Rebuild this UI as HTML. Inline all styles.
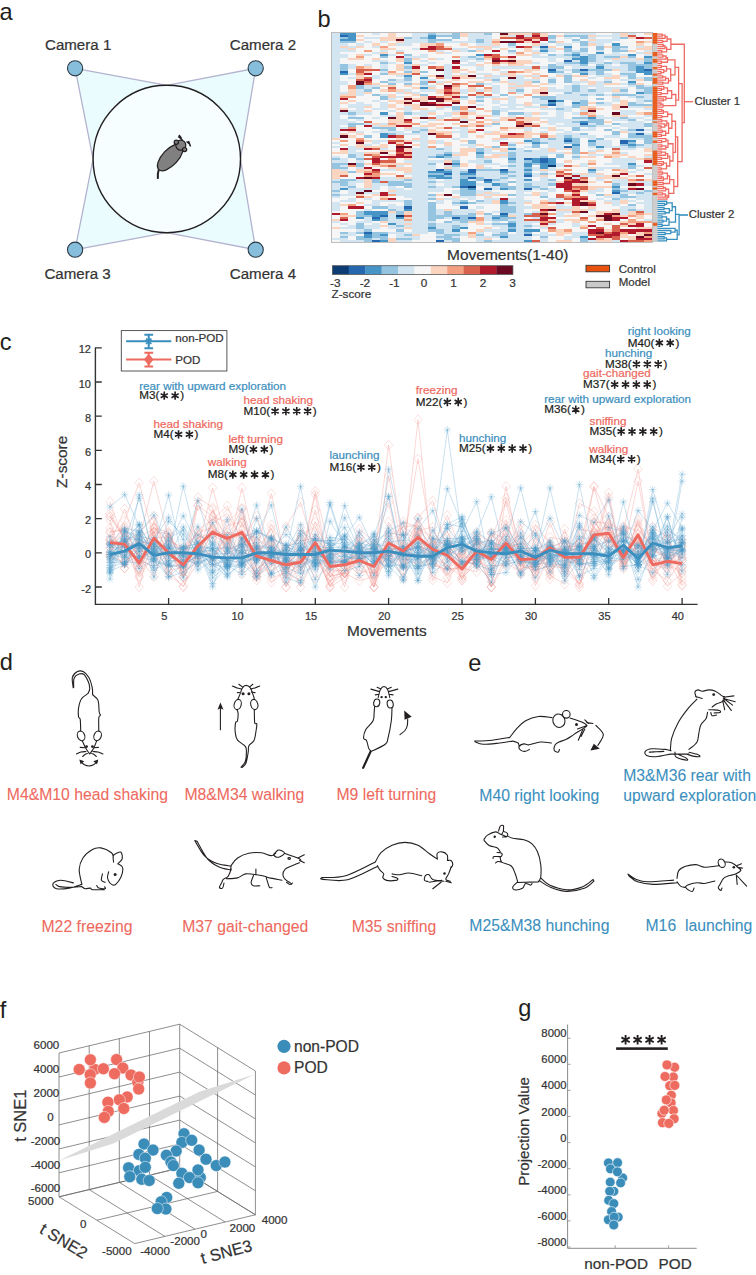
<!DOCTYPE html><html><head><meta charset="utf-8"><style>html,body{margin:0;padding:0;background:#fff;overflow:hidden;width:756px;height:1275px;}svg{display:block;}text{font-family:"Liberation Sans",sans-serif;}</style></head><body>
<svg width="756" height="1275" viewBox="0 0 756 1275">
<rect width="756" height="1275" fill="#fff"/>
<text x="-0.6" y="20.3" font-size="23.6" fill="#231f20" text-anchor="start" >a</text>
<text x="45.0" y="49.8" font-size="15.1" fill="#333" stroke="#333" stroke-width="0.22" text-anchor="start" >Camera 1</text>
<text x="229.8" y="49.8" font-size="15.1" fill="#333" stroke="#333" stroke-width="0.22" text-anchor="start" >Camera 2</text>
<text x="44.4" y="279.4" font-size="15.1" fill="#333" stroke="#333" stroke-width="0.22" text-anchor="start" >Camera 3</text>
<text x="229.8" y="279.4" font-size="15.1" fill="#333" stroke="#333" stroke-width="0.22" text-anchor="start" >Camera 4</text>
<polygon points="75.1,68.3 166.8,85.3 255.7,68.3 240.5,159.0 255.7,249.7 166.8,232.7 75.1,249.7 93.1,159.0" fill="#eafcfd" stroke="#b3b3cf" stroke-width="1.3"/>
<circle cx="166.8" cy="159.0" r="73.7" fill="#f7feff" stroke="#231f20" stroke-width="1.4"/>
<circle cx="75.1" cy="68.3" r="7.6" fill="#87bedc" stroke="#2b3a44" stroke-width="1.1"/>
<circle cx="255.7" cy="68.3" r="7.6" fill="#87bedc" stroke="#2b3a44" stroke-width="1.1"/>
<circle cx="75.1" cy="249.7" r="7.6" fill="#87bedc" stroke="#2b3a44" stroke-width="1.1"/>
<circle cx="255.7" cy="249.7" r="7.6" fill="#87bedc" stroke="#2b3a44" stroke-width="1.1"/>
<g stroke="#231f20" stroke-width="1.25" fill="#808080">
<path d="M158.8,169.5 Q157.3,174 157.9,178.8" fill="none" stroke-width="2"/>
<ellipse cx="170.3" cy="157.3" rx="16.8" ry="7.9" transform="rotate(-47 170.3 157.3)"/>
<circle cx="180.8" cy="145.2" r="5.0"/>
<circle cx="176.3" cy="142.3" r="2.1"/><circle cx="184.6" cy="149.6" r="2.1"/>
<path d="M178.2,136.5 L182.5,140 M179,135 L181.5,138.5 M186.5,141.5 L190,144.5 M188.5,141 L190.5,146.5" fill="none" stroke-width="1.5"/>
</g>
<text x="317.6" y="26.6" font-size="23.6" fill="#231f20" text-anchor="start" >b</text>
<g transform="translate(332.0,33.0) scale(8.0000,2.0900)" shape-rendering="crispEdges">
<path fill="#0d3b73" d="M27,32h1v1h-1zM27,63h1v1h-1zM17,73h1v1h-1zM8,87h1v1h-1z"/>
<path fill="#2668b0" d="M1,1h1v1h-1zM26,6h1v1h-1zM29,13h1v1h-1zM27,17h1v1h-1zM31,17h1v1h-1zM39,17h1v1h-1zM1,18h1v1h-1zM27,34h1v1h-1zM31,43h1v1h-1zM38,46h1v1h-1zM38,48h1v1h-1zM29,51h1v1h-1zM36,51h1v1h-1zM36,52h1v1h-1zM29,54h1v1h-1zM24,60h1v1h-1zM26,60h1v1h-1zM26,61h1v1h-1zM13,65h1v1h-1zM17,65h1v1h-1zM21,65h1v1h-1zM17,66h1v1h-1zM14,67h1v1h-1zM24,68h1v1h-1zM17,69h1v1h-1zM19,70h1v1h-1zM16,73h1v1h-1zM19,74h1v1h-1zM24,74h1v1h-1zM35,76h1v1h-1zM9,83h1v1h-1zM16,83h1v1h-1zM21,86h1v1h-1zM6,87h1v1h-1zM5,88h1v1h-1zM15,88h1v1h-1zM17,88h1v1h-1zM4,95h1v1h-1zM24,96h1v1h-1zM5,99h1v1h-1zM13,99h1v1h-1z"/>
<path fill="#4794c7" d="M1,0h2v1h-2zM2,1h1v1h-1zM12,1h1v1h-1zM2,2h1v1h-1zM12,2h1v1h-1zM1,3h2v1h-2zM35,5h1v1h-1zM29,6h1v1h-1zM26,8h1v1h-1zM33,9h1v1h-1zM6,10h1v1h-1zM18,10h1v1h-1zM30,10h1v1h-1zM37,10h1v1h-1zM31,11h1v1h-1zM39,11h1v1h-1zM30,12h2v1h-2zM31,13h1v1h-1zM9,14h1v1h-1zM31,14h1v1h-1zM39,14h1v1h-1zM33,16h1v1h-1zM38,16h1v1h-1zM38,17h1v1h-1zM27,18h1v1h-1zM38,18h2v1h-2zM1,19h1v1h-1zM31,19h1v1h-1zM39,19h1v1h-1zM9,20h1v1h-1zM11,21h1v1h-1zM37,23h1v1h-1zM11,26h1v1h-1zM38,28h1v1h-1zM28,32h1v1h-1zM27,33h1v1h-1zM30,33h1v1h-1zM6,38h1v1h-1zM32,40h1v1h-1zM31,42h1v1h-1zM6,48h1v1h-1zM6,49h1v1h-1zM29,50h1v1h-1zM24,51h1v1h-1zM32,51h1v1h-1zM37,51h1v1h-1zM25,52h1v1h-1zM30,53h1v1h-1zM37,53h1v1h-1zM33,54h1v1h-1zM22,55h1v1h-1zM18,57h1v1h-1zM14,58h1v1h-1zM13,59h1v1h-1zM22,60h1v1h-1zM25,60h1v1h-1zM27,60h1v1h-1zM25,61h1v1h-1zM27,61h1v1h-1zM15,62h1v1h-1zM24,62h1v1h-1zM26,62h2v1h-2zM37,62h1v1h-1zM24,63h1v1h-1zM26,63h1v1h-1zM26,64h1v1h-1zM24,65h1v1h-1zM32,65h1v1h-1zM12,66h3v1h-3zM21,66h1v1h-1zM16,67h2v1h-2zM24,67h1v1h-1zM12,68h2v1h-2zM13,69h2v1h-2zM16,70h1v1h-1zM24,70h1v1h-1zM16,71h2v1h-2zM19,71h1v1h-1zM16,72h2v1h-2zM20,72h1v1h-1zM35,73h1v1h-1zM1,74h1v1h-1zM17,74h1v1h-1zM21,74h1v1h-1zM35,75h1v1h-1zM21,80h1v1h-1zM16,81h1v1h-1zM21,81h1v1h-1zM9,84h1v1h-1zM4,85h3v1h-3zM4,86h3v1h-3zM5,87h1v1h-1zM21,87h1v1h-1zM3,88h1v1h-1zM8,88h1v1h-1zM20,88h1v1h-1zM5,89h1v1h-1zM7,91h1v1h-1zM22,91h1v1h-1zM22,92h1v1h-1zM12,93h1v1h-1zM16,93h1v1h-1zM15,94h1v1h-1zM22,94h1v1h-1zM24,94h2v1h-2zM4,96h1v1h-1zM6,96h1v1h-1zM4,97h1v1h-1zM21,97h1v1h-1zM31,97h1v1h-1zM6,99h1v1h-1zM24,99h1v1h-1z"/>
<path fill="#94c4df" d="M12,0h1v1h-1zM15,0h1v1h-1zM19,0h1v1h-1zM13,1h3v1h-3zM27,1h1v1h-1zM29,1h3v1h-3zM1,2h1v1h-1zM9,2h1v1h-1zM11,2h1v1h-1zM15,2h1v1h-1zM27,2h1v1h-1zM31,2h1v1h-1zM36,2h1v1h-1zM12,3h3v1h-3zM18,3h1v1h-1zM30,3h1v1h-1zM1,4h2v1h-2zM12,4h1v1h-1zM18,4h1v1h-1zM27,4h1v1h-1zM31,4h1v1h-1zM22,5h1v1h-1zM31,5h1v1h-1zM33,6h1v1h-1zM35,6h2v1h-2zM26,7h1v1h-1zM29,7h1v1h-1zM31,7h1v1h-1zM33,7h1v1h-1zM35,7h1v1h-1zM17,8h1v1h-1zM22,8h1v1h-1zM29,8h1v1h-1zM31,8h1v1h-1zM35,8h2v1h-2zM30,9h1v1h-1zM9,10h1v1h-1zM27,10h1v1h-1zM29,10h1v1h-1zM32,10h1v1h-1zM6,11h1v1h-1zM17,11h1v1h-1zM30,11h1v1h-1zM32,11h1v1h-1zM34,11h2v1h-2zM37,11h1v1h-1zM9,12h1v1h-1zM18,12h1v1h-1zM32,12h1v1h-1zM39,12h1v1h-1zM9,13h1v1h-1zM32,13h1v1h-1zM39,13h1v1h-1zM6,14h1v1h-1zM29,14h2v1h-2zM34,14h1v1h-1zM36,14h2v1h-2zM1,15h1v1h-1zM27,15h1v1h-1zM31,15h1v1h-1zM33,15h1v1h-1zM37,15h3v1h-3zM1,16h1v1h-1zM9,16h1v1h-1zM27,16h2v1h-2zM37,16h1v1h-1zM39,16h1v1h-1zM1,17h1v1h-1zM6,17h1v1h-1zM30,17h1v1h-1zM32,17h3v1h-3zM37,17h1v1h-1zM9,18h1v1h-1zM11,18h1v1h-1zM28,18h1v1h-1zM30,18h2v1h-2zM33,18h1v1h-1zM6,19h1v1h-1zM33,19h1v1h-1zM36,19h2v1h-2zM29,20h1v1h-1zM37,20h1v1h-1zM9,21h1v1h-1zM29,21h1v1h-1zM37,21h1v1h-1zM39,21h1v1h-1zM7,22h1v1h-1zM9,22h1v1h-1zM20,22h1v1h-1zM27,22h1v1h-1zM29,22h1v1h-1zM39,22h1v1h-1zM6,23h1v1h-1zM11,23h1v1h-1zM25,23h1v1h-1zM27,23h1v1h-1zM29,23h1v1h-1zM34,23h1v1h-1zM7,24h1v1h-1zM9,24h1v1h-1zM11,24h1v1h-1zM18,24h1v1h-1zM37,24h1v1h-1zM3,25h1v1h-1zM30,25h1v1h-1zM38,25h1v1h-1zM3,26h1v1h-1zM5,26h1v1h-1zM30,26h1v1h-1zM38,26h2v1h-2zM4,27h1v1h-1zM23,27h1v1h-1zM30,27h1v1h-1zM32,27h1v1h-1zM36,27h1v1h-1zM39,27h1v1h-1zM29,28h1v1h-1zM39,28h1v1h-1zM5,29h1v1h-1zM11,29h1v1h-1zM21,29h1v1h-1zM31,29h1v1h-1zM33,29h1v1h-1zM35,29h3v1h-3zM6,30h1v1h-1zM16,30h1v1h-1zM18,30h1v1h-1zM25,30h3v1h-3zM38,30h1v1h-1zM6,31h1v1h-1zM26,31h2v1h-2zM33,31h1v1h-1zM18,32h1v1h-1zM31,32h1v1h-1zM39,32h1v1h-1zM31,33h1v1h-1zM33,33h1v1h-1zM37,33h1v1h-1zM26,34h1v1h-1zM30,34h2v1h-2zM37,34h3v1h-3zM15,35h1v1h-1zM30,35h1v1h-1zM15,36h1v1h-1zM28,36h1v1h-1zM20,37h1v1h-1zM2,38h1v1h-1zM9,38h1v1h-1zM20,38h1v1h-1zM22,38h2v1h-2zM2,40h2v1h-2zM30,40h2v1h-2zM36,40h1v1h-1zM32,41h2v1h-2zM37,41h1v1h-1zM30,42h1v1h-1zM32,42h2v1h-2zM2,43h2v1h-2zM20,43h1v1h-1zM33,43h1v1h-1zM35,43h1v1h-1zM39,43h1v1h-1zM2,44h1v1h-1zM31,44h2v1h-2zM39,44h1v1h-1zM5,45h3v1h-3zM30,45h1v1h-1zM7,46h1v1h-1zM11,46h1v1h-1zM30,46h1v1h-1zM34,46h1v1h-1zM37,46h1v1h-1zM10,47h1v1h-1zM35,47h1v1h-1zM7,48h1v1h-1zM31,48h1v1h-1zM35,48h1v1h-1zM37,48h1v1h-1zM4,49h1v1h-1zM29,49h1v1h-1zM37,49h3v1h-3zM25,50h1v1h-1zM27,50h1v1h-1zM30,50h1v1h-1zM33,50h1v1h-1zM39,50h1v1h-1zM17,51h1v1h-1zM25,51h1v1h-1zM30,51h1v1h-1zM39,51h1v1h-1zM17,52h1v1h-1zM26,52h1v1h-1zM29,52h2v1h-2zM32,52h1v1h-1zM37,52h1v1h-1zM39,52h1v1h-1zM22,53h1v1h-1zM25,53h1v1h-1zM32,53h1v1h-1zM36,53h1v1h-1zM38,53h1v1h-1zM20,54h1v1h-1zM25,54h1v1h-1zM30,54h1v1h-1zM37,54h1v1h-1zM13,55h1v1h-1zM18,55h1v1h-1zM30,55h1v1h-1zM18,56h1v1h-1zM24,56h1v1h-1zM30,56h1v1h-1zM14,57h1v1h-1zM22,57h1v1h-1zM30,57h1v1h-1zM2,58h1v1h-1zM13,58h1v1h-1zM18,58h1v1h-1zM22,58h1v1h-1zM28,58h1v1h-1zM2,59h1v1h-1zM12,59h1v1h-1zM14,59h1v1h-1zM18,59h1v1h-1zM22,59h1v1h-1zM26,59h1v1h-1zM28,59h1v1h-1zM30,59h1v1h-1zM0,60h1v1h-1zM3,60h1v1h-1zM15,61h1v1h-1zM19,61h1v1h-1zM22,61h1v1h-1zM24,61h1v1h-1zM0,62h2v1h-2zM3,62h1v1h-1zM12,62h1v1h-1zM25,62h1v1h-1zM0,63h1v1h-1zM3,63h1v1h-1zM15,63h1v1h-1zM22,63h1v1h-1zM37,63h1v1h-1zM0,64h2v1h-2zM24,64h1v1h-1zM37,64h1v1h-1zM14,65h1v1h-1zM18,65h3v1h-3zM2,66h1v1h-1zM16,66h1v1h-1zM22,66h1v1h-1zM24,66h1v1h-1zM32,66h1v1h-1zM12,67h2v1h-2zM21,67h1v1h-1zM26,67h1v1h-1zM14,68h1v1h-1zM16,68h2v1h-2zM22,68h1v1h-1zM12,69h1v1h-1zM16,69h1v1h-1zM18,69h1v1h-1zM21,69h1v1h-1zM1,70h2v1h-2zM5,70h1v1h-1zM9,70h1v1h-1zM18,70h1v1h-1zM20,70h1v1h-1zM27,70h1v1h-1zM0,71h2v1h-2zM5,71h1v1h-1zM7,71h2v1h-2zM12,71h1v1h-1zM22,71h1v1h-1zM1,72h1v1h-1zM7,72h3v1h-3zM21,72h1v1h-1zM24,72h1v1h-1zM27,72h1v1h-1zM35,72h1v1h-1zM2,73h1v1h-1zM9,73h1v1h-1zM12,73h1v1h-1zM15,73h1v1h-1zM21,73h2v1h-2zM24,73h2v1h-2zM16,74h1v1h-1zM22,74h1v1h-1zM26,74h1v1h-1zM35,74h1v1h-1zM0,75h1v1h-1zM16,75h2v1h-2zM36,75h1v1h-1zM39,75h1v1h-1zM16,76h2v1h-2zM38,76h1v1h-1zM0,77h1v1h-1zM12,77h1v1h-1zM16,77h2v1h-2zM22,77h1v1h-1zM33,77h1v1h-1zM36,77h1v1h-1zM26,78h1v1h-1zM36,78h2v1h-2zM12,79h1v1h-1zM35,79h1v1h-1zM9,80h1v1h-1zM16,80h1v1h-1zM18,80h1v1h-1zM9,81h1v1h-1zM12,81h1v1h-1zM15,81h1v1h-1zM17,81h1v1h-1zM22,81h1v1h-1zM9,82h1v1h-1zM12,82h1v1h-1zM21,82h1v1h-1zM37,82h1v1h-1zM5,83h2v1h-2zM12,83h1v1h-1zM21,83h2v1h-2zM7,84h1v1h-1zM12,84h1v1h-1zM21,84h2v1h-2zM37,84h1v1h-1zM3,85h1v1h-1zM8,85h1v1h-1zM12,85h1v1h-1zM14,85h1v1h-1zM21,85h2v1h-2zM3,86h1v1h-1zM8,86h1v1h-1zM12,86h1v1h-1zM14,86h1v1h-1zM17,86h1v1h-1zM19,86h1v1h-1zM24,86h1v1h-1zM3,87h2v1h-2zM12,87h6v1h-6zM20,87h1v1h-1zM6,88h1v1h-1zM12,88h2v1h-2zM16,88h1v1h-1zM21,88h2v1h-2zM6,89h1v1h-1zM12,89h1v1h-1zM15,89h3v1h-3zM20,89h2v1h-2zM14,90h1v1h-1zM16,90h1v1h-1zM22,90h1v1h-1zM3,91h1v1h-1zM12,91h1v1h-1zM20,91h2v1h-2zM3,92h1v1h-1zM8,92h1v1h-1zM12,92h1v1h-1zM15,92h1v1h-1zM24,92h1v1h-1zM3,93h1v1h-1zM15,93h1v1h-1zM22,93h1v1h-1zM4,94h1v1h-1zM8,94h1v1h-1zM12,94h2v1h-2zM1,95h1v1h-1zM3,95h1v1h-1zM5,95h2v1h-2zM13,95h1v1h-1zM21,95h1v1h-1zM24,95h1v1h-1zM5,96h1v1h-1zM9,96h1v1h-1zM14,96h2v1h-2zM18,96h1v1h-1zM20,96h2v1h-2zM1,97h1v1h-1zM3,97h1v1h-1zM5,97h2v1h-2zM13,97h2v1h-2zM26,97h1v1h-1zM3,98h2v1h-2zM6,98h1v1h-1zM8,98h2v1h-2zM14,98h2v1h-2zM31,98h1v1h-1zM4,99h1v1h-1zM15,99h1v1h-1zM19,99h1v1h-1zM31,99h1v1h-1z"/>
<path fill="#d2e5f1" d="M0,0h1v1h-1zM5,0h1v1h-1zM10,0h2v1h-2zM13,0h2v1h-2zM17,0h2v1h-2zM29,0h4v1h-4zM35,0h1v1h-1zM37,0h1v1h-1zM0,1h1v1h-1zM10,1h2v1h-2zM17,1h3v1h-3zM22,1h1v1h-1zM24,1h1v1h-1zM33,1h3v1h-3zM0,2h1v1h-1zM4,2h2v1h-2zM10,2h1v1h-1zM17,2h3v1h-3zM29,2h1v1h-1zM32,2h1v1h-1zM35,2h1v1h-1zM0,3h1v1h-1zM9,3h3v1h-3zM17,3h1v1h-1zM19,3h1v1h-1zM27,3h1v1h-1zM33,3h3v1h-3zM0,4h1v1h-1zM4,4h1v1h-1zM6,4h1v1h-1zM9,4h3v1h-3zM13,4h5v1h-5zM19,4h1v1h-1zM30,4h1v1h-1zM32,4h3v1h-3zM0,5h2v1h-2zM3,5h1v1h-1zM8,5h2v1h-2zM18,5h2v1h-2zM26,5h1v1h-1zM28,5h2v1h-2zM33,5h1v1h-1zM0,6h1v1h-1zM2,6h1v1h-1zM5,6h1v1h-1zM20,6h1v1h-1zM22,6h1v1h-1zM25,6h1v1h-1zM31,6h1v1h-1zM38,6h1v1h-1zM0,7h2v1h-2zM10,7h1v1h-1zM15,7h2v1h-2zM18,7h1v1h-1zM27,7h1v1h-1zM36,7h1v1h-1zM0,8h3v1h-3zM6,8h1v1h-1zM8,8h1v1h-1zM13,8h1v1h-1zM16,8h1v1h-1zM25,8h1v1h-1zM27,8h1v1h-1zM30,8h1v1h-1zM33,8h1v1h-1zM39,8h1v1h-1zM0,9h1v1h-1zM5,9h1v1h-1zM14,9h1v1h-1zM22,9h1v1h-1zM26,9h1v1h-1zM29,9h1v1h-1zM31,9h1v1h-1zM35,9h1v1h-1zM38,9h1v1h-1zM0,10h2v1h-2zM4,10h1v1h-1zM7,10h1v1h-1zM11,10h1v1h-1zM25,10h1v1h-1zM28,10h1v1h-1zM31,10h1v1h-1zM33,10h4v1h-4zM39,10h1v1h-1zM0,11h2v1h-2zM9,11h3v1h-3zM16,11h1v1h-1zM18,11h1v1h-1zM25,11h5v1h-5zM33,11h1v1h-1zM0,12h1v1h-1zM13,12h1v1h-1zM16,12h2v1h-2zM27,12h1v1h-1zM29,12h1v1h-1zM33,12h2v1h-2zM36,12h2v1h-2zM0,13h1v1h-1zM5,13h2v1h-2zM11,13h1v1h-1zM16,13h1v1h-1zM18,13h1v1h-1zM27,13h1v1h-1zM30,13h1v1h-1zM33,13h1v1h-1zM35,13h4v1h-4zM0,14h1v1h-1zM7,14h1v1h-1zM12,14h1v1h-1zM17,14h1v1h-1zM25,14h1v1h-1zM28,14h1v1h-1zM32,14h2v1h-2zM35,14h1v1h-1zM38,14h1v1h-1zM0,15h1v1h-1zM2,15h1v1h-1zM4,15h1v1h-1zM6,15h1v1h-1zM9,15h1v1h-1zM11,15h1v1h-1zM14,15h1v1h-1zM16,15h2v1h-2zM28,15h3v1h-3zM34,15h1v1h-1zM36,15h1v1h-1zM0,16h1v1h-1zM2,16h1v1h-1zM6,16h1v1h-1zM14,16h1v1h-1zM18,16h1v1h-1zM20,16h5v1h-5zM26,16h1v1h-1zM30,16h3v1h-3zM34,16h3v1h-3zM0,17h1v1h-1zM9,17h1v1h-1zM14,17h1v1h-1zM18,17h1v1h-1zM28,17h2v1h-2zM36,17h1v1h-1zM0,18h1v1h-1zM6,18h1v1h-1zM14,18h1v1h-1zM21,18h1v1h-1zM32,18h1v1h-1zM36,18h2v1h-2zM0,19h1v1h-1zM2,19h1v1h-1zM14,19h1v1h-1zM16,19h1v1h-1zM18,19h2v1h-2zM28,19h2v1h-2zM32,19h1v1h-1zM34,19h1v1h-1zM0,20h1v1h-1zM5,20h1v1h-1zM8,20h1v1h-1zM11,20h1v1h-1zM14,20h1v1h-1zM20,20h2v1h-2zM23,20h1v1h-1zM25,20h1v1h-1zM33,20h2v1h-2zM36,20h1v1h-1zM0,21h1v1h-1zM2,21h1v1h-1zM5,21h1v1h-1zM14,21h1v1h-1zM18,21h3v1h-3zM23,21h1v1h-1zM27,21h1v1h-1zM32,21h1v1h-1zM38,21h1v1h-1zM0,22h1v1h-1zM8,22h1v1h-1zM11,22h2v1h-2zM22,22h4v1h-4zM34,22h1v1h-1zM36,22h2v1h-2zM0,23h2v1h-2zM7,23h3v1h-3zM13,23h1v1h-1zM20,23h1v1h-1zM22,23h2v1h-2zM30,23h2v1h-2zM33,23h1v1h-1zM0,24h2v1h-2zM19,24h1v1h-1zM23,24h1v1h-1zM27,24h1v1h-1zM30,24h1v1h-1zM33,24h1v1h-1zM36,24h1v1h-1zM0,25h1v1h-1zM4,25h2v1h-2zM11,25h2v1h-2zM20,25h1v1h-1zM22,25h1v1h-1zM29,25h1v1h-1zM31,25h3v1h-3zM37,25h1v1h-1zM39,25h1v1h-1zM0,26h1v1h-1zM4,26h1v1h-1zM20,26h1v1h-1zM23,26h1v1h-1zM27,26h1v1h-1zM29,26h1v1h-1zM31,26h1v1h-1zM33,26h4v1h-4zM0,27h1v1h-1zM3,27h1v1h-1zM9,27h1v1h-1zM11,27h2v1h-2zM16,27h1v1h-1zM18,27h1v1h-1zM20,27h1v1h-1zM22,27h1v1h-1zM27,27h3v1h-3zM31,27h1v1h-1zM33,27h2v1h-2zM38,27h1v1h-1zM0,28h2v1h-2zM3,28h1v1h-1zM8,28h1v1h-1zM10,28h1v1h-1zM16,28h1v1h-1zM20,28h1v1h-1zM23,28h1v1h-1zM30,28h4v1h-4zM35,28h2v1h-2zM0,29h1v1h-1zM3,29h1v1h-1zM6,29h1v1h-1zM28,29h3v1h-3zM32,29h1v1h-1zM34,29h1v1h-1zM38,29h2v1h-2zM0,30h1v1h-1zM8,30h1v1h-1zM19,30h2v1h-2zM22,30h1v1h-1zM28,30h4v1h-4zM37,30h1v1h-1zM39,30h1v1h-1zM0,31h1v1h-1zM7,31h1v1h-1zM16,31h1v1h-1zM18,31h1v1h-1zM22,31h1v1h-1zM25,31h1v1h-1zM28,31h4v1h-4zM35,31h1v1h-1zM38,31h2v1h-2zM0,32h1v1h-1zM5,32h1v1h-1zM20,32h1v1h-1zM22,32h1v1h-1zM25,32h2v1h-2zM30,32h1v1h-1zM35,32h1v1h-1zM38,32h1v1h-1zM0,33h1v1h-1zM3,33h1v1h-1zM6,33h1v1h-1zM20,33h1v1h-1zM22,33h1v1h-1zM25,33h2v1h-2zM28,33h1v1h-1zM34,33h1v1h-1zM38,33h1v1h-1zM0,34h1v1h-1zM2,34h3v1h-3zM6,34h1v1h-1zM18,34h1v1h-1zM21,34h3v1h-3zM28,34h1v1h-1zM33,34h2v1h-2zM0,35h1v1h-1zM2,35h2v1h-2zM6,35h1v1h-1zM9,35h1v1h-1zM14,35h1v1h-1zM20,35h1v1h-1zM22,35h1v1h-1zM24,35h2v1h-2zM28,35h2v1h-2zM37,35h2v1h-2zM0,36h1v1h-1zM3,36h1v1h-1zM5,36h2v1h-2zM9,36h1v1h-1zM13,36h1v1h-1zM20,36h4v1h-4zM26,36h2v1h-2zM29,36h1v1h-1zM39,36h1v1h-1zM0,37h1v1h-1zM2,37h2v1h-2zM7,37h1v1h-1zM9,37h1v1h-1zM11,37h2v1h-2zM15,37h1v1h-1zM17,37h1v1h-1zM21,37h1v1h-1zM28,37h2v1h-2zM31,37h1v1h-1zM36,37h2v1h-2zM0,38h2v1h-2zM3,38h2v1h-2zM10,38h2v1h-2zM14,38h1v1h-1zM24,38h1v1h-1zM26,38h1v1h-1zM28,38h1v1h-1zM30,38h1v1h-1zM36,38h2v1h-2zM0,39h1v1h-1zM2,39h1v1h-1zM6,39h2v1h-2zM11,39h1v1h-1zM13,39h2v1h-2zM20,39h1v1h-1zM22,39h1v1h-1zM24,39h1v1h-1zM28,39h1v1h-1zM31,39h1v1h-1zM33,39h1v1h-1zM39,39h1v1h-1zM0,40h1v1h-1zM5,40h1v1h-1zM13,40h1v1h-1zM26,40h3v1h-3zM33,40h3v1h-3zM37,40h2v1h-2zM0,41h2v1h-2zM3,41h1v1h-1zM12,41h1v1h-1zM16,41h1v1h-1zM20,41h1v1h-1zM27,41h5v1h-5zM35,41h2v1h-2zM39,41h1v1h-1zM0,42h3v1h-3zM11,42h1v1h-1zM27,42h3v1h-3zM37,42h2v1h-2zM0,43h2v1h-2zM4,43h1v1h-1zM6,43h1v1h-1zM27,43h1v1h-1zM29,43h2v1h-2zM32,43h1v1h-1zM36,43h3v1h-3zM0,44h1v1h-1zM5,44h1v1h-1zM19,44h1v1h-1zM28,44h3v1h-3zM33,44h2v1h-2zM36,44h3v1h-3zM0,45h2v1h-2zM10,45h2v1h-2zM15,45h2v1h-2zM24,45h1v1h-1zM26,45h1v1h-1zM32,45h1v1h-1zM35,45h1v1h-1zM37,45h2v1h-2zM0,46h1v1h-1zM6,46h1v1h-1zM9,46h2v1h-2zM16,46h1v1h-1zM24,46h1v1h-1zM28,46h1v1h-1zM31,46h2v1h-2zM36,46h1v1h-1zM39,46h1v1h-1zM0,47h1v1h-1zM3,47h1v1h-1zM5,47h4v1h-4zM11,47h1v1h-1zM15,47h2v1h-2zM19,47h1v1h-1zM26,47h1v1h-1zM29,47h1v1h-1zM37,47h2v1h-2zM0,48h1v1h-1zM8,48h4v1h-4zM16,48h1v1h-1zM28,48h3v1h-3zM39,48h1v1h-1zM0,49h1v1h-1zM11,49h1v1h-1zM16,49h1v1h-1zM28,49h1v1h-1zM30,49h3v1h-3zM34,49h2v1h-2zM11,50h1v1h-1zM15,50h1v1h-1zM21,50h1v1h-1zM24,50h1v1h-1zM26,50h1v1h-1zM28,50h1v1h-1zM32,50h1v1h-1zM36,50h3v1h-3zM5,51h2v1h-2zM10,51h2v1h-2zM13,51h1v1h-1zM20,51h1v1h-1zM26,51h3v1h-3zM33,51h2v1h-2zM0,52h1v1h-1zM5,52h1v1h-1zM11,52h1v1h-1zM13,52h1v1h-1zM22,52h1v1h-1zM24,52h1v1h-1zM27,52h2v1h-2zM33,52h2v1h-2zM4,53h1v1h-1zM11,53h1v1h-1zM16,53h2v1h-2zM27,53h2v1h-2zM33,53h2v1h-2zM39,53h1v1h-1zM0,54h1v1h-1zM2,54h1v1h-1zM11,54h1v1h-1zM14,54h1v1h-1zM17,54h1v1h-1zM22,54h1v1h-1zM24,54h1v1h-1zM27,54h2v1h-2zM32,54h1v1h-1zM34,54h3v1h-3zM38,54h2v1h-2zM2,55h2v1h-2zM6,55h1v1h-1zM10,55h3v1h-3zM14,55h1v1h-1zM19,55h1v1h-1zM23,55h1v1h-1zM26,55h1v1h-1zM28,55h1v1h-1zM33,55h1v1h-1zM36,55h2v1h-2zM2,56h1v1h-1zM10,56h5v1h-5zM19,56h1v1h-1zM22,56h2v1h-2zM25,56h2v1h-2zM32,56h1v1h-1zM2,57h2v1h-2zM10,57h4v1h-4zM15,57h1v1h-1zM19,57h3v1h-3zM23,57h6v1h-6zM36,57h1v1h-1zM3,58h1v1h-1zM10,58h3v1h-3zM23,58h4v1h-4zM30,58h1v1h-1zM32,58h2v1h-2zM0,59h1v1h-1zM3,59h1v1h-1zM10,59h2v1h-2zM15,59h1v1h-1zM21,59h1v1h-1zM23,59h3v1h-3zM39,59h1v1h-1zM1,60h1v1h-1zM10,60h2v1h-2zM14,60h2v1h-2zM18,60h2v1h-2zM23,60h1v1h-1zM30,60h1v1h-1zM35,60h3v1h-3zM0,61h2v1h-2zM3,61h1v1h-1zM9,61h5v1h-5zM17,61h2v1h-2zM23,61h1v1h-1zM35,61h3v1h-3zM10,62h2v1h-2zM18,62h3v1h-3zM22,62h2v1h-2zM28,62h1v1h-1zM31,62h1v1h-1zM34,62h3v1h-3zM1,63h1v1h-1zM8,63h1v1h-1zM10,63h3v1h-3zM14,63h1v1h-1zM21,63h1v1h-1zM23,63h1v1h-1zM28,63h1v1h-1zM31,63h1v1h-1zM36,63h1v1h-1zM38,63h1v1h-1zM3,64h1v1h-1zM10,64h3v1h-3zM15,64h1v1h-1zM19,64h1v1h-1zM22,64h2v1h-2zM25,64h1v1h-1zM27,64h1v1h-1zM33,64h4v1h-4zM1,65h1v1h-1zM6,65h2v1h-2zM10,65h3v1h-3zM15,65h2v1h-2zM22,65h2v1h-2zM25,65h1v1h-1zM27,65h1v1h-1zM33,65h1v1h-1zM38,65h1v1h-1zM10,66h2v1h-2zM15,66h1v1h-1zM18,66h3v1h-3zM23,66h1v1h-1zM26,66h1v1h-1zM37,66h1v1h-1zM9,67h3v1h-3zM15,67h1v1h-1zM18,67h3v1h-3zM22,67h2v1h-2zM25,67h1v1h-1zM27,67h1v1h-1zM30,67h1v1h-1zM32,67h1v1h-1zM39,67h1v1h-1zM10,68h2v1h-2zM15,68h1v1h-1zM18,68h4v1h-4zM23,68h1v1h-1zM25,68h1v1h-1zM31,68h3v1h-3zM6,69h2v1h-2zM10,69h2v1h-2zM15,69h1v1h-1zM19,69h2v1h-2zM22,69h3v1h-3zM26,69h1v1h-1zM30,69h1v1h-1zM0,70h1v1h-1zM3,70h1v1h-1zM6,70h3v1h-3zM10,70h3v1h-3zM14,70h2v1h-2zM17,70h1v1h-1zM21,70h1v1h-1zM23,70h1v1h-1zM26,70h1v1h-1zM33,70h1v1h-1zM35,70h2v1h-2zM2,71h2v1h-2zM9,71h3v1h-3zM13,71h3v1h-3zM20,71h2v1h-2zM23,71h5v1h-5zM35,71h2v1h-2zM38,71h2v1h-2zM0,72h1v1h-1zM2,72h1v1h-1zM5,72h2v1h-2zM10,72h3v1h-3zM14,72h2v1h-2zM18,72h2v1h-2zM23,72h1v1h-1zM25,72h2v1h-2zM36,72h1v1h-1zM39,72h1v1h-1zM0,73h2v1h-2zM5,73h1v1h-1zM7,73h1v1h-1zM10,73h2v1h-2zM13,73h2v1h-2zM19,73h2v1h-2zM23,73h1v1h-1zM26,73h1v1h-1zM0,74h1v1h-1zM2,74h4v1h-4zM7,74h2v1h-2zM10,74h4v1h-4zM20,74h1v1h-1zM23,74h1v1h-1zM25,74h1v1h-1zM27,74h1v1h-1zM33,74h1v1h-1zM36,74h1v1h-1zM2,75h2v1h-2zM8,75h6v1h-6zM15,75h1v1h-1zM18,75h2v1h-2zM23,75h2v1h-2zM27,75h1v1h-1zM32,75h2v1h-2zM37,75h2v1h-2zM0,76h1v1h-1zM2,76h1v1h-1zM4,76h2v1h-2zM7,76h5v1h-5zM15,76h1v1h-1zM18,76h1v1h-1zM20,76h1v1h-1zM23,76h1v1h-1zM26,76h1v1h-1zM32,76h1v1h-1zM36,76h2v1h-2zM39,76h1v1h-1zM1,77h2v1h-2zM8,77h4v1h-4zM19,77h1v1h-1zM23,77h2v1h-2zM26,77h1v1h-1zM35,77h1v1h-1zM38,77h2v1h-2zM0,78h1v1h-1zM9,78h4v1h-4zM16,78h2v1h-2zM23,78h1v1h-1zM34,78h2v1h-2zM38,78h2v1h-2zM2,79h1v1h-1zM4,79h1v1h-1zM10,79h2v1h-2zM14,79h2v1h-2zM17,79h1v1h-1zM19,79h2v1h-2zM22,79h2v1h-2zM27,79h2v1h-2zM33,79h1v1h-1zM36,79h1v1h-1zM38,79h2v1h-2zM1,80h2v1h-2zM5,80h4v1h-4zM10,80h2v1h-2zM13,80h1v1h-1zM15,80h1v1h-1zM19,80h1v1h-1zM22,80h3v1h-3zM27,80h1v1h-1zM34,80h2v1h-2zM37,80h1v1h-1zM39,80h1v1h-1zM0,81h1v1h-1zM5,81h1v1h-1zM10,81h2v1h-2zM13,81h1v1h-1zM18,81h2v1h-2zM23,81h1v1h-1zM35,81h1v1h-1zM38,81h2v1h-2zM0,82h1v1h-1zM4,82h2v1h-2zM7,82h1v1h-1zM10,82h2v1h-2zM15,82h2v1h-2zM22,82h2v1h-2zM28,82h1v1h-1zM35,82h1v1h-1zM39,82h1v1h-1zM0,83h1v1h-1zM7,83h2v1h-2zM10,83h2v1h-2zM18,83h1v1h-1zM23,83h2v1h-2zM28,83h2v1h-2zM36,83h2v1h-2zM39,83h1v1h-1zM0,84h1v1h-1zM4,84h1v1h-1zM8,84h1v1h-1zM10,84h2v1h-2zM13,84h1v1h-1zM15,84h3v1h-3zM23,84h1v1h-1zM32,84h1v1h-1zM36,84h1v1h-1zM38,84h2v1h-2zM10,85h2v1h-2zM13,85h1v1h-1zM15,85h3v1h-3zM20,85h1v1h-1zM23,85h1v1h-1zM25,85h1v1h-1zM28,85h2v1h-2zM36,85h1v1h-1zM39,85h1v1h-1zM7,86h1v1h-1zM10,86h2v1h-2zM13,86h1v1h-1zM15,86h2v1h-2zM22,86h2v1h-2zM28,86h1v1h-1zM36,86h1v1h-1zM7,87h1v1h-1zM10,87h2v1h-2zM19,87h1v1h-1zM23,87h1v1h-1zM28,87h1v1h-1zM4,88h1v1h-1zM7,88h1v1h-1zM10,88h2v1h-2zM14,88h1v1h-1zM19,88h1v1h-1zM23,88h1v1h-1zM25,88h1v1h-1zM4,89h1v1h-1zM7,89h2v1h-2zM10,89h2v1h-2zM19,89h1v1h-1zM22,89h2v1h-2zM28,89h1v1h-1zM39,89h1v1h-1zM0,90h1v1h-1zM3,90h2v1h-2zM7,90h6v1h-6zM15,90h1v1h-1zM20,90h1v1h-1zM23,90h3v1h-3zM28,90h1v1h-1zM1,91h1v1h-1zM5,91h1v1h-1zM8,91h1v1h-1zM10,91h2v1h-2zM13,91h4v1h-4zM19,91h1v1h-1zM23,91h2v1h-2zM27,91h1v1h-1zM30,91h1v1h-1zM2,92h1v1h-1zM4,92h2v1h-2zM7,92h1v1h-1zM9,92h3v1h-3zM13,92h2v1h-2zM16,92h1v1h-1zM20,92h2v1h-2zM23,92h1v1h-1zM25,92h1v1h-1zM30,92h1v1h-1zM1,93h2v1h-2zM4,93h2v1h-2zM7,93h2v1h-2zM10,93h2v1h-2zM13,93h2v1h-2zM21,93h1v1h-1zM23,93h2v1h-2zM26,93h1v1h-1zM3,94h1v1h-1zM10,94h2v1h-2zM14,94h1v1h-1zM19,94h3v1h-3zM23,94h1v1h-1zM2,95h1v1h-1zM7,95h5v1h-5zM14,95h3v1h-3zM18,95h1v1h-1zM20,95h1v1h-1zM23,95h1v1h-1zM26,95h1v1h-1zM30,95h2v1h-2zM1,96h2v1h-2zM8,96h1v1h-1zM13,96h1v1h-1zM16,96h1v1h-1zM22,96h2v1h-2zM25,96h3v1h-3zM30,96h2v1h-2zM8,97h3v1h-3zM15,97h1v1h-1zM18,97h3v1h-3zM22,97h3v1h-3zM29,97h2v1h-2zM0,98h2v1h-2zM5,98h1v1h-1zM10,98h1v1h-1zM13,98h1v1h-1zM18,98h1v1h-1zM21,98h4v1h-4zM26,98h1v1h-1zM29,98h1v1h-1zM1,99h3v1h-3zM8,99h2v1h-2zM14,99h1v1h-1zM18,99h1v1h-1zM20,99h4v1h-4zM26,99h1v1h-1zM32,99h1v1h-1zM35,99h1v1h-1z"/>
<path fill="#f6f6f6" d="M3,0h2v1h-2zM6,0h1v1h-1zM8,0h2v1h-2zM20,0h1v1h-1zM27,0h2v1h-2zM33,0h2v1h-2zM38,0h1v1h-1zM4,1h3v1h-3zM8,1h2v1h-2zM20,1h1v1h-1zM38,1h2v1h-2zM3,2h1v1h-1zM13,2h2v1h-2zM16,2h1v1h-1zM20,2h1v1h-1zM28,2h1v1h-1zM30,2h1v1h-1zM33,2h2v1h-2zM4,3h2v1h-2zM15,3h2v1h-2zM21,3h2v1h-2zM28,3h2v1h-2zM31,3h1v1h-1zM36,3h4v1h-4zM3,4h1v1h-1zM5,4h1v1h-1zM7,4h1v1h-1zM26,4h1v1h-1zM29,4h1v1h-1zM35,4h3v1h-3zM2,5h1v1h-1zM4,5h1v1h-1zM6,5h1v1h-1zM10,5h1v1h-1zM14,5h2v1h-2zM17,5h1v1h-1zM21,5h1v1h-1zM23,5h2v1h-2zM27,5h1v1h-1zM30,5h1v1h-1zM34,5h1v1h-1zM36,5h2v1h-2zM39,5h1v1h-1zM4,6h1v1h-1zM7,6h4v1h-4zM15,6h2v1h-2zM21,6h1v1h-1zM28,6h1v1h-1zM30,6h1v1h-1zM32,6h1v1h-1zM37,6h1v1h-1zM3,7h3v1h-3zM8,7h2v1h-2zM17,7h1v1h-1zM20,7h1v1h-1zM22,7h2v1h-2zM25,7h1v1h-1zM30,7h1v1h-1zM32,7h1v1h-1zM34,7h1v1h-1zM37,7h1v1h-1zM3,8h1v1h-1zM5,8h1v1h-1zM7,8h1v1h-1zM9,8h3v1h-3zM14,8h1v1h-1zM19,8h1v1h-1zM21,8h1v1h-1zM23,8h1v1h-1zM28,8h1v1h-1zM32,8h1v1h-1zM34,8h1v1h-1zM38,8h1v1h-1zM1,9h4v1h-4zM7,9h1v1h-1zM9,9h4v1h-4zM15,9h7v1h-7zM24,9h1v1h-1zM27,9h2v1h-2zM32,9h1v1h-1zM34,9h1v1h-1zM36,9h2v1h-2zM2,10h1v1h-1zM5,10h1v1h-1zM8,10h1v1h-1zM10,10h1v1h-1zM12,10h6v1h-6zM21,10h2v1h-2zM26,10h1v1h-1zM38,10h1v1h-1zM2,11h1v1h-1zM4,11h2v1h-2zM7,11h1v1h-1zM12,11h3v1h-3zM23,11h2v1h-2zM38,11h1v1h-1zM1,12h1v1h-1zM4,12h1v1h-1zM6,12h2v1h-2zM11,12h1v1h-1zM14,12h2v1h-2zM21,12h1v1h-1zM23,12h4v1h-4zM28,12h1v1h-1zM1,13h4v1h-4zM7,13h1v1h-1zM10,13h1v1h-1zM12,13h3v1h-3zM17,13h1v1h-1zM19,13h1v1h-1zM25,13h2v1h-2zM28,13h1v1h-1zM34,13h1v1h-1zM1,14h5v1h-5zM8,14h1v1h-1zM10,14h2v1h-2zM13,14h2v1h-2zM16,14h1v1h-1zM18,14h1v1h-1zM26,14h2v1h-2zM3,15h1v1h-1zM5,15h1v1h-1zM7,15h1v1h-1zM12,15h2v1h-2zM15,15h1v1h-1zM19,15h1v1h-1zM21,15h1v1h-1zM24,15h3v1h-3zM32,15h1v1h-1zM35,15h1v1h-1zM5,16h1v1h-1zM7,16h1v1h-1zM11,16h1v1h-1zM16,16h2v1h-2zM19,16h1v1h-1zM29,16h1v1h-1zM2,17h1v1h-1zM7,17h1v1h-1zM11,17h2v1h-2zM17,17h1v1h-1zM19,17h1v1h-1zM21,17h3v1h-3zM26,17h1v1h-1zM2,18h1v1h-1zM5,18h1v1h-1zM8,18h1v1h-1zM12,18h2v1h-2zM16,18h1v1h-1zM18,18h3v1h-3zM25,18h2v1h-2zM29,18h1v1h-1zM34,18h2v1h-2zM5,19h1v1h-1zM11,19h3v1h-3zM15,19h1v1h-1zM17,19h1v1h-1zM20,19h1v1h-1zM23,19h2v1h-2zM26,19h2v1h-2zM30,19h1v1h-1zM35,19h1v1h-1zM38,19h1v1h-1zM1,20h2v1h-2zM4,20h1v1h-1zM6,20h2v1h-2zM10,20h1v1h-1zM18,20h1v1h-1zM27,20h1v1h-1zM32,20h1v1h-1zM38,20h2v1h-2zM1,21h1v1h-1zM6,21h3v1h-3zM10,21h1v1h-1zM12,21h1v1h-1zM21,21h1v1h-1zM24,21h1v1h-1zM26,21h1v1h-1zM28,21h1v1h-1zM30,21h2v1h-2zM33,21h1v1h-1zM36,21h1v1h-1zM1,22h2v1h-2zM5,22h2v1h-2zM10,22h1v1h-1zM13,22h2v1h-2zM16,22h3v1h-3zM21,22h1v1h-1zM26,22h1v1h-1zM28,22h1v1h-1zM30,22h1v1h-1zM32,22h2v1h-2zM35,22h1v1h-1zM2,23h1v1h-1zM5,23h1v1h-1zM10,23h1v1h-1zM15,23h2v1h-2zM19,23h1v1h-1zM26,23h1v1h-1zM28,23h1v1h-1zM35,23h2v1h-2zM38,23h2v1h-2zM2,24h1v1h-1zM6,24h1v1h-1zM8,24h1v1h-1zM12,24h1v1h-1zM14,24h1v1h-1zM17,24h1v1h-1zM20,24h2v1h-2zM25,24h1v1h-1zM28,24h2v1h-2zM31,24h1v1h-1zM39,24h1v1h-1zM1,25h1v1h-1zM8,25h1v1h-1zM10,25h1v1h-1zM13,25h1v1h-1zM16,25h1v1h-1zM19,25h1v1h-1zM21,25h1v1h-1zM26,25h3v1h-3zM34,25h3v1h-3zM1,26h1v1h-1zM6,26h1v1h-1zM8,26h2v1h-2zM13,26h1v1h-1zM16,26h1v1h-1zM18,26h1v1h-1zM21,26h1v1h-1zM24,26h2v1h-2zM28,26h1v1h-1zM32,26h1v1h-1zM37,26h1v1h-1zM1,27h1v1h-1zM5,27h1v1h-1zM10,27h1v1h-1zM21,27h1v1h-1zM24,27h1v1h-1zM37,27h1v1h-1zM5,28h3v1h-3zM11,28h2v1h-2zM17,28h1v1h-1zM19,28h1v1h-1zM21,28h1v1h-1zM24,28h1v1h-1zM27,28h2v1h-2zM34,28h1v1h-1zM37,28h1v1h-1zM4,29h1v1h-1zM8,29h2v1h-2zM12,29h2v1h-2zM16,29h1v1h-1zM20,29h1v1h-1zM22,29h2v1h-2zM25,29h1v1h-1zM27,29h1v1h-1zM3,30h3v1h-3zM10,30h1v1h-1zM17,30h1v1h-1zM21,30h1v1h-1zM24,30h1v1h-1zM32,30h3v1h-3zM36,30h1v1h-1zM2,31h4v1h-4zM8,31h1v1h-1zM17,31h1v1h-1zM19,31h1v1h-1zM23,31h2v1h-2zM32,31h1v1h-1zM34,31h1v1h-1zM36,31h2v1h-2zM1,32h1v1h-1zM3,32h2v1h-2zM6,32h1v1h-1zM12,32h1v1h-1zM16,32h1v1h-1zM19,32h1v1h-1zM21,32h1v1h-1zM23,32h2v1h-2zM29,32h1v1h-1zM32,32h3v1h-3zM37,32h1v1h-1zM2,33h1v1h-1zM4,33h2v1h-2zM7,33h1v1h-1zM10,33h1v1h-1zM14,33h1v1h-1zM16,33h1v1h-1zM18,33h2v1h-2zM21,33h1v1h-1zM23,33h1v1h-1zM29,33h1v1h-1zM35,33h1v1h-1zM39,33h1v1h-1zM1,34h1v1h-1zM5,34h1v1h-1zM8,34h1v1h-1zM15,34h3v1h-3zM19,34h2v1h-2zM25,34h1v1h-1zM29,34h1v1h-1zM32,34h1v1h-1zM1,35h1v1h-1zM5,35h1v1h-1zM8,35h1v1h-1zM11,35h2v1h-2zM18,35h2v1h-2zM21,35h1v1h-1zM23,35h1v1h-1zM27,35h1v1h-1zM33,35h2v1h-2zM2,36h1v1h-1zM4,36h1v1h-1zM7,36h1v1h-1zM12,36h1v1h-1zM14,36h1v1h-1zM17,36h1v1h-1zM19,36h1v1h-1zM24,36h2v1h-2zM30,36h1v1h-1zM34,36h1v1h-1zM36,36h3v1h-3zM5,37h2v1h-2zM8,37h1v1h-1zM10,37h1v1h-1zM13,37h2v1h-2zM18,37h1v1h-1zM22,37h6v1h-6zM30,37h1v1h-1zM33,37h3v1h-3zM38,37h2v1h-2zM5,38h1v1h-1zM7,38h1v1h-1zM13,38h1v1h-1zM18,38h2v1h-2zM21,38h1v1h-1zM27,38h1v1h-1zM29,38h1v1h-1zM33,38h2v1h-2zM1,39h1v1h-1zM3,39h3v1h-3zM9,39h2v1h-2zM12,39h1v1h-1zM15,39h1v1h-1zM17,39h1v1h-1zM21,39h1v1h-1zM23,39h1v1h-1zM25,39h3v1h-3zM29,39h2v1h-2zM34,39h1v1h-1zM37,39h2v1h-2zM1,40h1v1h-1zM4,40h1v1h-1zM6,40h1v1h-1zM9,40h1v1h-1zM14,40h1v1h-1zM17,40h1v1h-1zM19,40h2v1h-2zM29,40h1v1h-1zM39,40h1v1h-1zM2,41h1v1h-1zM4,41h3v1h-3zM10,41h2v1h-2zM18,41h1v1h-1zM26,41h1v1h-1zM34,41h1v1h-1zM38,41h1v1h-1zM3,42h1v1h-1zM5,42h2v1h-2zM10,42h1v1h-1zM12,42h4v1h-4zM17,42h1v1h-1zM19,42h1v1h-1zM21,42h2v1h-2zM25,42h1v1h-1zM35,42h2v1h-2zM39,42h1v1h-1zM11,43h1v1h-1zM14,43h1v1h-1zM16,43h1v1h-1zM21,43h2v1h-2zM26,43h1v1h-1zM28,43h1v1h-1zM34,43h1v1h-1zM1,44h1v1h-1zM3,44h1v1h-1zM10,44h1v1h-1zM13,44h3v1h-3zM20,44h3v1h-3zM26,44h2v1h-2zM35,44h1v1h-1zM3,45h2v1h-2zM8,45h1v1h-1zM12,45h1v1h-1zM17,45h4v1h-4zM25,45h1v1h-1zM28,45h2v1h-2zM31,45h1v1h-1zM33,45h2v1h-2zM36,45h1v1h-1zM39,45h1v1h-1zM3,46h3v1h-3zM8,46h1v1h-1zM13,46h3v1h-3zM19,46h2v1h-2zM22,46h2v1h-2zM25,46h2v1h-2zM29,46h1v1h-1zM33,46h1v1h-1zM35,46h1v1h-1zM1,47h1v1h-1zM4,47h1v1h-1zM9,47h1v1h-1zM18,47h1v1h-1zM21,47h3v1h-3zM25,47h1v1h-1zM27,47h2v1h-2zM30,47h5v1h-5zM39,47h1v1h-1zM2,48h1v1h-1zM4,48h2v1h-2zM15,48h1v1h-1zM17,48h2v1h-2zM27,48h1v1h-1zM32,48h3v1h-3zM36,48h1v1h-1zM3,49h1v1h-1zM5,49h1v1h-1zM9,49h2v1h-2zM12,49h1v1h-1zM15,49h1v1h-1zM17,49h1v1h-1zM19,49h2v1h-2zM25,49h1v1h-1zM33,49h1v1h-1zM36,49h1v1h-1zM1,50h2v1h-2zM4,50h4v1h-4zM9,50h1v1h-1zM12,50h3v1h-3zM16,50h4v1h-4zM22,50h2v1h-2zM31,50h1v1h-1zM34,50h2v1h-2zM0,51h1v1h-1zM2,51h1v1h-1zM14,51h2v1h-2zM18,51h2v1h-2zM21,51h3v1h-3zM31,51h1v1h-1zM35,51h1v1h-1zM38,51h1v1h-1zM1,52h2v1h-2zM4,52h1v1h-1zM6,52h1v1h-1zM10,52h1v1h-1zM15,52h2v1h-2zM18,52h3v1h-3zM31,52h1v1h-1zM35,52h1v1h-1zM38,52h1v1h-1zM0,53h1v1h-1zM2,53h1v1h-1zM5,53h1v1h-1zM7,53h1v1h-1zM9,53h1v1h-1zM12,53h2v1h-2zM15,53h1v1h-1zM19,53h2v1h-2zM23,53h2v1h-2zM26,53h1v1h-1zM29,53h1v1h-1zM31,53h1v1h-1zM35,53h1v1h-1zM1,54h1v1h-1zM7,54h1v1h-1zM10,54h1v1h-1zM13,54h1v1h-1zM15,54h2v1h-2zM18,54h1v1h-1zM21,54h1v1h-1zM23,54h1v1h-1zM26,54h1v1h-1zM31,54h1v1h-1zM0,55h1v1h-1zM7,55h1v1h-1zM15,55h1v1h-1zM24,55h2v1h-2zM31,55h2v1h-2zM34,55h1v1h-1zM38,55h1v1h-1zM0,56h1v1h-1zM3,56h3v1h-3zM15,56h1v1h-1zM20,56h1v1h-1zM28,56h2v1h-2zM31,56h1v1h-1zM34,56h1v1h-1zM36,56h3v1h-3zM7,57h1v1h-1zM17,57h1v1h-1zM33,57h2v1h-2zM37,57h3v1h-3zM0,58h2v1h-2zM6,58h1v1h-1zM17,58h1v1h-1zM19,58h1v1h-1zM27,58h1v1h-1zM29,58h1v1h-1zM31,58h1v1h-1zM37,58h2v1h-2zM1,59h1v1h-1zM4,59h1v1h-1zM16,59h2v1h-2zM27,59h1v1h-1zM29,59h1v1h-1zM33,59h1v1h-1zM36,59h1v1h-1zM38,59h1v1h-1zM2,60h1v1h-1zM6,60h1v1h-1zM8,60h1v1h-1zM12,60h2v1h-2zM16,60h2v1h-2zM20,60h2v1h-2zM28,60h2v1h-2zM31,60h4v1h-4zM2,61h1v1h-1zM4,61h1v1h-1zM8,61h1v1h-1zM16,61h1v1h-1zM20,61h2v1h-2zM28,61h1v1h-1zM30,61h2v1h-2zM33,61h2v1h-2zM38,61h1v1h-1zM13,62h1v1h-1zM17,62h1v1h-1zM21,62h1v1h-1zM29,62h2v1h-2zM33,62h1v1h-1zM38,62h2v1h-2zM4,63h1v1h-1zM9,63h1v1h-1zM13,63h1v1h-1zM17,63h1v1h-1zM19,63h2v1h-2zM25,63h1v1h-1zM32,63h4v1h-4zM39,63h1v1h-1zM2,64h1v1h-1zM5,64h2v1h-2zM13,64h1v1h-1zM16,64h2v1h-2zM20,64h2v1h-2zM28,64h4v1h-4zM38,64h1v1h-1zM2,65h1v1h-1zM30,65h2v1h-2zM34,65h1v1h-1zM37,65h1v1h-1zM39,65h1v1h-1zM6,66h3v1h-3zM25,66h1v1h-1zM27,66h1v1h-1zM29,66h3v1h-3zM33,66h3v1h-3zM38,66h2v1h-2zM2,67h2v1h-2zM8,67h1v1h-1zM34,67h1v1h-1zM37,67h2v1h-2zM2,68h2v1h-2zM6,68h2v1h-2zM9,68h1v1h-1zM27,68h1v1h-1zM36,68h1v1h-1zM39,68h1v1h-1zM1,69h2v1h-2zM25,69h1v1h-1zM27,69h2v1h-2zM32,69h1v1h-1zM37,69h3v1h-3zM13,70h1v1h-1zM22,70h1v1h-1zM25,70h1v1h-1zM28,70h1v1h-1zM32,70h1v1h-1zM34,70h1v1h-1zM18,71h1v1h-1zM33,71h1v1h-1zM3,72h1v1h-1zM13,72h1v1h-1zM22,72h1v1h-1zM32,72h3v1h-3zM3,73h1v1h-1zM6,73h1v1h-1zM8,73h1v1h-1zM18,73h1v1h-1zM27,73h1v1h-1zM36,73h1v1h-1zM38,73h2v1h-2zM6,74h1v1h-1zM9,74h1v1h-1zM14,74h2v1h-2zM18,74h1v1h-1zM28,74h1v1h-1zM34,74h1v1h-1zM39,74h1v1h-1zM1,75h1v1h-1zM5,75h2v1h-2zM14,75h1v1h-1zM20,75h3v1h-3zM25,75h2v1h-2zM28,75h1v1h-1zM34,75h1v1h-1zM1,76h1v1h-1zM12,76h3v1h-3zM21,76h2v1h-2zM24,76h1v1h-1zM27,76h3v1h-3zM31,76h1v1h-1zM33,76h2v1h-2zM4,77h1v1h-1zM15,77h1v1h-1zM27,77h1v1h-1zM31,77h2v1h-2zM37,77h1v1h-1zM1,78h2v1h-2zM5,78h1v1h-1zM7,78h2v1h-2zM13,78h2v1h-2zM18,78h1v1h-1zM20,78h3v1h-3zM24,78h2v1h-2zM27,78h1v1h-1zM32,78h2v1h-2zM0,79h2v1h-2zM3,79h1v1h-1zM5,79h1v1h-1zM8,79h2v1h-2zM16,79h1v1h-1zM18,79h1v1h-1zM24,79h3v1h-3zM32,79h1v1h-1zM34,79h1v1h-1zM37,79h1v1h-1zM0,80h1v1h-1zM3,80h2v1h-2zM12,80h1v1h-1zM14,80h1v1h-1zM17,80h1v1h-1zM25,80h1v1h-1zM28,80h2v1h-2zM33,80h1v1h-1zM38,80h1v1h-1zM1,81h2v1h-2zM4,81h1v1h-1zM6,81h3v1h-3zM14,81h1v1h-1zM25,81h1v1h-1zM33,81h1v1h-1zM37,81h1v1h-1zM3,82h1v1h-1zM6,82h1v1h-1zM8,82h1v1h-1zM13,82h2v1h-2zM17,82h4v1h-4zM24,82h1v1h-1zM27,82h1v1h-1zM29,82h1v1h-1zM33,82h2v1h-2zM36,82h1v1h-1zM38,82h1v1h-1zM1,83h1v1h-1zM4,83h1v1h-1zM13,83h3v1h-3zM17,83h1v1h-1zM19,83h2v1h-2zM31,83h1v1h-1zM33,83h3v1h-3zM38,83h1v1h-1zM1,84h3v1h-3zM5,84h2v1h-2zM18,84h3v1h-3zM24,84h2v1h-2zM33,84h2v1h-2zM0,85h3v1h-3zM19,85h1v1h-1zM24,85h1v1h-1zM27,85h1v1h-1zM32,85h1v1h-1zM2,86h1v1h-1zM20,86h1v1h-1zM29,86h1v1h-1zM31,86h2v1h-2zM0,87h1v1h-1zM18,87h1v1h-1zM27,87h1v1h-1zM31,87h1v1h-1zM39,87h1v1h-1zM0,88h1v1h-1zM2,88h1v1h-1zM24,88h1v1h-1zM28,88h3v1h-3zM32,88h1v1h-1zM37,88h1v1h-1zM39,88h1v1h-1zM2,89h2v1h-2zM13,89h2v1h-2zM32,89h1v1h-1zM36,89h1v1h-1zM38,89h1v1h-1zM1,90h2v1h-2zM5,90h1v1h-1zM13,90h1v1h-1zM19,90h1v1h-1zM21,90h1v1h-1zM29,90h1v1h-1zM31,90h1v1h-1zM33,90h3v1h-3zM0,91h1v1h-1zM2,91h1v1h-1zM4,91h1v1h-1zM6,91h1v1h-1zM17,91h1v1h-1zM25,91h1v1h-1zM28,91h2v1h-2zM31,91h3v1h-3zM35,91h1v1h-1zM39,91h1v1h-1zM0,92h2v1h-2zM17,92h3v1h-3zM27,92h3v1h-3zM33,92h2v1h-2zM39,92h1v1h-1zM6,93h1v1h-1zM17,93h2v1h-2zM20,93h1v1h-1zM25,93h1v1h-1zM28,93h3v1h-3zM32,93h1v1h-1zM34,93h1v1h-1zM36,93h2v1h-2zM0,94h3v1h-3zM5,94h3v1h-3zM9,94h1v1h-1zM16,94h2v1h-2zM26,94h1v1h-1zM30,94h2v1h-2zM0,95h1v1h-1zM12,95h1v1h-1zM19,95h1v1h-1zM22,95h1v1h-1zM25,95h1v1h-1zM27,95h1v1h-1zM0,96h1v1h-1zM3,96h1v1h-1zM7,96h1v1h-1zM11,96h2v1h-2zM19,96h1v1h-1zM29,96h1v1h-1zM37,96h1v1h-1zM0,97h1v1h-1zM2,97h1v1h-1zM7,97h1v1h-1zM11,97h2v1h-2zM16,97h1v1h-1zM25,97h1v1h-1zM27,97h2v1h-2zM32,97h1v1h-1zM2,98h1v1h-1zM11,98h2v1h-2zM16,98h2v1h-2zM20,98h1v1h-1zM25,98h1v1h-1zM27,98h2v1h-2zM30,98h1v1h-1zM36,98h1v1h-1zM0,99h1v1h-1zM10,99h3v1h-3zM16,99h2v1h-2zM27,99h1v1h-1zM30,99h1v1h-1z"/>
<path fill="#fbd4c0" d="M7,0h1v1h-1zM16,0h1v1h-1zM22,0h3v1h-3zM26,0h1v1h-1zM36,0h1v1h-1zM39,0h1v1h-1zM3,1h1v1h-1zM7,1h1v1h-1zM16,1h1v1h-1zM21,1h1v1h-1zM26,1h1v1h-1zM28,1h1v1h-1zM32,1h1v1h-1zM36,1h1v1h-1zM6,2h3v1h-3zM37,2h1v1h-1zM3,3h1v1h-1zM6,3h2v1h-2zM20,3h1v1h-1zM25,3h1v1h-1zM32,3h1v1h-1zM8,4h1v1h-1zM24,4h1v1h-1zM28,4h1v1h-1zM39,4h1v1h-1zM5,5h1v1h-1zM7,5h1v1h-1zM11,5h2v1h-2zM16,5h1v1h-1zM20,5h1v1h-1zM25,5h1v1h-1zM32,5h1v1h-1zM38,5h1v1h-1zM1,6h1v1h-1zM3,6h1v1h-1zM11,6h1v1h-1zM14,6h1v1h-1zM17,6h3v1h-3zM27,6h1v1h-1zM34,6h1v1h-1zM39,6h1v1h-1zM2,7h1v1h-1zM6,7h2v1h-2zM19,7h1v1h-1zM21,7h1v1h-1zM24,7h1v1h-1zM28,7h1v1h-1zM38,7h2v1h-2zM15,8h1v1h-1zM18,8h1v1h-1zM24,8h1v1h-1zM37,8h1v1h-1zM6,9h1v1h-1zM13,9h1v1h-1zM25,9h1v1h-1zM39,9h1v1h-1zM3,10h1v1h-1zM23,10h2v1h-2zM36,11h1v1h-1zM2,12h2v1h-2zM5,12h1v1h-1zM8,12h1v1h-1zM10,12h1v1h-1zM12,12h1v1h-1zM19,12h1v1h-1zM22,12h1v1h-1zM35,12h1v1h-1zM38,12h1v1h-1zM8,13h1v1h-1zM23,13h2v1h-2zM19,14h1v1h-1zM21,14h1v1h-1zM23,14h2v1h-2zM8,15h1v1h-1zM10,15h1v1h-1zM18,15h1v1h-1zM20,15h1v1h-1zM22,15h2v1h-2zM4,16h1v1h-1zM8,16h1v1h-1zM8,17h1v1h-1zM10,17h1v1h-1zM15,17h2v1h-2zM20,17h1v1h-1zM24,17h2v1h-2zM35,17h1v1h-1zM4,18h1v1h-1zM10,18h1v1h-1zM15,18h1v1h-1zM17,18h1v1h-1zM24,18h1v1h-1zM7,19h3v1h-3zM21,19h2v1h-2zM25,19h1v1h-1zM3,20h1v1h-1zM12,20h1v1h-1zM15,20h2v1h-2zM19,20h1v1h-1zM22,20h1v1h-1zM24,20h1v1h-1zM28,20h1v1h-1zM30,20h2v1h-2zM35,20h1v1h-1zM3,21h1v1h-1zM16,21h2v1h-2zM25,21h1v1h-1zM34,21h2v1h-2zM15,22h1v1h-1zM19,22h1v1h-1zM31,22h1v1h-1zM38,22h1v1h-1zM14,23h1v1h-1zM17,23h2v1h-2zM21,23h1v1h-1zM24,23h1v1h-1zM32,23h1v1h-1zM5,24h1v1h-1zM10,24h1v1h-1zM13,24h1v1h-1zM22,24h1v1h-1zM24,24h1v1h-1zM26,24h1v1h-1zM32,24h1v1h-1zM34,24h2v1h-2zM38,24h1v1h-1zM6,25h2v1h-2zM9,25h1v1h-1zM23,25h3v1h-3zM10,26h1v1h-1zM12,26h1v1h-1zM15,26h1v1h-1zM17,26h1v1h-1zM22,26h1v1h-1zM26,26h1v1h-1zM2,27h1v1h-1zM6,27h1v1h-1zM8,27h1v1h-1zM13,27h1v1h-1zM15,27h1v1h-1zM17,27h1v1h-1zM19,27h1v1h-1zM25,27h2v1h-2zM35,27h1v1h-1zM2,28h1v1h-1zM4,28h1v1h-1zM9,28h1v1h-1zM13,28h1v1h-1zM25,28h1v1h-1zM1,29h2v1h-2zM7,29h1v1h-1zM10,29h1v1h-1zM15,29h1v1h-1zM18,29h1v1h-1zM26,29h1v1h-1zM7,30h1v1h-1zM9,30h1v1h-1zM11,30h1v1h-1zM14,30h1v1h-1zM23,30h1v1h-1zM35,30h1v1h-1zM10,31h2v1h-2zM15,31h1v1h-1zM20,31h2v1h-2zM2,32h1v1h-1zM7,32h3v1h-3zM11,32h1v1h-1zM14,32h1v1h-1zM17,32h1v1h-1zM36,32h1v1h-1zM1,33h1v1h-1zM8,33h1v1h-1zM13,33h1v1h-1zM17,33h1v1h-1zM24,33h1v1h-1zM32,33h1v1h-1zM36,33h1v1h-1zM7,34h1v1h-1zM9,34h2v1h-2zM24,34h1v1h-1zM35,34h2v1h-2zM4,35h1v1h-1zM7,35h1v1h-1zM10,35h1v1h-1zM13,35h1v1h-1zM26,35h1v1h-1zM31,35h2v1h-2zM35,35h1v1h-1zM39,35h1v1h-1zM1,36h1v1h-1zM8,36h1v1h-1zM10,36h2v1h-2zM31,36h1v1h-1zM33,36h1v1h-1zM35,36h1v1h-1zM4,37h1v1h-1zM16,37h1v1h-1zM19,37h1v1h-1zM8,38h1v1h-1zM12,38h1v1h-1zM15,38h1v1h-1zM17,38h1v1h-1zM25,38h1v1h-1zM32,38h1v1h-1zM38,38h1v1h-1zM8,39h1v1h-1zM16,39h1v1h-1zM18,39h2v1h-2zM35,39h2v1h-2zM8,40h1v1h-1zM10,40h1v1h-1zM15,40h2v1h-2zM21,40h2v1h-2zM24,40h2v1h-2zM7,41h2v1h-2zM13,41h1v1h-1zM17,41h1v1h-1zM19,41h1v1h-1zM21,41h1v1h-1zM23,41h3v1h-3zM7,42h2v1h-2zM20,42h1v1h-1zM24,42h1v1h-1zM26,42h1v1h-1zM34,42h1v1h-1zM5,43h1v1h-1zM8,43h2v1h-2zM12,43h2v1h-2zM15,43h1v1h-1zM17,43h3v1h-3zM25,43h1v1h-1zM6,44h2v1h-2zM11,44h2v1h-2zM17,44h1v1h-1zM9,45h1v1h-1zM13,45h1v1h-1zM22,45h2v1h-2zM27,45h1v1h-1zM12,46h1v1h-1zM17,46h1v1h-1zM21,46h1v1h-1zM27,46h1v1h-1zM2,47h1v1h-1zM12,47h3v1h-3zM20,47h1v1h-1zM24,47h1v1h-1zM36,47h1v1h-1zM1,48h1v1h-1zM3,48h1v1h-1zM14,48h1v1h-1zM19,48h3v1h-3zM24,48h2v1h-2zM2,49h1v1h-1zM18,49h1v1h-1zM24,49h1v1h-1zM27,49h1v1h-1zM0,50h1v1h-1zM8,50h1v1h-1zM10,50h1v1h-1zM20,50h1v1h-1zM4,51h1v1h-1zM9,51h1v1h-1zM12,51h1v1h-1zM16,51h1v1h-1zM8,52h1v1h-1zM12,52h1v1h-1zM14,52h1v1h-1zM23,52h1v1h-1zM1,53h1v1h-1zM3,53h1v1h-1zM6,53h1v1h-1zM10,53h1v1h-1zM14,53h1v1h-1zM18,53h1v1h-1zM3,54h4v1h-4zM19,54h1v1h-1zM9,55h1v1h-1zM16,55h2v1h-2zM20,55h2v1h-2zM27,55h1v1h-1zM29,55h1v1h-1zM39,55h1v1h-1zM1,56h1v1h-1zM6,56h2v1h-2zM9,56h1v1h-1zM16,56h2v1h-2zM21,56h1v1h-1zM27,56h1v1h-1zM33,56h1v1h-1zM35,56h1v1h-1zM39,56h1v1h-1zM0,57h2v1h-2zM4,57h2v1h-2zM16,57h1v1h-1zM29,57h1v1h-1zM32,57h1v1h-1zM7,58h1v1h-1zM15,58h2v1h-2zM20,58h2v1h-2zM34,58h3v1h-3zM39,58h1v1h-1zM19,59h2v1h-2zM31,59h2v1h-2zM35,59h1v1h-1zM37,59h1v1h-1zM9,60h1v1h-1zM38,60h1v1h-1zM14,61h1v1h-1zM29,61h1v1h-1zM32,61h1v1h-1zM4,62h1v1h-1zM6,62h4v1h-4zM16,62h1v1h-1zM5,63h1v1h-1zM16,63h1v1h-1zM18,63h1v1h-1zM30,63h1v1h-1zM7,64h3v1h-3zM14,64h1v1h-1zM18,64h1v1h-1zM32,64h1v1h-1zM0,65h1v1h-1zM3,65h2v1h-2zM8,65h2v1h-2zM26,65h1v1h-1zM28,65h1v1h-1zM36,65h1v1h-1zM0,66h2v1h-2zM3,66h1v1h-1zM9,66h1v1h-1zM36,66h1v1h-1zM0,67h2v1h-2zM6,67h2v1h-2zM31,67h1v1h-1zM33,67h1v1h-1zM35,67h1v1h-1zM0,68h1v1h-1zM26,68h1v1h-1zM29,68h1v1h-1zM34,68h1v1h-1zM37,68h1v1h-1zM0,69h1v1h-1zM8,69h2v1h-2zM33,69h4v1h-4zM4,70h1v1h-1zM39,70h1v1h-1zM4,71h1v1h-1zM28,71h1v1h-1zM32,71h1v1h-1zM37,71h1v1h-1zM4,72h1v1h-1zM30,72h2v1h-2zM4,73h1v1h-1zM32,73h3v1h-3zM37,73h1v1h-1zM32,74h1v1h-1zM7,75h1v1h-1zM31,75h1v1h-1zM19,76h1v1h-1zM25,76h1v1h-1zM3,77h1v1h-1zM5,77h1v1h-1zM13,77h1v1h-1zM18,77h1v1h-1zM20,77h2v1h-2zM25,77h1v1h-1zM29,77h1v1h-1zM34,77h1v1h-1zM4,78h1v1h-1zM6,78h1v1h-1zM15,78h1v1h-1zM19,78h1v1h-1zM13,79h1v1h-1zM20,80h1v1h-1zM26,80h1v1h-1zM31,80h2v1h-2zM36,80h1v1h-1zM3,81h1v1h-1zM20,81h1v1h-1zM24,81h1v1h-1zM29,81h1v1h-1zM34,81h1v1h-1zM36,81h1v1h-1zM1,82h1v1h-1zM25,82h2v1h-2zM25,83h3v1h-3zM30,83h1v1h-1zM32,83h1v1h-1zM14,84h1v1h-1zM28,84h4v1h-4zM35,84h1v1h-1zM7,85h1v1h-1zM9,85h1v1h-1zM18,85h1v1h-1zM33,85h3v1h-3zM37,85h1v1h-1zM9,86h1v1h-1zM18,86h1v1h-1zM30,86h1v1h-1zM33,86h1v1h-1zM37,86h1v1h-1zM39,86h1v1h-1zM1,87h2v1h-2zM22,87h1v1h-1zM29,87h2v1h-2zM32,87h1v1h-1zM36,87h1v1h-1zM38,87h1v1h-1zM9,88h1v1h-1zM33,88h1v1h-1zM38,88h1v1h-1zM0,89h1v1h-1zM27,89h1v1h-1zM29,89h2v1h-2zM6,90h1v1h-1zM17,90h2v1h-2zM30,90h1v1h-1zM36,90h1v1h-1zM9,91h1v1h-1zM18,91h1v1h-1zM34,91h1v1h-1zM37,91h1v1h-1zM6,92h1v1h-1zM26,92h1v1h-1zM31,92h1v1h-1zM36,92h1v1h-1zM0,93h1v1h-1zM9,93h1v1h-1zM19,93h1v1h-1zM38,93h2v1h-2zM18,94h1v1h-1zM28,94h1v1h-1zM34,94h1v1h-1zM28,95h2v1h-2zM38,95h1v1h-1zM10,96h1v1h-1zM17,96h1v1h-1zM28,96h1v1h-1zM36,96h1v1h-1zM38,96h1v1h-1zM17,97h1v1h-1zM36,97h2v1h-2zM7,98h1v1h-1zM19,98h1v1h-1zM34,98h1v1h-1zM37,98h1v1h-1zM7,99h1v1h-1zM28,99h2v1h-2zM33,99h2v1h-2z"/>
<path fill="#f2a080" d="M23,3h1v1h-1zM20,4h1v1h-1zM38,4h1v1h-1zM13,5h1v1h-1zM6,6h1v1h-1zM4,8h1v1h-1zM12,8h1v1h-1zM8,9h1v1h-1zM23,9h1v1h-1zM3,11h1v1h-1zM15,11h1v1h-1zM19,11h1v1h-1zM21,11h1v1h-1zM22,14h1v1h-1zM3,16h1v1h-1zM13,16h1v1h-1zM7,18h1v1h-1zM23,18h1v1h-1zM3,19h1v1h-1zM26,20h1v1h-1zM13,21h1v1h-1zM4,24h1v1h-1zM16,24h1v1h-1zM2,25h1v1h-1zM15,25h1v1h-1zM2,26h1v1h-1zM19,26h1v1h-1zM7,27h1v1h-1zM22,28h1v1h-1zM14,29h1v1h-1zM24,29h1v1h-1zM1,30h2v1h-2zM13,30h1v1h-1zM15,32h1v1h-1zM16,35h1v1h-1zM16,36h1v1h-1zM18,36h1v1h-1zM32,36h1v1h-1zM31,38h1v1h-1zM39,38h1v1h-1zM32,39h1v1h-1zM18,42h1v1h-1zM7,43h1v1h-1zM10,43h1v1h-1zM16,44h1v1h-1zM24,44h1v1h-1zM2,45h1v1h-1zM21,45h1v1h-1zM17,47h1v1h-1zM13,48h1v1h-1zM26,48h1v1h-1zM21,49h3v1h-3zM3,50h1v1h-1zM1,51h1v1h-1zM12,54h1v1h-1zM31,57h1v1h-1zM35,57h1v1h-1zM5,58h1v1h-1zM9,58h1v1h-1zM34,59h1v1h-1zM7,60h1v1h-1zM39,60h1v1h-1zM32,62h1v1h-1zM2,63h1v1h-1zM6,63h1v1h-1zM29,65h1v1h-1zM35,65h1v1h-1zM4,66h1v1h-1zM5,67h1v1h-1zM28,67h1v1h-1zM4,68h2v1h-2zM31,70h1v1h-1zM37,70h1v1h-1zM34,71h1v1h-1zM30,74h1v1h-1zM30,76h1v1h-1zM7,77h1v1h-1zM29,78h2v1h-2zM6,79h1v1h-1zM26,81h1v1h-1zM2,82h1v1h-1zM26,85h1v1h-1zM1,86h1v1h-1zM27,86h1v1h-1zM38,86h1v1h-1zM35,87h1v1h-1zM37,87h1v1h-1zM18,88h1v1h-1zM9,89h1v1h-1zM18,89h1v1h-1zM31,89h1v1h-1zM33,89h1v1h-1zM37,89h1v1h-1zM26,90h1v1h-1zM32,90h1v1h-1zM37,90h3v1h-3zM31,93h1v1h-1zM27,94h1v1h-1zM29,94h1v1h-1zM17,95h1v1h-1zM36,95h1v1h-1zM39,95h1v1h-1zM39,97h1v1h-1zM33,98h1v1h-1zM39,99h1v1h-1z"/>
<path fill="#d8614e" d="M25,0h1v1h-1zM37,1h1v1h-1zM21,2h2v1h-2zM24,2h2v1h-2zM39,2h1v1h-1zM13,6h1v1h-1zM24,6h1v1h-1zM13,7h2v1h-2zM20,10h1v1h-1zM20,11h1v1h-1zM20,14h1v1h-1zM12,16h1v1h-1zM25,16h1v1h-1zM3,17h3v1h-3zM3,18h1v1h-1zM22,18h1v1h-1zM10,19h1v1h-1zM4,21h1v1h-1zM3,22h1v1h-1zM4,23h1v1h-1zM12,23h1v1h-1zM15,24h1v1h-1zM17,25h2v1h-2zM7,26h1v1h-1zM14,27h1v1h-1zM15,28h1v1h-1zM18,28h1v1h-1zM17,29h1v1h-1zM19,29h1v1h-1zM14,31h1v1h-1zM16,38h1v1h-1zM12,40h1v1h-1zM23,40h1v1h-1zM14,41h2v1h-2zM22,41h1v1h-1zM4,42h1v1h-1zM9,42h1v1h-1zM23,42h1v1h-1zM23,43h1v1h-1zM18,44h1v1h-1zM25,44h1v1h-1zM14,45h1v1h-1zM23,48h1v1h-1zM8,49h1v1h-1zM13,49h2v1h-2zM26,49h1v1h-1zM3,51h1v1h-1zM7,51h2v1h-2zM8,53h1v1h-1zM21,53h1v1h-1zM5,55h1v1h-1zM35,55h1v1h-1zM8,57h1v1h-1zM4,58h1v1h-1zM5,59h1v1h-1zM4,60h1v1h-1zM6,61h2v1h-2zM5,62h1v1h-1zM7,63h1v1h-1zM29,63h1v1h-1zM39,64h1v1h-1zM5,66h1v1h-1zM28,66h1v1h-1zM29,67h1v1h-1zM1,68h1v1h-1zM8,68h1v1h-1zM38,68h1v1h-1zM31,69h1v1h-1zM29,70h1v1h-1zM38,70h1v1h-1zM6,71h1v1h-1zM30,73h2v1h-2zM31,74h1v1h-1zM29,75h1v1h-1zM28,77h1v1h-1zM3,78h1v1h-1zM28,78h1v1h-1zM31,78h1v1h-1zM29,79h1v1h-1zM27,81h1v1h-1zM32,81h1v1h-1zM30,85h1v1h-1zM38,85h1v1h-1zM25,86h1v1h-1zM9,87h1v1h-1zM24,87h3v1h-3zM1,88h1v1h-1zM31,88h1v1h-1zM24,89h2v1h-2zM27,90h1v1h-1zM36,91h1v1h-1zM35,92h1v1h-1zM27,93h1v1h-1zM33,93h1v1h-1zM35,93h1v1h-1zM35,94h1v1h-1zM34,95h1v1h-1zM32,96h2v1h-2zM35,97h1v1h-1zM35,98h1v1h-1zM25,99h1v1h-1zM37,99h2v1h-2z"/>
<path fill="#b11a2c" d="M23,1h1v1h-1zM25,1h1v1h-1zM23,2h1v1h-1zM26,2h1v1h-1zM38,2h1v1h-1zM24,3h1v1h-1zM26,3h1v1h-1zM23,4h1v1h-1zM25,4h1v1h-1zM12,6h1v1h-1zM23,6h1v1h-1zM11,7h2v1h-2zM20,8h1v1h-1zM19,10h1v1h-1zM8,11h1v1h-1zM22,11h1v1h-1zM20,12h1v1h-1zM21,13h1v1h-1zM15,14h1v1h-1zM10,16h1v1h-1zM15,16h1v1h-1zM4,19h1v1h-1zM15,21h1v1h-1zM4,22h1v1h-1zM14,26h1v1h-1zM14,28h1v1h-1zM12,30h1v1h-1zM15,30h1v1h-1zM1,31h1v1h-1zM10,32h1v1h-1zM12,33h1v1h-1zM13,34h2v1h-2zM18,40h1v1h-1zM9,41h1v1h-1zM4,44h1v1h-1zM8,44h2v1h-2zM1,46h2v1h-2zM18,46h1v1h-1zM22,48h1v1h-1zM7,49h1v1h-1zM7,52h1v1h-1zM9,52h1v1h-1zM21,52h1v1h-1zM1,55h1v1h-1zM4,55h1v1h-1zM8,55h1v1h-1zM8,56h1v1h-1zM9,57h1v1h-1zM8,58h1v1h-1zM6,59h4v1h-4zM5,60h1v1h-1zM5,61h1v1h-1zM39,61h1v1h-1zM4,64h1v1h-1zM5,65h1v1h-1zM4,67h1v1h-1zM36,67h1v1h-1zM28,68h1v1h-1zM30,68h1v1h-1zM3,69h1v1h-1zM5,69h1v1h-1zM30,70h1v1h-1zM29,71h2v1h-2zM28,72h2v1h-2zM38,72h1v1h-1zM28,73h2v1h-2zM29,74h1v1h-1zM37,74h1v1h-1zM30,75h1v1h-1zM6,76h1v1h-1zM6,77h1v1h-1zM30,77h1v1h-1zM7,79h1v1h-1zM21,79h1v1h-1zM30,79h2v1h-2zM30,80h1v1h-1zM28,81h1v1h-1zM30,81h1v1h-1zM30,82h1v1h-1zM32,82h1v1h-1zM2,83h2v1h-2zM26,84h1v1h-1zM0,86h1v1h-1zM34,86h1v1h-1zM26,88h2v1h-2zM35,88h2v1h-2zM1,89h1v1h-1zM26,89h1v1h-1zM35,89h1v1h-1zM26,91h1v1h-1zM38,91h1v1h-1zM32,92h1v1h-1zM37,92h2v1h-2zM32,94h2v1h-2zM36,94h4v1h-4zM32,95h1v1h-1zM35,95h1v1h-1zM37,95h1v1h-1zM34,96h2v1h-2zM33,97h2v1h-2zM32,98h1v1h-1zM38,98h2v1h-2zM36,99h1v1h-1z"/>
<path fill="#6a0a22" d="M21,0h1v1h-1zM8,3h1v1h-1zM21,4h2v1h-2zM15,13h1v1h-1zM20,13h1v1h-1zM22,13h1v1h-1zM13,17h1v1h-1zM13,20h1v1h-1zM17,20h1v1h-1zM22,21h1v1h-1zM3,23h1v1h-1zM3,24h1v1h-1zM14,25h1v1h-1zM26,28h1v1h-1zM9,31h1v1h-1zM12,31h2v1h-2zM13,32h1v1h-1zM9,33h1v1h-1zM11,33h1v1h-1zM15,33h1v1h-1zM11,34h2v1h-2zM17,35h1v1h-1zM36,35h1v1h-1zM1,37h1v1h-1zM32,37h1v1h-1zM35,38h1v1h-1zM7,40h1v1h-1zM11,40h1v1h-1zM16,42h1v1h-1zM24,43h1v1h-1zM23,44h1v1h-1zM12,48h1v1h-1zM1,49h1v1h-1zM3,52h1v1h-1zM8,54h2v1h-2zM6,57h1v1h-1zM2,62h1v1h-1zM14,62h1v1h-1zM35,68h1v1h-1zM4,69h1v1h-1zM29,69h1v1h-1zM31,71h1v1h-1zM37,72h1v1h-1zM38,74h1v1h-1zM4,75h1v1h-1zM3,76h1v1h-1zM14,77h1v1h-1zM31,81h1v1h-1zM31,82h1v1h-1zM27,84h1v1h-1zM31,85h1v1h-1zM26,86h1v1h-1zM35,86h1v1h-1zM33,87h2v1h-2zM34,88h1v1h-1zM34,89h1v1h-1zM33,95h1v1h-1zM39,96h1v1h-1zM38,97h1v1h-1z"/>
</g>
<rect x="331.5" y="32.5" width="321.0" height="210.0" fill="none" stroke="#bdbdbd" stroke-width="1"/>
<rect x="652.8" y="33.0" width="4.6" height="209.0" fill="#c9c9c9"/>
<rect x="652.8" y="33.0" width="4.6" height="10.8" fill="#e8520e"/>
<rect x="652.8" y="52.0" width="4.6" height="4.3" fill="#e8520e"/>
<rect x="652.8" y="58.9" width="4.6" height="3.9" fill="#e8520e"/>
<rect x="652.8" y="67.1" width="4.6" height="2.2" fill="#e8520e"/>
<rect x="652.8" y="73.6" width="4.6" height="2.1" fill="#e8520e"/>
<rect x="652.8" y="77.9" width="4.6" height="6.0" fill="#e8520e"/>
<rect x="652.8" y="86.5" width="4.6" height="33.2" fill="#e8520e"/>
<rect x="652.8" y="121.5" width="4.6" height="1.3" fill="#e8520e"/>
<rect x="652.8" y="131.4" width="4.6" height="6.1" fill="#e8520e"/>
<rect x="652.8" y="140.6" width="4.6" height="2.3" fill="#e8520e"/>
<rect x="652.8" y="150.6" width="4.6" height="14.6" fill="#e8520e"/>
<rect x="652.8" y="180.5" width="4.6" height="5.4" fill="#e8520e"/>
<rect x="652.8" y="187.4" width="4.6" height="2.3" fill="#e8520e"/>
<rect x="652.8" y="192.8" width="4.6" height="2.3" fill="#e8520e"/>
<rect x="652.8" y="222.7" width="4.6" height="3.1" fill="#e8520e"/>
<g stroke="#ffffff" stroke-opacity="0.35" stroke-width="0.5"><line x1="652.8" x2="657.4" y1="35.09" y2="35.09"/><line x1="652.8" x2="657.4" y1="37.18" y2="37.18"/><line x1="652.8" x2="657.4" y1="39.27" y2="39.27"/><line x1="652.8" x2="657.4" y1="41.36" y2="41.36"/><line x1="652.8" x2="657.4" y1="43.45" y2="43.45"/><line x1="652.8" x2="657.4" y1="45.54" y2="45.54"/><line x1="652.8" x2="657.4" y1="47.63" y2="47.63"/><line x1="652.8" x2="657.4" y1="49.72" y2="49.72"/><line x1="652.8" x2="657.4" y1="51.81" y2="51.81"/><line x1="652.8" x2="657.4" y1="53.90" y2="53.90"/><line x1="652.8" x2="657.4" y1="55.99" y2="55.99"/><line x1="652.8" x2="657.4" y1="58.08" y2="58.08"/><line x1="652.8" x2="657.4" y1="60.17" y2="60.17"/><line x1="652.8" x2="657.4" y1="62.26" y2="62.26"/><line x1="652.8" x2="657.4" y1="64.35" y2="64.35"/><line x1="652.8" x2="657.4" y1="66.44" y2="66.44"/><line x1="652.8" x2="657.4" y1="68.53" y2="68.53"/><line x1="652.8" x2="657.4" y1="70.62" y2="70.62"/><line x1="652.8" x2="657.4" y1="72.71" y2="72.71"/><line x1="652.8" x2="657.4" y1="74.80" y2="74.80"/><line x1="652.8" x2="657.4" y1="76.89" y2="76.89"/><line x1="652.8" x2="657.4" y1="78.98" y2="78.98"/><line x1="652.8" x2="657.4" y1="81.07" y2="81.07"/><line x1="652.8" x2="657.4" y1="83.16" y2="83.16"/><line x1="652.8" x2="657.4" y1="85.25" y2="85.25"/><line x1="652.8" x2="657.4" y1="87.34" y2="87.34"/><line x1="652.8" x2="657.4" y1="89.43" y2="89.43"/><line x1="652.8" x2="657.4" y1="91.52" y2="91.52"/><line x1="652.8" x2="657.4" y1="93.61" y2="93.61"/><line x1="652.8" x2="657.4" y1="95.70" y2="95.70"/><line x1="652.8" x2="657.4" y1="97.79" y2="97.79"/><line x1="652.8" x2="657.4" y1="99.88" y2="99.88"/><line x1="652.8" x2="657.4" y1="101.97" y2="101.97"/><line x1="652.8" x2="657.4" y1="104.06" y2="104.06"/><line x1="652.8" x2="657.4" y1="106.15" y2="106.15"/><line x1="652.8" x2="657.4" y1="108.24" y2="108.24"/><line x1="652.8" x2="657.4" y1="110.33" y2="110.33"/><line x1="652.8" x2="657.4" y1="112.42" y2="112.42"/><line x1="652.8" x2="657.4" y1="114.51" y2="114.51"/><line x1="652.8" x2="657.4" y1="116.60" y2="116.60"/><line x1="652.8" x2="657.4" y1="118.69" y2="118.69"/><line x1="652.8" x2="657.4" y1="120.78" y2="120.78"/><line x1="652.8" x2="657.4" y1="122.87" y2="122.87"/><line x1="652.8" x2="657.4" y1="124.96" y2="124.96"/><line x1="652.8" x2="657.4" y1="127.05" y2="127.05"/><line x1="652.8" x2="657.4" y1="129.14" y2="129.14"/><line x1="652.8" x2="657.4" y1="131.23" y2="131.23"/><line x1="652.8" x2="657.4" y1="133.32" y2="133.32"/><line x1="652.8" x2="657.4" y1="135.41" y2="135.41"/><line x1="652.8" x2="657.4" y1="137.50" y2="137.50"/><line x1="652.8" x2="657.4" y1="139.59" y2="139.59"/><line x1="652.8" x2="657.4" y1="141.68" y2="141.68"/><line x1="652.8" x2="657.4" y1="143.77" y2="143.77"/><line x1="652.8" x2="657.4" y1="145.86" y2="145.86"/><line x1="652.8" x2="657.4" y1="147.95" y2="147.95"/><line x1="652.8" x2="657.4" y1="150.04" y2="150.04"/><line x1="652.8" x2="657.4" y1="152.13" y2="152.13"/><line x1="652.8" x2="657.4" y1="154.22" y2="154.22"/><line x1="652.8" x2="657.4" y1="156.31" y2="156.31"/><line x1="652.8" x2="657.4" y1="158.40" y2="158.40"/><line x1="652.8" x2="657.4" y1="160.49" y2="160.49"/><line x1="652.8" x2="657.4" y1="162.58" y2="162.58"/><line x1="652.8" x2="657.4" y1="164.67" y2="164.67"/><line x1="652.8" x2="657.4" y1="166.76" y2="166.76"/><line x1="652.8" x2="657.4" y1="168.85" y2="168.85"/><line x1="652.8" x2="657.4" y1="170.94" y2="170.94"/><line x1="652.8" x2="657.4" y1="173.03" y2="173.03"/><line x1="652.8" x2="657.4" y1="175.12" y2="175.12"/><line x1="652.8" x2="657.4" y1="177.21" y2="177.21"/><line x1="652.8" x2="657.4" y1="179.30" y2="179.30"/><line x1="652.8" x2="657.4" y1="181.39" y2="181.39"/><line x1="652.8" x2="657.4" y1="183.48" y2="183.48"/><line x1="652.8" x2="657.4" y1="185.57" y2="185.57"/><line x1="652.8" x2="657.4" y1="187.66" y2="187.66"/><line x1="652.8" x2="657.4" y1="189.75" y2="189.75"/><line x1="652.8" x2="657.4" y1="191.84" y2="191.84"/><line x1="652.8" x2="657.4" y1="193.93" y2="193.93"/><line x1="652.8" x2="657.4" y1="196.02" y2="196.02"/><line x1="652.8" x2="657.4" y1="198.11" y2="198.11"/><line x1="652.8" x2="657.4" y1="200.20" y2="200.20"/><line x1="652.8" x2="657.4" y1="202.29" y2="202.29"/><line x1="652.8" x2="657.4" y1="204.38" y2="204.38"/><line x1="652.8" x2="657.4" y1="206.47" y2="206.47"/><line x1="652.8" x2="657.4" y1="208.56" y2="208.56"/><line x1="652.8" x2="657.4" y1="210.65" y2="210.65"/><line x1="652.8" x2="657.4" y1="212.74" y2="212.74"/><line x1="652.8" x2="657.4" y1="214.83" y2="214.83"/><line x1="652.8" x2="657.4" y1="216.92" y2="216.92"/><line x1="652.8" x2="657.4" y1="219.01" y2="219.01"/><line x1="652.8" x2="657.4" y1="221.10" y2="221.10"/><line x1="652.8" x2="657.4" y1="223.19" y2="223.19"/><line x1="652.8" x2="657.4" y1="225.28" y2="225.28"/><line x1="652.8" x2="657.4" y1="227.37" y2="227.37"/><line x1="652.8" x2="657.4" y1="229.46" y2="229.46"/><line x1="652.8" x2="657.4" y1="231.55" y2="231.55"/><line x1="652.8" x2="657.4" y1="233.64" y2="233.64"/><line x1="652.8" x2="657.4" y1="235.73" y2="235.73"/><line x1="652.8" x2="657.4" y1="237.82" y2="237.82"/><line x1="652.8" x2="657.4" y1="239.91" y2="239.91"/></g>
<path fill="none" stroke="#ee6a62" stroke-width="1.3" d="M657.4,34.05H662.2V36.13H657.4M662.2,35.09H665.1V38.23H657.4M657.4,40.31H662.6V42.41H657.4M665.1,36.66H667.1V41.36H662.6M657.4,44.49H663.2V46.59H657.4M663.2,45.54H664.9V48.67H657.4M657.4,50.77H661.8V52.85H657.4M664.9,47.11H666.6V51.81H661.8M667.1,39.01H670.9V49.46H666.6M657.4,54.95H662.8V57.03H657.4M662.8,55.99H666.0V59.12H657.4M657.4,61.21H661.3V63.30H657.4M666.0,57.56H667.5V62.26H661.3M657.4,65.39H661.4V67.48H657.4M657.4,71.66H661.0V73.75H657.4M657.4,69.57H663.8V72.71H661.0M661.4,66.44H666.5V71.14H663.8M657.4,75.84H662.7V77.94H657.4M662.7,76.89H665.6V80.03H657.4M657.4,82.11H662.8V84.20H657.4M665.6,78.46H668.4V83.16H662.8M666.5,68.79H670.7V80.81H668.4M667.5,59.91H675.0V74.80H670.7M657.4,88.38H661.5V90.47H657.4M657.4,86.29H663.8V89.43H661.5M657.4,92.56H661.1V94.66H657.4M663.8,87.86H667.5V93.61H661.1M657.4,98.83H663.3V100.92H657.4M657.4,96.75H665.9V99.88H663.3M667.5,90.74H671.7V98.31H665.9M657.4,103.02H660.9V105.10H657.4M660.9,104.06H662.9V107.19H657.4M671.7,94.52H675.8V105.63H662.9M675.0,67.35H678.6V100.08H675.8M657.4,109.28H661.7V111.38H657.4M661.7,110.33H663.4V113.46H657.4M657.4,115.55H661.8V117.64H657.4M663.4,111.90H667.6V116.60H661.8M657.4,119.73H661.6V121.82H657.4M657.4,126.00H661.1V128.09H657.4M657.4,123.91H664.8V127.05H661.1M661.6,120.78H666.8V125.48H664.8M657.4,130.19H662.2V132.27H657.4M657.4,134.37H661.4V136.45H657.4M662.2,131.23H665.7V135.41H661.4M666.8,123.13H668.6V133.32H665.7M667.6,114.25H671.9V128.23H668.6M657.4,140.63H661.7V142.72H657.4M657.4,138.54H665.9V141.68H661.7M657.4,144.81H661.8V146.90H657.4M661.8,145.86H665.8V149.00H657.4M665.9,140.11H668.0V147.43H665.8M657.4,151.08H661.2V153.18H657.4M661.2,152.13H665.5V155.26H657.4M657.4,157.35H661.5V159.44H657.4M665.5,153.70H667.7V158.40H661.5M657.4,163.62H661.7V165.72H657.4M657.4,161.53H663.4V164.67H661.7M657.4,167.80H661.1V169.89H657.4M663.4,163.10H666.5V168.85H661.1M667.7,156.05H669.8V165.98H666.5M668.0,143.77H673.0V161.01H669.8M671.9,121.24H675.5V152.39H673.0M657.4,171.98H662.5V174.07H657.4M657.4,176.16H661.4V178.25H657.4M661.4,177.21H663.3V180.34H657.4M662.5,173.03H667.4V178.78H663.3M657.4,182.44H663.2V184.52H657.4M667.4,175.90H669.6V183.48H663.2M657.4,186.61H663.6V188.70H657.4M663.6,187.66H665.6V190.79H657.4M657.4,192.88H662.6V194.97H657.4M662.6,193.93H665.3V197.06H657.4M665.3,195.50H667.0V199.16H657.4M665.6,189.23H668.6V197.33H667.0M669.6,179.69H673.8V193.28H668.6M675.5,136.81H677.7V186.48H673.8M678.6,83.72H682.1V161.65H677.7M670.9,44.23H684.3V122.68H682.1"/>
<path fill="none" stroke="#3890be" stroke-width="1.3" d="M657.4,203.33H664.6V205.42H657.4M657.4,201.24H666.7V204.38H664.6M657.4,207.51H664.0V209.60H657.4M657.4,211.69H665.1V213.78H657.4M664.0,208.56H669.3V212.74H665.1M666.7,202.81H672.2V210.65H669.3M657.4,215.88H662.0V217.96H657.4M657.4,220.05H662.9V222.14H657.4M662.0,216.92H666.5V221.10H662.9M657.4,224.23H662.1V226.32H657.4M666.5,219.01H669.0V225.28H662.1M672.2,206.73H675.5V222.14H669.0M657.4,232.59H665.2V234.68H657.4M657.4,230.50H670.8V233.64H665.2M657.4,228.41H675.1V232.07H670.8M657.4,236.77H664.1V238.86H657.4M664.1,237.82H666.5V240.95H657.4M675.1,230.24H677.2V239.39H666.5M675.5,214.44H679.1V234.82H677.2"/>
<path d="M684.3,101.7H693" stroke="#ee6a62" stroke-width="1.3"/>
<path d="M679.1,215H688" stroke="#3890be" stroke-width="1.6"/>
<text x="694.5" y="105.3" font-size="11.4" fill="#333" stroke="#333" stroke-width="0.22" text-anchor="start" >Cluster 1</text>
<text x="688.8" y="218.1" font-size="11.4" fill="#333" stroke="#333" stroke-width="0.22" text-anchor="start" >Cluster 2</text>
<text x="447.0" y="259.8" font-size="15.5" fill="#333" stroke="#333" stroke-width="0.22" text-anchor="start" >Movements(1-40)</text>
<rect x="332.40" y="265.7" width="16.70" height="8.7" fill="#0d3b73"/>
<rect x="348.80" y="265.7" width="16.70" height="8.7" fill="#2668b0"/>
<rect x="365.20" y="265.7" width="16.70" height="8.7" fill="#4794c7"/>
<rect x="381.60" y="265.7" width="16.70" height="8.7" fill="#94c4df"/>
<rect x="398.00" y="265.7" width="16.70" height="8.7" fill="#d2e5f1"/>
<rect x="414.40" y="265.7" width="16.70" height="8.7" fill="#f6f6f6"/>
<rect x="430.80" y="265.7" width="16.70" height="8.7" fill="#fbd4c0"/>
<rect x="447.20" y="265.7" width="16.70" height="8.7" fill="#f2a080"/>
<rect x="463.60" y="265.7" width="16.70" height="8.7" fill="#d8614e"/>
<rect x="480.00" y="265.7" width="16.70" height="8.7" fill="#b11a2c"/>
<rect x="496.40" y="265.7" width="16.70" height="8.7" fill="#6a0a22"/>
<rect x="332.4" y="265.7" width="180.4" height="8.7" fill="none" stroke="#555" stroke-width="0.8"/>
<text x="335.3" y="287.1" font-size="11.8" fill="#333" stroke="#333" stroke-width="0.22" text-anchor="middle" >-3</text>
<text x="364.9" y="287.1" font-size="11.8" fill="#333" stroke="#333" stroke-width="0.22" text-anchor="middle" >-2</text>
<text x="394.4" y="287.1" font-size="11.8" fill="#333" stroke="#333" stroke-width="0.22" text-anchor="middle" >-1</text>
<text x="424.0" y="287.1" font-size="11.8" fill="#333" stroke="#333" stroke-width="0.22" text-anchor="middle" >0</text>
<text x="453.5" y="287.1" font-size="11.8" fill="#333" stroke="#333" stroke-width="0.22" text-anchor="middle" >1</text>
<text x="483.1" y="287.1" font-size="11.8" fill="#333" stroke="#333" stroke-width="0.22" text-anchor="middle" >2</text>
<text x="512.6" y="287.1" font-size="11.8" fill="#333" stroke="#333" stroke-width="0.22" text-anchor="middle" >3</text>
<text x="331.6" y="298.2" font-size="11.7" fill="#333" stroke="#333" stroke-width="0.22" text-anchor="start" >Z-score</text>
<rect x="586" y="265.3" width="23.6" height="6.5" fill="#e8520e" stroke="#333" stroke-width="0.9"/>
<rect x="586" y="281.3" width="23.6" height="6.5" fill="#c9c9c9" stroke="#333" stroke-width="0.9"/>
<text x="618.7" y="273.3" font-size="11.5" fill="#333" stroke="#333" stroke-width="0.22" text-anchor="start" >Control</text>
<text x="618.7" y="285.6" font-size="11.5" fill="#333" stroke="#333" stroke-width="0.22" text-anchor="start" >Model</text>
<text x="-0.3" y="350.2" font-size="23.6" fill="#231f20" text-anchor="start" >c</text>
<g fill="none" stroke="#f08a82" stroke-width="0.9" stroke-opacity="0.36">
<path d="M109.9,516.6 124.6,537.9 139.2,567.1 153.9,543.4 168.6,553.4 183.3,571.7 197.9,497.4 212.6,507.5 227.3,561.9 241.9,541.6 256.6,553.9 271.3,578.0 286.0,572.5 300.6,581.5 315.3,532.9 330.0,562.3 344.6,561.0 359.3,570.6 374.0,573.4 388.6,563.3 403.3,556.4 418.0,419.6 432.7,563.8 447.3,569.4 462.0,568.0 476.7,571.9 491.3,539.4 506.0,556.5 520.7,573.9 535.4,537.4 550.0,574.1 564.7,546.4 579.4,546.6 594.0,550.1 608.7,497.5 623.4,566.6 638.1,541.2 652.7,570.2 667.4,580.7 682.1,560.3"/>
<path d="M109.9,516.1 124.6,539.0 139.2,555.8 153.9,527.4 168.6,541.2 183.3,547.0 197.9,534.1 212.6,562.4 227.3,525.4 241.9,522.1 256.6,568.9 271.3,559.1 286.0,565.9 300.6,540.7 315.3,538.4 330.0,554.8 344.6,552.5 359.3,541.8 374.0,561.1 388.6,445.2 403.3,550.4 418.0,529.2 432.7,536.7 447.3,571.2 462.0,554.3 476.7,563.8 491.3,552.5 506.0,532.3 520.7,565.7 535.4,570.6 550.0,565.2 564.7,565.3 579.4,584.1 594.0,537.1 608.7,534.4 623.4,559.2 638.1,551.4 652.7,578.6 667.4,539.2 682.1,560.8"/>
<path d="M109.9,553.7 124.6,526.4 139.2,560.6 153.9,566.3 168.6,534.0 183.3,564.6 197.9,556.7 212.6,533.7 227.3,539.7 241.9,574.0 256.6,535.9 271.3,582.3 286.0,571.3 300.6,556.6 315.3,510.2 330.0,566.5 344.6,549.7 359.3,551.3 374.0,573.9 388.6,544.8 403.3,565.9 418.0,533.5 432.7,557.9 447.3,577.8 462.0,562.6 476.7,562.5 491.3,533.8 506.0,550.7 520.7,561.8 535.4,563.5 550.0,522.6 564.7,559.3 579.4,560.9 594.0,486.9 608.7,541.7 623.4,529.7 638.1,469.1 652.7,561.1 667.4,555.6 682.1,567.1"/>
<path d="M109.9,552.0 124.6,520.6 139.2,482.8 153.9,538.0 168.6,536.9 183.3,555.5 197.9,505.1 212.6,528.6 227.3,536.3 241.9,551.0 256.6,559.1 271.3,524.8 286.0,548.7 300.6,534.9 315.3,527.0 330.0,564.0 344.6,573.1 359.3,556.6 374.0,575.7 388.6,552.6 403.3,551.9 418.0,518.3 432.7,544.3 447.3,531.7 462.0,567.3 476.7,539.1 491.3,552.9 506.0,520.4 520.7,562.2 535.4,551.4 550.0,578.7 564.7,536.8 579.4,560.2 594.0,538.4 608.7,533.4 623.4,526.5 638.1,530.7 652.7,546.4 667.4,533.8 682.1,581.1"/>
<path d="M109.9,520.2 124.6,568.1 139.2,539.5 153.9,481.1 168.6,538.3 183.3,576.6 197.9,550.9 212.6,523.1 227.3,513.4 241.9,539.6 256.6,558.5 271.3,534.3 286.0,587.0 300.6,563.3 315.3,494.4 330.0,576.2 344.6,572.5 359.3,537.0 374.0,547.0 388.6,554.3 403.3,578.0 418.0,530.6 432.7,579.9 447.3,550.2 462.0,580.0 476.7,557.6 491.3,571.0 506.0,524.3 520.7,551.6 535.4,572.0 550.0,549.2 564.7,552.4 579.4,587.0 594.0,533.0 608.7,526.9 623.4,568.8 638.1,539.2 652.7,564.2 667.4,568.5 682.1,540.1"/>
<path d="M109.9,539.5 124.6,548.4 139.2,568.8 153.9,521.2 168.6,556.1 183.3,561.2 197.9,547.9 212.6,487.9 227.3,542.9 241.9,518.2 256.6,552.3 271.3,556.5 286.0,549.2 300.6,587.0 315.3,557.0 330.0,585.1 344.6,572.5 359.3,537.9 374.0,587.0 388.6,549.3 403.3,521.4 418.0,527.7 432.7,548.2 447.3,569.4 462.0,550.7 476.7,563.9 491.3,532.6 506.0,539.4 520.7,564.8 535.4,568.2 550.0,537.2 564.7,540.1 579.4,563.0 594.0,534.2 608.7,560.2 623.4,561.1 638.1,546.3 652.7,550.8 667.4,546.8 682.1,546.5"/>
<path d="M109.9,543.2 124.6,509.1 139.2,551.1 153.9,553.7 168.6,550.8 183.3,577.4 197.9,537.5 212.6,537.7 227.3,555.0 241.9,487.9 256.6,549.8 271.3,541.6 286.0,579.6 300.6,527.8 315.3,550.4 330.0,587.0 344.6,577.9 359.3,560.4 374.0,544.4 388.6,502.7 403.3,562.6 418.0,550.4 432.7,545.7 447.3,552.6 462.0,569.4 476.7,540.9 491.3,548.8 506.0,551.1 520.7,533.7 535.4,563.6 550.0,557.3 564.7,573.0 579.4,543.4 594.0,518.3 608.7,549.1 623.4,537.5 638.1,538.3 652.7,580.9 667.4,553.6 682.1,557.5"/>
<path d="M109.9,547.7 124.6,547.7 139.2,541.6 153.9,545.1 168.6,570.6 183.3,567.2 197.9,543.1 212.6,562.3 227.3,532.3 241.9,535.2 256.6,574.0 271.3,560.0 286.0,565.4 300.6,561.8 315.3,491.3 330.0,549.9 344.6,587.0 359.3,529.3 374.0,541.0 388.6,557.2 403.3,531.6 418.0,539.7 432.7,564.3 447.3,570.5 462.0,566.3 476.7,557.2 491.3,573.0 506.0,486.2 520.7,559.5 535.4,563.6 550.0,546.7 564.7,551.7 579.4,539.3 594.0,553.8 608.7,523.4 623.4,531.2 638.1,524.0 652.7,550.1 667.4,555.8 682.1,543.1"/>
<path d="M109.9,539.3 124.6,543.4 139.2,576.1 153.9,528.8 168.6,552.5 183.3,572.0 197.9,560.7 212.6,516.5 227.3,522.3 241.9,508.1 256.6,551.5 271.3,493.6 286.0,563.2 300.6,553.8 315.3,567.4 330.0,560.2 344.6,562.6 359.3,574.3 374.0,566.3 388.6,551.2 403.3,545.5 418.0,458.9 432.7,546.1 447.3,515.5 462.0,553.3 476.7,532.3 491.3,544.4 506.0,550.9 520.7,542.4 535.4,574.1 550.0,545.9 564.7,554.1 579.4,556.5 594.0,533.1 608.7,538.6 623.4,560.0 638.1,521.3 652.7,561.2 667.4,559.9 682.1,546.1"/>
<path d="M109.9,528.0 124.6,560.8 139.2,551.5 153.9,547.8 168.6,544.9 183.3,576.8 197.9,505.7 212.6,516.0 227.3,537.1 241.9,509.0 256.6,569.0 271.3,558.6 286.0,526.6 300.6,502.3 315.3,552.5 330.0,587.0 344.6,561.9 359.3,561.2 374.0,567.4 388.6,475.9 403.3,557.2 418.0,564.7 432.7,558.2 447.3,565.0 462.0,577.6 476.7,563.7 491.3,581.5 506.0,544.6 520.7,546.8 535.4,556.2 550.0,547.2 564.7,542.5 579.4,555.5 594.0,536.0 608.7,526.1 623.4,554.8 638.1,529.4 652.7,545.7 667.4,557.0 682.1,566.6"/>
<path d="M109.9,556.6 124.6,551.7 139.2,577.4 153.9,555.0 168.6,554.4 183.3,556.2 197.9,551.0 212.6,530.3 227.3,535.5 241.9,560.7 256.6,576.1 271.3,566.8 286.0,549.3 300.6,537.8 315.3,555.5 330.0,581.0 344.6,573.4 359.3,548.3 374.0,582.1 388.6,532.1 403.3,569.9 418.0,535.5 432.7,561.3 447.3,546.0 462.0,561.2 476.7,546.4 491.3,557.5 506.0,544.7 520.7,565.5 535.4,525.1 550.0,543.9 564.7,557.6 579.4,561.4 594.0,527.0 608.7,543.3 623.4,552.3 638.1,481.1 652.7,561.2 667.4,566.2 682.1,570.6"/>
<path d="M109.9,556.1 124.6,562.3 139.2,549.1 153.9,532.0 168.6,570.5 183.3,587.0 197.9,553.5 212.6,509.3 227.3,541.7 241.9,534.3 256.6,537.6 271.3,549.4 286.0,559.9 300.6,563.8 315.3,548.0 330.0,551.3 344.6,562.8 359.3,552.5 374.0,570.1 388.6,550.9 403.3,569.3 418.0,517.8 432.7,500.8 447.3,550.3 462.0,564.2 476.7,552.5 491.3,587.0 506.0,562.3 520.7,572.6 535.4,563.4 550.0,551.9 564.7,550.2 579.4,543.7 594.0,543.9 608.7,493.0 623.4,563.8 638.1,519.3 652.7,549.9 667.4,558.6 682.1,585.7"/>
<path d="M109.9,531.4 124.6,530.6 139.2,587.0 153.9,532.2 168.6,533.2 183.3,556.1 197.9,530.7 212.6,519.5 227.3,505.8 241.9,542.9 256.6,576.7 271.3,539.4 286.0,565.0 300.6,550.9 315.3,546.5 330.0,571.6 344.6,559.0 359.3,557.5 374.0,587.0 388.6,536.5 403.3,527.0 418.0,525.1 432.7,550.6 447.3,537.1 462.0,565.7 476.7,550.3 491.3,587.0 506.0,498.1 520.7,545.2 535.4,529.0 550.0,570.8 564.7,529.1 579.4,578.1 594.0,521.9 608.7,523.2 623.4,552.7 638.1,548.0 652.7,550.1 667.4,558.3 682.1,577.0"/>
<path d="M109.9,501.6 124.6,542.8 139.2,533.5 153.9,516.4 168.6,556.8 183.3,550.5 197.9,537.0 212.6,534.4 227.3,545.2 241.9,552.6 256.6,576.9 271.3,560.8 286.0,567.0 300.6,562.6 315.3,553.4 330.0,570.7 344.6,570.5 359.3,560.8 374.0,587.0 388.6,522.0 403.3,547.0 418.0,562.3 432.7,541.6 447.3,544.1 462.0,577.4 476.7,556.7 491.3,559.3 506.0,538.0 520.7,559.1 535.4,542.3 550.0,575.4 564.7,584.1 579.4,529.0 594.0,531.8 608.7,525.3 623.4,563.7 638.1,542.8 652.7,565.8 667.4,564.2 682.1,558.0"/>
<path d="M109.9,532.8 124.6,528.4 139.2,557.6 153.9,576.8 168.6,538.6 183.3,551.0 197.9,531.7 212.6,528.2 227.3,550.2 241.9,543.4 256.6,516.1 271.3,558.6 286.0,587.0 300.6,550.9 315.3,578.5 330.0,565.4 344.6,576.3 359.3,556.9 374.0,574.1 388.6,548.0 403.3,551.7 418.0,545.5 432.7,552.7 447.3,543.9 462.0,580.0 476.7,537.8 491.3,587.0 506.0,556.3 520.7,555.7 535.4,577.8 550.0,548.7 564.7,549.4 579.4,549.3 594.0,486.2 608.7,516.9 623.4,565.4 638.1,549.9 652.7,572.9 667.4,562.7 682.1,550.9"/>
<path d="M109.9,513.5 124.6,538.1 139.2,568.9 153.9,551.3 168.6,575.1 183.3,586.1 197.9,562.0 212.6,530.0 227.3,564.2 241.9,522.9 256.6,547.7 271.3,570.3 286.0,561.1 300.6,573.0 315.3,541.7 330.0,577.1 344.6,563.7 359.3,554.8 374.0,550.6 388.6,552.2 403.3,551.4 418.0,532.2 432.7,556.6 447.3,550.1 462.0,557.7 476.7,556.2 491.3,558.6 506.0,528.0 520.7,568.2 535.4,566.3 550.0,544.5 564.7,563.0 579.4,561.4 594.0,522.5 608.7,538.0 623.4,533.7 638.1,543.9 652.7,564.3 667.4,586.3 682.1,572.9"/>
<path d="M109.9,540.7 124.6,544.3 139.2,546.4 153.9,531.4 168.6,567.0 183.3,564.1 197.9,551.5 212.6,531.5 227.3,540.8 241.9,529.2 256.6,580.2 271.3,543.0 286.0,573.6 300.6,564.7 315.3,556.0 330.0,576.7 344.6,573.0 359.3,580.7 374.0,576.6 388.6,553.9 403.3,555.1 418.0,530.7 432.7,527.0 447.3,561.5 462.0,552.2 476.7,544.9 491.3,538.9 506.0,501.7 520.7,560.8 535.4,556.7 550.0,566.5 564.7,567.8 579.4,503.4 594.0,511.5 608.7,538.8 623.4,557.8 638.1,533.3 652.7,559.6 667.4,573.3 682.1,553.8"/>
<path d="M109.9,544.0 124.6,568.2 139.2,537.3 153.9,528.0 168.6,532.1 183.3,563.3 197.9,555.2 212.6,553.1 227.3,545.0 241.9,515.2 256.6,550.7 271.3,528.4 286.0,565.1 300.6,559.7 315.3,522.1 330.0,557.3 344.6,550.5 359.3,562.2 374.0,551.8 388.6,557.3 403.3,525.6 418.0,538.7 432.7,576.6 447.3,582.9 462.0,551.4 476.7,541.3 491.3,565.7 506.0,565.5 520.7,524.1 535.4,585.7 550.0,555.6 564.7,570.7 579.4,584.4 594.0,554.8 608.7,537.0 623.4,527.6 638.1,541.3 652.7,527.0 667.4,537.6 682.1,584.5"/>
</g>
<g fill="none" stroke="#f08a82" stroke-width="0.85" stroke-opacity="0.3">
<path d="M109.9,511.8l4.2,4.8l-4.2,4.8l-4.2,-4.8zM124.6,533.1l4.2,4.8l-4.2,4.8l-4.2,-4.8zM139.2,562.3l4.2,4.8l-4.2,4.8l-4.2,-4.8zM153.9,538.6l4.2,4.8l-4.2,4.8l-4.2,-4.8zM168.6,548.6l4.2,4.8l-4.2,4.8l-4.2,-4.8zM183.3,566.9l4.2,4.8l-4.2,4.8l-4.2,-4.8zM197.9,492.6l4.2,4.8l-4.2,4.8l-4.2,-4.8zM212.6,502.7l4.2,4.8l-4.2,4.8l-4.2,-4.8zM227.3,557.1l4.2,4.8l-4.2,4.8l-4.2,-4.8zM241.9,536.8l4.2,4.8l-4.2,4.8l-4.2,-4.8zM256.6,549.1l4.2,4.8l-4.2,4.8l-4.2,-4.8zM271.3,573.2l4.2,4.8l-4.2,4.8l-4.2,-4.8zM286.0,567.7l4.2,4.8l-4.2,4.8l-4.2,-4.8zM300.6,576.7l4.2,4.8l-4.2,4.8l-4.2,-4.8zM315.3,528.1l4.2,4.8l-4.2,4.8l-4.2,-4.8zM330.0,557.5l4.2,4.8l-4.2,4.8l-4.2,-4.8zM344.6,556.2l4.2,4.8l-4.2,4.8l-4.2,-4.8zM359.3,565.8l4.2,4.8l-4.2,4.8l-4.2,-4.8zM374.0,568.6l4.2,4.8l-4.2,4.8l-4.2,-4.8zM388.6,558.5l4.2,4.8l-4.2,4.8l-4.2,-4.8zM403.3,551.6l4.2,4.8l-4.2,4.8l-4.2,-4.8zM418.0,414.8l4.2,4.8l-4.2,4.8l-4.2,-4.8zM432.7,559.0l4.2,4.8l-4.2,4.8l-4.2,-4.8zM447.3,564.6l4.2,4.8l-4.2,4.8l-4.2,-4.8zM462.0,563.2l4.2,4.8l-4.2,4.8l-4.2,-4.8zM476.7,567.1l4.2,4.8l-4.2,4.8l-4.2,-4.8zM491.3,534.6l4.2,4.8l-4.2,4.8l-4.2,-4.8zM506.0,551.7l4.2,4.8l-4.2,4.8l-4.2,-4.8zM520.7,569.1l4.2,4.8l-4.2,4.8l-4.2,-4.8zM535.4,532.6l4.2,4.8l-4.2,4.8l-4.2,-4.8zM550.0,569.3l4.2,4.8l-4.2,4.8l-4.2,-4.8zM564.7,541.6l4.2,4.8l-4.2,4.8l-4.2,-4.8zM579.4,541.8l4.2,4.8l-4.2,4.8l-4.2,-4.8zM594.0,545.3l4.2,4.8l-4.2,4.8l-4.2,-4.8zM608.7,492.7l4.2,4.8l-4.2,4.8l-4.2,-4.8zM623.4,561.8l4.2,4.8l-4.2,4.8l-4.2,-4.8zM638.1,536.4l4.2,4.8l-4.2,4.8l-4.2,-4.8zM652.7,565.4l4.2,4.8l-4.2,4.8l-4.2,-4.8zM667.4,575.9l4.2,4.8l-4.2,4.8l-4.2,-4.8zM682.1,555.5l4.2,4.8l-4.2,4.8l-4.2,-4.8z"/>
<path d="M109.9,511.3l4.2,4.8l-4.2,4.8l-4.2,-4.8zM124.6,534.2l4.2,4.8l-4.2,4.8l-4.2,-4.8zM139.2,551.0l4.2,4.8l-4.2,4.8l-4.2,-4.8zM153.9,522.6l4.2,4.8l-4.2,4.8l-4.2,-4.8zM168.6,536.4l4.2,4.8l-4.2,4.8l-4.2,-4.8zM183.3,542.2l4.2,4.8l-4.2,4.8l-4.2,-4.8zM197.9,529.3l4.2,4.8l-4.2,4.8l-4.2,-4.8zM212.6,557.6l4.2,4.8l-4.2,4.8l-4.2,-4.8zM227.3,520.6l4.2,4.8l-4.2,4.8l-4.2,-4.8zM241.9,517.3l4.2,4.8l-4.2,4.8l-4.2,-4.8zM256.6,564.1l4.2,4.8l-4.2,4.8l-4.2,-4.8zM271.3,554.3l4.2,4.8l-4.2,4.8l-4.2,-4.8zM286.0,561.1l4.2,4.8l-4.2,4.8l-4.2,-4.8zM300.6,535.9l4.2,4.8l-4.2,4.8l-4.2,-4.8zM315.3,533.6l4.2,4.8l-4.2,4.8l-4.2,-4.8zM330.0,550.0l4.2,4.8l-4.2,4.8l-4.2,-4.8zM344.6,547.7l4.2,4.8l-4.2,4.8l-4.2,-4.8zM359.3,537.0l4.2,4.8l-4.2,4.8l-4.2,-4.8zM374.0,556.3l4.2,4.8l-4.2,4.8l-4.2,-4.8zM388.6,440.4l4.2,4.8l-4.2,4.8l-4.2,-4.8zM403.3,545.6l4.2,4.8l-4.2,4.8l-4.2,-4.8zM418.0,524.4l4.2,4.8l-4.2,4.8l-4.2,-4.8zM432.7,531.9l4.2,4.8l-4.2,4.8l-4.2,-4.8zM447.3,566.4l4.2,4.8l-4.2,4.8l-4.2,-4.8zM462.0,549.5l4.2,4.8l-4.2,4.8l-4.2,-4.8zM476.7,559.0l4.2,4.8l-4.2,4.8l-4.2,-4.8zM491.3,547.7l4.2,4.8l-4.2,4.8l-4.2,-4.8zM506.0,527.5l4.2,4.8l-4.2,4.8l-4.2,-4.8zM520.7,560.9l4.2,4.8l-4.2,4.8l-4.2,-4.8zM535.4,565.8l4.2,4.8l-4.2,4.8l-4.2,-4.8zM550.0,560.4l4.2,4.8l-4.2,4.8l-4.2,-4.8zM564.7,560.5l4.2,4.8l-4.2,4.8l-4.2,-4.8zM579.4,579.3l4.2,4.8l-4.2,4.8l-4.2,-4.8zM594.0,532.3l4.2,4.8l-4.2,4.8l-4.2,-4.8zM608.7,529.6l4.2,4.8l-4.2,4.8l-4.2,-4.8zM623.4,554.4l4.2,4.8l-4.2,4.8l-4.2,-4.8zM638.1,546.6l4.2,4.8l-4.2,4.8l-4.2,-4.8zM652.7,573.8l4.2,4.8l-4.2,4.8l-4.2,-4.8zM667.4,534.4l4.2,4.8l-4.2,4.8l-4.2,-4.8zM682.1,556.0l4.2,4.8l-4.2,4.8l-4.2,-4.8z"/>
<path d="M109.9,548.9l4.2,4.8l-4.2,4.8l-4.2,-4.8zM124.6,521.6l4.2,4.8l-4.2,4.8l-4.2,-4.8zM139.2,555.8l4.2,4.8l-4.2,4.8l-4.2,-4.8zM153.9,561.5l4.2,4.8l-4.2,4.8l-4.2,-4.8zM168.6,529.2l4.2,4.8l-4.2,4.8l-4.2,-4.8zM183.3,559.8l4.2,4.8l-4.2,4.8l-4.2,-4.8zM197.9,551.9l4.2,4.8l-4.2,4.8l-4.2,-4.8zM212.6,528.9l4.2,4.8l-4.2,4.8l-4.2,-4.8zM227.3,534.9l4.2,4.8l-4.2,4.8l-4.2,-4.8zM241.9,569.2l4.2,4.8l-4.2,4.8l-4.2,-4.8zM256.6,531.1l4.2,4.8l-4.2,4.8l-4.2,-4.8zM271.3,577.5l4.2,4.8l-4.2,4.8l-4.2,-4.8zM286.0,566.5l4.2,4.8l-4.2,4.8l-4.2,-4.8zM300.6,551.8l4.2,4.8l-4.2,4.8l-4.2,-4.8zM315.3,505.4l4.2,4.8l-4.2,4.8l-4.2,-4.8zM330.0,561.7l4.2,4.8l-4.2,4.8l-4.2,-4.8zM344.6,544.9l4.2,4.8l-4.2,4.8l-4.2,-4.8zM359.3,546.5l4.2,4.8l-4.2,4.8l-4.2,-4.8zM374.0,569.1l4.2,4.8l-4.2,4.8l-4.2,-4.8zM388.6,540.0l4.2,4.8l-4.2,4.8l-4.2,-4.8zM403.3,561.1l4.2,4.8l-4.2,4.8l-4.2,-4.8zM418.0,528.7l4.2,4.8l-4.2,4.8l-4.2,-4.8zM432.7,553.1l4.2,4.8l-4.2,4.8l-4.2,-4.8zM447.3,573.0l4.2,4.8l-4.2,4.8l-4.2,-4.8zM462.0,557.8l4.2,4.8l-4.2,4.8l-4.2,-4.8zM476.7,557.7l4.2,4.8l-4.2,4.8l-4.2,-4.8zM491.3,529.0l4.2,4.8l-4.2,4.8l-4.2,-4.8zM506.0,545.9l4.2,4.8l-4.2,4.8l-4.2,-4.8zM520.7,557.0l4.2,4.8l-4.2,4.8l-4.2,-4.8zM535.4,558.7l4.2,4.8l-4.2,4.8l-4.2,-4.8zM550.0,517.8l4.2,4.8l-4.2,4.8l-4.2,-4.8zM564.7,554.5l4.2,4.8l-4.2,4.8l-4.2,-4.8zM579.4,556.1l4.2,4.8l-4.2,4.8l-4.2,-4.8zM594.0,482.1l4.2,4.8l-4.2,4.8l-4.2,-4.8zM608.7,536.9l4.2,4.8l-4.2,4.8l-4.2,-4.8zM623.4,524.9l4.2,4.8l-4.2,4.8l-4.2,-4.8zM638.1,464.3l4.2,4.8l-4.2,4.8l-4.2,-4.8zM652.7,556.3l4.2,4.8l-4.2,4.8l-4.2,-4.8zM667.4,550.8l4.2,4.8l-4.2,4.8l-4.2,-4.8zM682.1,562.3l4.2,4.8l-4.2,4.8l-4.2,-4.8z"/>
<path d="M109.9,547.2l4.2,4.8l-4.2,4.8l-4.2,-4.8zM124.6,515.8l4.2,4.8l-4.2,4.8l-4.2,-4.8zM139.2,478.0l4.2,4.8l-4.2,4.8l-4.2,-4.8zM153.9,533.2l4.2,4.8l-4.2,4.8l-4.2,-4.8zM168.6,532.1l4.2,4.8l-4.2,4.8l-4.2,-4.8zM183.3,550.7l4.2,4.8l-4.2,4.8l-4.2,-4.8zM197.9,500.3l4.2,4.8l-4.2,4.8l-4.2,-4.8zM212.6,523.8l4.2,4.8l-4.2,4.8l-4.2,-4.8zM227.3,531.5l4.2,4.8l-4.2,4.8l-4.2,-4.8zM241.9,546.2l4.2,4.8l-4.2,4.8l-4.2,-4.8zM256.6,554.3l4.2,4.8l-4.2,4.8l-4.2,-4.8zM271.3,520.0l4.2,4.8l-4.2,4.8l-4.2,-4.8zM286.0,543.9l4.2,4.8l-4.2,4.8l-4.2,-4.8zM300.6,530.1l4.2,4.8l-4.2,4.8l-4.2,-4.8zM315.3,522.2l4.2,4.8l-4.2,4.8l-4.2,-4.8zM330.0,559.2l4.2,4.8l-4.2,4.8l-4.2,-4.8zM344.6,568.3l4.2,4.8l-4.2,4.8l-4.2,-4.8zM359.3,551.8l4.2,4.8l-4.2,4.8l-4.2,-4.8zM374.0,570.9l4.2,4.8l-4.2,4.8l-4.2,-4.8zM388.6,547.8l4.2,4.8l-4.2,4.8l-4.2,-4.8zM403.3,547.1l4.2,4.8l-4.2,4.8l-4.2,-4.8zM418.0,513.5l4.2,4.8l-4.2,4.8l-4.2,-4.8zM432.7,539.5l4.2,4.8l-4.2,4.8l-4.2,-4.8zM447.3,526.9l4.2,4.8l-4.2,4.8l-4.2,-4.8zM462.0,562.5l4.2,4.8l-4.2,4.8l-4.2,-4.8zM476.7,534.3l4.2,4.8l-4.2,4.8l-4.2,-4.8zM491.3,548.1l4.2,4.8l-4.2,4.8l-4.2,-4.8zM506.0,515.6l4.2,4.8l-4.2,4.8l-4.2,-4.8zM520.7,557.4l4.2,4.8l-4.2,4.8l-4.2,-4.8zM535.4,546.6l4.2,4.8l-4.2,4.8l-4.2,-4.8zM550.0,573.9l4.2,4.8l-4.2,4.8l-4.2,-4.8zM564.7,532.0l4.2,4.8l-4.2,4.8l-4.2,-4.8zM579.4,555.4l4.2,4.8l-4.2,4.8l-4.2,-4.8zM594.0,533.6l4.2,4.8l-4.2,4.8l-4.2,-4.8zM608.7,528.6l4.2,4.8l-4.2,4.8l-4.2,-4.8zM623.4,521.7l4.2,4.8l-4.2,4.8l-4.2,-4.8zM638.1,525.9l4.2,4.8l-4.2,4.8l-4.2,-4.8zM652.7,541.6l4.2,4.8l-4.2,4.8l-4.2,-4.8zM667.4,529.0l4.2,4.8l-4.2,4.8l-4.2,-4.8zM682.1,576.3l4.2,4.8l-4.2,4.8l-4.2,-4.8z"/>
<path d="M109.9,515.4l4.2,4.8l-4.2,4.8l-4.2,-4.8zM124.6,563.3l4.2,4.8l-4.2,4.8l-4.2,-4.8zM139.2,534.7l4.2,4.8l-4.2,4.8l-4.2,-4.8zM153.9,476.3l4.2,4.8l-4.2,4.8l-4.2,-4.8zM168.6,533.5l4.2,4.8l-4.2,4.8l-4.2,-4.8zM183.3,571.8l4.2,4.8l-4.2,4.8l-4.2,-4.8zM197.9,546.1l4.2,4.8l-4.2,4.8l-4.2,-4.8zM212.6,518.3l4.2,4.8l-4.2,4.8l-4.2,-4.8zM227.3,508.6l4.2,4.8l-4.2,4.8l-4.2,-4.8zM241.9,534.8l4.2,4.8l-4.2,4.8l-4.2,-4.8zM256.6,553.7l4.2,4.8l-4.2,4.8l-4.2,-4.8zM271.3,529.5l4.2,4.8l-4.2,4.8l-4.2,-4.8zM286.0,582.2l4.2,4.8l-4.2,4.8l-4.2,-4.8zM300.6,558.5l4.2,4.8l-4.2,4.8l-4.2,-4.8zM315.3,489.6l4.2,4.8l-4.2,4.8l-4.2,-4.8zM330.0,571.4l4.2,4.8l-4.2,4.8l-4.2,-4.8zM344.6,567.7l4.2,4.8l-4.2,4.8l-4.2,-4.8zM359.3,532.2l4.2,4.8l-4.2,4.8l-4.2,-4.8zM374.0,542.2l4.2,4.8l-4.2,4.8l-4.2,-4.8zM388.6,549.5l4.2,4.8l-4.2,4.8l-4.2,-4.8zM403.3,573.2l4.2,4.8l-4.2,4.8l-4.2,-4.8zM418.0,525.8l4.2,4.8l-4.2,4.8l-4.2,-4.8zM432.7,575.1l4.2,4.8l-4.2,4.8l-4.2,-4.8zM447.3,545.4l4.2,4.8l-4.2,4.8l-4.2,-4.8zM462.0,575.2l4.2,4.8l-4.2,4.8l-4.2,-4.8zM476.7,552.8l4.2,4.8l-4.2,4.8l-4.2,-4.8zM491.3,566.2l4.2,4.8l-4.2,4.8l-4.2,-4.8zM506.0,519.5l4.2,4.8l-4.2,4.8l-4.2,-4.8zM520.7,546.8l4.2,4.8l-4.2,4.8l-4.2,-4.8zM535.4,567.2l4.2,4.8l-4.2,4.8l-4.2,-4.8zM550.0,544.4l4.2,4.8l-4.2,4.8l-4.2,-4.8zM564.7,547.6l4.2,4.8l-4.2,4.8l-4.2,-4.8zM579.4,582.2l4.2,4.8l-4.2,4.8l-4.2,-4.8zM594.0,528.2l4.2,4.8l-4.2,4.8l-4.2,-4.8zM608.7,522.1l4.2,4.8l-4.2,4.8l-4.2,-4.8zM623.4,564.0l4.2,4.8l-4.2,4.8l-4.2,-4.8zM638.1,534.4l4.2,4.8l-4.2,4.8l-4.2,-4.8zM652.7,559.4l4.2,4.8l-4.2,4.8l-4.2,-4.8zM667.4,563.7l4.2,4.8l-4.2,4.8l-4.2,-4.8zM682.1,535.3l4.2,4.8l-4.2,4.8l-4.2,-4.8z"/>
<path d="M109.9,534.7l4.2,4.8l-4.2,4.8l-4.2,-4.8zM124.6,543.6l4.2,4.8l-4.2,4.8l-4.2,-4.8zM139.2,564.0l4.2,4.8l-4.2,4.8l-4.2,-4.8zM153.9,516.4l4.2,4.8l-4.2,4.8l-4.2,-4.8zM168.6,551.3l4.2,4.8l-4.2,4.8l-4.2,-4.8zM183.3,556.4l4.2,4.8l-4.2,4.8l-4.2,-4.8zM197.9,543.1l4.2,4.8l-4.2,4.8l-4.2,-4.8zM212.6,483.1l4.2,4.8l-4.2,4.8l-4.2,-4.8zM227.3,538.1l4.2,4.8l-4.2,4.8l-4.2,-4.8zM241.9,513.4l4.2,4.8l-4.2,4.8l-4.2,-4.8zM256.6,547.5l4.2,4.8l-4.2,4.8l-4.2,-4.8zM271.3,551.7l4.2,4.8l-4.2,4.8l-4.2,-4.8zM286.0,544.4l4.2,4.8l-4.2,4.8l-4.2,-4.8zM300.6,582.2l4.2,4.8l-4.2,4.8l-4.2,-4.8zM315.3,552.2l4.2,4.8l-4.2,4.8l-4.2,-4.8zM330.0,580.3l4.2,4.8l-4.2,4.8l-4.2,-4.8zM344.6,567.7l4.2,4.8l-4.2,4.8l-4.2,-4.8zM359.3,533.1l4.2,4.8l-4.2,4.8l-4.2,-4.8zM374.0,582.2l4.2,4.8l-4.2,4.8l-4.2,-4.8zM388.6,544.5l4.2,4.8l-4.2,4.8l-4.2,-4.8zM403.3,516.6l4.2,4.8l-4.2,4.8l-4.2,-4.8zM418.0,522.9l4.2,4.8l-4.2,4.8l-4.2,-4.8zM432.7,543.4l4.2,4.8l-4.2,4.8l-4.2,-4.8zM447.3,564.6l4.2,4.8l-4.2,4.8l-4.2,-4.8zM462.0,545.9l4.2,4.8l-4.2,4.8l-4.2,-4.8zM476.7,559.1l4.2,4.8l-4.2,4.8l-4.2,-4.8zM491.3,527.8l4.2,4.8l-4.2,4.8l-4.2,-4.8zM506.0,534.6l4.2,4.8l-4.2,4.8l-4.2,-4.8zM520.7,560.0l4.2,4.8l-4.2,4.8l-4.2,-4.8zM535.4,563.4l4.2,4.8l-4.2,4.8l-4.2,-4.8zM550.0,532.4l4.2,4.8l-4.2,4.8l-4.2,-4.8zM564.7,535.3l4.2,4.8l-4.2,4.8l-4.2,-4.8zM579.4,558.2l4.2,4.8l-4.2,4.8l-4.2,-4.8zM594.0,529.4l4.2,4.8l-4.2,4.8l-4.2,-4.8zM608.7,555.4l4.2,4.8l-4.2,4.8l-4.2,-4.8zM623.4,556.3l4.2,4.8l-4.2,4.8l-4.2,-4.8zM638.1,541.5l4.2,4.8l-4.2,4.8l-4.2,-4.8zM652.7,546.0l4.2,4.8l-4.2,4.8l-4.2,-4.8zM667.4,542.0l4.2,4.8l-4.2,4.8l-4.2,-4.8zM682.1,541.7l4.2,4.8l-4.2,4.8l-4.2,-4.8z"/>
<path d="M109.9,538.4l4.2,4.8l-4.2,4.8l-4.2,-4.8zM124.6,504.3l4.2,4.8l-4.2,4.8l-4.2,-4.8zM139.2,546.3l4.2,4.8l-4.2,4.8l-4.2,-4.8zM153.9,548.9l4.2,4.8l-4.2,4.8l-4.2,-4.8zM168.6,546.0l4.2,4.8l-4.2,4.8l-4.2,-4.8zM183.3,572.6l4.2,4.8l-4.2,4.8l-4.2,-4.8zM197.9,532.7l4.2,4.8l-4.2,4.8l-4.2,-4.8zM212.6,532.9l4.2,4.8l-4.2,4.8l-4.2,-4.8zM227.3,550.2l4.2,4.8l-4.2,4.8l-4.2,-4.8zM241.9,483.1l4.2,4.8l-4.2,4.8l-4.2,-4.8zM256.6,545.0l4.2,4.8l-4.2,4.8l-4.2,-4.8zM271.3,536.8l4.2,4.8l-4.2,4.8l-4.2,-4.8zM286.0,574.8l4.2,4.8l-4.2,4.8l-4.2,-4.8zM300.6,523.0l4.2,4.8l-4.2,4.8l-4.2,-4.8zM315.3,545.6l4.2,4.8l-4.2,4.8l-4.2,-4.8zM330.0,582.2l4.2,4.8l-4.2,4.8l-4.2,-4.8zM344.6,573.1l4.2,4.8l-4.2,4.8l-4.2,-4.8zM359.3,555.6l4.2,4.8l-4.2,4.8l-4.2,-4.8zM374.0,539.6l4.2,4.8l-4.2,4.8l-4.2,-4.8zM388.6,497.9l4.2,4.8l-4.2,4.8l-4.2,-4.8zM403.3,557.8l4.2,4.8l-4.2,4.8l-4.2,-4.8zM418.0,545.6l4.2,4.8l-4.2,4.8l-4.2,-4.8zM432.7,540.9l4.2,4.8l-4.2,4.8l-4.2,-4.8zM447.3,547.8l4.2,4.8l-4.2,4.8l-4.2,-4.8zM462.0,564.6l4.2,4.8l-4.2,4.8l-4.2,-4.8zM476.7,536.1l4.2,4.8l-4.2,4.8l-4.2,-4.8zM491.3,544.0l4.2,4.8l-4.2,4.8l-4.2,-4.8zM506.0,546.3l4.2,4.8l-4.2,4.8l-4.2,-4.8zM520.7,528.9l4.2,4.8l-4.2,4.8l-4.2,-4.8zM535.4,558.8l4.2,4.8l-4.2,4.8l-4.2,-4.8zM550.0,552.5l4.2,4.8l-4.2,4.8l-4.2,-4.8zM564.7,568.2l4.2,4.8l-4.2,4.8l-4.2,-4.8zM579.4,538.6l4.2,4.8l-4.2,4.8l-4.2,-4.8zM594.0,513.5l4.2,4.8l-4.2,4.8l-4.2,-4.8zM608.7,544.3l4.2,4.8l-4.2,4.8l-4.2,-4.8zM623.4,532.7l4.2,4.8l-4.2,4.8l-4.2,-4.8zM638.1,533.5l4.2,4.8l-4.2,4.8l-4.2,-4.8zM652.7,576.1l4.2,4.8l-4.2,4.8l-4.2,-4.8zM667.4,548.8l4.2,4.8l-4.2,4.8l-4.2,-4.8zM682.1,552.7l4.2,4.8l-4.2,4.8l-4.2,-4.8z"/>
<path d="M109.9,542.9l4.2,4.8l-4.2,4.8l-4.2,-4.8zM124.6,542.9l4.2,4.8l-4.2,4.8l-4.2,-4.8zM139.2,536.8l4.2,4.8l-4.2,4.8l-4.2,-4.8zM153.9,540.3l4.2,4.8l-4.2,4.8l-4.2,-4.8zM168.6,565.8l4.2,4.8l-4.2,4.8l-4.2,-4.8zM183.3,562.4l4.2,4.8l-4.2,4.8l-4.2,-4.8zM197.9,538.3l4.2,4.8l-4.2,4.8l-4.2,-4.8zM212.6,557.5l4.2,4.8l-4.2,4.8l-4.2,-4.8zM227.3,527.5l4.2,4.8l-4.2,4.8l-4.2,-4.8zM241.9,530.4l4.2,4.8l-4.2,4.8l-4.2,-4.8zM256.6,569.2l4.2,4.8l-4.2,4.8l-4.2,-4.8zM271.3,555.2l4.2,4.8l-4.2,4.8l-4.2,-4.8zM286.0,560.6l4.2,4.8l-4.2,4.8l-4.2,-4.8zM300.6,557.0l4.2,4.8l-4.2,4.8l-4.2,-4.8zM315.3,486.5l4.2,4.8l-4.2,4.8l-4.2,-4.8zM330.0,545.1l4.2,4.8l-4.2,4.8l-4.2,-4.8zM344.6,582.2l4.2,4.8l-4.2,4.8l-4.2,-4.8zM359.3,524.5l4.2,4.8l-4.2,4.8l-4.2,-4.8zM374.0,536.2l4.2,4.8l-4.2,4.8l-4.2,-4.8zM388.6,552.4l4.2,4.8l-4.2,4.8l-4.2,-4.8zM403.3,526.8l4.2,4.8l-4.2,4.8l-4.2,-4.8zM418.0,534.9l4.2,4.8l-4.2,4.8l-4.2,-4.8zM432.7,559.5l4.2,4.8l-4.2,4.8l-4.2,-4.8zM447.3,565.7l4.2,4.8l-4.2,4.8l-4.2,-4.8zM462.0,561.5l4.2,4.8l-4.2,4.8l-4.2,-4.8zM476.7,552.4l4.2,4.8l-4.2,4.8l-4.2,-4.8zM491.3,568.2l4.2,4.8l-4.2,4.8l-4.2,-4.8zM506.0,481.4l4.2,4.8l-4.2,4.8l-4.2,-4.8zM520.7,554.7l4.2,4.8l-4.2,4.8l-4.2,-4.8zM535.4,558.8l4.2,4.8l-4.2,4.8l-4.2,-4.8zM550.0,541.9l4.2,4.8l-4.2,4.8l-4.2,-4.8zM564.7,546.9l4.2,4.8l-4.2,4.8l-4.2,-4.8zM579.4,534.5l4.2,4.8l-4.2,4.8l-4.2,-4.8zM594.0,549.0l4.2,4.8l-4.2,4.8l-4.2,-4.8zM608.7,518.6l4.2,4.8l-4.2,4.8l-4.2,-4.8zM623.4,526.4l4.2,4.8l-4.2,4.8l-4.2,-4.8zM638.1,519.2l4.2,4.8l-4.2,4.8l-4.2,-4.8zM652.7,545.3l4.2,4.8l-4.2,4.8l-4.2,-4.8zM667.4,551.0l4.2,4.8l-4.2,4.8l-4.2,-4.8zM682.1,538.3l4.2,4.8l-4.2,4.8l-4.2,-4.8z"/>
<path d="M109.9,534.5l4.2,4.8l-4.2,4.8l-4.2,-4.8zM124.6,538.6l4.2,4.8l-4.2,4.8l-4.2,-4.8zM139.2,571.3l4.2,4.8l-4.2,4.8l-4.2,-4.8zM153.9,524.0l4.2,4.8l-4.2,4.8l-4.2,-4.8zM168.6,547.7l4.2,4.8l-4.2,4.8l-4.2,-4.8zM183.3,567.2l4.2,4.8l-4.2,4.8l-4.2,-4.8zM197.9,555.9l4.2,4.8l-4.2,4.8l-4.2,-4.8zM212.6,511.7l4.2,4.8l-4.2,4.8l-4.2,-4.8zM227.3,517.5l4.2,4.8l-4.2,4.8l-4.2,-4.8zM241.9,503.3l4.2,4.8l-4.2,4.8l-4.2,-4.8zM256.6,546.7l4.2,4.8l-4.2,4.8l-4.2,-4.8zM271.3,488.8l4.2,4.8l-4.2,4.8l-4.2,-4.8zM286.0,558.4l4.2,4.8l-4.2,4.8l-4.2,-4.8zM300.6,549.0l4.2,4.8l-4.2,4.8l-4.2,-4.8zM315.3,562.6l4.2,4.8l-4.2,4.8l-4.2,-4.8zM330.0,555.4l4.2,4.8l-4.2,4.8l-4.2,-4.8zM344.6,557.8l4.2,4.8l-4.2,4.8l-4.2,-4.8zM359.3,569.5l4.2,4.8l-4.2,4.8l-4.2,-4.8zM374.0,561.5l4.2,4.8l-4.2,4.8l-4.2,-4.8zM388.6,546.4l4.2,4.8l-4.2,4.8l-4.2,-4.8zM403.3,540.7l4.2,4.8l-4.2,4.8l-4.2,-4.8zM418.0,454.1l4.2,4.8l-4.2,4.8l-4.2,-4.8zM432.7,541.3l4.2,4.8l-4.2,4.8l-4.2,-4.8zM447.3,510.7l4.2,4.8l-4.2,4.8l-4.2,-4.8zM462.0,548.5l4.2,4.8l-4.2,4.8l-4.2,-4.8zM476.7,527.5l4.2,4.8l-4.2,4.8l-4.2,-4.8zM491.3,539.6l4.2,4.8l-4.2,4.8l-4.2,-4.8zM506.0,546.1l4.2,4.8l-4.2,4.8l-4.2,-4.8zM520.7,537.6l4.2,4.8l-4.2,4.8l-4.2,-4.8zM535.4,569.3l4.2,4.8l-4.2,4.8l-4.2,-4.8zM550.0,541.1l4.2,4.8l-4.2,4.8l-4.2,-4.8zM564.7,549.3l4.2,4.8l-4.2,4.8l-4.2,-4.8zM579.4,551.7l4.2,4.8l-4.2,4.8l-4.2,-4.8zM594.0,528.3l4.2,4.8l-4.2,4.8l-4.2,-4.8zM608.7,533.8l4.2,4.8l-4.2,4.8l-4.2,-4.8zM623.4,555.2l4.2,4.8l-4.2,4.8l-4.2,-4.8zM638.1,516.5l4.2,4.8l-4.2,4.8l-4.2,-4.8zM652.7,556.4l4.2,4.8l-4.2,4.8l-4.2,-4.8zM667.4,555.1l4.2,4.8l-4.2,4.8l-4.2,-4.8zM682.1,541.3l4.2,4.8l-4.2,4.8l-4.2,-4.8z"/>
<path d="M109.9,523.2l4.2,4.8l-4.2,4.8l-4.2,-4.8zM124.6,556.0l4.2,4.8l-4.2,4.8l-4.2,-4.8zM139.2,546.7l4.2,4.8l-4.2,4.8l-4.2,-4.8zM153.9,543.0l4.2,4.8l-4.2,4.8l-4.2,-4.8zM168.6,540.1l4.2,4.8l-4.2,4.8l-4.2,-4.8zM183.3,572.0l4.2,4.8l-4.2,4.8l-4.2,-4.8zM197.9,500.9l4.2,4.8l-4.2,4.8l-4.2,-4.8zM212.6,511.2l4.2,4.8l-4.2,4.8l-4.2,-4.8zM227.3,532.3l4.2,4.8l-4.2,4.8l-4.2,-4.8zM241.9,504.2l4.2,4.8l-4.2,4.8l-4.2,-4.8zM256.6,564.2l4.2,4.8l-4.2,4.8l-4.2,-4.8zM271.3,553.8l4.2,4.8l-4.2,4.8l-4.2,-4.8zM286.0,521.8l4.2,4.8l-4.2,4.8l-4.2,-4.8zM300.6,497.5l4.2,4.8l-4.2,4.8l-4.2,-4.8zM315.3,547.7l4.2,4.8l-4.2,4.8l-4.2,-4.8zM330.0,582.2l4.2,4.8l-4.2,4.8l-4.2,-4.8zM344.6,557.1l4.2,4.8l-4.2,4.8l-4.2,-4.8zM359.3,556.4l4.2,4.8l-4.2,4.8l-4.2,-4.8zM374.0,562.6l4.2,4.8l-4.2,4.8l-4.2,-4.8zM388.6,471.1l4.2,4.8l-4.2,4.8l-4.2,-4.8zM403.3,552.4l4.2,4.8l-4.2,4.8l-4.2,-4.8zM418.0,559.9l4.2,4.8l-4.2,4.8l-4.2,-4.8zM432.7,553.4l4.2,4.8l-4.2,4.8l-4.2,-4.8zM447.3,560.2l4.2,4.8l-4.2,4.8l-4.2,-4.8zM462.0,572.8l4.2,4.8l-4.2,4.8l-4.2,-4.8zM476.7,558.9l4.2,4.8l-4.2,4.8l-4.2,-4.8zM491.3,576.7l4.2,4.8l-4.2,4.8l-4.2,-4.8zM506.0,539.8l4.2,4.8l-4.2,4.8l-4.2,-4.8zM520.7,542.0l4.2,4.8l-4.2,4.8l-4.2,-4.8zM535.4,551.4l4.2,4.8l-4.2,4.8l-4.2,-4.8zM550.0,542.4l4.2,4.8l-4.2,4.8l-4.2,-4.8zM564.7,537.7l4.2,4.8l-4.2,4.8l-4.2,-4.8zM579.4,550.7l4.2,4.8l-4.2,4.8l-4.2,-4.8zM594.0,531.2l4.2,4.8l-4.2,4.8l-4.2,-4.8zM608.7,521.3l4.2,4.8l-4.2,4.8l-4.2,-4.8zM623.4,550.0l4.2,4.8l-4.2,4.8l-4.2,-4.8zM638.1,524.6l4.2,4.8l-4.2,4.8l-4.2,-4.8zM652.7,540.9l4.2,4.8l-4.2,4.8l-4.2,-4.8zM667.4,552.2l4.2,4.8l-4.2,4.8l-4.2,-4.8zM682.1,561.8l4.2,4.8l-4.2,4.8l-4.2,-4.8z"/>
<path d="M109.9,551.8l4.2,4.8l-4.2,4.8l-4.2,-4.8zM124.6,546.9l4.2,4.8l-4.2,4.8l-4.2,-4.8zM139.2,572.6l4.2,4.8l-4.2,4.8l-4.2,-4.8zM153.9,550.2l4.2,4.8l-4.2,4.8l-4.2,-4.8zM168.6,549.6l4.2,4.8l-4.2,4.8l-4.2,-4.8zM183.3,551.4l4.2,4.8l-4.2,4.8l-4.2,-4.8zM197.9,546.2l4.2,4.8l-4.2,4.8l-4.2,-4.8zM212.6,525.5l4.2,4.8l-4.2,4.8l-4.2,-4.8zM227.3,530.7l4.2,4.8l-4.2,4.8l-4.2,-4.8zM241.9,555.9l4.2,4.8l-4.2,4.8l-4.2,-4.8zM256.6,571.3l4.2,4.8l-4.2,4.8l-4.2,-4.8zM271.3,562.0l4.2,4.8l-4.2,4.8l-4.2,-4.8zM286.0,544.5l4.2,4.8l-4.2,4.8l-4.2,-4.8zM300.6,533.0l4.2,4.8l-4.2,4.8l-4.2,-4.8zM315.3,550.7l4.2,4.8l-4.2,4.8l-4.2,-4.8zM330.0,576.2l4.2,4.8l-4.2,4.8l-4.2,-4.8zM344.6,568.6l4.2,4.8l-4.2,4.8l-4.2,-4.8zM359.3,543.5l4.2,4.8l-4.2,4.8l-4.2,-4.8zM374.0,577.3l4.2,4.8l-4.2,4.8l-4.2,-4.8zM388.6,527.3l4.2,4.8l-4.2,4.8l-4.2,-4.8zM403.3,565.1l4.2,4.8l-4.2,4.8l-4.2,-4.8zM418.0,530.7l4.2,4.8l-4.2,4.8l-4.2,-4.8zM432.7,556.5l4.2,4.8l-4.2,4.8l-4.2,-4.8zM447.3,541.2l4.2,4.8l-4.2,4.8l-4.2,-4.8zM462.0,556.4l4.2,4.8l-4.2,4.8l-4.2,-4.8zM476.7,541.6l4.2,4.8l-4.2,4.8l-4.2,-4.8zM491.3,552.7l4.2,4.8l-4.2,4.8l-4.2,-4.8zM506.0,539.9l4.2,4.8l-4.2,4.8l-4.2,-4.8zM520.7,560.7l4.2,4.8l-4.2,4.8l-4.2,-4.8zM535.4,520.3l4.2,4.8l-4.2,4.8l-4.2,-4.8zM550.0,539.1l4.2,4.8l-4.2,4.8l-4.2,-4.8zM564.7,552.8l4.2,4.8l-4.2,4.8l-4.2,-4.8zM579.4,556.6l4.2,4.8l-4.2,4.8l-4.2,-4.8zM594.0,522.2l4.2,4.8l-4.2,4.8l-4.2,-4.8zM608.7,538.5l4.2,4.8l-4.2,4.8l-4.2,-4.8zM623.4,547.5l4.2,4.8l-4.2,4.8l-4.2,-4.8zM638.1,476.3l4.2,4.8l-4.2,4.8l-4.2,-4.8zM652.7,556.4l4.2,4.8l-4.2,4.8l-4.2,-4.8zM667.4,561.4l4.2,4.8l-4.2,4.8l-4.2,-4.8zM682.1,565.8l4.2,4.8l-4.2,4.8l-4.2,-4.8z"/>
<path d="M109.9,551.3l4.2,4.8l-4.2,4.8l-4.2,-4.8zM124.6,557.5l4.2,4.8l-4.2,4.8l-4.2,-4.8zM139.2,544.3l4.2,4.8l-4.2,4.8l-4.2,-4.8zM153.9,527.2l4.2,4.8l-4.2,4.8l-4.2,-4.8zM168.6,565.7l4.2,4.8l-4.2,4.8l-4.2,-4.8zM183.3,582.2l4.2,4.8l-4.2,4.8l-4.2,-4.8zM197.9,548.7l4.2,4.8l-4.2,4.8l-4.2,-4.8zM212.6,504.5l4.2,4.8l-4.2,4.8l-4.2,-4.8zM227.3,536.9l4.2,4.8l-4.2,4.8l-4.2,-4.8zM241.9,529.5l4.2,4.8l-4.2,4.8l-4.2,-4.8zM256.6,532.8l4.2,4.8l-4.2,4.8l-4.2,-4.8zM271.3,544.6l4.2,4.8l-4.2,4.8l-4.2,-4.8zM286.0,555.1l4.2,4.8l-4.2,4.8l-4.2,-4.8zM300.6,559.0l4.2,4.8l-4.2,4.8l-4.2,-4.8zM315.3,543.2l4.2,4.8l-4.2,4.8l-4.2,-4.8zM330.0,546.5l4.2,4.8l-4.2,4.8l-4.2,-4.8zM344.6,558.0l4.2,4.8l-4.2,4.8l-4.2,-4.8zM359.3,547.7l4.2,4.8l-4.2,4.8l-4.2,-4.8zM374.0,565.3l4.2,4.8l-4.2,4.8l-4.2,-4.8zM388.6,546.1l4.2,4.8l-4.2,4.8l-4.2,-4.8zM403.3,564.5l4.2,4.8l-4.2,4.8l-4.2,-4.8zM418.0,513.0l4.2,4.8l-4.2,4.8l-4.2,-4.8zM432.7,496.0l4.2,4.8l-4.2,4.8l-4.2,-4.8zM447.3,545.5l4.2,4.8l-4.2,4.8l-4.2,-4.8zM462.0,559.4l4.2,4.8l-4.2,4.8l-4.2,-4.8zM476.7,547.7l4.2,4.8l-4.2,4.8l-4.2,-4.8zM491.3,582.2l4.2,4.8l-4.2,4.8l-4.2,-4.8zM506.0,557.5l4.2,4.8l-4.2,4.8l-4.2,-4.8zM520.7,567.8l4.2,4.8l-4.2,4.8l-4.2,-4.8zM535.4,558.6l4.2,4.8l-4.2,4.8l-4.2,-4.8zM550.0,547.1l4.2,4.8l-4.2,4.8l-4.2,-4.8zM564.7,545.4l4.2,4.8l-4.2,4.8l-4.2,-4.8zM579.4,538.9l4.2,4.8l-4.2,4.8l-4.2,-4.8zM594.0,539.1l4.2,4.8l-4.2,4.8l-4.2,-4.8zM608.7,488.2l4.2,4.8l-4.2,4.8l-4.2,-4.8zM623.4,559.0l4.2,4.8l-4.2,4.8l-4.2,-4.8zM638.1,514.5l4.2,4.8l-4.2,4.8l-4.2,-4.8zM652.7,545.1l4.2,4.8l-4.2,4.8l-4.2,-4.8zM667.4,553.8l4.2,4.8l-4.2,4.8l-4.2,-4.8zM682.1,580.9l4.2,4.8l-4.2,4.8l-4.2,-4.8z"/>
<path d="M109.9,526.6l4.2,4.8l-4.2,4.8l-4.2,-4.8zM124.6,525.8l4.2,4.8l-4.2,4.8l-4.2,-4.8zM139.2,582.2l4.2,4.8l-4.2,4.8l-4.2,-4.8zM153.9,527.4l4.2,4.8l-4.2,4.8l-4.2,-4.8zM168.6,528.4l4.2,4.8l-4.2,4.8l-4.2,-4.8zM183.3,551.3l4.2,4.8l-4.2,4.8l-4.2,-4.8zM197.9,525.9l4.2,4.8l-4.2,4.8l-4.2,-4.8zM212.6,514.7l4.2,4.8l-4.2,4.8l-4.2,-4.8zM227.3,501.0l4.2,4.8l-4.2,4.8l-4.2,-4.8zM241.9,538.1l4.2,4.8l-4.2,4.8l-4.2,-4.8zM256.6,571.9l4.2,4.8l-4.2,4.8l-4.2,-4.8zM271.3,534.6l4.2,4.8l-4.2,4.8l-4.2,-4.8zM286.0,560.2l4.2,4.8l-4.2,4.8l-4.2,-4.8zM300.6,546.1l4.2,4.8l-4.2,4.8l-4.2,-4.8zM315.3,541.7l4.2,4.8l-4.2,4.8l-4.2,-4.8zM330.0,566.8l4.2,4.8l-4.2,4.8l-4.2,-4.8zM344.6,554.2l4.2,4.8l-4.2,4.8l-4.2,-4.8zM359.3,552.7l4.2,4.8l-4.2,4.8l-4.2,-4.8zM374.0,582.2l4.2,4.8l-4.2,4.8l-4.2,-4.8zM388.6,531.7l4.2,4.8l-4.2,4.8l-4.2,-4.8zM403.3,522.2l4.2,4.8l-4.2,4.8l-4.2,-4.8zM418.0,520.3l4.2,4.8l-4.2,4.8l-4.2,-4.8zM432.7,545.8l4.2,4.8l-4.2,4.8l-4.2,-4.8zM447.3,532.3l4.2,4.8l-4.2,4.8l-4.2,-4.8zM462.0,560.9l4.2,4.8l-4.2,4.8l-4.2,-4.8zM476.7,545.5l4.2,4.8l-4.2,4.8l-4.2,-4.8zM491.3,582.2l4.2,4.8l-4.2,4.8l-4.2,-4.8zM506.0,493.3l4.2,4.8l-4.2,4.8l-4.2,-4.8zM520.7,540.4l4.2,4.8l-4.2,4.8l-4.2,-4.8zM535.4,524.2l4.2,4.8l-4.2,4.8l-4.2,-4.8zM550.0,566.0l4.2,4.8l-4.2,4.8l-4.2,-4.8zM564.7,524.3l4.2,4.8l-4.2,4.8l-4.2,-4.8zM579.4,573.3l4.2,4.8l-4.2,4.8l-4.2,-4.8zM594.0,517.1l4.2,4.8l-4.2,4.8l-4.2,-4.8zM608.7,518.4l4.2,4.8l-4.2,4.8l-4.2,-4.8zM623.4,547.9l4.2,4.8l-4.2,4.8l-4.2,-4.8zM638.1,543.2l4.2,4.8l-4.2,4.8l-4.2,-4.8zM652.7,545.3l4.2,4.8l-4.2,4.8l-4.2,-4.8zM667.4,553.5l4.2,4.8l-4.2,4.8l-4.2,-4.8zM682.1,572.2l4.2,4.8l-4.2,4.8l-4.2,-4.8z"/>
<path d="M109.9,496.8l4.2,4.8l-4.2,4.8l-4.2,-4.8zM124.6,538.0l4.2,4.8l-4.2,4.8l-4.2,-4.8zM139.2,528.7l4.2,4.8l-4.2,4.8l-4.2,-4.8zM153.9,511.6l4.2,4.8l-4.2,4.8l-4.2,-4.8zM168.6,552.0l4.2,4.8l-4.2,4.8l-4.2,-4.8zM183.3,545.7l4.2,4.8l-4.2,4.8l-4.2,-4.8zM197.9,532.2l4.2,4.8l-4.2,4.8l-4.2,-4.8zM212.6,529.6l4.2,4.8l-4.2,4.8l-4.2,-4.8zM227.3,540.4l4.2,4.8l-4.2,4.8l-4.2,-4.8zM241.9,547.8l4.2,4.8l-4.2,4.8l-4.2,-4.8zM256.6,572.1l4.2,4.8l-4.2,4.8l-4.2,-4.8zM271.3,556.0l4.2,4.8l-4.2,4.8l-4.2,-4.8zM286.0,562.2l4.2,4.8l-4.2,4.8l-4.2,-4.8zM300.6,557.8l4.2,4.8l-4.2,4.8l-4.2,-4.8zM315.3,548.6l4.2,4.8l-4.2,4.8l-4.2,-4.8zM330.0,565.9l4.2,4.8l-4.2,4.8l-4.2,-4.8zM344.6,565.7l4.2,4.8l-4.2,4.8l-4.2,-4.8zM359.3,556.0l4.2,4.8l-4.2,4.8l-4.2,-4.8zM374.0,582.2l4.2,4.8l-4.2,4.8l-4.2,-4.8zM388.6,517.2l4.2,4.8l-4.2,4.8l-4.2,-4.8zM403.3,542.2l4.2,4.8l-4.2,4.8l-4.2,-4.8zM418.0,557.5l4.2,4.8l-4.2,4.8l-4.2,-4.8zM432.7,536.8l4.2,4.8l-4.2,4.8l-4.2,-4.8zM447.3,539.3l4.2,4.8l-4.2,4.8l-4.2,-4.8zM462.0,572.6l4.2,4.8l-4.2,4.8l-4.2,-4.8zM476.7,551.9l4.2,4.8l-4.2,4.8l-4.2,-4.8zM491.3,554.5l4.2,4.8l-4.2,4.8l-4.2,-4.8zM506.0,533.2l4.2,4.8l-4.2,4.8l-4.2,-4.8zM520.7,554.3l4.2,4.8l-4.2,4.8l-4.2,-4.8zM535.4,537.5l4.2,4.8l-4.2,4.8l-4.2,-4.8zM550.0,570.6l4.2,4.8l-4.2,4.8l-4.2,-4.8zM564.7,579.3l4.2,4.8l-4.2,4.8l-4.2,-4.8zM579.4,524.2l4.2,4.8l-4.2,4.8l-4.2,-4.8zM594.0,527.0l4.2,4.8l-4.2,4.8l-4.2,-4.8zM608.7,520.5l4.2,4.8l-4.2,4.8l-4.2,-4.8zM623.4,558.9l4.2,4.8l-4.2,4.8l-4.2,-4.8zM638.1,538.0l4.2,4.8l-4.2,4.8l-4.2,-4.8zM652.7,561.0l4.2,4.8l-4.2,4.8l-4.2,-4.8zM667.4,559.4l4.2,4.8l-4.2,4.8l-4.2,-4.8zM682.1,553.2l4.2,4.8l-4.2,4.8l-4.2,-4.8z"/>
<path d="M109.9,528.0l4.2,4.8l-4.2,4.8l-4.2,-4.8zM124.6,523.6l4.2,4.8l-4.2,4.8l-4.2,-4.8zM139.2,552.8l4.2,4.8l-4.2,4.8l-4.2,-4.8zM153.9,572.0l4.2,4.8l-4.2,4.8l-4.2,-4.8zM168.6,533.8l4.2,4.8l-4.2,4.8l-4.2,-4.8zM183.3,546.2l4.2,4.8l-4.2,4.8l-4.2,-4.8zM197.9,526.9l4.2,4.8l-4.2,4.8l-4.2,-4.8zM212.6,523.4l4.2,4.8l-4.2,4.8l-4.2,-4.8zM227.3,545.4l4.2,4.8l-4.2,4.8l-4.2,-4.8zM241.9,538.6l4.2,4.8l-4.2,4.8l-4.2,-4.8zM256.6,511.3l4.2,4.8l-4.2,4.8l-4.2,-4.8zM271.3,553.8l4.2,4.8l-4.2,4.8l-4.2,-4.8zM286.0,582.2l4.2,4.8l-4.2,4.8l-4.2,-4.8zM300.6,546.1l4.2,4.8l-4.2,4.8l-4.2,-4.8zM315.3,573.7l4.2,4.8l-4.2,4.8l-4.2,-4.8zM330.0,560.6l4.2,4.8l-4.2,4.8l-4.2,-4.8zM344.6,571.5l4.2,4.8l-4.2,4.8l-4.2,-4.8zM359.3,552.1l4.2,4.8l-4.2,4.8l-4.2,-4.8zM374.0,569.3l4.2,4.8l-4.2,4.8l-4.2,-4.8zM388.6,543.2l4.2,4.8l-4.2,4.8l-4.2,-4.8zM403.3,546.9l4.2,4.8l-4.2,4.8l-4.2,-4.8zM418.0,540.7l4.2,4.8l-4.2,4.8l-4.2,-4.8zM432.7,547.9l4.2,4.8l-4.2,4.8l-4.2,-4.8zM447.3,539.1l4.2,4.8l-4.2,4.8l-4.2,-4.8zM462.0,575.2l4.2,4.8l-4.2,4.8l-4.2,-4.8zM476.7,533.0l4.2,4.8l-4.2,4.8l-4.2,-4.8zM491.3,582.2l4.2,4.8l-4.2,4.8l-4.2,-4.8zM506.0,551.5l4.2,4.8l-4.2,4.8l-4.2,-4.8zM520.7,550.9l4.2,4.8l-4.2,4.8l-4.2,-4.8zM535.4,573.0l4.2,4.8l-4.2,4.8l-4.2,-4.8zM550.0,543.9l4.2,4.8l-4.2,4.8l-4.2,-4.8zM564.7,544.6l4.2,4.8l-4.2,4.8l-4.2,-4.8zM579.4,544.5l4.2,4.8l-4.2,4.8l-4.2,-4.8zM594.0,481.4l4.2,4.8l-4.2,4.8l-4.2,-4.8zM608.7,512.1l4.2,4.8l-4.2,4.8l-4.2,-4.8zM623.4,560.6l4.2,4.8l-4.2,4.8l-4.2,-4.8zM638.1,545.1l4.2,4.8l-4.2,4.8l-4.2,-4.8zM652.7,568.1l4.2,4.8l-4.2,4.8l-4.2,-4.8zM667.4,557.9l4.2,4.8l-4.2,4.8l-4.2,-4.8zM682.1,546.1l4.2,4.8l-4.2,4.8l-4.2,-4.8z"/>
<path d="M109.9,508.7l4.2,4.8l-4.2,4.8l-4.2,-4.8zM124.6,533.3l4.2,4.8l-4.2,4.8l-4.2,-4.8zM139.2,564.1l4.2,4.8l-4.2,4.8l-4.2,-4.8zM153.9,546.5l4.2,4.8l-4.2,4.8l-4.2,-4.8zM168.6,570.3l4.2,4.8l-4.2,4.8l-4.2,-4.8zM183.3,581.3l4.2,4.8l-4.2,4.8l-4.2,-4.8zM197.9,557.2l4.2,4.8l-4.2,4.8l-4.2,-4.8zM212.6,525.2l4.2,4.8l-4.2,4.8l-4.2,-4.8zM227.3,559.4l4.2,4.8l-4.2,4.8l-4.2,-4.8zM241.9,518.1l4.2,4.8l-4.2,4.8l-4.2,-4.8zM256.6,542.9l4.2,4.8l-4.2,4.8l-4.2,-4.8zM271.3,565.5l4.2,4.8l-4.2,4.8l-4.2,-4.8zM286.0,556.3l4.2,4.8l-4.2,4.8l-4.2,-4.8zM300.6,568.2l4.2,4.8l-4.2,4.8l-4.2,-4.8zM315.3,536.9l4.2,4.8l-4.2,4.8l-4.2,-4.8zM330.0,572.3l4.2,4.8l-4.2,4.8l-4.2,-4.8zM344.6,558.9l4.2,4.8l-4.2,4.8l-4.2,-4.8zM359.3,550.0l4.2,4.8l-4.2,4.8l-4.2,-4.8zM374.0,545.8l4.2,4.8l-4.2,4.8l-4.2,-4.8zM388.6,547.4l4.2,4.8l-4.2,4.8l-4.2,-4.8zM403.3,546.6l4.2,4.8l-4.2,4.8l-4.2,-4.8zM418.0,527.4l4.2,4.8l-4.2,4.8l-4.2,-4.8zM432.7,551.8l4.2,4.8l-4.2,4.8l-4.2,-4.8zM447.3,545.3l4.2,4.8l-4.2,4.8l-4.2,-4.8zM462.0,552.9l4.2,4.8l-4.2,4.8l-4.2,-4.8zM476.7,551.4l4.2,4.8l-4.2,4.8l-4.2,-4.8zM491.3,553.8l4.2,4.8l-4.2,4.8l-4.2,-4.8zM506.0,523.2l4.2,4.8l-4.2,4.8l-4.2,-4.8zM520.7,563.4l4.2,4.8l-4.2,4.8l-4.2,-4.8zM535.4,561.5l4.2,4.8l-4.2,4.8l-4.2,-4.8zM550.0,539.7l4.2,4.8l-4.2,4.8l-4.2,-4.8zM564.7,558.2l4.2,4.8l-4.2,4.8l-4.2,-4.8zM579.4,556.6l4.2,4.8l-4.2,4.8l-4.2,-4.8zM594.0,517.7l4.2,4.8l-4.2,4.8l-4.2,-4.8zM608.7,533.2l4.2,4.8l-4.2,4.8l-4.2,-4.8zM623.4,528.9l4.2,4.8l-4.2,4.8l-4.2,-4.8zM638.1,539.1l4.2,4.8l-4.2,4.8l-4.2,-4.8zM652.7,559.5l4.2,4.8l-4.2,4.8l-4.2,-4.8zM667.4,581.5l4.2,4.8l-4.2,4.8l-4.2,-4.8zM682.1,568.1l4.2,4.8l-4.2,4.8l-4.2,-4.8z"/>
<path d="M109.9,535.9l4.2,4.8l-4.2,4.8l-4.2,-4.8zM124.6,539.5l4.2,4.8l-4.2,4.8l-4.2,-4.8zM139.2,541.6l4.2,4.8l-4.2,4.8l-4.2,-4.8zM153.9,526.6l4.2,4.8l-4.2,4.8l-4.2,-4.8zM168.6,562.2l4.2,4.8l-4.2,4.8l-4.2,-4.8zM183.3,559.3l4.2,4.8l-4.2,4.8l-4.2,-4.8zM197.9,546.7l4.2,4.8l-4.2,4.8l-4.2,-4.8zM212.6,526.7l4.2,4.8l-4.2,4.8l-4.2,-4.8zM227.3,536.0l4.2,4.8l-4.2,4.8l-4.2,-4.8zM241.9,524.4l4.2,4.8l-4.2,4.8l-4.2,-4.8zM256.6,575.4l4.2,4.8l-4.2,4.8l-4.2,-4.8zM271.3,538.2l4.2,4.8l-4.2,4.8l-4.2,-4.8zM286.0,568.8l4.2,4.8l-4.2,4.8l-4.2,-4.8zM300.6,559.9l4.2,4.8l-4.2,4.8l-4.2,-4.8zM315.3,551.2l4.2,4.8l-4.2,4.8l-4.2,-4.8zM330.0,571.9l4.2,4.8l-4.2,4.8l-4.2,-4.8zM344.6,568.2l4.2,4.8l-4.2,4.8l-4.2,-4.8zM359.3,575.9l4.2,4.8l-4.2,4.8l-4.2,-4.8zM374.0,571.8l4.2,4.8l-4.2,4.8l-4.2,-4.8zM388.6,549.1l4.2,4.8l-4.2,4.8l-4.2,-4.8zM403.3,550.3l4.2,4.8l-4.2,4.8l-4.2,-4.8zM418.0,525.9l4.2,4.8l-4.2,4.8l-4.2,-4.8zM432.7,522.2l4.2,4.8l-4.2,4.8l-4.2,-4.8zM447.3,556.7l4.2,4.8l-4.2,4.8l-4.2,-4.8zM462.0,547.4l4.2,4.8l-4.2,4.8l-4.2,-4.8zM476.7,540.1l4.2,4.8l-4.2,4.8l-4.2,-4.8zM491.3,534.1l4.2,4.8l-4.2,4.8l-4.2,-4.8zM506.0,496.9l4.2,4.8l-4.2,4.8l-4.2,-4.8zM520.7,556.0l4.2,4.8l-4.2,4.8l-4.2,-4.8zM535.4,551.9l4.2,4.8l-4.2,4.8l-4.2,-4.8zM550.0,561.7l4.2,4.8l-4.2,4.8l-4.2,-4.8zM564.7,563.0l4.2,4.8l-4.2,4.8l-4.2,-4.8zM579.4,498.6l4.2,4.8l-4.2,4.8l-4.2,-4.8zM594.0,506.7l4.2,4.8l-4.2,4.8l-4.2,-4.8zM608.7,534.0l4.2,4.8l-4.2,4.8l-4.2,-4.8zM623.4,553.0l4.2,4.8l-4.2,4.8l-4.2,-4.8zM638.1,528.5l4.2,4.8l-4.2,4.8l-4.2,-4.8zM652.7,554.8l4.2,4.8l-4.2,4.8l-4.2,-4.8zM667.4,568.5l4.2,4.8l-4.2,4.8l-4.2,-4.8zM682.1,549.0l4.2,4.8l-4.2,4.8l-4.2,-4.8z"/>
<path d="M109.9,539.2l4.2,4.8l-4.2,4.8l-4.2,-4.8zM124.6,563.4l4.2,4.8l-4.2,4.8l-4.2,-4.8zM139.2,532.5l4.2,4.8l-4.2,4.8l-4.2,-4.8zM153.9,523.2l4.2,4.8l-4.2,4.8l-4.2,-4.8zM168.6,527.3l4.2,4.8l-4.2,4.8l-4.2,-4.8zM183.3,558.5l4.2,4.8l-4.2,4.8l-4.2,-4.8zM197.9,550.4l4.2,4.8l-4.2,4.8l-4.2,-4.8zM212.6,548.3l4.2,4.8l-4.2,4.8l-4.2,-4.8zM227.3,540.2l4.2,4.8l-4.2,4.8l-4.2,-4.8zM241.9,510.4l4.2,4.8l-4.2,4.8l-4.2,-4.8zM256.6,545.9l4.2,4.8l-4.2,4.8l-4.2,-4.8zM271.3,523.6l4.2,4.8l-4.2,4.8l-4.2,-4.8zM286.0,560.3l4.2,4.8l-4.2,4.8l-4.2,-4.8zM300.6,554.9l4.2,4.8l-4.2,4.8l-4.2,-4.8zM315.3,517.3l4.2,4.8l-4.2,4.8l-4.2,-4.8zM330.0,552.5l4.2,4.8l-4.2,4.8l-4.2,-4.8zM344.6,545.7l4.2,4.8l-4.2,4.8l-4.2,-4.8zM359.3,557.4l4.2,4.8l-4.2,4.8l-4.2,-4.8zM374.0,547.0l4.2,4.8l-4.2,4.8l-4.2,-4.8zM388.6,552.5l4.2,4.8l-4.2,4.8l-4.2,-4.8zM403.3,520.8l4.2,4.8l-4.2,4.8l-4.2,-4.8zM418.0,533.9l4.2,4.8l-4.2,4.8l-4.2,-4.8zM432.7,571.8l4.2,4.8l-4.2,4.8l-4.2,-4.8zM447.3,578.1l4.2,4.8l-4.2,4.8l-4.2,-4.8zM462.0,546.6l4.2,4.8l-4.2,4.8l-4.2,-4.8zM476.7,536.5l4.2,4.8l-4.2,4.8l-4.2,-4.8zM491.3,560.9l4.2,4.8l-4.2,4.8l-4.2,-4.8zM506.0,560.7l4.2,4.8l-4.2,4.8l-4.2,-4.8zM520.7,519.3l4.2,4.8l-4.2,4.8l-4.2,-4.8zM535.4,580.9l4.2,4.8l-4.2,4.8l-4.2,-4.8zM550.0,550.8l4.2,4.8l-4.2,4.8l-4.2,-4.8zM564.7,565.9l4.2,4.8l-4.2,4.8l-4.2,-4.8zM579.4,579.6l4.2,4.8l-4.2,4.8l-4.2,-4.8zM594.0,550.0l4.2,4.8l-4.2,4.8l-4.2,-4.8zM608.7,532.2l4.2,4.8l-4.2,4.8l-4.2,-4.8zM623.4,522.8l4.2,4.8l-4.2,4.8l-4.2,-4.8zM638.1,536.5l4.2,4.8l-4.2,4.8l-4.2,-4.8zM652.7,522.2l4.2,4.8l-4.2,4.8l-4.2,-4.8zM667.4,532.8l4.2,4.8l-4.2,4.8l-4.2,-4.8zM682.1,579.7l4.2,4.8l-4.2,4.8l-4.2,-4.8z"/>
</g>
<g fill="none" stroke="#5aa2cc" stroke-width="0.9" stroke-opacity="0.36">
<path d="M109.9,568.3 124.6,531.1 139.2,538.4 153.9,558.6 168.6,548.5 183.3,556.0 197.9,566.2 212.6,553.6 227.3,553.7 241.9,546.4 256.6,542.5 271.3,574.8 286.0,567.9 300.6,555.5 315.3,554.6 330.0,557.3 344.6,561.1 359.3,531.9 374.0,550.2 388.6,553.1 403.3,550.6 418.0,555.3 432.7,544.2 447.3,429.8 462.0,538.4 476.7,531.4 491.3,543.0 506.0,558.2 520.7,536.7 535.4,551.4 550.0,572.0 564.7,556.0 579.4,552.9 594.0,544.8 608.7,568.8 623.4,555.2 638.1,562.1 652.7,526.4 667.4,558.3 682.1,542.4"/>
<path d="M109.9,579.0 124.6,541.6 139.2,547.2 153.9,554.1 168.6,543.5 183.3,515.8 197.9,545.4 212.6,548.8 227.3,562.5 241.9,555.6 256.6,573.2 271.3,553.0 286.0,558.0 300.6,554.1 315.3,587.0 330.0,552.9 344.6,564.2 359.3,545.2 374.0,575.6 388.6,469.1 403.3,534.6 418.0,550.7 432.7,557.9 447.3,524.6 462.0,516.6 476.7,555.5 491.3,544.0 506.0,548.7 520.7,554.6 535.4,559.8 550.0,547.4 564.7,568.0 579.4,527.4 594.0,562.0 608.7,558.0 623.4,559.4 638.1,553.5 652.7,532.9 667.4,541.7 682.1,528.7"/>
<path d="M109.9,558.8 124.6,536.0 139.2,539.4 153.9,546.4 168.6,546.9 183.3,557.0 197.9,551.1 212.6,550.9 227.3,564.3 241.9,544.4 256.6,576.8 271.3,563.7 286.0,560.1 300.6,548.2 315.3,545.8 330.0,556.2 344.6,570.7 359.3,566.6 374.0,544.0 388.6,565.9 403.3,580.7 418.0,543.6 432.7,566.7 447.3,488.7 462.0,524.2 476.7,555.5 491.3,548.9 506.0,550.5 520.7,548.5 535.4,548.2 550.0,562.4 564.7,553.0 579.4,564.6 594.0,535.2 608.7,547.8 623.4,540.3 638.1,587.0 652.7,546.5 667.4,554.8 682.1,474.2"/>
<path d="M109.9,554.6 124.6,564.6 139.2,534.4 153.9,548.7 168.6,547.4 183.3,565.5 197.9,547.8 212.6,577.9 227.3,565.2 241.9,560.0 256.6,559.9 271.3,554.8 286.0,547.7 300.6,550.6 315.3,540.6 330.0,540.6 344.6,539.6 359.3,549.2 374.0,560.8 388.6,566.2 403.3,552.2 418.0,546.9 432.7,557.1 447.3,555.0 462.0,547.6 476.7,534.9 491.3,552.7 506.0,543.7 520.7,556.5 535.4,549.7 550.0,541.2 564.7,571.7 579.4,484.5 594.0,553.1 608.7,569.5 623.4,526.5 638.1,551.5 652.7,537.0 667.4,532.0 682.1,549.8"/>
<path d="M109.9,543.1 124.6,528.1 139.2,531.1 153.9,570.4 168.6,561.1 183.3,547.8 197.9,550.4 212.6,586.9 227.3,547.0 241.9,553.1 256.6,562.9 271.3,547.4 286.0,553.7 300.6,486.3 315.3,566.5 330.0,558.0 344.6,555.9 359.3,560.4 374.0,551.7 388.6,538.8 403.3,556.2 418.0,568.5 432.7,549.3 447.3,568.7 462.0,547.4 476.7,539.8 491.3,557.6 506.0,540.1 520.7,487.9 535.4,548.4 550.0,555.4 564.7,564.3 579.4,545.5 594.0,575.7 608.7,555.4 623.4,541.3 638.1,579.6 652.7,555.0 667.4,517.1 682.1,565.0"/>
<path d="M109.9,552.3 124.6,545.0 139.2,546.9 153.9,543.5 168.6,558.4 183.3,526.9 197.9,549.0 212.6,572.3 227.3,564.9 241.9,563.8 256.6,557.1 271.3,552.6 286.0,567.6 300.6,573.6 315.3,566.1 330.0,553.3 344.6,556.8 359.3,558.4 374.0,550.7 388.6,536.0 403.3,566.0 418.0,565.8 432.7,563.7 447.3,544.6 462.0,541.4 476.7,567.0 491.3,531.9 506.0,548.6 520.7,572.3 535.4,555.7 550.0,487.9 564.7,549.3 579.4,560.3 594.0,578.2 608.7,558.9 623.4,551.0 638.1,571.1 652.7,543.2 667.4,526.0 682.1,543.7"/>
<path d="M109.9,562.7 124.6,545.1 139.2,524.3 153.9,565.6 168.6,560.9 183.3,559.9 197.9,563.6 212.6,556.4 227.3,574.9 241.9,563.9 256.6,555.8 271.3,551.1 286.0,561.4 300.6,530.7 315.3,541.3 330.0,561.3 344.6,505.6 359.3,543.7 374.0,558.6 388.6,496.4 403.3,566.8 418.0,554.6 432.7,558.9 447.3,545.3 462.0,548.8 476.7,538.5 491.3,568.7 506.0,561.5 520.7,558.6 535.4,566.4 550.0,555.8 564.7,552.3 579.4,547.2 594.0,537.6 608.7,553.9 623.4,549.6 638.1,562.2 652.7,539.1 667.4,551.8 682.1,554.4"/>
<path d="M109.9,565.4 124.6,539.6 139.2,524.6 153.9,552.3 168.6,540.4 183.3,564.6 197.9,555.0 212.6,544.3 227.3,558.0 241.9,553.3 256.6,546.0 271.3,547.1 286.0,555.4 300.6,540.5 315.3,562.9 330.0,549.7 344.6,534.9 359.3,550.5 374.0,556.3 388.6,559.1 403.3,577.0 418.0,552.5 432.7,547.1 447.3,559.1 462.0,541.3 476.7,564.9 491.3,570.1 506.0,551.6 520.7,548.2 535.4,548.1 550.0,518.2 564.7,549.3 579.4,559.4 594.0,548.7 608.7,558.6 623.4,533.6 638.1,565.0 652.7,533.7 667.4,564.6 682.1,481.1"/>
<path d="M109.9,554.6 124.6,541.3 139.2,498.2 153.9,558.7 168.6,521.4 183.3,534.6 197.9,552.9 212.6,564.6 227.3,560.4 241.9,562.7 256.6,548.8 271.3,554.5 286.0,550.1 300.6,554.1 315.3,563.8 330.0,558.4 344.6,562.7 359.3,550.3 374.0,564.7 388.6,531.3 403.3,523.0 418.0,562.8 432.7,558.0 447.3,569.0 462.0,518.3 476.7,551.4 491.3,565.6 506.0,546.0 520.7,575.3 535.4,557.5 550.0,559.0 564.7,552.9 579.4,575.7 594.0,568.5 608.7,527.6 623.4,531.4 638.1,564.7 652.7,501.6 667.4,558.1 682.1,548.6"/>
<path d="M109.9,557.4 124.6,564.2 139.2,494.7 153.9,559.6 168.6,565.4 183.3,565.1 197.9,555.9 212.6,543.8 227.3,570.1 241.9,547.5 256.6,554.5 271.3,555.7 286.0,549.5 300.6,555.4 315.3,552.8 330.0,562.3 344.6,536.6 359.3,517.3 374.0,548.3 388.6,528.1 403.3,568.0 418.0,528.6 432.7,510.7 447.3,550.1 462.0,523.1 476.7,559.9 491.3,574.6 506.0,551.5 520.7,558.6 535.4,569.8 550.0,566.0 564.7,546.9 579.4,563.0 594.0,563.7 608.7,560.9 623.4,551.6 638.1,564.8 652.7,549.9 667.4,516.6 682.1,571.0"/>
<path d="M109.9,507.0 124.6,494.7 139.2,525.8 153.9,552.4 168.6,548.2 183.3,554.0 197.9,558.4 212.6,573.1 227.3,551.3 241.9,564.2 256.6,577.1 271.3,557.7 286.0,550.4 300.6,524.8 315.3,554.4 330.0,547.6 344.6,535.9 359.3,550.2 374.0,548.2 388.6,565.7 403.3,564.9 418.0,558.8 432.7,554.4 447.3,524.3 462.0,526.7 476.7,554.5 491.3,554.6 506.0,563.3 520.7,561.7 535.4,562.7 550.0,555.1 564.7,556.3 579.4,526.0 594.0,555.5 608.7,542.0 623.4,541.7 638.1,567.8 652.7,556.3 667.4,529.3 682.1,539.6"/>
<path d="M109.9,572.5 124.6,530.2 139.2,542.2 153.9,554.5 168.6,576.9 183.3,564.1 197.9,526.7 212.6,559.5 227.3,573.8 241.9,538.2 256.6,558.0 271.3,557.7 286.0,527.0 300.6,552.3 315.3,569.6 330.0,505.0 344.6,550.6 359.3,558.9 374.0,554.4 388.6,571.4 403.3,546.4 418.0,567.2 432.7,563.9 447.3,540.7 462.0,538.2 476.7,561.6 491.3,533.8 506.0,527.4 520.7,550.1 535.4,561.2 550.0,546.2 564.7,550.0 579.4,538.7 594.0,549.1 608.7,516.1 623.4,568.6 638.1,545.3 652.7,537.3 667.4,550.1 682.1,544.8"/>
<path d="M109.9,552.1 124.6,530.9 139.2,536.1 153.9,539.6 168.6,563.9 183.3,577.7 197.9,553.5 212.6,563.9 227.3,577.0 241.9,559.5 256.6,554.4 271.3,537.2 286.0,561.3 300.6,533.8 315.3,551.5 330.0,563.6 344.6,561.7 359.3,545.3 374.0,536.3 388.6,566.5 403.3,549.2 418.0,557.1 432.7,552.2 447.3,554.2 462.0,531.5 476.7,501.6 491.3,572.6 506.0,545.7 520.7,544.2 535.4,561.4 550.0,549.3 564.7,557.0 579.4,536.7 594.0,540.3 608.7,552.1 623.4,528.0 638.1,560.7 652.7,545.8 667.4,549.8 682.1,550.9"/>
<path d="M109.9,559.8 124.6,532.1 139.2,551.5 153.9,559.2 168.6,538.3 183.3,530.1 197.9,555.0 212.6,557.5 227.3,565.2 241.9,574.5 256.6,560.8 271.3,549.9 286.0,554.0 300.6,535.7 315.3,562.6 330.0,502.6 344.6,548.0 359.3,535.8 374.0,561.7 388.6,548.0 403.3,550.5 418.0,548.2 432.7,562.5 447.3,544.5 462.0,551.3 476.7,543.2 491.3,540.5 506.0,548.7 520.7,521.7 535.4,533.8 550.0,558.2 564.7,550.8 579.4,515.3 594.0,522.4 608.7,499.9 623.4,566.5 638.1,564.9 652.7,498.2 667.4,562.7 682.1,549.5"/>
<path d="M109.9,551.8 124.6,554.8 139.2,568.6 153.9,560.0 168.6,576.9 183.3,572.3 197.9,561.8 212.6,558.4 227.3,543.0 241.9,552.7 256.6,530.8 271.3,538.0 286.0,545.5 300.6,543.0 315.3,557.8 330.0,537.3 344.6,539.3 359.3,558.9 374.0,555.3 388.6,571.8 403.3,551.8 418.0,547.2 432.7,558.2 447.3,528.2 462.0,546.0 476.7,538.5 491.3,547.0 506.0,552.5 520.7,550.8 535.4,535.6 550.0,561.4 564.7,560.8 579.4,563.6 594.0,565.8 608.7,562.3 623.4,541.0 638.1,547.8 652.7,556.2 667.4,552.8 682.1,542.7"/>
<path d="M109.9,573.5 124.6,541.4 139.2,556.7 153.9,552.5 168.6,565.6 183.3,552.0 197.9,555.0 212.6,548.5 227.3,547.9 241.9,565.3 256.6,547.9 271.3,548.0 286.0,573.7 300.6,545.5 315.3,538.8 330.0,544.8 344.6,542.5 359.3,548.5 374.0,543.9 388.6,564.2 403.3,548.7 418.0,573.7 432.7,553.0 447.3,544.2 462.0,539.5 476.7,536.6 491.3,557.0 506.0,552.2 520.7,557.1 535.4,564.6 550.0,547.7 564.7,576.2 579.4,552.1 594.0,546.8 608.7,540.5 623.4,533.5 638.1,545.5 652.7,547.8 667.4,557.7 682.1,529.9"/>
<path d="M109.9,571.4 124.6,564.5 139.2,548.1 153.9,549.5 168.6,554.1 183.3,546.2 197.9,549.1 212.6,564.8 227.3,567.1 241.9,550.4 256.6,505.1 271.3,555.0 286.0,563.2 300.6,546.6 315.3,579.5 330.0,521.2 344.6,544.7 359.3,575.5 374.0,548.7 388.6,549.6 403.3,579.8 418.0,535.9 432.7,558.7 447.3,542.9 462.0,552.0 476.7,544.5 491.3,574.8 506.0,572.5 520.7,555.0 535.4,577.7 550.0,559.6 564.7,552.0 579.4,549.2 594.0,553.6 608.7,574.8 623.4,534.0 638.1,564.7 652.7,489.5 667.4,539.5 682.1,513.9"/>
<path d="M109.9,554.3 124.6,557.5 139.2,551.1 153.9,544.1 168.6,572.3 183.3,549.9 197.9,500.5 212.6,550.0 227.3,566.5 241.9,565.0 256.6,518.4 271.3,561.6 286.0,553.4 300.6,550.4 315.3,551.9 330.0,562.3 344.6,563.0 359.3,542.9 374.0,547.0 388.6,560.4 403.3,567.6 418.0,568.4 432.7,556.7 447.3,545.4 462.0,561.5 476.7,559.5 491.3,557.2 506.0,553.9 520.7,551.1 535.4,564.7 550.0,553.4 564.7,580.9 579.4,559.7 594.0,550.5 608.7,555.0 623.4,549.6 638.1,555.1 652.7,543.3 667.4,543.2 682.1,536.1"/>
<path d="M109.9,544.1 124.6,547.0 139.2,548.1 153.9,539.9 168.6,564.5 183.3,555.4 197.9,562.5 212.6,536.9 227.3,568.0 241.9,539.9 256.6,559.3 271.3,550.8 286.0,534.5 300.6,547.7 315.3,564.8 330.0,540.8 344.6,552.6 359.3,546.4 374.0,533.3 388.6,562.4 403.3,553.0 418.0,542.1 432.7,547.7 447.3,528.4 462.0,519.5 476.7,552.6 491.3,542.6 506.0,528.2 520.7,559.7 535.4,550.9 550.0,560.6 564.7,541.2 579.4,546.6 594.0,559.5 608.7,554.2 623.4,550.5 638.1,564.3 652.7,572.9 667.4,546.1 682.1,557.8"/>
<path d="M109.9,556.3 124.6,551.1 139.2,558.1 153.9,539.4 168.6,517.3 183.3,539.4 197.9,570.0 212.6,560.7 227.3,519.7 241.9,571.4 256.6,549.4 271.3,573.2 286.0,544.0 300.6,550.1 315.3,538.6 330.0,543.5 344.6,527.7 359.3,553.3 374.0,561.6 388.6,542.1 403.3,540.4 418.0,518.7 432.7,563.4 447.3,549.4 462.0,543.8 476.7,551.6 491.3,543.5 506.0,546.1 520.7,532.8 535.4,560.5 550.0,546.4 564.7,573.8 579.4,547.8 594.0,563.8 608.7,548.7 623.4,553.9 638.1,554.6 652.7,539.0 667.4,542.7 682.1,539.0"/>
<path d="M109.9,562.2 124.6,563.1 139.2,555.7 153.9,561.3 168.6,566.0 183.3,567.2 197.9,553.5 212.6,522.5 227.3,549.9 241.9,543.9 256.6,533.3 271.3,505.0 286.0,565.7 300.6,549.6 315.3,548.1 330.0,551.3 344.6,517.7 359.3,549.8 374.0,565.1 388.6,558.6 403.3,534.4 418.0,566.6 432.7,538.0 447.3,544.8 462.0,561.1 476.7,564.3 491.3,548.3 506.0,549.8 520.7,546.6 535.4,555.5 550.0,557.3 564.7,567.7 579.4,543.2 594.0,555.8 608.7,552.2 623.4,549.8 638.1,561.7 652.7,538.6 667.4,558.4 682.1,535.4"/>
<path d="M109.9,543.2 124.6,551.9 139.2,558.6 153.9,567.8 168.6,553.9 183.3,566.5 197.9,535.0 212.6,542.3 227.3,560.4 241.9,537.9 256.6,531.5 271.3,538.7 286.0,558.6 300.6,570.3 315.3,546.5 330.0,547.9 344.6,546.7 359.3,553.2 374.0,563.4 388.6,552.3 403.3,552.8 418.0,580.8 432.7,538.9 447.3,541.2 462.0,542.6 476.7,558.7 491.3,554.3 506.0,536.7 520.7,563.1 535.4,550.8 550.0,542.5 564.7,565.6 579.4,556.9 594.0,539.1 608.7,549.0 623.4,551.8 638.1,561.0 652.7,549.6 667.4,548.1 682.1,551.7"/>
<path d="M109.9,569.9 124.6,541.0 139.2,532.8 153.9,552.0 168.6,544.5 183.3,549.7 197.9,542.1 212.6,558.1 227.3,559.1 241.9,509.2 256.6,570.4 271.3,550.1 286.0,582.2 300.6,557.0 315.3,563.9 330.0,561.3 344.6,560.5 359.3,554.0 374.0,534.7 388.6,496.2 403.3,559.9 418.0,559.0 432.7,530.3 447.3,551.8 462.0,562.8 476.7,563.7 491.3,582.2 506.0,546.3 520.7,538.1 535.4,564.2 550.0,546.8 564.7,552.1 579.4,546.5 594.0,557.3 608.7,552.3 623.4,538.1 638.1,556.9 652.7,530.3 667.4,503.1 682.1,527.8"/>
<path d="M109.9,544.9 124.6,557.7 139.2,532.5 153.9,515.1 168.6,548.0 183.3,548.3 197.9,547.6 212.6,548.0 227.3,565.2 241.9,550.5 256.6,560.5 271.3,538.9 286.0,545.5 300.6,555.2 315.3,563.1 330.0,554.7 344.6,546.7 359.3,551.1 374.0,539.3 388.6,556.6 403.3,546.1 418.0,553.0 432.7,558.0 447.3,551.3 462.0,564.5 476.7,540.8 491.3,558.7 506.0,566.0 520.7,558.2 535.4,563.6 550.0,563.0 564.7,565.0 579.4,523.3 594.0,546.2 608.7,562.9 623.4,540.4 638.1,545.6 652.7,555.6 667.4,535.4 682.1,549.9"/>
<path d="M109.9,536.9 124.6,561.5 139.2,563.1 153.9,548.1 168.6,495.1 183.3,563.7 197.9,549.1 212.6,556.4 227.3,534.5 241.9,563.3 256.6,555.7 271.3,556.1 286.0,559.8 300.6,567.0 315.3,559.9 330.0,569.1 344.6,554.3 359.3,562.9 374.0,544.4 388.6,546.3 403.3,566.4 418.0,546.7 432.7,568.2 447.3,544.6 462.0,536.4 476.7,549.1 491.3,549.7 506.0,547.8 520.7,573.8 535.4,554.9 550.0,547.3 564.7,554.5 579.4,550.5 594.0,555.0 608.7,563.3 623.4,501.8 638.1,561.0 652.7,532.6 667.4,549.8 682.1,542.6"/>
<path d="M109.9,567.4 124.6,562.4 139.2,543.7 153.9,551.8 168.6,555.0 183.3,546.6 197.9,544.0 212.6,558.2 227.3,559.3 241.9,544.6 256.6,530.8 271.3,539.9 286.0,577.7 300.6,582.9 315.3,556.9 330.0,556.0 344.6,547.3 359.3,546.8 374.0,549.2 388.6,555.9 403.3,555.9 418.0,557.5 432.7,572.6 447.3,562.2 462.0,543.3 476.7,552.1 491.3,548.5 506.0,564.7 520.7,543.7 535.4,511.5 550.0,564.5 564.7,541.1 579.4,564.4 594.0,561.4 608.7,561.3 623.4,532.5 638.1,564.8 652.7,551.3 667.4,574.7 682.1,517.3"/>
<path d="M109.9,544.4 124.6,555.7 139.2,531.7 153.9,577.1 168.6,533.6 183.3,564.9 197.9,542.4 212.6,570.2 227.3,551.0 241.9,558.4 256.6,545.9 271.3,573.5 286.0,557.8 300.6,564.4 315.3,559.6 330.0,561.6 344.6,545.4 359.3,556.8 374.0,541.2 388.6,532.8 403.3,535.5 418.0,580.4 432.7,548.8 447.3,544.4 462.0,542.3 476.7,532.5 491.3,496.8 506.0,557.3 520.7,557.4 535.4,566.5 550.0,547.8 564.7,540.7 579.4,577.1 594.0,548.4 608.7,567.6 623.4,551.5 638.1,510.6 652.7,529.8 667.4,558.3 682.1,550.5"/>
<path d="M109.9,547.6 124.6,538.1 139.2,540.2 153.9,545.0 168.6,554.8 183.3,486.2 197.9,546.4 212.6,583.5 227.3,566.3 241.9,567.1 256.6,537.1 271.3,555.2 286.0,571.6 300.6,580.7 315.3,534.7 330.0,545.5 344.6,561.5 359.3,552.2 374.0,547.7 388.6,575.8 403.3,550.8 418.0,546.5 432.7,551.8 447.3,538.5 462.0,537.9 476.7,557.3 491.3,552.8 506.0,551.6 520.7,550.5 535.4,550.6 550.0,554.1 564.7,556.9 579.4,569.6 594.0,536.3 608.7,568.6 623.4,551.1 638.1,556.1 652.7,533.8 667.4,565.8 682.1,543.4"/>
</g>
<g fill="none" stroke="#4a98c6" stroke-width="0.9" stroke-opacity="0.32">
<path d="M106.1,568.3h7.6M109.9,564.5v7.6M107.2,565.6l5.4,5.4M107.2,571.0l5.4,-5.4M120.8,531.1h7.6M124.6,527.3v7.6M121.9,528.4l5.4,5.4M121.9,533.8l5.4,-5.4M135.4,538.4h7.6M139.2,534.6v7.6M136.5,535.7l5.4,5.4M136.5,541.1l5.4,-5.4M150.1,558.6h7.6M153.9,554.8v7.6M151.2,555.9l5.4,5.4M151.2,561.3l5.4,-5.4M164.8,548.5h7.6M168.6,544.7v7.6M165.9,545.8l5.4,5.4M165.9,551.2l5.4,-5.4M179.5,556.0h7.6M183.3,552.2v7.6M180.6,553.3l5.4,5.4M180.6,558.7l5.4,-5.4M194.1,566.2h7.6M197.9,562.4v7.6M195.2,563.5l5.4,5.4M195.2,568.9l5.4,-5.4M208.8,553.6h7.6M212.6,549.8v7.6M209.9,550.9l5.4,5.4M209.9,556.3l5.4,-5.4M223.5,553.7h7.6M227.3,549.9v7.6M224.6,551.0l5.4,5.4M224.6,556.4l5.4,-5.4M238.1,546.4h7.6M241.9,542.6v7.6M239.2,543.7l5.4,5.4M239.2,549.1l5.4,-5.4M252.8,542.5h7.6M256.6,538.7v7.6M253.9,539.8l5.4,5.4M253.9,545.2l5.4,-5.4M267.5,574.8h7.6M271.3,571.0v7.6M268.6,572.1l5.4,5.4M268.6,577.5l5.4,-5.4M282.2,567.9h7.6M286.0,564.1v7.6M283.3,565.2l5.4,5.4M283.3,570.6l5.4,-5.4M296.8,555.5h7.6M300.6,551.7v7.6M297.9,552.8l5.4,5.4M297.9,558.2l5.4,-5.4M311.5,554.6h7.6M315.3,550.8v7.6M312.6,551.9l5.4,5.4M312.6,557.3l5.4,-5.4M326.2,557.3h7.6M330.0,553.5v7.6M327.3,554.6l5.4,5.4M327.3,560.0l5.4,-5.4M340.8,561.1h7.6M344.6,557.3v7.6M341.9,558.4l5.4,5.4M341.9,563.8l5.4,-5.4M355.5,531.9h7.6M359.3,528.1v7.6M356.6,529.2l5.4,5.4M356.6,534.6l5.4,-5.4M370.2,550.2h7.6M374.0,546.4v7.6M371.3,547.5l5.4,5.4M371.3,552.9l5.4,-5.4M384.8,553.1h7.6M388.6,549.3v7.6M385.9,550.4l5.4,5.4M385.9,555.8l5.4,-5.4M399.5,550.6h7.6M403.3,546.8v7.6M400.6,547.9l5.4,5.4M400.6,553.3l5.4,-5.4M414.2,555.3h7.6M418.0,551.5v7.6M415.3,552.6l5.4,5.4M415.3,558.0l5.4,-5.4M428.9,544.2h7.6M432.7,540.4v7.6M430.0,541.5l5.4,5.4M430.0,546.9l5.4,-5.4M443.5,429.8h7.6M447.3,426.0v7.6M444.6,427.1l5.4,5.4M444.6,432.5l5.4,-5.4M458.2,538.4h7.6M462.0,534.6v7.6M459.3,535.7l5.4,5.4M459.3,541.1l5.4,-5.4M472.9,531.4h7.6M476.7,527.6v7.6M474.0,528.7l5.4,5.4M474.0,534.1l5.4,-5.4M487.5,543.0h7.6M491.3,539.2v7.6M488.6,540.3l5.4,5.4M488.6,545.7l5.4,-5.4M502.2,558.2h7.6M506.0,554.4v7.6M503.3,555.5l5.4,5.4M503.3,560.9l5.4,-5.4M516.9,536.7h7.6M520.7,532.9v7.6M518.0,534.0l5.4,5.4M518.0,539.4l5.4,-5.4M531.6,551.4h7.6M535.4,547.6v7.6M532.7,548.7l5.4,5.4M532.7,554.1l5.4,-5.4M546.2,572.0h7.6M550.0,568.2v7.6M547.3,569.3l5.4,5.4M547.3,574.7l5.4,-5.4M560.9,556.0h7.6M564.7,552.2v7.6M562.0,553.3l5.4,5.4M562.0,558.7l5.4,-5.4M575.6,552.9h7.6M579.4,549.1v7.6M576.7,550.2l5.4,5.4M576.7,555.6l5.4,-5.4M590.2,544.8h7.6M594.0,541.0v7.6M591.3,542.1l5.4,5.4M591.3,547.5l5.4,-5.4M604.9,568.8h7.6M608.7,565.0v7.6M606.0,566.1l5.4,5.4M606.0,571.5l5.4,-5.4M619.6,555.2h7.6M623.4,551.4v7.6M620.7,552.5l5.4,5.4M620.7,557.9l5.4,-5.4M634.3,562.1h7.6M638.1,558.3v7.6M635.4,559.4l5.4,5.4M635.4,564.8l5.4,-5.4M648.9,526.4h7.6M652.7,522.6v7.6M650.0,523.7l5.4,5.4M650.0,529.1l5.4,-5.4M663.6,558.3h7.6M667.4,554.5v7.6M664.7,555.6l5.4,5.4M664.7,561.0l5.4,-5.4M678.3,542.4h7.6M682.1,538.6v7.6M679.4,539.7l5.4,5.4M679.4,545.1l5.4,-5.4"/>
<path d="M106.1,579.0h7.6M109.9,575.2v7.6M107.2,576.3l5.4,5.4M107.2,581.7l5.4,-5.4M120.8,541.6h7.6M124.6,537.8v7.6M121.9,538.9l5.4,5.4M121.9,544.3l5.4,-5.4M135.4,547.2h7.6M139.2,543.4v7.6M136.5,544.5l5.4,5.4M136.5,549.9l5.4,-5.4M150.1,554.1h7.6M153.9,550.3v7.6M151.2,551.4l5.4,5.4M151.2,556.8l5.4,-5.4M164.8,543.5h7.6M168.6,539.7v7.6M165.9,540.8l5.4,5.4M165.9,546.2l5.4,-5.4M179.5,515.8h7.6M183.3,512.0v7.6M180.6,513.1l5.4,5.4M180.6,518.5l5.4,-5.4M194.1,545.4h7.6M197.9,541.6v7.6M195.2,542.7l5.4,5.4M195.2,548.1l5.4,-5.4M208.8,548.8h7.6M212.6,545.0v7.6M209.9,546.1l5.4,5.4M209.9,551.5l5.4,-5.4M223.5,562.5h7.6M227.3,558.7v7.6M224.6,559.8l5.4,5.4M224.6,565.2l5.4,-5.4M238.1,555.6h7.6M241.9,551.8v7.6M239.2,552.9l5.4,5.4M239.2,558.3l5.4,-5.4M252.8,573.2h7.6M256.6,569.4v7.6M253.9,570.5l5.4,5.4M253.9,575.9l5.4,-5.4M267.5,553.0h7.6M271.3,549.2v7.6M268.6,550.3l5.4,5.4M268.6,555.7l5.4,-5.4M282.2,558.0h7.6M286.0,554.2v7.6M283.3,555.3l5.4,5.4M283.3,560.7l5.4,-5.4M296.8,554.1h7.6M300.6,550.3v7.6M297.9,551.4l5.4,5.4M297.9,556.8l5.4,-5.4M311.5,587.0h7.6M315.3,583.2v7.6M312.6,584.3l5.4,5.4M312.6,589.7l5.4,-5.4M326.2,552.9h7.6M330.0,549.1v7.6M327.3,550.2l5.4,5.4M327.3,555.6l5.4,-5.4M340.8,564.2h7.6M344.6,560.4v7.6M341.9,561.5l5.4,5.4M341.9,566.9l5.4,-5.4M355.5,545.2h7.6M359.3,541.4v7.6M356.6,542.5l5.4,5.4M356.6,547.9l5.4,-5.4M370.2,575.6h7.6M374.0,571.8v7.6M371.3,572.9l5.4,5.4M371.3,578.3l5.4,-5.4M384.8,469.1h7.6M388.6,465.3v7.6M385.9,466.4l5.4,5.4M385.9,471.8l5.4,-5.4M399.5,534.6h7.6M403.3,530.8v7.6M400.6,531.9l5.4,5.4M400.6,537.3l5.4,-5.4M414.2,550.7h7.6M418.0,546.9v7.6M415.3,548.0l5.4,5.4M415.3,553.4l5.4,-5.4M428.9,557.9h7.6M432.7,554.1v7.6M430.0,555.2l5.4,5.4M430.0,560.6l5.4,-5.4M443.5,524.6h7.6M447.3,520.8v7.6M444.6,521.9l5.4,5.4M444.6,527.3l5.4,-5.4M458.2,516.6h7.6M462.0,512.8v7.6M459.3,513.9l5.4,5.4M459.3,519.3l5.4,-5.4M472.9,555.5h7.6M476.7,551.7v7.6M474.0,552.8l5.4,5.4M474.0,558.2l5.4,-5.4M487.5,544.0h7.6M491.3,540.2v7.6M488.6,541.3l5.4,5.4M488.6,546.7l5.4,-5.4M502.2,548.7h7.6M506.0,544.9v7.6M503.3,546.0l5.4,5.4M503.3,551.4l5.4,-5.4M516.9,554.6h7.6M520.7,550.8v7.6M518.0,551.9l5.4,5.4M518.0,557.3l5.4,-5.4M531.6,559.8h7.6M535.4,556.0v7.6M532.7,557.1l5.4,5.4M532.7,562.5l5.4,-5.4M546.2,547.4h7.6M550.0,543.6v7.6M547.3,544.7l5.4,5.4M547.3,550.1l5.4,-5.4M560.9,568.0h7.6M564.7,564.2v7.6M562.0,565.3l5.4,5.4M562.0,570.7l5.4,-5.4M575.6,527.4h7.6M579.4,523.6v7.6M576.7,524.7l5.4,5.4M576.7,530.1l5.4,-5.4M590.2,562.0h7.6M594.0,558.2v7.6M591.3,559.3l5.4,5.4M591.3,564.7l5.4,-5.4M604.9,558.0h7.6M608.7,554.2v7.6M606.0,555.3l5.4,5.4M606.0,560.7l5.4,-5.4M619.6,559.4h7.6M623.4,555.6v7.6M620.7,556.7l5.4,5.4M620.7,562.1l5.4,-5.4M634.3,553.5h7.6M638.1,549.7v7.6M635.4,550.8l5.4,5.4M635.4,556.2l5.4,-5.4M648.9,532.9h7.6M652.7,529.1v7.6M650.0,530.2l5.4,5.4M650.0,535.6l5.4,-5.4M663.6,541.7h7.6M667.4,537.9v7.6M664.7,539.0l5.4,5.4M664.7,544.4l5.4,-5.4M678.3,528.7h7.6M682.1,524.9v7.6M679.4,526.0l5.4,5.4M679.4,531.4l5.4,-5.4"/>
<path d="M106.1,558.8h7.6M109.9,555.0v7.6M107.2,556.1l5.4,5.4M107.2,561.5l5.4,-5.4M120.8,536.0h7.6M124.6,532.2v7.6M121.9,533.3l5.4,5.4M121.9,538.7l5.4,-5.4M135.4,539.4h7.6M139.2,535.6v7.6M136.5,536.7l5.4,5.4M136.5,542.1l5.4,-5.4M150.1,546.4h7.6M153.9,542.6v7.6M151.2,543.7l5.4,5.4M151.2,549.1l5.4,-5.4M164.8,546.9h7.6M168.6,543.1v7.6M165.9,544.2l5.4,5.4M165.9,549.6l5.4,-5.4M179.5,557.0h7.6M183.3,553.2v7.6M180.6,554.3l5.4,5.4M180.6,559.7l5.4,-5.4M194.1,551.1h7.6M197.9,547.3v7.6M195.2,548.4l5.4,5.4M195.2,553.8l5.4,-5.4M208.8,550.9h7.6M212.6,547.1v7.6M209.9,548.2l5.4,5.4M209.9,553.6l5.4,-5.4M223.5,564.3h7.6M227.3,560.5v7.6M224.6,561.6l5.4,5.4M224.6,567.0l5.4,-5.4M238.1,544.4h7.6M241.9,540.6v7.6M239.2,541.7l5.4,5.4M239.2,547.1l5.4,-5.4M252.8,576.8h7.6M256.6,573.0v7.6M253.9,574.1l5.4,5.4M253.9,579.5l5.4,-5.4M267.5,563.7h7.6M271.3,559.9v7.6M268.6,561.0l5.4,5.4M268.6,566.4l5.4,-5.4M282.2,560.1h7.6M286.0,556.3v7.6M283.3,557.4l5.4,5.4M283.3,562.8l5.4,-5.4M296.8,548.2h7.6M300.6,544.4v7.6M297.9,545.5l5.4,5.4M297.9,550.9l5.4,-5.4M311.5,545.8h7.6M315.3,542.0v7.6M312.6,543.1l5.4,5.4M312.6,548.5l5.4,-5.4M326.2,556.2h7.6M330.0,552.4v7.6M327.3,553.5l5.4,5.4M327.3,558.9l5.4,-5.4M340.8,570.7h7.6M344.6,566.9v7.6M341.9,568.0l5.4,5.4M341.9,573.4l5.4,-5.4M355.5,566.6h7.6M359.3,562.8v7.6M356.6,563.9l5.4,5.4M356.6,569.3l5.4,-5.4M370.2,544.0h7.6M374.0,540.2v7.6M371.3,541.3l5.4,5.4M371.3,546.7l5.4,-5.4M384.8,565.9h7.6M388.6,562.1v7.6M385.9,563.2l5.4,5.4M385.9,568.6l5.4,-5.4M399.5,580.7h7.6M403.3,576.9v7.6M400.6,578.0l5.4,5.4M400.6,583.4l5.4,-5.4M414.2,543.6h7.6M418.0,539.8v7.6M415.3,540.9l5.4,5.4M415.3,546.3l5.4,-5.4M428.9,566.7h7.6M432.7,562.9v7.6M430.0,564.0l5.4,5.4M430.0,569.4l5.4,-5.4M443.5,488.7h7.6M447.3,484.9v7.6M444.6,486.0l5.4,5.4M444.6,491.4l5.4,-5.4M458.2,524.2h7.6M462.0,520.4v7.6M459.3,521.5l5.4,5.4M459.3,526.9l5.4,-5.4M472.9,555.5h7.6M476.7,551.7v7.6M474.0,552.8l5.4,5.4M474.0,558.2l5.4,-5.4M487.5,548.9h7.6M491.3,545.1v7.6M488.6,546.2l5.4,5.4M488.6,551.6l5.4,-5.4M502.2,550.5h7.6M506.0,546.7v7.6M503.3,547.8l5.4,5.4M503.3,553.2l5.4,-5.4M516.9,548.5h7.6M520.7,544.7v7.6M518.0,545.8l5.4,5.4M518.0,551.2l5.4,-5.4M531.6,548.2h7.6M535.4,544.4v7.6M532.7,545.5l5.4,5.4M532.7,550.9l5.4,-5.4M546.2,562.4h7.6M550.0,558.6v7.6M547.3,559.7l5.4,5.4M547.3,565.1l5.4,-5.4M560.9,553.0h7.6M564.7,549.2v7.6M562.0,550.3l5.4,5.4M562.0,555.7l5.4,-5.4M575.6,564.6h7.6M579.4,560.8v7.6M576.7,561.9l5.4,5.4M576.7,567.3l5.4,-5.4M590.2,535.2h7.6M594.0,531.4v7.6M591.3,532.5l5.4,5.4M591.3,537.9l5.4,-5.4M604.9,547.8h7.6M608.7,544.0v7.6M606.0,545.1l5.4,5.4M606.0,550.5l5.4,-5.4M619.6,540.3h7.6M623.4,536.5v7.6M620.7,537.6l5.4,5.4M620.7,543.0l5.4,-5.4M634.3,587.0h7.6M638.1,583.2v7.6M635.4,584.3l5.4,5.4M635.4,589.7l5.4,-5.4M648.9,546.5h7.6M652.7,542.7v7.6M650.0,543.8l5.4,5.4M650.0,549.2l5.4,-5.4M663.6,554.8h7.6M667.4,551.0v7.6M664.7,552.1l5.4,5.4M664.7,557.5l5.4,-5.4M678.3,474.2h7.6M682.1,470.4v7.6M679.4,471.5l5.4,5.4M679.4,476.9l5.4,-5.4"/>
<path d="M106.1,554.6h7.6M109.9,550.8v7.6M107.2,551.9l5.4,5.4M107.2,557.3l5.4,-5.4M120.8,564.6h7.6M124.6,560.8v7.6M121.9,561.9l5.4,5.4M121.9,567.3l5.4,-5.4M135.4,534.4h7.6M139.2,530.6v7.6M136.5,531.7l5.4,5.4M136.5,537.1l5.4,-5.4M150.1,548.7h7.6M153.9,544.9v7.6M151.2,546.0l5.4,5.4M151.2,551.4l5.4,-5.4M164.8,547.4h7.6M168.6,543.6v7.6M165.9,544.7l5.4,5.4M165.9,550.1l5.4,-5.4M179.5,565.5h7.6M183.3,561.7v7.6M180.6,562.8l5.4,5.4M180.6,568.2l5.4,-5.4M194.1,547.8h7.6M197.9,544.0v7.6M195.2,545.1l5.4,5.4M195.2,550.5l5.4,-5.4M208.8,577.9h7.6M212.6,574.1v7.6M209.9,575.2l5.4,5.4M209.9,580.6l5.4,-5.4M223.5,565.2h7.6M227.3,561.4v7.6M224.6,562.5l5.4,5.4M224.6,567.9l5.4,-5.4M238.1,560.0h7.6M241.9,556.2v7.6M239.2,557.3l5.4,5.4M239.2,562.7l5.4,-5.4M252.8,559.9h7.6M256.6,556.1v7.6M253.9,557.2l5.4,5.4M253.9,562.6l5.4,-5.4M267.5,554.8h7.6M271.3,551.0v7.6M268.6,552.1l5.4,5.4M268.6,557.5l5.4,-5.4M282.2,547.7h7.6M286.0,543.9v7.6M283.3,545.0l5.4,5.4M283.3,550.4l5.4,-5.4M296.8,550.6h7.6M300.6,546.8v7.6M297.9,547.9l5.4,5.4M297.9,553.3l5.4,-5.4M311.5,540.6h7.6M315.3,536.8v7.6M312.6,537.9l5.4,5.4M312.6,543.3l5.4,-5.4M326.2,540.6h7.6M330.0,536.8v7.6M327.3,537.9l5.4,5.4M327.3,543.3l5.4,-5.4M340.8,539.6h7.6M344.6,535.8v7.6M341.9,536.9l5.4,5.4M341.9,542.3l5.4,-5.4M355.5,549.2h7.6M359.3,545.4v7.6M356.6,546.5l5.4,5.4M356.6,551.9l5.4,-5.4M370.2,560.8h7.6M374.0,557.0v7.6M371.3,558.1l5.4,5.4M371.3,563.5l5.4,-5.4M384.8,566.2h7.6M388.6,562.4v7.6M385.9,563.5l5.4,5.4M385.9,568.9l5.4,-5.4M399.5,552.2h7.6M403.3,548.4v7.6M400.6,549.5l5.4,5.4M400.6,554.9l5.4,-5.4M414.2,546.9h7.6M418.0,543.1v7.6M415.3,544.2l5.4,5.4M415.3,549.6l5.4,-5.4M428.9,557.1h7.6M432.7,553.3v7.6M430.0,554.4l5.4,5.4M430.0,559.8l5.4,-5.4M443.5,555.0h7.6M447.3,551.2v7.6M444.6,552.3l5.4,5.4M444.6,557.7l5.4,-5.4M458.2,547.6h7.6M462.0,543.8v7.6M459.3,544.9l5.4,5.4M459.3,550.3l5.4,-5.4M472.9,534.9h7.6M476.7,531.1v7.6M474.0,532.2l5.4,5.4M474.0,537.6l5.4,-5.4M487.5,552.7h7.6M491.3,548.9v7.6M488.6,550.0l5.4,5.4M488.6,555.4l5.4,-5.4M502.2,543.7h7.6M506.0,539.9v7.6M503.3,541.0l5.4,5.4M503.3,546.4l5.4,-5.4M516.9,556.5h7.6M520.7,552.7v7.6M518.0,553.8l5.4,5.4M518.0,559.2l5.4,-5.4M531.6,549.7h7.6M535.4,545.9v7.6M532.7,547.0l5.4,5.4M532.7,552.4l5.4,-5.4M546.2,541.2h7.6M550.0,537.4v7.6M547.3,538.5l5.4,5.4M547.3,543.9l5.4,-5.4M560.9,571.7h7.6M564.7,567.9v7.6M562.0,569.0l5.4,5.4M562.0,574.4l5.4,-5.4M575.6,484.5h7.6M579.4,480.7v7.6M576.7,481.8l5.4,5.4M576.7,487.2l5.4,-5.4M590.2,553.1h7.6M594.0,549.3v7.6M591.3,550.4l5.4,5.4M591.3,555.8l5.4,-5.4M604.9,569.5h7.6M608.7,565.7v7.6M606.0,566.8l5.4,5.4M606.0,572.2l5.4,-5.4M619.6,526.5h7.6M623.4,522.7v7.6M620.7,523.8l5.4,5.4M620.7,529.2l5.4,-5.4M634.3,551.5h7.6M638.1,547.7v7.6M635.4,548.8l5.4,5.4M635.4,554.2l5.4,-5.4M648.9,537.0h7.6M652.7,533.2v7.6M650.0,534.3l5.4,5.4M650.0,539.7l5.4,-5.4M663.6,532.0h7.6M667.4,528.2v7.6M664.7,529.3l5.4,5.4M664.7,534.7l5.4,-5.4M678.3,549.8h7.6M682.1,546.0v7.6M679.4,547.1l5.4,5.4M679.4,552.5l5.4,-5.4"/>
<path d="M106.1,543.1h7.6M109.9,539.3v7.6M107.2,540.4l5.4,5.4M107.2,545.8l5.4,-5.4M120.8,528.1h7.6M124.6,524.3v7.6M121.9,525.4l5.4,5.4M121.9,530.8l5.4,-5.4M135.4,531.1h7.6M139.2,527.3v7.6M136.5,528.4l5.4,5.4M136.5,533.8l5.4,-5.4M150.1,570.4h7.6M153.9,566.6v7.6M151.2,567.7l5.4,5.4M151.2,573.1l5.4,-5.4M164.8,561.1h7.6M168.6,557.3v7.6M165.9,558.4l5.4,5.4M165.9,563.8l5.4,-5.4M179.5,547.8h7.6M183.3,544.0v7.6M180.6,545.1l5.4,5.4M180.6,550.5l5.4,-5.4M194.1,550.4h7.6M197.9,546.6v7.6M195.2,547.7l5.4,5.4M195.2,553.1l5.4,-5.4M208.8,586.9h7.6M212.6,583.1v7.6M209.9,584.2l5.4,5.4M209.9,589.6l5.4,-5.4M223.5,547.0h7.6M227.3,543.2v7.6M224.6,544.3l5.4,5.4M224.6,549.7l5.4,-5.4M238.1,553.1h7.6M241.9,549.3v7.6M239.2,550.4l5.4,5.4M239.2,555.8l5.4,-5.4M252.8,562.9h7.6M256.6,559.1v7.6M253.9,560.2l5.4,5.4M253.9,565.6l5.4,-5.4M267.5,547.4h7.6M271.3,543.6v7.6M268.6,544.7l5.4,5.4M268.6,550.1l5.4,-5.4M282.2,553.7h7.6M286.0,549.9v7.6M283.3,551.0l5.4,5.4M283.3,556.4l5.4,-5.4M296.8,486.3h7.6M300.6,482.5v7.6M297.9,483.6l5.4,5.4M297.9,489.0l5.4,-5.4M311.5,566.5h7.6M315.3,562.7v7.6M312.6,563.8l5.4,5.4M312.6,569.2l5.4,-5.4M326.2,558.0h7.6M330.0,554.2v7.6M327.3,555.3l5.4,5.4M327.3,560.7l5.4,-5.4M340.8,555.9h7.6M344.6,552.1v7.6M341.9,553.2l5.4,5.4M341.9,558.6l5.4,-5.4M355.5,560.4h7.6M359.3,556.6v7.6M356.6,557.7l5.4,5.4M356.6,563.1l5.4,-5.4M370.2,551.7h7.6M374.0,547.9v7.6M371.3,549.0l5.4,5.4M371.3,554.4l5.4,-5.4M384.8,538.8h7.6M388.6,535.0v7.6M385.9,536.1l5.4,5.4M385.9,541.5l5.4,-5.4M399.5,556.2h7.6M403.3,552.4v7.6M400.6,553.5l5.4,5.4M400.6,558.9l5.4,-5.4M414.2,568.5h7.6M418.0,564.7v7.6M415.3,565.8l5.4,5.4M415.3,571.2l5.4,-5.4M428.9,549.3h7.6M432.7,545.5v7.6M430.0,546.6l5.4,5.4M430.0,552.0l5.4,-5.4M443.5,568.7h7.6M447.3,564.9v7.6M444.6,566.0l5.4,5.4M444.6,571.4l5.4,-5.4M458.2,547.4h7.6M462.0,543.6v7.6M459.3,544.7l5.4,5.4M459.3,550.1l5.4,-5.4M472.9,539.8h7.6M476.7,536.0v7.6M474.0,537.1l5.4,5.4M474.0,542.5l5.4,-5.4M487.5,557.6h7.6M491.3,553.8v7.6M488.6,554.9l5.4,5.4M488.6,560.3l5.4,-5.4M502.2,540.1h7.6M506.0,536.3v7.6M503.3,537.4l5.4,5.4M503.3,542.8l5.4,-5.4M516.9,487.9h7.6M520.7,484.1v7.6M518.0,485.2l5.4,5.4M518.0,490.6l5.4,-5.4M531.6,548.4h7.6M535.4,544.6v7.6M532.7,545.7l5.4,5.4M532.7,551.1l5.4,-5.4M546.2,555.4h7.6M550.0,551.6v7.6M547.3,552.7l5.4,5.4M547.3,558.1l5.4,-5.4M560.9,564.3h7.6M564.7,560.5v7.6M562.0,561.6l5.4,5.4M562.0,567.0l5.4,-5.4M575.6,545.5h7.6M579.4,541.7v7.6M576.7,542.8l5.4,5.4M576.7,548.2l5.4,-5.4M590.2,575.7h7.6M594.0,571.9v7.6M591.3,573.0l5.4,5.4M591.3,578.4l5.4,-5.4M604.9,555.4h7.6M608.7,551.6v7.6M606.0,552.7l5.4,5.4M606.0,558.1l5.4,-5.4M619.6,541.3h7.6M623.4,537.5v7.6M620.7,538.6l5.4,5.4M620.7,544.0l5.4,-5.4M634.3,579.6h7.6M638.1,575.8v7.6M635.4,576.9l5.4,5.4M635.4,582.3l5.4,-5.4M648.9,555.0h7.6M652.7,551.2v7.6M650.0,552.3l5.4,5.4M650.0,557.7l5.4,-5.4M663.6,517.1h7.6M667.4,513.3v7.6M664.7,514.4l5.4,5.4M664.7,519.8l5.4,-5.4M678.3,565.0h7.6M682.1,561.2v7.6M679.4,562.3l5.4,5.4M679.4,567.7l5.4,-5.4"/>
<path d="M106.1,552.3h7.6M109.9,548.5v7.6M107.2,549.6l5.4,5.4M107.2,555.0l5.4,-5.4M120.8,545.0h7.6M124.6,541.2v7.6M121.9,542.3l5.4,5.4M121.9,547.7l5.4,-5.4M135.4,546.9h7.6M139.2,543.1v7.6M136.5,544.2l5.4,5.4M136.5,549.6l5.4,-5.4M150.1,543.5h7.6M153.9,539.7v7.6M151.2,540.8l5.4,5.4M151.2,546.2l5.4,-5.4M164.8,558.4h7.6M168.6,554.6v7.6M165.9,555.7l5.4,5.4M165.9,561.1l5.4,-5.4M179.5,526.9h7.6M183.3,523.1v7.6M180.6,524.2l5.4,5.4M180.6,529.6l5.4,-5.4M194.1,549.0h7.6M197.9,545.2v7.6M195.2,546.3l5.4,5.4M195.2,551.7l5.4,-5.4M208.8,572.3h7.6M212.6,568.5v7.6M209.9,569.6l5.4,5.4M209.9,575.0l5.4,-5.4M223.5,564.9h7.6M227.3,561.1v7.6M224.6,562.2l5.4,5.4M224.6,567.6l5.4,-5.4M238.1,563.8h7.6M241.9,560.0v7.6M239.2,561.1l5.4,5.4M239.2,566.5l5.4,-5.4M252.8,557.1h7.6M256.6,553.3v7.6M253.9,554.4l5.4,5.4M253.9,559.8l5.4,-5.4M267.5,552.6h7.6M271.3,548.8v7.6M268.6,549.9l5.4,5.4M268.6,555.3l5.4,-5.4M282.2,567.6h7.6M286.0,563.8v7.6M283.3,564.9l5.4,5.4M283.3,570.3l5.4,-5.4M296.8,573.6h7.6M300.6,569.8v7.6M297.9,570.9l5.4,5.4M297.9,576.3l5.4,-5.4M311.5,566.1h7.6M315.3,562.3v7.6M312.6,563.4l5.4,5.4M312.6,568.8l5.4,-5.4M326.2,553.3h7.6M330.0,549.5v7.6M327.3,550.6l5.4,5.4M327.3,556.0l5.4,-5.4M340.8,556.8h7.6M344.6,553.0v7.6M341.9,554.1l5.4,5.4M341.9,559.5l5.4,-5.4M355.5,558.4h7.6M359.3,554.6v7.6M356.6,555.7l5.4,5.4M356.6,561.1l5.4,-5.4M370.2,550.7h7.6M374.0,546.9v7.6M371.3,548.0l5.4,5.4M371.3,553.4l5.4,-5.4M384.8,536.0h7.6M388.6,532.2v7.6M385.9,533.3l5.4,5.4M385.9,538.7l5.4,-5.4M399.5,566.0h7.6M403.3,562.2v7.6M400.6,563.3l5.4,5.4M400.6,568.7l5.4,-5.4M414.2,565.8h7.6M418.0,562.0v7.6M415.3,563.1l5.4,5.4M415.3,568.5l5.4,-5.4M428.9,563.7h7.6M432.7,559.9v7.6M430.0,561.0l5.4,5.4M430.0,566.4l5.4,-5.4M443.5,544.6h7.6M447.3,540.8v7.6M444.6,541.9l5.4,5.4M444.6,547.3l5.4,-5.4M458.2,541.4h7.6M462.0,537.6v7.6M459.3,538.7l5.4,5.4M459.3,544.1l5.4,-5.4M472.9,567.0h7.6M476.7,563.2v7.6M474.0,564.3l5.4,5.4M474.0,569.7l5.4,-5.4M487.5,531.9h7.6M491.3,528.1v7.6M488.6,529.2l5.4,5.4M488.6,534.6l5.4,-5.4M502.2,548.6h7.6M506.0,544.8v7.6M503.3,545.9l5.4,5.4M503.3,551.3l5.4,-5.4M516.9,572.3h7.6M520.7,568.5v7.6M518.0,569.6l5.4,5.4M518.0,575.0l5.4,-5.4M531.6,555.7h7.6M535.4,551.9v7.6M532.7,553.0l5.4,5.4M532.7,558.4l5.4,-5.4M546.2,487.9h7.6M550.0,484.1v7.6M547.3,485.2l5.4,5.4M547.3,490.6l5.4,-5.4M560.9,549.3h7.6M564.7,545.5v7.6M562.0,546.6l5.4,5.4M562.0,552.0l5.4,-5.4M575.6,560.3h7.6M579.4,556.5v7.6M576.7,557.6l5.4,5.4M576.7,563.0l5.4,-5.4M590.2,578.2h7.6M594.0,574.4v7.6M591.3,575.5l5.4,5.4M591.3,580.9l5.4,-5.4M604.9,558.9h7.6M608.7,555.1v7.6M606.0,556.2l5.4,5.4M606.0,561.6l5.4,-5.4M619.6,551.0h7.6M623.4,547.2v7.6M620.7,548.3l5.4,5.4M620.7,553.7l5.4,-5.4M634.3,571.1h7.6M638.1,567.3v7.6M635.4,568.4l5.4,5.4M635.4,573.8l5.4,-5.4M648.9,543.2h7.6M652.7,539.4v7.6M650.0,540.5l5.4,5.4M650.0,545.9l5.4,-5.4M663.6,526.0h7.6M667.4,522.2v7.6M664.7,523.3l5.4,5.4M664.7,528.7l5.4,-5.4M678.3,543.7h7.6M682.1,539.9v7.6M679.4,541.0l5.4,5.4M679.4,546.4l5.4,-5.4"/>
<path d="M106.1,562.7h7.6M109.9,558.9v7.6M107.2,560.0l5.4,5.4M107.2,565.4l5.4,-5.4M120.8,545.1h7.6M124.6,541.3v7.6M121.9,542.4l5.4,5.4M121.9,547.8l5.4,-5.4M135.4,524.3h7.6M139.2,520.5v7.6M136.5,521.6l5.4,5.4M136.5,527.0l5.4,-5.4M150.1,565.6h7.6M153.9,561.8v7.6M151.2,562.9l5.4,5.4M151.2,568.3l5.4,-5.4M164.8,560.9h7.6M168.6,557.1v7.6M165.9,558.2l5.4,5.4M165.9,563.6l5.4,-5.4M179.5,559.9h7.6M183.3,556.1v7.6M180.6,557.2l5.4,5.4M180.6,562.6l5.4,-5.4M194.1,563.6h7.6M197.9,559.8v7.6M195.2,560.9l5.4,5.4M195.2,566.3l5.4,-5.4M208.8,556.4h7.6M212.6,552.6v7.6M209.9,553.7l5.4,5.4M209.9,559.1l5.4,-5.4M223.5,574.9h7.6M227.3,571.1v7.6M224.6,572.2l5.4,5.4M224.6,577.6l5.4,-5.4M238.1,563.9h7.6M241.9,560.1v7.6M239.2,561.2l5.4,5.4M239.2,566.6l5.4,-5.4M252.8,555.8h7.6M256.6,552.0v7.6M253.9,553.1l5.4,5.4M253.9,558.5l5.4,-5.4M267.5,551.1h7.6M271.3,547.3v7.6M268.6,548.4l5.4,5.4M268.6,553.8l5.4,-5.4M282.2,561.4h7.6M286.0,557.6v7.6M283.3,558.7l5.4,5.4M283.3,564.1l5.4,-5.4M296.8,530.7h7.6M300.6,526.9v7.6M297.9,528.0l5.4,5.4M297.9,533.4l5.4,-5.4M311.5,541.3h7.6M315.3,537.5v7.6M312.6,538.6l5.4,5.4M312.6,544.0l5.4,-5.4M326.2,561.3h7.6M330.0,557.5v7.6M327.3,558.6l5.4,5.4M327.3,564.0l5.4,-5.4M340.8,505.6h7.6M344.6,501.8v7.6M341.9,502.9l5.4,5.4M341.9,508.3l5.4,-5.4M355.5,543.7h7.6M359.3,539.9v7.6M356.6,541.0l5.4,5.4M356.6,546.4l5.4,-5.4M370.2,558.6h7.6M374.0,554.8v7.6M371.3,555.9l5.4,5.4M371.3,561.3l5.4,-5.4M384.8,496.4h7.6M388.6,492.6v7.6M385.9,493.7l5.4,5.4M385.9,499.1l5.4,-5.4M399.5,566.8h7.6M403.3,563.0v7.6M400.6,564.1l5.4,5.4M400.6,569.5l5.4,-5.4M414.2,554.6h7.6M418.0,550.8v7.6M415.3,551.9l5.4,5.4M415.3,557.3l5.4,-5.4M428.9,558.9h7.6M432.7,555.1v7.6M430.0,556.2l5.4,5.4M430.0,561.6l5.4,-5.4M443.5,545.3h7.6M447.3,541.5v7.6M444.6,542.6l5.4,5.4M444.6,548.0l5.4,-5.4M458.2,548.8h7.6M462.0,545.0v7.6M459.3,546.1l5.4,5.4M459.3,551.5l5.4,-5.4M472.9,538.5h7.6M476.7,534.7v7.6M474.0,535.8l5.4,5.4M474.0,541.2l5.4,-5.4M487.5,568.7h7.6M491.3,564.9v7.6M488.6,566.0l5.4,5.4M488.6,571.4l5.4,-5.4M502.2,561.5h7.6M506.0,557.7v7.6M503.3,558.8l5.4,5.4M503.3,564.2l5.4,-5.4M516.9,558.6h7.6M520.7,554.8v7.6M518.0,555.9l5.4,5.4M518.0,561.3l5.4,-5.4M531.6,566.4h7.6M535.4,562.6v7.6M532.7,563.7l5.4,5.4M532.7,569.1l5.4,-5.4M546.2,555.8h7.6M550.0,552.0v7.6M547.3,553.1l5.4,5.4M547.3,558.5l5.4,-5.4M560.9,552.3h7.6M564.7,548.5v7.6M562.0,549.6l5.4,5.4M562.0,555.0l5.4,-5.4M575.6,547.2h7.6M579.4,543.4v7.6M576.7,544.5l5.4,5.4M576.7,549.9l5.4,-5.4M590.2,537.6h7.6M594.0,533.8v7.6M591.3,534.9l5.4,5.4M591.3,540.3l5.4,-5.4M604.9,553.9h7.6M608.7,550.1v7.6M606.0,551.2l5.4,5.4M606.0,556.6l5.4,-5.4M619.6,549.6h7.6M623.4,545.8v7.6M620.7,546.9l5.4,5.4M620.7,552.3l5.4,-5.4M634.3,562.2h7.6M638.1,558.4v7.6M635.4,559.5l5.4,5.4M635.4,564.9l5.4,-5.4M648.9,539.1h7.6M652.7,535.3v7.6M650.0,536.4l5.4,5.4M650.0,541.8l5.4,-5.4M663.6,551.8h7.6M667.4,548.0v7.6M664.7,549.1l5.4,5.4M664.7,554.5l5.4,-5.4M678.3,554.4h7.6M682.1,550.6v7.6M679.4,551.7l5.4,5.4M679.4,557.1l5.4,-5.4"/>
<path d="M106.1,565.4h7.6M109.9,561.6v7.6M107.2,562.7l5.4,5.4M107.2,568.1l5.4,-5.4M120.8,539.6h7.6M124.6,535.8v7.6M121.9,536.9l5.4,5.4M121.9,542.3l5.4,-5.4M135.4,524.6h7.6M139.2,520.8v7.6M136.5,521.9l5.4,5.4M136.5,527.3l5.4,-5.4M150.1,552.3h7.6M153.9,548.5v7.6M151.2,549.6l5.4,5.4M151.2,555.0l5.4,-5.4M164.8,540.4h7.6M168.6,536.6v7.6M165.9,537.7l5.4,5.4M165.9,543.1l5.4,-5.4M179.5,564.6h7.6M183.3,560.8v7.6M180.6,561.9l5.4,5.4M180.6,567.3l5.4,-5.4M194.1,555.0h7.6M197.9,551.2v7.6M195.2,552.3l5.4,5.4M195.2,557.7l5.4,-5.4M208.8,544.3h7.6M212.6,540.5v7.6M209.9,541.6l5.4,5.4M209.9,547.0l5.4,-5.4M223.5,558.0h7.6M227.3,554.2v7.6M224.6,555.3l5.4,5.4M224.6,560.7l5.4,-5.4M238.1,553.3h7.6M241.9,549.5v7.6M239.2,550.6l5.4,5.4M239.2,556.0l5.4,-5.4M252.8,546.0h7.6M256.6,542.2v7.6M253.9,543.3l5.4,5.4M253.9,548.7l5.4,-5.4M267.5,547.1h7.6M271.3,543.3v7.6M268.6,544.4l5.4,5.4M268.6,549.8l5.4,-5.4M282.2,555.4h7.6M286.0,551.6v7.6M283.3,552.7l5.4,5.4M283.3,558.1l5.4,-5.4M296.8,540.5h7.6M300.6,536.7v7.6M297.9,537.8l5.4,5.4M297.9,543.2l5.4,-5.4M311.5,562.9h7.6M315.3,559.1v7.6M312.6,560.2l5.4,5.4M312.6,565.6l5.4,-5.4M326.2,549.7h7.6M330.0,545.9v7.6M327.3,547.0l5.4,5.4M327.3,552.4l5.4,-5.4M340.8,534.9h7.6M344.6,531.1v7.6M341.9,532.2l5.4,5.4M341.9,537.6l5.4,-5.4M355.5,550.5h7.6M359.3,546.7v7.6M356.6,547.8l5.4,5.4M356.6,553.2l5.4,-5.4M370.2,556.3h7.6M374.0,552.5v7.6M371.3,553.6l5.4,5.4M371.3,559.0l5.4,-5.4M384.8,559.1h7.6M388.6,555.3v7.6M385.9,556.4l5.4,5.4M385.9,561.8l5.4,-5.4M399.5,577.0h7.6M403.3,573.2v7.6M400.6,574.3l5.4,5.4M400.6,579.7l5.4,-5.4M414.2,552.5h7.6M418.0,548.7v7.6M415.3,549.8l5.4,5.4M415.3,555.2l5.4,-5.4M428.9,547.1h7.6M432.7,543.3v7.6M430.0,544.4l5.4,5.4M430.0,549.8l5.4,-5.4M443.5,559.1h7.6M447.3,555.3v7.6M444.6,556.4l5.4,5.4M444.6,561.8l5.4,-5.4M458.2,541.3h7.6M462.0,537.5v7.6M459.3,538.6l5.4,5.4M459.3,544.0l5.4,-5.4M472.9,564.9h7.6M476.7,561.1v7.6M474.0,562.2l5.4,5.4M474.0,567.6l5.4,-5.4M487.5,570.1h7.6M491.3,566.3v7.6M488.6,567.4l5.4,5.4M488.6,572.8l5.4,-5.4M502.2,551.6h7.6M506.0,547.8v7.6M503.3,548.9l5.4,5.4M503.3,554.3l5.4,-5.4M516.9,548.2h7.6M520.7,544.4v7.6M518.0,545.5l5.4,5.4M518.0,550.9l5.4,-5.4M531.6,548.1h7.6M535.4,544.3v7.6M532.7,545.4l5.4,5.4M532.7,550.8l5.4,-5.4M546.2,518.2h7.6M550.0,514.4v7.6M547.3,515.5l5.4,5.4M547.3,520.9l5.4,-5.4M560.9,549.3h7.6M564.7,545.5v7.6M562.0,546.6l5.4,5.4M562.0,552.0l5.4,-5.4M575.6,559.4h7.6M579.4,555.6v7.6M576.7,556.7l5.4,5.4M576.7,562.1l5.4,-5.4M590.2,548.7h7.6M594.0,544.9v7.6M591.3,546.0l5.4,5.4M591.3,551.4l5.4,-5.4M604.9,558.6h7.6M608.7,554.8v7.6M606.0,555.9l5.4,5.4M606.0,561.3l5.4,-5.4M619.6,533.6h7.6M623.4,529.8v7.6M620.7,530.9l5.4,5.4M620.7,536.3l5.4,-5.4M634.3,565.0h7.6M638.1,561.2v7.6M635.4,562.3l5.4,5.4M635.4,567.7l5.4,-5.4M648.9,533.7h7.6M652.7,529.9v7.6M650.0,531.0l5.4,5.4M650.0,536.4l5.4,-5.4M663.6,564.6h7.6M667.4,560.8v7.6M664.7,561.9l5.4,5.4M664.7,567.3l5.4,-5.4M678.3,481.1h7.6M682.1,477.3v7.6M679.4,478.4l5.4,5.4M679.4,483.8l5.4,-5.4"/>
<path d="M106.1,554.6h7.6M109.9,550.8v7.6M107.2,551.9l5.4,5.4M107.2,557.3l5.4,-5.4M120.8,541.3h7.6M124.6,537.5v7.6M121.9,538.6l5.4,5.4M121.9,544.0l5.4,-5.4M135.4,498.2h7.6M139.2,494.4v7.6M136.5,495.5l5.4,5.4M136.5,500.9l5.4,-5.4M150.1,558.7h7.6M153.9,554.9v7.6M151.2,556.0l5.4,5.4M151.2,561.4l5.4,-5.4M164.8,521.4h7.6M168.6,517.6v7.6M165.9,518.7l5.4,5.4M165.9,524.1l5.4,-5.4M179.5,534.6h7.6M183.3,530.8v7.6M180.6,531.9l5.4,5.4M180.6,537.3l5.4,-5.4M194.1,552.9h7.6M197.9,549.1v7.6M195.2,550.2l5.4,5.4M195.2,555.6l5.4,-5.4M208.8,564.6h7.6M212.6,560.8v7.6M209.9,561.9l5.4,5.4M209.9,567.3l5.4,-5.4M223.5,560.4h7.6M227.3,556.6v7.6M224.6,557.7l5.4,5.4M224.6,563.1l5.4,-5.4M238.1,562.7h7.6M241.9,558.9v7.6M239.2,560.0l5.4,5.4M239.2,565.4l5.4,-5.4M252.8,548.8h7.6M256.6,545.0v7.6M253.9,546.1l5.4,5.4M253.9,551.5l5.4,-5.4M267.5,554.5h7.6M271.3,550.7v7.6M268.6,551.8l5.4,5.4M268.6,557.2l5.4,-5.4M282.2,550.1h7.6M286.0,546.3v7.6M283.3,547.4l5.4,5.4M283.3,552.8l5.4,-5.4M296.8,554.1h7.6M300.6,550.3v7.6M297.9,551.4l5.4,5.4M297.9,556.8l5.4,-5.4M311.5,563.8h7.6M315.3,560.0v7.6M312.6,561.1l5.4,5.4M312.6,566.5l5.4,-5.4M326.2,558.4h7.6M330.0,554.6v7.6M327.3,555.7l5.4,5.4M327.3,561.1l5.4,-5.4M340.8,562.7h7.6M344.6,558.9v7.6M341.9,560.0l5.4,5.4M341.9,565.4l5.4,-5.4M355.5,550.3h7.6M359.3,546.5v7.6M356.6,547.6l5.4,5.4M356.6,553.0l5.4,-5.4M370.2,564.7h7.6M374.0,560.9v7.6M371.3,562.0l5.4,5.4M371.3,567.4l5.4,-5.4M384.8,531.3h7.6M388.6,527.5v7.6M385.9,528.6l5.4,5.4M385.9,534.0l5.4,-5.4M399.5,523.0h7.6M403.3,519.2v7.6M400.6,520.3l5.4,5.4M400.6,525.7l5.4,-5.4M414.2,562.8h7.6M418.0,559.0v7.6M415.3,560.1l5.4,5.4M415.3,565.5l5.4,-5.4M428.9,558.0h7.6M432.7,554.2v7.6M430.0,555.3l5.4,5.4M430.0,560.7l5.4,-5.4M443.5,569.0h7.6M447.3,565.2v7.6M444.6,566.3l5.4,5.4M444.6,571.7l5.4,-5.4M458.2,518.3h7.6M462.0,514.5v7.6M459.3,515.6l5.4,5.4M459.3,521.0l5.4,-5.4M472.9,551.4h7.6M476.7,547.6v7.6M474.0,548.7l5.4,5.4M474.0,554.1l5.4,-5.4M487.5,565.6h7.6M491.3,561.8v7.6M488.6,562.9l5.4,5.4M488.6,568.3l5.4,-5.4M502.2,546.0h7.6M506.0,542.2v7.6M503.3,543.3l5.4,5.4M503.3,548.7l5.4,-5.4M516.9,575.3h7.6M520.7,571.5v7.6M518.0,572.6l5.4,5.4M518.0,578.0l5.4,-5.4M531.6,557.5h7.6M535.4,553.7v7.6M532.7,554.8l5.4,5.4M532.7,560.2l5.4,-5.4M546.2,559.0h7.6M550.0,555.2v7.6M547.3,556.3l5.4,5.4M547.3,561.7l5.4,-5.4M560.9,552.9h7.6M564.7,549.1v7.6M562.0,550.2l5.4,5.4M562.0,555.6l5.4,-5.4M575.6,575.7h7.6M579.4,571.9v7.6M576.7,573.0l5.4,5.4M576.7,578.4l5.4,-5.4M590.2,568.5h7.6M594.0,564.7v7.6M591.3,565.8l5.4,5.4M591.3,571.2l5.4,-5.4M604.9,527.6h7.6M608.7,523.8v7.6M606.0,524.9l5.4,5.4M606.0,530.3l5.4,-5.4M619.6,531.4h7.6M623.4,527.6v7.6M620.7,528.7l5.4,5.4M620.7,534.1l5.4,-5.4M634.3,564.7h7.6M638.1,560.9v7.6M635.4,562.0l5.4,5.4M635.4,567.4l5.4,-5.4M648.9,501.6h7.6M652.7,497.8v7.6M650.0,498.9l5.4,5.4M650.0,504.3l5.4,-5.4M663.6,558.1h7.6M667.4,554.3v7.6M664.7,555.4l5.4,5.4M664.7,560.8l5.4,-5.4M678.3,548.6h7.6M682.1,544.8v7.6M679.4,545.9l5.4,5.4M679.4,551.3l5.4,-5.4"/>
<path d="M106.1,557.4h7.6M109.9,553.6v7.6M107.2,554.7l5.4,5.4M107.2,560.1l5.4,-5.4M120.8,564.2h7.6M124.6,560.4v7.6M121.9,561.5l5.4,5.4M121.9,566.9l5.4,-5.4M135.4,494.7h7.6M139.2,490.9v7.6M136.5,492.0l5.4,5.4M136.5,497.4l5.4,-5.4M150.1,559.6h7.6M153.9,555.8v7.6M151.2,556.9l5.4,5.4M151.2,562.3l5.4,-5.4M164.8,565.4h7.6M168.6,561.6v7.6M165.9,562.7l5.4,5.4M165.9,568.1l5.4,-5.4M179.5,565.1h7.6M183.3,561.3v7.6M180.6,562.4l5.4,5.4M180.6,567.8l5.4,-5.4M194.1,555.9h7.6M197.9,552.1v7.6M195.2,553.2l5.4,5.4M195.2,558.6l5.4,-5.4M208.8,543.8h7.6M212.6,540.0v7.6M209.9,541.1l5.4,5.4M209.9,546.5l5.4,-5.4M223.5,570.1h7.6M227.3,566.3v7.6M224.6,567.4l5.4,5.4M224.6,572.8l5.4,-5.4M238.1,547.5h7.6M241.9,543.7v7.6M239.2,544.8l5.4,5.4M239.2,550.2l5.4,-5.4M252.8,554.5h7.6M256.6,550.7v7.6M253.9,551.8l5.4,5.4M253.9,557.2l5.4,-5.4M267.5,555.7h7.6M271.3,551.9v7.6M268.6,553.0l5.4,5.4M268.6,558.4l5.4,-5.4M282.2,549.5h7.6M286.0,545.7v7.6M283.3,546.8l5.4,5.4M283.3,552.2l5.4,-5.4M296.8,555.4h7.6M300.6,551.6v7.6M297.9,552.7l5.4,5.4M297.9,558.1l5.4,-5.4M311.5,552.8h7.6M315.3,549.0v7.6M312.6,550.1l5.4,5.4M312.6,555.5l5.4,-5.4M326.2,562.3h7.6M330.0,558.5v7.6M327.3,559.6l5.4,5.4M327.3,565.0l5.4,-5.4M340.8,536.6h7.6M344.6,532.8v7.6M341.9,533.9l5.4,5.4M341.9,539.3l5.4,-5.4M355.5,517.3h7.6M359.3,513.5v7.6M356.6,514.6l5.4,5.4M356.6,520.0l5.4,-5.4M370.2,548.3h7.6M374.0,544.5v7.6M371.3,545.6l5.4,5.4M371.3,551.0l5.4,-5.4M384.8,528.1h7.6M388.6,524.3v7.6M385.9,525.4l5.4,5.4M385.9,530.8l5.4,-5.4M399.5,568.0h7.6M403.3,564.2v7.6M400.6,565.3l5.4,5.4M400.6,570.7l5.4,-5.4M414.2,528.6h7.6M418.0,524.8v7.6M415.3,525.9l5.4,5.4M415.3,531.3l5.4,-5.4M428.9,510.7h7.6M432.7,506.9v7.6M430.0,508.0l5.4,5.4M430.0,513.4l5.4,-5.4M443.5,550.1h7.6M447.3,546.3v7.6M444.6,547.4l5.4,5.4M444.6,552.8l5.4,-5.4M458.2,523.1h7.6M462.0,519.3v7.6M459.3,520.4l5.4,5.4M459.3,525.8l5.4,-5.4M472.9,559.9h7.6M476.7,556.1v7.6M474.0,557.2l5.4,5.4M474.0,562.6l5.4,-5.4M487.5,574.6h7.6M491.3,570.8v7.6M488.6,571.9l5.4,5.4M488.6,577.3l5.4,-5.4M502.2,551.5h7.6M506.0,547.7v7.6M503.3,548.8l5.4,5.4M503.3,554.2l5.4,-5.4M516.9,558.6h7.6M520.7,554.8v7.6M518.0,555.9l5.4,5.4M518.0,561.3l5.4,-5.4M531.6,569.8h7.6M535.4,566.0v7.6M532.7,567.1l5.4,5.4M532.7,572.5l5.4,-5.4M546.2,566.0h7.6M550.0,562.2v7.6M547.3,563.3l5.4,5.4M547.3,568.7l5.4,-5.4M560.9,546.9h7.6M564.7,543.1v7.6M562.0,544.2l5.4,5.4M562.0,549.6l5.4,-5.4M575.6,563.0h7.6M579.4,559.2v7.6M576.7,560.3l5.4,5.4M576.7,565.7l5.4,-5.4M590.2,563.7h7.6M594.0,559.9v7.6M591.3,561.0l5.4,5.4M591.3,566.4l5.4,-5.4M604.9,560.9h7.6M608.7,557.1v7.6M606.0,558.2l5.4,5.4M606.0,563.6l5.4,-5.4M619.6,551.6h7.6M623.4,547.8v7.6M620.7,548.9l5.4,5.4M620.7,554.3l5.4,-5.4M634.3,564.8h7.6M638.1,561.0v7.6M635.4,562.1l5.4,5.4M635.4,567.5l5.4,-5.4M648.9,549.9h7.6M652.7,546.1v7.6M650.0,547.2l5.4,5.4M650.0,552.6l5.4,-5.4M663.6,516.6h7.6M667.4,512.8v7.6M664.7,513.9l5.4,5.4M664.7,519.3l5.4,-5.4M678.3,571.0h7.6M682.1,567.2v7.6M679.4,568.3l5.4,5.4M679.4,573.7l5.4,-5.4"/>
<path d="M106.1,507.0h7.6M109.9,503.2v7.6M107.2,504.3l5.4,5.4M107.2,509.7l5.4,-5.4M120.8,494.7h7.6M124.6,490.9v7.6M121.9,492.0l5.4,5.4M121.9,497.4l5.4,-5.4M135.4,525.8h7.6M139.2,522.0v7.6M136.5,523.1l5.4,5.4M136.5,528.5l5.4,-5.4M150.1,552.4h7.6M153.9,548.6v7.6M151.2,549.7l5.4,5.4M151.2,555.1l5.4,-5.4M164.8,548.2h7.6M168.6,544.4v7.6M165.9,545.5l5.4,5.4M165.9,550.9l5.4,-5.4M179.5,554.0h7.6M183.3,550.2v7.6M180.6,551.3l5.4,5.4M180.6,556.7l5.4,-5.4M194.1,558.4h7.6M197.9,554.6v7.6M195.2,555.7l5.4,5.4M195.2,561.1l5.4,-5.4M208.8,573.1h7.6M212.6,569.3v7.6M209.9,570.4l5.4,5.4M209.9,575.8l5.4,-5.4M223.5,551.3h7.6M227.3,547.5v7.6M224.6,548.6l5.4,5.4M224.6,554.0l5.4,-5.4M238.1,564.2h7.6M241.9,560.4v7.6M239.2,561.5l5.4,5.4M239.2,566.9l5.4,-5.4M252.8,577.1h7.6M256.6,573.3v7.6M253.9,574.4l5.4,5.4M253.9,579.8l5.4,-5.4M267.5,557.7h7.6M271.3,553.9v7.6M268.6,555.0l5.4,5.4M268.6,560.4l5.4,-5.4M282.2,550.4h7.6M286.0,546.6v7.6M283.3,547.7l5.4,5.4M283.3,553.1l5.4,-5.4M296.8,524.8h7.6M300.6,521.0v7.6M297.9,522.1l5.4,5.4M297.9,527.5l5.4,-5.4M311.5,554.4h7.6M315.3,550.6v7.6M312.6,551.7l5.4,5.4M312.6,557.1l5.4,-5.4M326.2,547.6h7.6M330.0,543.8v7.6M327.3,544.9l5.4,5.4M327.3,550.3l5.4,-5.4M340.8,535.9h7.6M344.6,532.1v7.6M341.9,533.2l5.4,5.4M341.9,538.6l5.4,-5.4M355.5,550.2h7.6M359.3,546.4v7.6M356.6,547.5l5.4,5.4M356.6,552.9l5.4,-5.4M370.2,548.2h7.6M374.0,544.4v7.6M371.3,545.5l5.4,5.4M371.3,550.9l5.4,-5.4M384.8,565.7h7.6M388.6,561.9v7.6M385.9,563.0l5.4,5.4M385.9,568.4l5.4,-5.4M399.5,564.9h7.6M403.3,561.1v7.6M400.6,562.2l5.4,5.4M400.6,567.6l5.4,-5.4M414.2,558.8h7.6M418.0,555.0v7.6M415.3,556.1l5.4,5.4M415.3,561.5l5.4,-5.4M428.9,554.4h7.6M432.7,550.6v7.6M430.0,551.7l5.4,5.4M430.0,557.1l5.4,-5.4M443.5,524.3h7.6M447.3,520.5v7.6M444.6,521.6l5.4,5.4M444.6,527.0l5.4,-5.4M458.2,526.7h7.6M462.0,522.9v7.6M459.3,524.0l5.4,5.4M459.3,529.4l5.4,-5.4M472.9,554.5h7.6M476.7,550.7v7.6M474.0,551.8l5.4,5.4M474.0,557.2l5.4,-5.4M487.5,554.6h7.6M491.3,550.8v7.6M488.6,551.9l5.4,5.4M488.6,557.3l5.4,-5.4M502.2,563.3h7.6M506.0,559.5v7.6M503.3,560.6l5.4,5.4M503.3,566.0l5.4,-5.4M516.9,561.7h7.6M520.7,557.9v7.6M518.0,559.0l5.4,5.4M518.0,564.4l5.4,-5.4M531.6,562.7h7.6M535.4,558.9v7.6M532.7,560.0l5.4,5.4M532.7,565.4l5.4,-5.4M546.2,555.1h7.6M550.0,551.3v7.6M547.3,552.4l5.4,5.4M547.3,557.8l5.4,-5.4M560.9,556.3h7.6M564.7,552.5v7.6M562.0,553.6l5.4,5.4M562.0,559.0l5.4,-5.4M575.6,526.0h7.6M579.4,522.2v7.6M576.7,523.3l5.4,5.4M576.7,528.7l5.4,-5.4M590.2,555.5h7.6M594.0,551.7v7.6M591.3,552.8l5.4,5.4M591.3,558.2l5.4,-5.4M604.9,542.0h7.6M608.7,538.2v7.6M606.0,539.3l5.4,5.4M606.0,544.7l5.4,-5.4M619.6,541.7h7.6M623.4,537.9v7.6M620.7,539.0l5.4,5.4M620.7,544.4l5.4,-5.4M634.3,567.8h7.6M638.1,564.0v7.6M635.4,565.1l5.4,5.4M635.4,570.5l5.4,-5.4M648.9,556.3h7.6M652.7,552.5v7.6M650.0,553.6l5.4,5.4M650.0,559.0l5.4,-5.4M663.6,529.3h7.6M667.4,525.5v7.6M664.7,526.6l5.4,5.4M664.7,532.0l5.4,-5.4M678.3,539.6h7.6M682.1,535.8v7.6M679.4,536.9l5.4,5.4M679.4,542.3l5.4,-5.4"/>
<path d="M106.1,572.5h7.6M109.9,568.7v7.6M107.2,569.8l5.4,5.4M107.2,575.2l5.4,-5.4M120.8,530.2h7.6M124.6,526.4v7.6M121.9,527.5l5.4,5.4M121.9,532.9l5.4,-5.4M135.4,542.2h7.6M139.2,538.4v7.6M136.5,539.5l5.4,5.4M136.5,544.9l5.4,-5.4M150.1,554.5h7.6M153.9,550.7v7.6M151.2,551.8l5.4,5.4M151.2,557.2l5.4,-5.4M164.8,576.9h7.6M168.6,573.1v7.6M165.9,574.2l5.4,5.4M165.9,579.6l5.4,-5.4M179.5,564.1h7.6M183.3,560.3v7.6M180.6,561.4l5.4,5.4M180.6,566.8l5.4,-5.4M194.1,526.7h7.6M197.9,522.9v7.6M195.2,524.0l5.4,5.4M195.2,529.4l5.4,-5.4M208.8,559.5h7.6M212.6,555.7v7.6M209.9,556.8l5.4,5.4M209.9,562.2l5.4,-5.4M223.5,573.8h7.6M227.3,570.0v7.6M224.6,571.1l5.4,5.4M224.6,576.5l5.4,-5.4M238.1,538.2h7.6M241.9,534.4v7.6M239.2,535.5l5.4,5.4M239.2,540.9l5.4,-5.4M252.8,558.0h7.6M256.6,554.2v7.6M253.9,555.3l5.4,5.4M253.9,560.7l5.4,-5.4M267.5,557.7h7.6M271.3,553.9v7.6M268.6,555.0l5.4,5.4M268.6,560.4l5.4,-5.4M282.2,527.0h7.6M286.0,523.2v7.6M283.3,524.3l5.4,5.4M283.3,529.7l5.4,-5.4M296.8,552.3h7.6M300.6,548.5v7.6M297.9,549.6l5.4,5.4M297.9,555.0l5.4,-5.4M311.5,569.6h7.6M315.3,565.8v7.6M312.6,566.9l5.4,5.4M312.6,572.3l5.4,-5.4M326.2,505.0h7.6M330.0,501.2v7.6M327.3,502.3l5.4,5.4M327.3,507.7l5.4,-5.4M340.8,550.6h7.6M344.6,546.8v7.6M341.9,547.9l5.4,5.4M341.9,553.3l5.4,-5.4M355.5,558.9h7.6M359.3,555.1v7.6M356.6,556.2l5.4,5.4M356.6,561.6l5.4,-5.4M370.2,554.4h7.6M374.0,550.6v7.6M371.3,551.7l5.4,5.4M371.3,557.1l5.4,-5.4M384.8,571.4h7.6M388.6,567.6v7.6M385.9,568.7l5.4,5.4M385.9,574.1l5.4,-5.4M399.5,546.4h7.6M403.3,542.6v7.6M400.6,543.7l5.4,5.4M400.6,549.1l5.4,-5.4M414.2,567.2h7.6M418.0,563.4v7.6M415.3,564.5l5.4,5.4M415.3,569.9l5.4,-5.4M428.9,563.9h7.6M432.7,560.1v7.6M430.0,561.2l5.4,5.4M430.0,566.6l5.4,-5.4M443.5,540.7h7.6M447.3,536.9v7.6M444.6,538.0l5.4,5.4M444.6,543.4l5.4,-5.4M458.2,538.2h7.6M462.0,534.4v7.6M459.3,535.5l5.4,5.4M459.3,540.9l5.4,-5.4M472.9,561.6h7.6M476.7,557.8v7.6M474.0,558.9l5.4,5.4M474.0,564.3l5.4,-5.4M487.5,533.8h7.6M491.3,530.0v7.6M488.6,531.1l5.4,5.4M488.6,536.5l5.4,-5.4M502.2,527.4h7.6M506.0,523.6v7.6M503.3,524.7l5.4,5.4M503.3,530.1l5.4,-5.4M516.9,550.1h7.6M520.7,546.3v7.6M518.0,547.4l5.4,5.4M518.0,552.8l5.4,-5.4M531.6,561.2h7.6M535.4,557.4v7.6M532.7,558.5l5.4,5.4M532.7,563.9l5.4,-5.4M546.2,546.2h7.6M550.0,542.4v7.6M547.3,543.5l5.4,5.4M547.3,548.9l5.4,-5.4M560.9,550.0h7.6M564.7,546.2v7.6M562.0,547.3l5.4,5.4M562.0,552.7l5.4,-5.4M575.6,538.7h7.6M579.4,534.9v7.6M576.7,536.0l5.4,5.4M576.7,541.4l5.4,-5.4M590.2,549.1h7.6M594.0,545.3v7.6M591.3,546.4l5.4,5.4M591.3,551.8l5.4,-5.4M604.9,516.1h7.6M608.7,512.3v7.6M606.0,513.4l5.4,5.4M606.0,518.8l5.4,-5.4M619.6,568.6h7.6M623.4,564.8v7.6M620.7,565.9l5.4,5.4M620.7,571.3l5.4,-5.4M634.3,545.3h7.6M638.1,541.5v7.6M635.4,542.6l5.4,5.4M635.4,548.0l5.4,-5.4M648.9,537.3h7.6M652.7,533.5v7.6M650.0,534.6l5.4,5.4M650.0,540.0l5.4,-5.4M663.6,550.1h7.6M667.4,546.3v7.6M664.7,547.4l5.4,5.4M664.7,552.8l5.4,-5.4M678.3,544.8h7.6M682.1,541.0v7.6M679.4,542.1l5.4,5.4M679.4,547.5l5.4,-5.4"/>
<path d="M106.1,552.1h7.6M109.9,548.3v7.6M107.2,549.4l5.4,5.4M107.2,554.8l5.4,-5.4M120.8,530.9h7.6M124.6,527.1v7.6M121.9,528.2l5.4,5.4M121.9,533.6l5.4,-5.4M135.4,536.1h7.6M139.2,532.3v7.6M136.5,533.4l5.4,5.4M136.5,538.8l5.4,-5.4M150.1,539.6h7.6M153.9,535.8v7.6M151.2,536.9l5.4,5.4M151.2,542.3l5.4,-5.4M164.8,563.9h7.6M168.6,560.1v7.6M165.9,561.2l5.4,5.4M165.9,566.6l5.4,-5.4M179.5,577.7h7.6M183.3,573.9v7.6M180.6,575.0l5.4,5.4M180.6,580.4l5.4,-5.4M194.1,553.5h7.6M197.9,549.7v7.6M195.2,550.8l5.4,5.4M195.2,556.2l5.4,-5.4M208.8,563.9h7.6M212.6,560.1v7.6M209.9,561.2l5.4,5.4M209.9,566.6l5.4,-5.4M223.5,577.0h7.6M227.3,573.2v7.6M224.6,574.3l5.4,5.4M224.6,579.7l5.4,-5.4M238.1,559.5h7.6M241.9,555.7v7.6M239.2,556.8l5.4,5.4M239.2,562.2l5.4,-5.4M252.8,554.4h7.6M256.6,550.6v7.6M253.9,551.7l5.4,5.4M253.9,557.1l5.4,-5.4M267.5,537.2h7.6M271.3,533.4v7.6M268.6,534.5l5.4,5.4M268.6,539.9l5.4,-5.4M282.2,561.3h7.6M286.0,557.5v7.6M283.3,558.6l5.4,5.4M283.3,564.0l5.4,-5.4M296.8,533.8h7.6M300.6,530.0v7.6M297.9,531.1l5.4,5.4M297.9,536.5l5.4,-5.4M311.5,551.5h7.6M315.3,547.7v7.6M312.6,548.8l5.4,5.4M312.6,554.2l5.4,-5.4M326.2,563.6h7.6M330.0,559.8v7.6M327.3,560.9l5.4,5.4M327.3,566.3l5.4,-5.4M340.8,561.7h7.6M344.6,557.9v7.6M341.9,559.0l5.4,5.4M341.9,564.4l5.4,-5.4M355.5,545.3h7.6M359.3,541.5v7.6M356.6,542.6l5.4,5.4M356.6,548.0l5.4,-5.4M370.2,536.3h7.6M374.0,532.5v7.6M371.3,533.6l5.4,5.4M371.3,539.0l5.4,-5.4M384.8,566.5h7.6M388.6,562.7v7.6M385.9,563.8l5.4,5.4M385.9,569.2l5.4,-5.4M399.5,549.2h7.6M403.3,545.4v7.6M400.6,546.5l5.4,5.4M400.6,551.9l5.4,-5.4M414.2,557.1h7.6M418.0,553.3v7.6M415.3,554.4l5.4,5.4M415.3,559.8l5.4,-5.4M428.9,552.2h7.6M432.7,548.4v7.6M430.0,549.5l5.4,5.4M430.0,554.9l5.4,-5.4M443.5,554.2h7.6M447.3,550.4v7.6M444.6,551.5l5.4,5.4M444.6,556.9l5.4,-5.4M458.2,531.5h7.6M462.0,527.7v7.6M459.3,528.8l5.4,5.4M459.3,534.2l5.4,-5.4M472.9,501.6h7.6M476.7,497.8v7.6M474.0,498.9l5.4,5.4M474.0,504.3l5.4,-5.4M487.5,572.6h7.6M491.3,568.8v7.6M488.6,569.9l5.4,5.4M488.6,575.3l5.4,-5.4M502.2,545.7h7.6M506.0,541.9v7.6M503.3,543.0l5.4,5.4M503.3,548.4l5.4,-5.4M516.9,544.2h7.6M520.7,540.4v7.6M518.0,541.5l5.4,5.4M518.0,546.9l5.4,-5.4M531.6,561.4h7.6M535.4,557.6v7.6M532.7,558.7l5.4,5.4M532.7,564.1l5.4,-5.4M546.2,549.3h7.6M550.0,545.5v7.6M547.3,546.6l5.4,5.4M547.3,552.0l5.4,-5.4M560.9,557.0h7.6M564.7,553.2v7.6M562.0,554.3l5.4,5.4M562.0,559.7l5.4,-5.4M575.6,536.7h7.6M579.4,532.9v7.6M576.7,534.0l5.4,5.4M576.7,539.4l5.4,-5.4M590.2,540.3h7.6M594.0,536.5v7.6M591.3,537.6l5.4,5.4M591.3,543.0l5.4,-5.4M604.9,552.1h7.6M608.7,548.3v7.6M606.0,549.4l5.4,5.4M606.0,554.8l5.4,-5.4M619.6,528.0h7.6M623.4,524.2v7.6M620.7,525.3l5.4,5.4M620.7,530.7l5.4,-5.4M634.3,560.7h7.6M638.1,556.9v7.6M635.4,558.0l5.4,5.4M635.4,563.4l5.4,-5.4M648.9,545.8h7.6M652.7,542.0v7.6M650.0,543.1l5.4,5.4M650.0,548.5l5.4,-5.4M663.6,549.8h7.6M667.4,546.0v7.6M664.7,547.1l5.4,5.4M664.7,552.5l5.4,-5.4M678.3,550.9h7.6M682.1,547.1v7.6M679.4,548.2l5.4,5.4M679.4,553.6l5.4,-5.4"/>
<path d="M106.1,559.8h7.6M109.9,556.0v7.6M107.2,557.1l5.4,5.4M107.2,562.5l5.4,-5.4M120.8,532.1h7.6M124.6,528.3v7.6M121.9,529.4l5.4,5.4M121.9,534.8l5.4,-5.4M135.4,551.5h7.6M139.2,547.7v7.6M136.5,548.8l5.4,5.4M136.5,554.2l5.4,-5.4M150.1,559.2h7.6M153.9,555.4v7.6M151.2,556.5l5.4,5.4M151.2,561.9l5.4,-5.4M164.8,538.3h7.6M168.6,534.5v7.6M165.9,535.6l5.4,5.4M165.9,541.0l5.4,-5.4M179.5,530.1h7.6M183.3,526.3v7.6M180.6,527.4l5.4,5.4M180.6,532.8l5.4,-5.4M194.1,555.0h7.6M197.9,551.2v7.6M195.2,552.3l5.4,5.4M195.2,557.7l5.4,-5.4M208.8,557.5h7.6M212.6,553.7v7.6M209.9,554.8l5.4,5.4M209.9,560.2l5.4,-5.4M223.5,565.2h7.6M227.3,561.4v7.6M224.6,562.5l5.4,5.4M224.6,567.9l5.4,-5.4M238.1,574.5h7.6M241.9,570.7v7.6M239.2,571.8l5.4,5.4M239.2,577.2l5.4,-5.4M252.8,560.8h7.6M256.6,557.0v7.6M253.9,558.1l5.4,5.4M253.9,563.5l5.4,-5.4M267.5,549.9h7.6M271.3,546.1v7.6M268.6,547.2l5.4,5.4M268.6,552.6l5.4,-5.4M282.2,554.0h7.6M286.0,550.2v7.6M283.3,551.3l5.4,5.4M283.3,556.7l5.4,-5.4M296.8,535.7h7.6M300.6,531.9v7.6M297.9,533.0l5.4,5.4M297.9,538.4l5.4,-5.4M311.5,562.6h7.6M315.3,558.8v7.6M312.6,559.9l5.4,5.4M312.6,565.3l5.4,-5.4M326.2,502.6h7.6M330.0,498.8v7.6M327.3,499.9l5.4,5.4M327.3,505.3l5.4,-5.4M340.8,548.0h7.6M344.6,544.2v7.6M341.9,545.3l5.4,5.4M341.9,550.7l5.4,-5.4M355.5,535.8h7.6M359.3,532.0v7.6M356.6,533.1l5.4,5.4M356.6,538.5l5.4,-5.4M370.2,561.7h7.6M374.0,557.9v7.6M371.3,559.0l5.4,5.4M371.3,564.4l5.4,-5.4M384.8,548.0h7.6M388.6,544.2v7.6M385.9,545.3l5.4,5.4M385.9,550.7l5.4,-5.4M399.5,550.5h7.6M403.3,546.7v7.6M400.6,547.8l5.4,5.4M400.6,553.2l5.4,-5.4M414.2,548.2h7.6M418.0,544.4v7.6M415.3,545.5l5.4,5.4M415.3,550.9l5.4,-5.4M428.9,562.5h7.6M432.7,558.7v7.6M430.0,559.8l5.4,5.4M430.0,565.2l5.4,-5.4M443.5,544.5h7.6M447.3,540.7v7.6M444.6,541.8l5.4,5.4M444.6,547.2l5.4,-5.4M458.2,551.3h7.6M462.0,547.5v7.6M459.3,548.6l5.4,5.4M459.3,554.0l5.4,-5.4M472.9,543.2h7.6M476.7,539.4v7.6M474.0,540.5l5.4,5.4M474.0,545.9l5.4,-5.4M487.5,540.5h7.6M491.3,536.7v7.6M488.6,537.8l5.4,5.4M488.6,543.2l5.4,-5.4M502.2,548.7h7.6M506.0,544.9v7.6M503.3,546.0l5.4,5.4M503.3,551.4l5.4,-5.4M516.9,521.7h7.6M520.7,517.9v7.6M518.0,519.0l5.4,5.4M518.0,524.4l5.4,-5.4M531.6,533.8h7.6M535.4,530.0v7.6M532.7,531.1l5.4,5.4M532.7,536.5l5.4,-5.4M546.2,558.2h7.6M550.0,554.4v7.6M547.3,555.5l5.4,5.4M547.3,560.9l5.4,-5.4M560.9,550.8h7.6M564.7,547.0v7.6M562.0,548.1l5.4,5.4M562.0,553.5l5.4,-5.4M575.6,515.3h7.6M579.4,511.5v7.6M576.7,512.6l5.4,5.4M576.7,518.0l5.4,-5.4M590.2,522.4h7.6M594.0,518.6v7.6M591.3,519.7l5.4,5.4M591.3,525.1l5.4,-5.4M604.9,499.9h7.6M608.7,496.1v7.6M606.0,497.2l5.4,5.4M606.0,502.6l5.4,-5.4M619.6,566.5h7.6M623.4,562.7v7.6M620.7,563.8l5.4,5.4M620.7,569.2l5.4,-5.4M634.3,564.9h7.6M638.1,561.1v7.6M635.4,562.2l5.4,5.4M635.4,567.6l5.4,-5.4M648.9,498.2h7.6M652.7,494.4v7.6M650.0,495.5l5.4,5.4M650.0,500.9l5.4,-5.4M663.6,562.7h7.6M667.4,558.9v7.6M664.7,560.0l5.4,5.4M664.7,565.4l5.4,-5.4M678.3,549.5h7.6M682.1,545.7v7.6M679.4,546.8l5.4,5.4M679.4,552.2l5.4,-5.4"/>
<path d="M106.1,551.8h7.6M109.9,548.0v7.6M107.2,549.1l5.4,5.4M107.2,554.5l5.4,-5.4M120.8,554.8h7.6M124.6,551.0v7.6M121.9,552.1l5.4,5.4M121.9,557.5l5.4,-5.4M135.4,568.6h7.6M139.2,564.8v7.6M136.5,565.9l5.4,5.4M136.5,571.3l5.4,-5.4M150.1,560.0h7.6M153.9,556.2v7.6M151.2,557.3l5.4,5.4M151.2,562.7l5.4,-5.4M164.8,576.9h7.6M168.6,573.1v7.6M165.9,574.2l5.4,5.4M165.9,579.6l5.4,-5.4M179.5,572.3h7.6M183.3,568.5v7.6M180.6,569.6l5.4,5.4M180.6,575.0l5.4,-5.4M194.1,561.8h7.6M197.9,558.0v7.6M195.2,559.1l5.4,5.4M195.2,564.5l5.4,-5.4M208.8,558.4h7.6M212.6,554.6v7.6M209.9,555.7l5.4,5.4M209.9,561.1l5.4,-5.4M223.5,543.0h7.6M227.3,539.2v7.6M224.6,540.3l5.4,5.4M224.6,545.7l5.4,-5.4M238.1,552.7h7.6M241.9,548.9v7.6M239.2,550.0l5.4,5.4M239.2,555.4l5.4,-5.4M252.8,530.8h7.6M256.6,527.0v7.6M253.9,528.1l5.4,5.4M253.9,533.5l5.4,-5.4M267.5,538.0h7.6M271.3,534.2v7.6M268.6,535.3l5.4,5.4M268.6,540.7l5.4,-5.4M282.2,545.5h7.6M286.0,541.7v7.6M283.3,542.8l5.4,5.4M283.3,548.2l5.4,-5.4M296.8,543.0h7.6M300.6,539.2v7.6M297.9,540.3l5.4,5.4M297.9,545.7l5.4,-5.4M311.5,557.8h7.6M315.3,554.0v7.6M312.6,555.1l5.4,5.4M312.6,560.5l5.4,-5.4M326.2,537.3h7.6M330.0,533.5v7.6M327.3,534.6l5.4,5.4M327.3,540.0l5.4,-5.4M340.8,539.3h7.6M344.6,535.5v7.6M341.9,536.6l5.4,5.4M341.9,542.0l5.4,-5.4M355.5,558.9h7.6M359.3,555.1v7.6M356.6,556.2l5.4,5.4M356.6,561.6l5.4,-5.4M370.2,555.3h7.6M374.0,551.5v7.6M371.3,552.6l5.4,5.4M371.3,558.0l5.4,-5.4M384.8,571.8h7.6M388.6,568.0v7.6M385.9,569.1l5.4,5.4M385.9,574.5l5.4,-5.4M399.5,551.8h7.6M403.3,548.0v7.6M400.6,549.1l5.4,5.4M400.6,554.5l5.4,-5.4M414.2,547.2h7.6M418.0,543.4v7.6M415.3,544.5l5.4,5.4M415.3,549.9l5.4,-5.4M428.9,558.2h7.6M432.7,554.4v7.6M430.0,555.5l5.4,5.4M430.0,560.9l5.4,-5.4M443.5,528.2h7.6M447.3,524.4v7.6M444.6,525.5l5.4,5.4M444.6,530.9l5.4,-5.4M458.2,546.0h7.6M462.0,542.2v7.6M459.3,543.3l5.4,5.4M459.3,548.7l5.4,-5.4M472.9,538.5h7.6M476.7,534.7v7.6M474.0,535.8l5.4,5.4M474.0,541.2l5.4,-5.4M487.5,547.0h7.6M491.3,543.2v7.6M488.6,544.3l5.4,5.4M488.6,549.7l5.4,-5.4M502.2,552.5h7.6M506.0,548.7v7.6M503.3,549.8l5.4,5.4M503.3,555.2l5.4,-5.4M516.9,550.8h7.6M520.7,547.0v7.6M518.0,548.1l5.4,5.4M518.0,553.5l5.4,-5.4M531.6,535.6h7.6M535.4,531.8v7.6M532.7,532.9l5.4,5.4M532.7,538.3l5.4,-5.4M546.2,561.4h7.6M550.0,557.6v7.6M547.3,558.7l5.4,5.4M547.3,564.1l5.4,-5.4M560.9,560.8h7.6M564.7,557.0v7.6M562.0,558.1l5.4,5.4M562.0,563.5l5.4,-5.4M575.6,563.6h7.6M579.4,559.8v7.6M576.7,560.9l5.4,5.4M576.7,566.3l5.4,-5.4M590.2,565.8h7.6M594.0,562.0v7.6M591.3,563.1l5.4,5.4M591.3,568.5l5.4,-5.4M604.9,562.3h7.6M608.7,558.5v7.6M606.0,559.6l5.4,5.4M606.0,565.0l5.4,-5.4M619.6,541.0h7.6M623.4,537.2v7.6M620.7,538.3l5.4,5.4M620.7,543.7l5.4,-5.4M634.3,547.8h7.6M638.1,544.0v7.6M635.4,545.1l5.4,5.4M635.4,550.5l5.4,-5.4M648.9,556.2h7.6M652.7,552.4v7.6M650.0,553.5l5.4,5.4M650.0,558.9l5.4,-5.4M663.6,552.8h7.6M667.4,549.0v7.6M664.7,550.1l5.4,5.4M664.7,555.5l5.4,-5.4M678.3,542.7h7.6M682.1,538.9v7.6M679.4,540.0l5.4,5.4M679.4,545.4l5.4,-5.4"/>
<path d="M106.1,573.5h7.6M109.9,569.7v7.6M107.2,570.8l5.4,5.4M107.2,576.2l5.4,-5.4M120.8,541.4h7.6M124.6,537.6v7.6M121.9,538.7l5.4,5.4M121.9,544.1l5.4,-5.4M135.4,556.7h7.6M139.2,552.9v7.6M136.5,554.0l5.4,5.4M136.5,559.4l5.4,-5.4M150.1,552.5h7.6M153.9,548.7v7.6M151.2,549.8l5.4,5.4M151.2,555.2l5.4,-5.4M164.8,565.6h7.6M168.6,561.8v7.6M165.9,562.9l5.4,5.4M165.9,568.3l5.4,-5.4M179.5,552.0h7.6M183.3,548.2v7.6M180.6,549.3l5.4,5.4M180.6,554.7l5.4,-5.4M194.1,555.0h7.6M197.9,551.2v7.6M195.2,552.3l5.4,5.4M195.2,557.7l5.4,-5.4M208.8,548.5h7.6M212.6,544.7v7.6M209.9,545.8l5.4,5.4M209.9,551.2l5.4,-5.4M223.5,547.9h7.6M227.3,544.1v7.6M224.6,545.2l5.4,5.4M224.6,550.6l5.4,-5.4M238.1,565.3h7.6M241.9,561.5v7.6M239.2,562.6l5.4,5.4M239.2,568.0l5.4,-5.4M252.8,547.9h7.6M256.6,544.1v7.6M253.9,545.2l5.4,5.4M253.9,550.6l5.4,-5.4M267.5,548.0h7.6M271.3,544.2v7.6M268.6,545.3l5.4,5.4M268.6,550.7l5.4,-5.4M282.2,573.7h7.6M286.0,569.9v7.6M283.3,571.0l5.4,5.4M283.3,576.4l5.4,-5.4M296.8,545.5h7.6M300.6,541.7v7.6M297.9,542.8l5.4,5.4M297.9,548.2l5.4,-5.4M311.5,538.8h7.6M315.3,535.0v7.6M312.6,536.1l5.4,5.4M312.6,541.5l5.4,-5.4M326.2,544.8h7.6M330.0,541.0v7.6M327.3,542.1l5.4,5.4M327.3,547.5l5.4,-5.4M340.8,542.5h7.6M344.6,538.7v7.6M341.9,539.8l5.4,5.4M341.9,545.2l5.4,-5.4M355.5,548.5h7.6M359.3,544.7v7.6M356.6,545.8l5.4,5.4M356.6,551.2l5.4,-5.4M370.2,543.9h7.6M374.0,540.1v7.6M371.3,541.2l5.4,5.4M371.3,546.6l5.4,-5.4M384.8,564.2h7.6M388.6,560.4v7.6M385.9,561.5l5.4,5.4M385.9,566.9l5.4,-5.4M399.5,548.7h7.6M403.3,544.9v7.6M400.6,546.0l5.4,5.4M400.6,551.4l5.4,-5.4M414.2,573.7h7.6M418.0,569.9v7.6M415.3,571.0l5.4,5.4M415.3,576.4l5.4,-5.4M428.9,553.0h7.6M432.7,549.2v7.6M430.0,550.3l5.4,5.4M430.0,555.7l5.4,-5.4M443.5,544.2h7.6M447.3,540.4v7.6M444.6,541.5l5.4,5.4M444.6,546.9l5.4,-5.4M458.2,539.5h7.6M462.0,535.7v7.6M459.3,536.8l5.4,5.4M459.3,542.2l5.4,-5.4M472.9,536.6h7.6M476.7,532.8v7.6M474.0,533.9l5.4,5.4M474.0,539.3l5.4,-5.4M487.5,557.0h7.6M491.3,553.2v7.6M488.6,554.3l5.4,5.4M488.6,559.7l5.4,-5.4M502.2,552.2h7.6M506.0,548.4v7.6M503.3,549.5l5.4,5.4M503.3,554.9l5.4,-5.4M516.9,557.1h7.6M520.7,553.3v7.6M518.0,554.4l5.4,5.4M518.0,559.8l5.4,-5.4M531.6,564.6h7.6M535.4,560.8v7.6M532.7,561.9l5.4,5.4M532.7,567.3l5.4,-5.4M546.2,547.7h7.6M550.0,543.9v7.6M547.3,545.0l5.4,5.4M547.3,550.4l5.4,-5.4M560.9,576.2h7.6M564.7,572.4v7.6M562.0,573.5l5.4,5.4M562.0,578.9l5.4,-5.4M575.6,552.1h7.6M579.4,548.3v7.6M576.7,549.4l5.4,5.4M576.7,554.8l5.4,-5.4M590.2,546.8h7.6M594.0,543.0v7.6M591.3,544.1l5.4,5.4M591.3,549.5l5.4,-5.4M604.9,540.5h7.6M608.7,536.7v7.6M606.0,537.8l5.4,5.4M606.0,543.2l5.4,-5.4M619.6,533.5h7.6M623.4,529.7v7.6M620.7,530.8l5.4,5.4M620.7,536.2l5.4,-5.4M634.3,545.5h7.6M638.1,541.7v7.6M635.4,542.8l5.4,5.4M635.4,548.2l5.4,-5.4M648.9,547.8h7.6M652.7,544.0v7.6M650.0,545.1l5.4,5.4M650.0,550.5l5.4,-5.4M663.6,557.7h7.6M667.4,553.9v7.6M664.7,555.0l5.4,5.4M664.7,560.4l5.4,-5.4M678.3,529.9h7.6M682.1,526.1v7.6M679.4,527.2l5.4,5.4M679.4,532.6l5.4,-5.4"/>
<path d="M106.1,571.4h7.6M109.9,567.6v7.6M107.2,568.7l5.4,5.4M107.2,574.1l5.4,-5.4M120.8,564.5h7.6M124.6,560.7v7.6M121.9,561.8l5.4,5.4M121.9,567.2l5.4,-5.4M135.4,548.1h7.6M139.2,544.3v7.6M136.5,545.4l5.4,5.4M136.5,550.8l5.4,-5.4M150.1,549.5h7.6M153.9,545.7v7.6M151.2,546.8l5.4,5.4M151.2,552.2l5.4,-5.4M164.8,554.1h7.6M168.6,550.3v7.6M165.9,551.4l5.4,5.4M165.9,556.8l5.4,-5.4M179.5,546.2h7.6M183.3,542.4v7.6M180.6,543.5l5.4,5.4M180.6,548.9l5.4,-5.4M194.1,549.1h7.6M197.9,545.3v7.6M195.2,546.4l5.4,5.4M195.2,551.8l5.4,-5.4M208.8,564.8h7.6M212.6,561.0v7.6M209.9,562.1l5.4,5.4M209.9,567.5l5.4,-5.4M223.5,567.1h7.6M227.3,563.3v7.6M224.6,564.4l5.4,5.4M224.6,569.8l5.4,-5.4M238.1,550.4h7.6M241.9,546.6v7.6M239.2,547.7l5.4,5.4M239.2,553.1l5.4,-5.4M252.8,505.1h7.6M256.6,501.3v7.6M253.9,502.4l5.4,5.4M253.9,507.8l5.4,-5.4M267.5,555.0h7.6M271.3,551.2v7.6M268.6,552.3l5.4,5.4M268.6,557.7l5.4,-5.4M282.2,563.2h7.6M286.0,559.4v7.6M283.3,560.5l5.4,5.4M283.3,565.9l5.4,-5.4M296.8,546.6h7.6M300.6,542.8v7.6M297.9,543.9l5.4,5.4M297.9,549.3l5.4,-5.4M311.5,579.5h7.6M315.3,575.7v7.6M312.6,576.8l5.4,5.4M312.6,582.2l5.4,-5.4M326.2,521.2h7.6M330.0,517.4v7.6M327.3,518.5l5.4,5.4M327.3,523.9l5.4,-5.4M340.8,544.7h7.6M344.6,540.9v7.6M341.9,542.0l5.4,5.4M341.9,547.4l5.4,-5.4M355.5,575.5h7.6M359.3,571.7v7.6M356.6,572.8l5.4,5.4M356.6,578.2l5.4,-5.4M370.2,548.7h7.6M374.0,544.9v7.6M371.3,546.0l5.4,5.4M371.3,551.4l5.4,-5.4M384.8,549.6h7.6M388.6,545.8v7.6M385.9,546.9l5.4,5.4M385.9,552.3l5.4,-5.4M399.5,579.8h7.6M403.3,576.0v7.6M400.6,577.1l5.4,5.4M400.6,582.5l5.4,-5.4M414.2,535.9h7.6M418.0,532.1v7.6M415.3,533.2l5.4,5.4M415.3,538.6l5.4,-5.4M428.9,558.7h7.6M432.7,554.9v7.6M430.0,556.0l5.4,5.4M430.0,561.4l5.4,-5.4M443.5,542.9h7.6M447.3,539.1v7.6M444.6,540.2l5.4,5.4M444.6,545.6l5.4,-5.4M458.2,552.0h7.6M462.0,548.2v7.6M459.3,549.3l5.4,5.4M459.3,554.7l5.4,-5.4M472.9,544.5h7.6M476.7,540.7v7.6M474.0,541.8l5.4,5.4M474.0,547.2l5.4,-5.4M487.5,574.8h7.6M491.3,571.0v7.6M488.6,572.1l5.4,5.4M488.6,577.5l5.4,-5.4M502.2,572.5h7.6M506.0,568.7v7.6M503.3,569.8l5.4,5.4M503.3,575.2l5.4,-5.4M516.9,555.0h7.6M520.7,551.2v7.6M518.0,552.3l5.4,5.4M518.0,557.7l5.4,-5.4M531.6,577.7h7.6M535.4,573.9v7.6M532.7,575.0l5.4,5.4M532.7,580.4l5.4,-5.4M546.2,559.6h7.6M550.0,555.8v7.6M547.3,556.9l5.4,5.4M547.3,562.3l5.4,-5.4M560.9,552.0h7.6M564.7,548.2v7.6M562.0,549.3l5.4,5.4M562.0,554.7l5.4,-5.4M575.6,549.2h7.6M579.4,545.4v7.6M576.7,546.5l5.4,5.4M576.7,551.9l5.4,-5.4M590.2,553.6h7.6M594.0,549.8v7.6M591.3,550.9l5.4,5.4M591.3,556.3l5.4,-5.4M604.9,574.8h7.6M608.7,571.0v7.6M606.0,572.1l5.4,5.4M606.0,577.5l5.4,-5.4M619.6,534.0h7.6M623.4,530.2v7.6M620.7,531.3l5.4,5.4M620.7,536.7l5.4,-5.4M634.3,564.7h7.6M638.1,560.9v7.6M635.4,562.0l5.4,5.4M635.4,567.4l5.4,-5.4M648.9,489.5h7.6M652.7,485.7v7.6M650.0,486.8l5.4,5.4M650.0,492.2l5.4,-5.4M663.6,539.5h7.6M667.4,535.7v7.6M664.7,536.8l5.4,5.4M664.7,542.2l5.4,-5.4M678.3,513.9h7.6M682.1,510.1v7.6M679.4,511.2l5.4,5.4M679.4,516.6l5.4,-5.4"/>
<path d="M106.1,554.3h7.6M109.9,550.5v7.6M107.2,551.6l5.4,5.4M107.2,557.0l5.4,-5.4M120.8,557.5h7.6M124.6,553.7v7.6M121.9,554.8l5.4,5.4M121.9,560.2l5.4,-5.4M135.4,551.1h7.6M139.2,547.3v7.6M136.5,548.4l5.4,5.4M136.5,553.8l5.4,-5.4M150.1,544.1h7.6M153.9,540.3v7.6M151.2,541.4l5.4,5.4M151.2,546.8l5.4,-5.4M164.8,572.3h7.6M168.6,568.5v7.6M165.9,569.6l5.4,5.4M165.9,575.0l5.4,-5.4M179.5,549.9h7.6M183.3,546.1v7.6M180.6,547.2l5.4,5.4M180.6,552.6l5.4,-5.4M194.1,500.5h7.6M197.9,496.7v7.6M195.2,497.8l5.4,5.4M195.2,503.2l5.4,-5.4M208.8,550.0h7.6M212.6,546.2v7.6M209.9,547.3l5.4,5.4M209.9,552.7l5.4,-5.4M223.5,566.5h7.6M227.3,562.7v7.6M224.6,563.8l5.4,5.4M224.6,569.2l5.4,-5.4M238.1,565.0h7.6M241.9,561.2v7.6M239.2,562.3l5.4,5.4M239.2,567.7l5.4,-5.4M252.8,518.4h7.6M256.6,514.6v7.6M253.9,515.7l5.4,5.4M253.9,521.1l5.4,-5.4M267.5,561.6h7.6M271.3,557.8v7.6M268.6,558.9l5.4,5.4M268.6,564.3l5.4,-5.4M282.2,553.4h7.6M286.0,549.6v7.6M283.3,550.7l5.4,5.4M283.3,556.1l5.4,-5.4M296.8,550.4h7.6M300.6,546.6v7.6M297.9,547.7l5.4,5.4M297.9,553.1l5.4,-5.4M311.5,551.9h7.6M315.3,548.1v7.6M312.6,549.2l5.4,5.4M312.6,554.6l5.4,-5.4M326.2,562.3h7.6M330.0,558.5v7.6M327.3,559.6l5.4,5.4M327.3,565.0l5.4,-5.4M340.8,563.0h7.6M344.6,559.2v7.6M341.9,560.3l5.4,5.4M341.9,565.7l5.4,-5.4M355.5,542.9h7.6M359.3,539.1v7.6M356.6,540.2l5.4,5.4M356.6,545.6l5.4,-5.4M370.2,547.0h7.6M374.0,543.2v7.6M371.3,544.3l5.4,5.4M371.3,549.7l5.4,-5.4M384.8,560.4h7.6M388.6,556.6v7.6M385.9,557.7l5.4,5.4M385.9,563.1l5.4,-5.4M399.5,567.6h7.6M403.3,563.8v7.6M400.6,564.9l5.4,5.4M400.6,570.3l5.4,-5.4M414.2,568.4h7.6M418.0,564.6v7.6M415.3,565.7l5.4,5.4M415.3,571.1l5.4,-5.4M428.9,556.7h7.6M432.7,552.9v7.6M430.0,554.0l5.4,5.4M430.0,559.4l5.4,-5.4M443.5,545.4h7.6M447.3,541.6v7.6M444.6,542.7l5.4,5.4M444.6,548.1l5.4,-5.4M458.2,561.5h7.6M462.0,557.7v7.6M459.3,558.8l5.4,5.4M459.3,564.2l5.4,-5.4M472.9,559.5h7.6M476.7,555.7v7.6M474.0,556.8l5.4,5.4M474.0,562.2l5.4,-5.4M487.5,557.2h7.6M491.3,553.4v7.6M488.6,554.5l5.4,5.4M488.6,559.9l5.4,-5.4M502.2,553.9h7.6M506.0,550.1v7.6M503.3,551.2l5.4,5.4M503.3,556.6l5.4,-5.4M516.9,551.1h7.6M520.7,547.3v7.6M518.0,548.4l5.4,5.4M518.0,553.8l5.4,-5.4M531.6,564.7h7.6M535.4,560.9v7.6M532.7,562.0l5.4,5.4M532.7,567.4l5.4,-5.4M546.2,553.4h7.6M550.0,549.6v7.6M547.3,550.7l5.4,5.4M547.3,556.1l5.4,-5.4M560.9,580.9h7.6M564.7,577.1v7.6M562.0,578.2l5.4,5.4M562.0,583.6l5.4,-5.4M575.6,559.7h7.6M579.4,555.9v7.6M576.7,557.0l5.4,5.4M576.7,562.4l5.4,-5.4M590.2,550.5h7.6M594.0,546.7v7.6M591.3,547.8l5.4,5.4M591.3,553.2l5.4,-5.4M604.9,555.0h7.6M608.7,551.2v7.6M606.0,552.3l5.4,5.4M606.0,557.7l5.4,-5.4M619.6,549.6h7.6M623.4,545.8v7.6M620.7,546.9l5.4,5.4M620.7,552.3l5.4,-5.4M634.3,555.1h7.6M638.1,551.3v7.6M635.4,552.4l5.4,5.4M635.4,557.8l5.4,-5.4M648.9,543.3h7.6M652.7,539.5v7.6M650.0,540.6l5.4,5.4M650.0,546.0l5.4,-5.4M663.6,543.2h7.6M667.4,539.4v7.6M664.7,540.5l5.4,5.4M664.7,545.9l5.4,-5.4M678.3,536.1h7.6M682.1,532.3v7.6M679.4,533.4l5.4,5.4M679.4,538.8l5.4,-5.4"/>
<path d="M106.1,544.1h7.6M109.9,540.3v7.6M107.2,541.4l5.4,5.4M107.2,546.8l5.4,-5.4M120.8,547.0h7.6M124.6,543.2v7.6M121.9,544.3l5.4,5.4M121.9,549.7l5.4,-5.4M135.4,548.1h7.6M139.2,544.3v7.6M136.5,545.4l5.4,5.4M136.5,550.8l5.4,-5.4M150.1,539.9h7.6M153.9,536.1v7.6M151.2,537.2l5.4,5.4M151.2,542.6l5.4,-5.4M164.8,564.5h7.6M168.6,560.7v7.6M165.9,561.8l5.4,5.4M165.9,567.2l5.4,-5.4M179.5,555.4h7.6M183.3,551.6v7.6M180.6,552.7l5.4,5.4M180.6,558.1l5.4,-5.4M194.1,562.5h7.6M197.9,558.7v7.6M195.2,559.8l5.4,5.4M195.2,565.2l5.4,-5.4M208.8,536.9h7.6M212.6,533.1v7.6M209.9,534.2l5.4,5.4M209.9,539.6l5.4,-5.4M223.5,568.0h7.6M227.3,564.2v7.6M224.6,565.3l5.4,5.4M224.6,570.7l5.4,-5.4M238.1,539.9h7.6M241.9,536.1v7.6M239.2,537.2l5.4,5.4M239.2,542.6l5.4,-5.4M252.8,559.3h7.6M256.6,555.5v7.6M253.9,556.6l5.4,5.4M253.9,562.0l5.4,-5.4M267.5,550.8h7.6M271.3,547.0v7.6M268.6,548.1l5.4,5.4M268.6,553.5l5.4,-5.4M282.2,534.5h7.6M286.0,530.7v7.6M283.3,531.8l5.4,5.4M283.3,537.2l5.4,-5.4M296.8,547.7h7.6M300.6,543.9v7.6M297.9,545.0l5.4,5.4M297.9,550.4l5.4,-5.4M311.5,564.8h7.6M315.3,561.0v7.6M312.6,562.1l5.4,5.4M312.6,567.5l5.4,-5.4M326.2,540.8h7.6M330.0,537.0v7.6M327.3,538.1l5.4,5.4M327.3,543.5l5.4,-5.4M340.8,552.6h7.6M344.6,548.8v7.6M341.9,549.9l5.4,5.4M341.9,555.3l5.4,-5.4M355.5,546.4h7.6M359.3,542.6v7.6M356.6,543.7l5.4,5.4M356.6,549.1l5.4,-5.4M370.2,533.3h7.6M374.0,529.5v7.6M371.3,530.6l5.4,5.4M371.3,536.0l5.4,-5.4M384.8,562.4h7.6M388.6,558.6v7.6M385.9,559.7l5.4,5.4M385.9,565.1l5.4,-5.4M399.5,553.0h7.6M403.3,549.2v7.6M400.6,550.3l5.4,5.4M400.6,555.7l5.4,-5.4M414.2,542.1h7.6M418.0,538.3v7.6M415.3,539.4l5.4,5.4M415.3,544.8l5.4,-5.4M428.9,547.7h7.6M432.7,543.9v7.6M430.0,545.0l5.4,5.4M430.0,550.4l5.4,-5.4M443.5,528.4h7.6M447.3,524.6v7.6M444.6,525.7l5.4,5.4M444.6,531.1l5.4,-5.4M458.2,519.5h7.6M462.0,515.7v7.6M459.3,516.8l5.4,5.4M459.3,522.2l5.4,-5.4M472.9,552.6h7.6M476.7,548.8v7.6M474.0,549.9l5.4,5.4M474.0,555.3l5.4,-5.4M487.5,542.6h7.6M491.3,538.8v7.6M488.6,539.9l5.4,5.4M488.6,545.3l5.4,-5.4M502.2,528.2h7.6M506.0,524.4v7.6M503.3,525.5l5.4,5.4M503.3,530.9l5.4,-5.4M516.9,559.7h7.6M520.7,555.9v7.6M518.0,557.0l5.4,5.4M518.0,562.4l5.4,-5.4M531.6,550.9h7.6M535.4,547.1v7.6M532.7,548.2l5.4,5.4M532.7,553.6l5.4,-5.4M546.2,560.6h7.6M550.0,556.8v7.6M547.3,557.9l5.4,5.4M547.3,563.3l5.4,-5.4M560.9,541.2h7.6M564.7,537.4v7.6M562.0,538.5l5.4,5.4M562.0,543.9l5.4,-5.4M575.6,546.6h7.6M579.4,542.8v7.6M576.7,543.9l5.4,5.4M576.7,549.3l5.4,-5.4M590.2,559.5h7.6M594.0,555.7v7.6M591.3,556.8l5.4,5.4M591.3,562.2l5.4,-5.4M604.9,554.2h7.6M608.7,550.4v7.6M606.0,551.5l5.4,5.4M606.0,556.9l5.4,-5.4M619.6,550.5h7.6M623.4,546.7v7.6M620.7,547.8l5.4,5.4M620.7,553.2l5.4,-5.4M634.3,564.3h7.6M638.1,560.5v7.6M635.4,561.6l5.4,5.4M635.4,567.0l5.4,-5.4M648.9,572.9h7.6M652.7,569.1v7.6M650.0,570.2l5.4,5.4M650.0,575.6l5.4,-5.4M663.6,546.1h7.6M667.4,542.3v7.6M664.7,543.4l5.4,5.4M664.7,548.8l5.4,-5.4M678.3,557.8h7.6M682.1,554.0v7.6M679.4,555.1l5.4,5.4M679.4,560.5l5.4,-5.4"/>
<path d="M106.1,556.3h7.6M109.9,552.5v7.6M107.2,553.6l5.4,5.4M107.2,559.0l5.4,-5.4M120.8,551.1h7.6M124.6,547.3v7.6M121.9,548.4l5.4,5.4M121.9,553.8l5.4,-5.4M135.4,558.1h7.6M139.2,554.3v7.6M136.5,555.4l5.4,5.4M136.5,560.8l5.4,-5.4M150.1,539.4h7.6M153.9,535.6v7.6M151.2,536.7l5.4,5.4M151.2,542.1l5.4,-5.4M164.8,517.3h7.6M168.6,513.5v7.6M165.9,514.6l5.4,5.4M165.9,520.0l5.4,-5.4M179.5,539.4h7.6M183.3,535.6v7.6M180.6,536.7l5.4,5.4M180.6,542.1l5.4,-5.4M194.1,570.0h7.6M197.9,566.2v7.6M195.2,567.3l5.4,5.4M195.2,572.7l5.4,-5.4M208.8,560.7h7.6M212.6,556.9v7.6M209.9,558.0l5.4,5.4M209.9,563.4l5.4,-5.4M223.5,519.7h7.6M227.3,515.9v7.6M224.6,517.0l5.4,5.4M224.6,522.4l5.4,-5.4M238.1,571.4h7.6M241.9,567.6v7.6M239.2,568.7l5.4,5.4M239.2,574.1l5.4,-5.4M252.8,549.4h7.6M256.6,545.6v7.6M253.9,546.7l5.4,5.4M253.9,552.1l5.4,-5.4M267.5,573.2h7.6M271.3,569.4v7.6M268.6,570.5l5.4,5.4M268.6,575.9l5.4,-5.4M282.2,544.0h7.6M286.0,540.2v7.6M283.3,541.3l5.4,5.4M283.3,546.7l5.4,-5.4M296.8,550.1h7.6M300.6,546.3v7.6M297.9,547.4l5.4,5.4M297.9,552.8l5.4,-5.4M311.5,538.6h7.6M315.3,534.8v7.6M312.6,535.9l5.4,5.4M312.6,541.3l5.4,-5.4M326.2,543.5h7.6M330.0,539.7v7.6M327.3,540.8l5.4,5.4M327.3,546.2l5.4,-5.4M340.8,527.7h7.6M344.6,523.9v7.6M341.9,525.0l5.4,5.4M341.9,530.4l5.4,-5.4M355.5,553.3h7.6M359.3,549.5v7.6M356.6,550.6l5.4,5.4M356.6,556.0l5.4,-5.4M370.2,561.6h7.6M374.0,557.8v7.6M371.3,558.9l5.4,5.4M371.3,564.3l5.4,-5.4M384.8,542.1h7.6M388.6,538.3v7.6M385.9,539.4l5.4,5.4M385.9,544.8l5.4,-5.4M399.5,540.4h7.6M403.3,536.6v7.6M400.6,537.7l5.4,5.4M400.6,543.1l5.4,-5.4M414.2,518.7h7.6M418.0,514.9v7.6M415.3,516.0l5.4,5.4M415.3,521.4l5.4,-5.4M428.9,563.4h7.6M432.7,559.6v7.6M430.0,560.7l5.4,5.4M430.0,566.1l5.4,-5.4M443.5,549.4h7.6M447.3,545.6v7.6M444.6,546.7l5.4,5.4M444.6,552.1l5.4,-5.4M458.2,543.8h7.6M462.0,540.0v7.6M459.3,541.1l5.4,5.4M459.3,546.5l5.4,-5.4M472.9,551.6h7.6M476.7,547.8v7.6M474.0,548.9l5.4,5.4M474.0,554.3l5.4,-5.4M487.5,543.5h7.6M491.3,539.7v7.6M488.6,540.8l5.4,5.4M488.6,546.2l5.4,-5.4M502.2,546.1h7.6M506.0,542.3v7.6M503.3,543.4l5.4,5.4M503.3,548.8l5.4,-5.4M516.9,532.8h7.6M520.7,529.0v7.6M518.0,530.1l5.4,5.4M518.0,535.5l5.4,-5.4M531.6,560.5h7.6M535.4,556.7v7.6M532.7,557.8l5.4,5.4M532.7,563.2l5.4,-5.4M546.2,546.4h7.6M550.0,542.6v7.6M547.3,543.7l5.4,5.4M547.3,549.1l5.4,-5.4M560.9,573.8h7.6M564.7,570.0v7.6M562.0,571.1l5.4,5.4M562.0,576.5l5.4,-5.4M575.6,547.8h7.6M579.4,544.0v7.6M576.7,545.1l5.4,5.4M576.7,550.5l5.4,-5.4M590.2,563.8h7.6M594.0,560.0v7.6M591.3,561.1l5.4,5.4M591.3,566.5l5.4,-5.4M604.9,548.7h7.6M608.7,544.9v7.6M606.0,546.0l5.4,5.4M606.0,551.4l5.4,-5.4M619.6,553.9h7.6M623.4,550.1v7.6M620.7,551.2l5.4,5.4M620.7,556.6l5.4,-5.4M634.3,554.6h7.6M638.1,550.8v7.6M635.4,551.9l5.4,5.4M635.4,557.3l5.4,-5.4M648.9,539.0h7.6M652.7,535.2v7.6M650.0,536.3l5.4,5.4M650.0,541.7l5.4,-5.4M663.6,542.7h7.6M667.4,538.9v7.6M664.7,540.0l5.4,5.4M664.7,545.4l5.4,-5.4M678.3,539.0h7.6M682.1,535.2v7.6M679.4,536.3l5.4,5.4M679.4,541.7l5.4,-5.4"/>
<path d="M106.1,562.2h7.6M109.9,558.4v7.6M107.2,559.5l5.4,5.4M107.2,564.9l5.4,-5.4M120.8,563.1h7.6M124.6,559.3v7.6M121.9,560.4l5.4,5.4M121.9,565.8l5.4,-5.4M135.4,555.7h7.6M139.2,551.9v7.6M136.5,553.0l5.4,5.4M136.5,558.4l5.4,-5.4M150.1,561.3h7.6M153.9,557.5v7.6M151.2,558.6l5.4,5.4M151.2,564.0l5.4,-5.4M164.8,566.0h7.6M168.6,562.2v7.6M165.9,563.3l5.4,5.4M165.9,568.7l5.4,-5.4M179.5,567.2h7.6M183.3,563.4v7.6M180.6,564.5l5.4,5.4M180.6,569.9l5.4,-5.4M194.1,553.5h7.6M197.9,549.7v7.6M195.2,550.8l5.4,5.4M195.2,556.2l5.4,-5.4M208.8,522.5h7.6M212.6,518.7v7.6M209.9,519.8l5.4,5.4M209.9,525.2l5.4,-5.4M223.5,549.9h7.6M227.3,546.1v7.6M224.6,547.2l5.4,5.4M224.6,552.6l5.4,-5.4M238.1,543.9h7.6M241.9,540.1v7.6M239.2,541.2l5.4,5.4M239.2,546.6l5.4,-5.4M252.8,533.3h7.6M256.6,529.5v7.6M253.9,530.6l5.4,5.4M253.9,536.0l5.4,-5.4M267.5,505.0h7.6M271.3,501.2v7.6M268.6,502.3l5.4,5.4M268.6,507.7l5.4,-5.4M282.2,565.7h7.6M286.0,561.9v7.6M283.3,563.0l5.4,5.4M283.3,568.4l5.4,-5.4M296.8,549.6h7.6M300.6,545.8v7.6M297.9,546.9l5.4,5.4M297.9,552.3l5.4,-5.4M311.5,548.1h7.6M315.3,544.3v7.6M312.6,545.4l5.4,5.4M312.6,550.8l5.4,-5.4M326.2,551.3h7.6M330.0,547.5v7.6M327.3,548.6l5.4,5.4M327.3,554.0l5.4,-5.4M340.8,517.7h7.6M344.6,513.9v7.6M341.9,515.0l5.4,5.4M341.9,520.4l5.4,-5.4M355.5,549.8h7.6M359.3,546.0v7.6M356.6,547.1l5.4,5.4M356.6,552.5l5.4,-5.4M370.2,565.1h7.6M374.0,561.3v7.6M371.3,562.4l5.4,5.4M371.3,567.8l5.4,-5.4M384.8,558.6h7.6M388.6,554.8v7.6M385.9,555.9l5.4,5.4M385.9,561.3l5.4,-5.4M399.5,534.4h7.6M403.3,530.6v7.6M400.6,531.7l5.4,5.4M400.6,537.1l5.4,-5.4M414.2,566.6h7.6M418.0,562.8v7.6M415.3,563.9l5.4,5.4M415.3,569.3l5.4,-5.4M428.9,538.0h7.6M432.7,534.2v7.6M430.0,535.3l5.4,5.4M430.0,540.7l5.4,-5.4M443.5,544.8h7.6M447.3,541.0v7.6M444.6,542.1l5.4,5.4M444.6,547.5l5.4,-5.4M458.2,561.1h7.6M462.0,557.3v7.6M459.3,558.4l5.4,5.4M459.3,563.8l5.4,-5.4M472.9,564.3h7.6M476.7,560.5v7.6M474.0,561.6l5.4,5.4M474.0,567.0l5.4,-5.4M487.5,548.3h7.6M491.3,544.5v7.6M488.6,545.6l5.4,5.4M488.6,551.0l5.4,-5.4M502.2,549.8h7.6M506.0,546.0v7.6M503.3,547.1l5.4,5.4M503.3,552.5l5.4,-5.4M516.9,546.6h7.6M520.7,542.8v7.6M518.0,543.9l5.4,5.4M518.0,549.3l5.4,-5.4M531.6,555.5h7.6M535.4,551.7v7.6M532.7,552.8l5.4,5.4M532.7,558.2l5.4,-5.4M546.2,557.3h7.6M550.0,553.5v7.6M547.3,554.6l5.4,5.4M547.3,560.0l5.4,-5.4M560.9,567.7h7.6M564.7,563.9v7.6M562.0,565.0l5.4,5.4M562.0,570.4l5.4,-5.4M575.6,543.2h7.6M579.4,539.4v7.6M576.7,540.5l5.4,5.4M576.7,545.9l5.4,-5.4M590.2,555.8h7.6M594.0,552.0v7.6M591.3,553.1l5.4,5.4M591.3,558.5l5.4,-5.4M604.9,552.2h7.6M608.7,548.4v7.6M606.0,549.5l5.4,5.4M606.0,554.9l5.4,-5.4M619.6,549.8h7.6M623.4,546.0v7.6M620.7,547.1l5.4,5.4M620.7,552.5l5.4,-5.4M634.3,561.7h7.6M638.1,557.9v7.6M635.4,559.0l5.4,5.4M635.4,564.4l5.4,-5.4M648.9,538.6h7.6M652.7,534.8v7.6M650.0,535.9l5.4,5.4M650.0,541.3l5.4,-5.4M663.6,558.4h7.6M667.4,554.6v7.6M664.7,555.7l5.4,5.4M664.7,561.1l5.4,-5.4M678.3,535.4h7.6M682.1,531.6v7.6M679.4,532.7l5.4,5.4M679.4,538.1l5.4,-5.4"/>
<path d="M106.1,543.2h7.6M109.9,539.4v7.6M107.2,540.5l5.4,5.4M107.2,545.9l5.4,-5.4M120.8,551.9h7.6M124.6,548.1v7.6M121.9,549.2l5.4,5.4M121.9,554.6l5.4,-5.4M135.4,558.6h7.6M139.2,554.8v7.6M136.5,555.9l5.4,5.4M136.5,561.3l5.4,-5.4M150.1,567.8h7.6M153.9,564.0v7.6M151.2,565.1l5.4,5.4M151.2,570.5l5.4,-5.4M164.8,553.9h7.6M168.6,550.1v7.6M165.9,551.2l5.4,5.4M165.9,556.6l5.4,-5.4M179.5,566.5h7.6M183.3,562.7v7.6M180.6,563.8l5.4,5.4M180.6,569.2l5.4,-5.4M194.1,535.0h7.6M197.9,531.2v7.6M195.2,532.3l5.4,5.4M195.2,537.7l5.4,-5.4M208.8,542.3h7.6M212.6,538.5v7.6M209.9,539.6l5.4,5.4M209.9,545.0l5.4,-5.4M223.5,560.4h7.6M227.3,556.6v7.6M224.6,557.7l5.4,5.4M224.6,563.1l5.4,-5.4M238.1,537.9h7.6M241.9,534.1v7.6M239.2,535.2l5.4,5.4M239.2,540.6l5.4,-5.4M252.8,531.5h7.6M256.6,527.7v7.6M253.9,528.8l5.4,5.4M253.9,534.2l5.4,-5.4M267.5,538.7h7.6M271.3,534.9v7.6M268.6,536.0l5.4,5.4M268.6,541.4l5.4,-5.4M282.2,558.6h7.6M286.0,554.8v7.6M283.3,555.9l5.4,5.4M283.3,561.3l5.4,-5.4M296.8,570.3h7.6M300.6,566.5v7.6M297.9,567.6l5.4,5.4M297.9,573.0l5.4,-5.4M311.5,546.5h7.6M315.3,542.7v7.6M312.6,543.8l5.4,5.4M312.6,549.2l5.4,-5.4M326.2,547.9h7.6M330.0,544.1v7.6M327.3,545.2l5.4,5.4M327.3,550.6l5.4,-5.4M340.8,546.7h7.6M344.6,542.9v7.6M341.9,544.0l5.4,5.4M341.9,549.4l5.4,-5.4M355.5,553.2h7.6M359.3,549.4v7.6M356.6,550.5l5.4,5.4M356.6,555.9l5.4,-5.4M370.2,563.4h7.6M374.0,559.6v7.6M371.3,560.7l5.4,5.4M371.3,566.1l5.4,-5.4M384.8,552.3h7.6M388.6,548.5v7.6M385.9,549.6l5.4,5.4M385.9,555.0l5.4,-5.4M399.5,552.8h7.6M403.3,549.0v7.6M400.6,550.1l5.4,5.4M400.6,555.5l5.4,-5.4M414.2,580.8h7.6M418.0,577.0v7.6M415.3,578.1l5.4,5.4M415.3,583.5l5.4,-5.4M428.9,538.9h7.6M432.7,535.1v7.6M430.0,536.2l5.4,5.4M430.0,541.6l5.4,-5.4M443.5,541.2h7.6M447.3,537.4v7.6M444.6,538.5l5.4,5.4M444.6,543.9l5.4,-5.4M458.2,542.6h7.6M462.0,538.8v7.6M459.3,539.9l5.4,5.4M459.3,545.3l5.4,-5.4M472.9,558.7h7.6M476.7,554.9v7.6M474.0,556.0l5.4,5.4M474.0,561.4l5.4,-5.4M487.5,554.3h7.6M491.3,550.5v7.6M488.6,551.6l5.4,5.4M488.6,557.0l5.4,-5.4M502.2,536.7h7.6M506.0,532.9v7.6M503.3,534.0l5.4,5.4M503.3,539.4l5.4,-5.4M516.9,563.1h7.6M520.7,559.3v7.6M518.0,560.4l5.4,5.4M518.0,565.8l5.4,-5.4M531.6,550.8h7.6M535.4,547.0v7.6M532.7,548.1l5.4,5.4M532.7,553.5l5.4,-5.4M546.2,542.5h7.6M550.0,538.7v7.6M547.3,539.8l5.4,5.4M547.3,545.2l5.4,-5.4M560.9,565.6h7.6M564.7,561.8v7.6M562.0,562.9l5.4,5.4M562.0,568.3l5.4,-5.4M575.6,556.9h7.6M579.4,553.1v7.6M576.7,554.2l5.4,5.4M576.7,559.6l5.4,-5.4M590.2,539.1h7.6M594.0,535.3v7.6M591.3,536.4l5.4,5.4M591.3,541.8l5.4,-5.4M604.9,549.0h7.6M608.7,545.2v7.6M606.0,546.3l5.4,5.4M606.0,551.7l5.4,-5.4M619.6,551.8h7.6M623.4,548.0v7.6M620.7,549.1l5.4,5.4M620.7,554.5l5.4,-5.4M634.3,561.0h7.6M638.1,557.2v7.6M635.4,558.3l5.4,5.4M635.4,563.7l5.4,-5.4M648.9,549.6h7.6M652.7,545.8v7.6M650.0,546.9l5.4,5.4M650.0,552.3l5.4,-5.4M663.6,548.1h7.6M667.4,544.3v7.6M664.7,545.4l5.4,5.4M664.7,550.8l5.4,-5.4M678.3,551.7h7.6M682.1,547.9v7.6M679.4,549.0l5.4,5.4M679.4,554.4l5.4,-5.4"/>
<path d="M106.1,569.9h7.6M109.9,566.1v7.6M107.2,567.2l5.4,5.4M107.2,572.6l5.4,-5.4M120.8,541.0h7.6M124.6,537.2v7.6M121.9,538.3l5.4,5.4M121.9,543.7l5.4,-5.4M135.4,532.8h7.6M139.2,529.0v7.6M136.5,530.1l5.4,5.4M136.5,535.5l5.4,-5.4M150.1,552.0h7.6M153.9,548.2v7.6M151.2,549.3l5.4,5.4M151.2,554.7l5.4,-5.4M164.8,544.5h7.6M168.6,540.7v7.6M165.9,541.8l5.4,5.4M165.9,547.2l5.4,-5.4M179.5,549.7h7.6M183.3,545.9v7.6M180.6,547.0l5.4,5.4M180.6,552.4l5.4,-5.4M194.1,542.1h7.6M197.9,538.3v7.6M195.2,539.4l5.4,5.4M195.2,544.8l5.4,-5.4M208.8,558.1h7.6M212.6,554.3v7.6M209.9,555.4l5.4,5.4M209.9,560.8l5.4,-5.4M223.5,559.1h7.6M227.3,555.3v7.6M224.6,556.4l5.4,5.4M224.6,561.8l5.4,-5.4M238.1,509.2h7.6M241.9,505.4v7.6M239.2,506.5l5.4,5.4M239.2,511.9l5.4,-5.4M252.8,570.4h7.6M256.6,566.6v7.6M253.9,567.7l5.4,5.4M253.9,573.1l5.4,-5.4M267.5,550.1h7.6M271.3,546.3v7.6M268.6,547.4l5.4,5.4M268.6,552.8l5.4,-5.4M282.2,582.2h7.6M286.0,578.4v7.6M283.3,579.5l5.4,5.4M283.3,584.9l5.4,-5.4M296.8,557.0h7.6M300.6,553.2v7.6M297.9,554.3l5.4,5.4M297.9,559.7l5.4,-5.4M311.5,563.9h7.6M315.3,560.1v7.6M312.6,561.2l5.4,5.4M312.6,566.6l5.4,-5.4M326.2,561.3h7.6M330.0,557.5v7.6M327.3,558.6l5.4,5.4M327.3,564.0l5.4,-5.4M340.8,560.5h7.6M344.6,556.7v7.6M341.9,557.8l5.4,5.4M341.9,563.2l5.4,-5.4M355.5,554.0h7.6M359.3,550.2v7.6M356.6,551.3l5.4,5.4M356.6,556.7l5.4,-5.4M370.2,534.7h7.6M374.0,530.9v7.6M371.3,532.0l5.4,5.4M371.3,537.4l5.4,-5.4M384.8,496.2h7.6M388.6,492.4v7.6M385.9,493.5l5.4,5.4M385.9,498.9l5.4,-5.4M399.5,559.9h7.6M403.3,556.1v7.6M400.6,557.2l5.4,5.4M400.6,562.6l5.4,-5.4M414.2,559.0h7.6M418.0,555.2v7.6M415.3,556.3l5.4,5.4M415.3,561.7l5.4,-5.4M428.9,530.3h7.6M432.7,526.5v7.6M430.0,527.6l5.4,5.4M430.0,533.0l5.4,-5.4M443.5,551.8h7.6M447.3,548.0v7.6M444.6,549.1l5.4,5.4M444.6,554.5l5.4,-5.4M458.2,562.8h7.6M462.0,559.0v7.6M459.3,560.1l5.4,5.4M459.3,565.5l5.4,-5.4M472.9,563.7h7.6M476.7,559.9v7.6M474.0,561.0l5.4,5.4M474.0,566.4l5.4,-5.4M487.5,582.2h7.6M491.3,578.4v7.6M488.6,579.5l5.4,5.4M488.6,584.9l5.4,-5.4M502.2,546.3h7.6M506.0,542.5v7.6M503.3,543.6l5.4,5.4M503.3,549.0l5.4,-5.4M516.9,538.1h7.6M520.7,534.3v7.6M518.0,535.4l5.4,5.4M518.0,540.8l5.4,-5.4M531.6,564.2h7.6M535.4,560.4v7.6M532.7,561.5l5.4,5.4M532.7,566.9l5.4,-5.4M546.2,546.8h7.6M550.0,543.0v7.6M547.3,544.1l5.4,5.4M547.3,549.5l5.4,-5.4M560.9,552.1h7.6M564.7,548.3v7.6M562.0,549.4l5.4,5.4M562.0,554.8l5.4,-5.4M575.6,546.5h7.6M579.4,542.7v7.6M576.7,543.8l5.4,5.4M576.7,549.2l5.4,-5.4M590.2,557.3h7.6M594.0,553.5v7.6M591.3,554.6l5.4,5.4M591.3,560.0l5.4,-5.4M604.9,552.3h7.6M608.7,548.5v7.6M606.0,549.6l5.4,5.4M606.0,555.0l5.4,-5.4M619.6,538.1h7.6M623.4,534.3v7.6M620.7,535.4l5.4,5.4M620.7,540.8l5.4,-5.4M634.3,556.9h7.6M638.1,553.1v7.6M635.4,554.2l5.4,5.4M635.4,559.6l5.4,-5.4M648.9,530.3h7.6M652.7,526.5v7.6M650.0,527.6l5.4,5.4M650.0,533.0l5.4,-5.4M663.6,503.1h7.6M667.4,499.3v7.6M664.7,500.4l5.4,5.4M664.7,505.8l5.4,-5.4M678.3,527.8h7.6M682.1,524.0v7.6M679.4,525.1l5.4,5.4M679.4,530.5l5.4,-5.4"/>
<path d="M106.1,544.9h7.6M109.9,541.1v7.6M107.2,542.2l5.4,5.4M107.2,547.6l5.4,-5.4M120.8,557.7h7.6M124.6,553.9v7.6M121.9,555.0l5.4,5.4M121.9,560.4l5.4,-5.4M135.4,532.5h7.6M139.2,528.7v7.6M136.5,529.8l5.4,5.4M136.5,535.2l5.4,-5.4M150.1,515.1h7.6M153.9,511.3v7.6M151.2,512.4l5.4,5.4M151.2,517.8l5.4,-5.4M164.8,548.0h7.6M168.6,544.2v7.6M165.9,545.3l5.4,5.4M165.9,550.7l5.4,-5.4M179.5,548.3h7.6M183.3,544.5v7.6M180.6,545.6l5.4,5.4M180.6,551.0l5.4,-5.4M194.1,547.6h7.6M197.9,543.8v7.6M195.2,544.9l5.4,5.4M195.2,550.3l5.4,-5.4M208.8,548.0h7.6M212.6,544.2v7.6M209.9,545.3l5.4,5.4M209.9,550.7l5.4,-5.4M223.5,565.2h7.6M227.3,561.4v7.6M224.6,562.5l5.4,5.4M224.6,567.9l5.4,-5.4M238.1,550.5h7.6M241.9,546.7v7.6M239.2,547.8l5.4,5.4M239.2,553.2l5.4,-5.4M252.8,560.5h7.6M256.6,556.7v7.6M253.9,557.8l5.4,5.4M253.9,563.2l5.4,-5.4M267.5,538.9h7.6M271.3,535.1v7.6M268.6,536.2l5.4,5.4M268.6,541.6l5.4,-5.4M282.2,545.5h7.6M286.0,541.7v7.6M283.3,542.8l5.4,5.4M283.3,548.2l5.4,-5.4M296.8,555.2h7.6M300.6,551.4v7.6M297.9,552.5l5.4,5.4M297.9,557.9l5.4,-5.4M311.5,563.1h7.6M315.3,559.3v7.6M312.6,560.4l5.4,5.4M312.6,565.8l5.4,-5.4M326.2,554.7h7.6M330.0,550.9v7.6M327.3,552.0l5.4,5.4M327.3,557.4l5.4,-5.4M340.8,546.7h7.6M344.6,542.9v7.6M341.9,544.0l5.4,5.4M341.9,549.4l5.4,-5.4M355.5,551.1h7.6M359.3,547.3v7.6M356.6,548.4l5.4,5.4M356.6,553.8l5.4,-5.4M370.2,539.3h7.6M374.0,535.5v7.6M371.3,536.6l5.4,5.4M371.3,542.0l5.4,-5.4M384.8,556.6h7.6M388.6,552.8v7.6M385.9,553.9l5.4,5.4M385.9,559.3l5.4,-5.4M399.5,546.1h7.6M403.3,542.3v7.6M400.6,543.4l5.4,5.4M400.6,548.8l5.4,-5.4M414.2,553.0h7.6M418.0,549.2v7.6M415.3,550.3l5.4,5.4M415.3,555.7l5.4,-5.4M428.9,558.0h7.6M432.7,554.2v7.6M430.0,555.3l5.4,5.4M430.0,560.7l5.4,-5.4M443.5,551.3h7.6M447.3,547.5v7.6M444.6,548.6l5.4,5.4M444.6,554.0l5.4,-5.4M458.2,564.5h7.6M462.0,560.7v7.6M459.3,561.8l5.4,5.4M459.3,567.2l5.4,-5.4M472.9,540.8h7.6M476.7,537.0v7.6M474.0,538.1l5.4,5.4M474.0,543.5l5.4,-5.4M487.5,558.7h7.6M491.3,554.9v7.6M488.6,556.0l5.4,5.4M488.6,561.4l5.4,-5.4M502.2,566.0h7.6M506.0,562.2v7.6M503.3,563.3l5.4,5.4M503.3,568.7l5.4,-5.4M516.9,558.2h7.6M520.7,554.4v7.6M518.0,555.5l5.4,5.4M518.0,560.9l5.4,-5.4M531.6,563.6h7.6M535.4,559.8v7.6M532.7,560.9l5.4,5.4M532.7,566.3l5.4,-5.4M546.2,563.0h7.6M550.0,559.2v7.6M547.3,560.3l5.4,5.4M547.3,565.7l5.4,-5.4M560.9,565.0h7.6M564.7,561.2v7.6M562.0,562.3l5.4,5.4M562.0,567.7l5.4,-5.4M575.6,523.3h7.6M579.4,519.5v7.6M576.7,520.6l5.4,5.4M576.7,526.0l5.4,-5.4M590.2,546.2h7.6M594.0,542.4v7.6M591.3,543.5l5.4,5.4M591.3,548.9l5.4,-5.4M604.9,562.9h7.6M608.7,559.1v7.6M606.0,560.2l5.4,5.4M606.0,565.6l5.4,-5.4M619.6,540.4h7.6M623.4,536.6v7.6M620.7,537.7l5.4,5.4M620.7,543.1l5.4,-5.4M634.3,545.6h7.6M638.1,541.8v7.6M635.4,542.9l5.4,5.4M635.4,548.3l5.4,-5.4M648.9,555.6h7.6M652.7,551.8v7.6M650.0,552.9l5.4,5.4M650.0,558.3l5.4,-5.4M663.6,535.4h7.6M667.4,531.6v7.6M664.7,532.7l5.4,5.4M664.7,538.1l5.4,-5.4M678.3,549.9h7.6M682.1,546.1v7.6M679.4,547.2l5.4,5.4M679.4,552.6l5.4,-5.4"/>
<path d="M106.1,536.9h7.6M109.9,533.1v7.6M107.2,534.2l5.4,5.4M107.2,539.6l5.4,-5.4M120.8,561.5h7.6M124.6,557.7v7.6M121.9,558.8l5.4,5.4M121.9,564.2l5.4,-5.4M135.4,563.1h7.6M139.2,559.3v7.6M136.5,560.4l5.4,5.4M136.5,565.8l5.4,-5.4M150.1,548.1h7.6M153.9,544.3v7.6M151.2,545.4l5.4,5.4M151.2,550.8l5.4,-5.4M164.8,495.1h7.6M168.6,491.3v7.6M165.9,492.4l5.4,5.4M165.9,497.8l5.4,-5.4M179.5,563.7h7.6M183.3,559.9v7.6M180.6,561.0l5.4,5.4M180.6,566.4l5.4,-5.4M194.1,549.1h7.6M197.9,545.3v7.6M195.2,546.4l5.4,5.4M195.2,551.8l5.4,-5.4M208.8,556.4h7.6M212.6,552.6v7.6M209.9,553.7l5.4,5.4M209.9,559.1l5.4,-5.4M223.5,534.5h7.6M227.3,530.7v7.6M224.6,531.8l5.4,5.4M224.6,537.2l5.4,-5.4M238.1,563.3h7.6M241.9,559.5v7.6M239.2,560.6l5.4,5.4M239.2,566.0l5.4,-5.4M252.8,555.7h7.6M256.6,551.9v7.6M253.9,553.0l5.4,5.4M253.9,558.4l5.4,-5.4M267.5,556.1h7.6M271.3,552.3v7.6M268.6,553.4l5.4,5.4M268.6,558.8l5.4,-5.4M282.2,559.8h7.6M286.0,556.0v7.6M283.3,557.1l5.4,5.4M283.3,562.5l5.4,-5.4M296.8,567.0h7.6M300.6,563.2v7.6M297.9,564.3l5.4,5.4M297.9,569.7l5.4,-5.4M311.5,559.9h7.6M315.3,556.1v7.6M312.6,557.2l5.4,5.4M312.6,562.6l5.4,-5.4M326.2,569.1h7.6M330.0,565.3v7.6M327.3,566.4l5.4,5.4M327.3,571.8l5.4,-5.4M340.8,554.3h7.6M344.6,550.5v7.6M341.9,551.6l5.4,5.4M341.9,557.0l5.4,-5.4M355.5,562.9h7.6M359.3,559.1v7.6M356.6,560.2l5.4,5.4M356.6,565.6l5.4,-5.4M370.2,544.4h7.6M374.0,540.6v7.6M371.3,541.7l5.4,5.4M371.3,547.1l5.4,-5.4M384.8,546.3h7.6M388.6,542.5v7.6M385.9,543.6l5.4,5.4M385.9,549.0l5.4,-5.4M399.5,566.4h7.6M403.3,562.6v7.6M400.6,563.7l5.4,5.4M400.6,569.1l5.4,-5.4M414.2,546.7h7.6M418.0,542.9v7.6M415.3,544.0l5.4,5.4M415.3,549.4l5.4,-5.4M428.9,568.2h7.6M432.7,564.4v7.6M430.0,565.5l5.4,5.4M430.0,570.9l5.4,-5.4M443.5,544.6h7.6M447.3,540.8v7.6M444.6,541.9l5.4,5.4M444.6,547.3l5.4,-5.4M458.2,536.4h7.6M462.0,532.6v7.6M459.3,533.7l5.4,5.4M459.3,539.1l5.4,-5.4M472.9,549.1h7.6M476.7,545.3v7.6M474.0,546.4l5.4,5.4M474.0,551.8l5.4,-5.4M487.5,549.7h7.6M491.3,545.9v7.6M488.6,547.0l5.4,5.4M488.6,552.4l5.4,-5.4M502.2,547.8h7.6M506.0,544.0v7.6M503.3,545.1l5.4,5.4M503.3,550.5l5.4,-5.4M516.9,573.8h7.6M520.7,570.0v7.6M518.0,571.1l5.4,5.4M518.0,576.5l5.4,-5.4M531.6,554.9h7.6M535.4,551.1v7.6M532.7,552.2l5.4,5.4M532.7,557.6l5.4,-5.4M546.2,547.3h7.6M550.0,543.5v7.6M547.3,544.6l5.4,5.4M547.3,550.0l5.4,-5.4M560.9,554.5h7.6M564.7,550.7v7.6M562.0,551.8l5.4,5.4M562.0,557.2l5.4,-5.4M575.6,550.5h7.6M579.4,546.7v7.6M576.7,547.8l5.4,5.4M576.7,553.2l5.4,-5.4M590.2,555.0h7.6M594.0,551.2v7.6M591.3,552.3l5.4,5.4M591.3,557.7l5.4,-5.4M604.9,563.3h7.6M608.7,559.5v7.6M606.0,560.6l5.4,5.4M606.0,566.0l5.4,-5.4M619.6,501.8h7.6M623.4,498.0v7.6M620.7,499.1l5.4,5.4M620.7,504.5l5.4,-5.4M634.3,561.0h7.6M638.1,557.2v7.6M635.4,558.3l5.4,5.4M635.4,563.7l5.4,-5.4M648.9,532.6h7.6M652.7,528.8v7.6M650.0,529.9l5.4,5.4M650.0,535.3l5.4,-5.4M663.6,549.8h7.6M667.4,546.0v7.6M664.7,547.1l5.4,5.4M664.7,552.5l5.4,-5.4M678.3,542.6h7.6M682.1,538.8v7.6M679.4,539.9l5.4,5.4M679.4,545.3l5.4,-5.4"/>
<path d="M106.1,567.4h7.6M109.9,563.6v7.6M107.2,564.7l5.4,5.4M107.2,570.1l5.4,-5.4M120.8,562.4h7.6M124.6,558.6v7.6M121.9,559.7l5.4,5.4M121.9,565.1l5.4,-5.4M135.4,543.7h7.6M139.2,539.9v7.6M136.5,541.0l5.4,5.4M136.5,546.4l5.4,-5.4M150.1,551.8h7.6M153.9,548.0v7.6M151.2,549.1l5.4,5.4M151.2,554.5l5.4,-5.4M164.8,555.0h7.6M168.6,551.2v7.6M165.9,552.3l5.4,5.4M165.9,557.7l5.4,-5.4M179.5,546.6h7.6M183.3,542.8v7.6M180.6,543.9l5.4,5.4M180.6,549.3l5.4,-5.4M194.1,544.0h7.6M197.9,540.2v7.6M195.2,541.3l5.4,5.4M195.2,546.7l5.4,-5.4M208.8,558.2h7.6M212.6,554.4v7.6M209.9,555.5l5.4,5.4M209.9,560.9l5.4,-5.4M223.5,559.3h7.6M227.3,555.5v7.6M224.6,556.6l5.4,5.4M224.6,562.0l5.4,-5.4M238.1,544.6h7.6M241.9,540.8v7.6M239.2,541.9l5.4,5.4M239.2,547.3l5.4,-5.4M252.8,530.8h7.6M256.6,527.0v7.6M253.9,528.1l5.4,5.4M253.9,533.5l5.4,-5.4M267.5,539.9h7.6M271.3,536.1v7.6M268.6,537.2l5.4,5.4M268.6,542.6l5.4,-5.4M282.2,577.7h7.6M286.0,573.9v7.6M283.3,575.0l5.4,5.4M283.3,580.4l5.4,-5.4M296.8,582.9h7.6M300.6,579.1v7.6M297.9,580.2l5.4,5.4M297.9,585.6l5.4,-5.4M311.5,556.9h7.6M315.3,553.1v7.6M312.6,554.2l5.4,5.4M312.6,559.6l5.4,-5.4M326.2,556.0h7.6M330.0,552.2v7.6M327.3,553.3l5.4,5.4M327.3,558.7l5.4,-5.4M340.8,547.3h7.6M344.6,543.5v7.6M341.9,544.6l5.4,5.4M341.9,550.0l5.4,-5.4M355.5,546.8h7.6M359.3,543.0v7.6M356.6,544.1l5.4,5.4M356.6,549.5l5.4,-5.4M370.2,549.2h7.6M374.0,545.4v7.6M371.3,546.5l5.4,5.4M371.3,551.9l5.4,-5.4M384.8,555.9h7.6M388.6,552.1v7.6M385.9,553.2l5.4,5.4M385.9,558.6l5.4,-5.4M399.5,555.9h7.6M403.3,552.1v7.6M400.6,553.2l5.4,5.4M400.6,558.6l5.4,-5.4M414.2,557.5h7.6M418.0,553.7v7.6M415.3,554.8l5.4,5.4M415.3,560.2l5.4,-5.4M428.9,572.6h7.6M432.7,568.8v7.6M430.0,569.9l5.4,5.4M430.0,575.3l5.4,-5.4M443.5,562.2h7.6M447.3,558.4v7.6M444.6,559.5l5.4,5.4M444.6,564.9l5.4,-5.4M458.2,543.3h7.6M462.0,539.5v7.6M459.3,540.6l5.4,5.4M459.3,546.0l5.4,-5.4M472.9,552.1h7.6M476.7,548.3v7.6M474.0,549.4l5.4,5.4M474.0,554.8l5.4,-5.4M487.5,548.5h7.6M491.3,544.7v7.6M488.6,545.8l5.4,5.4M488.6,551.2l5.4,-5.4M502.2,564.7h7.6M506.0,560.9v7.6M503.3,562.0l5.4,5.4M503.3,567.4l5.4,-5.4M516.9,543.7h7.6M520.7,539.9v7.6M518.0,541.0l5.4,5.4M518.0,546.4l5.4,-5.4M531.6,511.5h7.6M535.4,507.7v7.6M532.7,508.8l5.4,5.4M532.7,514.2l5.4,-5.4M546.2,564.5h7.6M550.0,560.7v7.6M547.3,561.8l5.4,5.4M547.3,567.2l5.4,-5.4M560.9,541.1h7.6M564.7,537.3v7.6M562.0,538.4l5.4,5.4M562.0,543.8l5.4,-5.4M575.6,564.4h7.6M579.4,560.6v7.6M576.7,561.7l5.4,5.4M576.7,567.1l5.4,-5.4M590.2,561.4h7.6M594.0,557.6v7.6M591.3,558.7l5.4,5.4M591.3,564.1l5.4,-5.4M604.9,561.3h7.6M608.7,557.5v7.6M606.0,558.6l5.4,5.4M606.0,564.0l5.4,-5.4M619.6,532.5h7.6M623.4,528.7v7.6M620.7,529.8l5.4,5.4M620.7,535.2l5.4,-5.4M634.3,564.8h7.6M638.1,561.0v7.6M635.4,562.1l5.4,5.4M635.4,567.5l5.4,-5.4M648.9,551.3h7.6M652.7,547.5v7.6M650.0,548.6l5.4,5.4M650.0,554.0l5.4,-5.4M663.6,574.7h7.6M667.4,570.9v7.6M664.7,572.0l5.4,5.4M664.7,577.4l5.4,-5.4M678.3,517.3h7.6M682.1,513.5v7.6M679.4,514.6l5.4,5.4M679.4,520.0l5.4,-5.4"/>
<path d="M106.1,544.4h7.6M109.9,540.6v7.6M107.2,541.7l5.4,5.4M107.2,547.1l5.4,-5.4M120.8,555.7h7.6M124.6,551.9v7.6M121.9,553.0l5.4,5.4M121.9,558.4l5.4,-5.4M135.4,531.7h7.6M139.2,527.9v7.6M136.5,529.0l5.4,5.4M136.5,534.4l5.4,-5.4M150.1,577.1h7.6M153.9,573.3v7.6M151.2,574.4l5.4,5.4M151.2,579.8l5.4,-5.4M164.8,533.6h7.6M168.6,529.8v7.6M165.9,530.9l5.4,5.4M165.9,536.3l5.4,-5.4M179.5,564.9h7.6M183.3,561.1v7.6M180.6,562.2l5.4,5.4M180.6,567.6l5.4,-5.4M194.1,542.4h7.6M197.9,538.6v7.6M195.2,539.7l5.4,5.4M195.2,545.1l5.4,-5.4M208.8,570.2h7.6M212.6,566.4v7.6M209.9,567.5l5.4,5.4M209.9,572.9l5.4,-5.4M223.5,551.0h7.6M227.3,547.2v7.6M224.6,548.3l5.4,5.4M224.6,553.7l5.4,-5.4M238.1,558.4h7.6M241.9,554.6v7.6M239.2,555.7l5.4,5.4M239.2,561.1l5.4,-5.4M252.8,545.9h7.6M256.6,542.1v7.6M253.9,543.2l5.4,5.4M253.9,548.6l5.4,-5.4M267.5,573.5h7.6M271.3,569.7v7.6M268.6,570.8l5.4,5.4M268.6,576.2l5.4,-5.4M282.2,557.8h7.6M286.0,554.0v7.6M283.3,555.1l5.4,5.4M283.3,560.5l5.4,-5.4M296.8,564.4h7.6M300.6,560.6v7.6M297.9,561.7l5.4,5.4M297.9,567.1l5.4,-5.4M311.5,559.6h7.6M315.3,555.8v7.6M312.6,556.9l5.4,5.4M312.6,562.3l5.4,-5.4M326.2,561.6h7.6M330.0,557.8v7.6M327.3,558.9l5.4,5.4M327.3,564.3l5.4,-5.4M340.8,545.4h7.6M344.6,541.6v7.6M341.9,542.7l5.4,5.4M341.9,548.1l5.4,-5.4M355.5,556.8h7.6M359.3,553.0v7.6M356.6,554.1l5.4,5.4M356.6,559.5l5.4,-5.4M370.2,541.2h7.6M374.0,537.4v7.6M371.3,538.5l5.4,5.4M371.3,543.9l5.4,-5.4M384.8,532.8h7.6M388.6,529.0v7.6M385.9,530.1l5.4,5.4M385.9,535.5l5.4,-5.4M399.5,535.5h7.6M403.3,531.7v7.6M400.6,532.8l5.4,5.4M400.6,538.2l5.4,-5.4M414.2,580.4h7.6M418.0,576.6v7.6M415.3,577.7l5.4,5.4M415.3,583.1l5.4,-5.4M428.9,548.8h7.6M432.7,545.0v7.6M430.0,546.1l5.4,5.4M430.0,551.5l5.4,-5.4M443.5,544.4h7.6M447.3,540.6v7.6M444.6,541.7l5.4,5.4M444.6,547.1l5.4,-5.4M458.2,542.3h7.6M462.0,538.5v7.6M459.3,539.6l5.4,5.4M459.3,545.0l5.4,-5.4M472.9,532.5h7.6M476.7,528.7v7.6M474.0,529.8l5.4,5.4M474.0,535.2l5.4,-5.4M487.5,496.8h7.6M491.3,493.0v7.6M488.6,494.1l5.4,5.4M488.6,499.5l5.4,-5.4M502.2,557.3h7.6M506.0,553.5v7.6M503.3,554.6l5.4,5.4M503.3,560.0l5.4,-5.4M516.9,557.4h7.6M520.7,553.6v7.6M518.0,554.7l5.4,5.4M518.0,560.1l5.4,-5.4M531.6,566.5h7.6M535.4,562.7v7.6M532.7,563.8l5.4,5.4M532.7,569.2l5.4,-5.4M546.2,547.8h7.6M550.0,544.0v7.6M547.3,545.1l5.4,5.4M547.3,550.5l5.4,-5.4M560.9,540.7h7.6M564.7,536.9v7.6M562.0,538.0l5.4,5.4M562.0,543.4l5.4,-5.4M575.6,577.1h7.6M579.4,573.3v7.6M576.7,574.4l5.4,5.4M576.7,579.8l5.4,-5.4M590.2,548.4h7.6M594.0,544.6v7.6M591.3,545.7l5.4,5.4M591.3,551.1l5.4,-5.4M604.9,567.6h7.6M608.7,563.8v7.6M606.0,564.9l5.4,5.4M606.0,570.3l5.4,-5.4M619.6,551.5h7.6M623.4,547.7v7.6M620.7,548.8l5.4,5.4M620.7,554.2l5.4,-5.4M634.3,510.6h7.6M638.1,506.8v7.6M635.4,507.9l5.4,5.4M635.4,513.3l5.4,-5.4M648.9,529.8h7.6M652.7,526.0v7.6M650.0,527.1l5.4,5.4M650.0,532.5l5.4,-5.4M663.6,558.3h7.6M667.4,554.5v7.6M664.7,555.6l5.4,5.4M664.7,561.0l5.4,-5.4M678.3,550.5h7.6M682.1,546.7v7.6M679.4,547.8l5.4,5.4M679.4,553.2l5.4,-5.4"/>
<path d="M106.1,547.6h7.6M109.9,543.8v7.6M107.2,544.9l5.4,5.4M107.2,550.3l5.4,-5.4M120.8,538.1h7.6M124.6,534.3v7.6M121.9,535.4l5.4,5.4M121.9,540.8l5.4,-5.4M135.4,540.2h7.6M139.2,536.4v7.6M136.5,537.5l5.4,5.4M136.5,542.9l5.4,-5.4M150.1,545.0h7.6M153.9,541.2v7.6M151.2,542.3l5.4,5.4M151.2,547.7l5.4,-5.4M164.8,554.8h7.6M168.6,551.0v7.6M165.9,552.1l5.4,5.4M165.9,557.5l5.4,-5.4M179.5,486.2h7.6M183.3,482.4v7.6M180.6,483.5l5.4,5.4M180.6,488.9l5.4,-5.4M194.1,546.4h7.6M197.9,542.6v7.6M195.2,543.7l5.4,5.4M195.2,549.1l5.4,-5.4M208.8,583.5h7.6M212.6,579.7v7.6M209.9,580.8l5.4,5.4M209.9,586.2l5.4,-5.4M223.5,566.3h7.6M227.3,562.5v7.6M224.6,563.6l5.4,5.4M224.6,569.0l5.4,-5.4M238.1,567.1h7.6M241.9,563.3v7.6M239.2,564.4l5.4,5.4M239.2,569.8l5.4,-5.4M252.8,537.1h7.6M256.6,533.3v7.6M253.9,534.4l5.4,5.4M253.9,539.8l5.4,-5.4M267.5,555.2h7.6M271.3,551.4v7.6M268.6,552.5l5.4,5.4M268.6,557.9l5.4,-5.4M282.2,571.6h7.6M286.0,567.8v7.6M283.3,568.9l5.4,5.4M283.3,574.3l5.4,-5.4M296.8,580.7h7.6M300.6,576.9v7.6M297.9,578.0l5.4,5.4M297.9,583.4l5.4,-5.4M311.5,534.7h7.6M315.3,530.9v7.6M312.6,532.0l5.4,5.4M312.6,537.4l5.4,-5.4M326.2,545.5h7.6M330.0,541.7v7.6M327.3,542.8l5.4,5.4M327.3,548.2l5.4,-5.4M340.8,561.5h7.6M344.6,557.7v7.6M341.9,558.8l5.4,5.4M341.9,564.2l5.4,-5.4M355.5,552.2h7.6M359.3,548.4v7.6M356.6,549.5l5.4,5.4M356.6,554.9l5.4,-5.4M370.2,547.7h7.6M374.0,543.9v7.6M371.3,545.0l5.4,5.4M371.3,550.4l5.4,-5.4M384.8,575.8h7.6M388.6,572.0v7.6M385.9,573.1l5.4,5.4M385.9,578.5l5.4,-5.4M399.5,550.8h7.6M403.3,547.0v7.6M400.6,548.1l5.4,5.4M400.6,553.5l5.4,-5.4M414.2,546.5h7.6M418.0,542.7v7.6M415.3,543.8l5.4,5.4M415.3,549.2l5.4,-5.4M428.9,551.8h7.6M432.7,548.0v7.6M430.0,549.1l5.4,5.4M430.0,554.5l5.4,-5.4M443.5,538.5h7.6M447.3,534.7v7.6M444.6,535.8l5.4,5.4M444.6,541.2l5.4,-5.4M458.2,537.9h7.6M462.0,534.1v7.6M459.3,535.2l5.4,5.4M459.3,540.6l5.4,-5.4M472.9,557.3h7.6M476.7,553.5v7.6M474.0,554.6l5.4,5.4M474.0,560.0l5.4,-5.4M487.5,552.8h7.6M491.3,549.0v7.6M488.6,550.1l5.4,5.4M488.6,555.5l5.4,-5.4M502.2,551.6h7.6M506.0,547.8v7.6M503.3,548.9l5.4,5.4M503.3,554.3l5.4,-5.4M516.9,550.5h7.6M520.7,546.7v7.6M518.0,547.8l5.4,5.4M518.0,553.2l5.4,-5.4M531.6,550.6h7.6M535.4,546.8v7.6M532.7,547.9l5.4,5.4M532.7,553.3l5.4,-5.4M546.2,554.1h7.6M550.0,550.3v7.6M547.3,551.4l5.4,5.4M547.3,556.8l5.4,-5.4M560.9,556.9h7.6M564.7,553.1v7.6M562.0,554.2l5.4,5.4M562.0,559.6l5.4,-5.4M575.6,569.6h7.6M579.4,565.8v7.6M576.7,566.9l5.4,5.4M576.7,572.3l5.4,-5.4M590.2,536.3h7.6M594.0,532.5v7.6M591.3,533.6l5.4,5.4M591.3,539.0l5.4,-5.4M604.9,568.6h7.6M608.7,564.8v7.6M606.0,565.9l5.4,5.4M606.0,571.3l5.4,-5.4M619.6,551.1h7.6M623.4,547.3v7.6M620.7,548.4l5.4,5.4M620.7,553.8l5.4,-5.4M634.3,556.1h7.6M638.1,552.3v7.6M635.4,553.4l5.4,5.4M635.4,558.8l5.4,-5.4M648.9,533.8h7.6M652.7,530.0v7.6M650.0,531.1l5.4,5.4M650.0,536.5l5.4,-5.4M663.6,565.8h7.6M667.4,562.0v7.6M664.7,563.1l5.4,5.4M664.7,568.5l5.4,-5.4M678.3,543.4h7.6M682.1,539.6v7.6M679.4,540.7l5.4,5.4M679.4,546.1l5.4,-5.4"/>
</g>
<path d="M109.9,542.6 124.6,544.3 139.2,563.0 153.9,538.3 168.6,552.8 183.3,564.8 197.9,546.0 212.6,532.3 227.3,538.3 241.9,532.3 256.6,556.2 271.3,560.5 286.0,564.8 300.6,562.2 315.3,542.6 330.0,566.5 344.6,564.8 359.3,560.5 374.0,566.5 388.6,543.1 403.3,551.1 418.0,537.4 432.7,549.4 447.3,555.4 462.0,569.0 476.7,551.1 491.3,559.6 506.0,543.1 520.7,559.6 535.4,558.8 550.0,547.7 564.7,557.4 579.4,557.4 594.0,534.9 608.7,533.2 623.4,557.4 638.1,534.9 652.7,564.8 667.4,561.3 682.1,563.6" fill="none" stroke="#ee6a60" stroke-width="2.9" stroke-linejoin="round"/>
<path d="M109.9,554.5 124.6,551.1 139.2,543.4 153.9,555.4 168.6,552.8 183.3,552.8 197.9,553.7 212.6,557.1 227.3,557.9 241.9,557.9 256.6,552.8 271.3,552.8 286.0,554.5 300.6,554.5 315.3,554.5 330.0,550.2 344.6,551.1 359.3,552.8 374.0,552.8 388.6,551.1 403.3,554.5 418.0,556.2 432.7,556.2 447.3,547.7 462.0,544.3 476.7,551.1 491.3,552.8 506.0,553.7 520.7,551.1 535.4,557.4 550.0,550.2 564.7,553.7 579.4,553.7 594.0,553.7 608.7,556.2 623.4,545.1 638.1,558.8 652.7,543.1 667.4,547.7 682.1,546.0" fill="none" stroke="#3a8fbe" stroke-width="2.9" stroke-linejoin="round"/>
<path d="M95.4,347.4V604.4H697.6" fill="none" stroke="#333333" stroke-width="1.4"/>
<path d="M95.4,587.0h6.4M95.4,552.8h6.4M95.4,518.6h6.4M95.4,484.5h6.4M95.4,450.3h6.4M95.4,416.2h6.4M95.4,382.0h6.4M95.4,347.8h6.4M168.6,604.4v-6.5M241.9,604.4v-6.5M315.3,604.4v-6.5M388.6,604.4v-6.5M462.0,604.4v-6.5M535.4,604.4v-6.5M608.7,604.4v-6.5M682.1,604.4v-6.5" stroke="#333333" stroke-width="1.3"/>
<text x="91.0" y="592.5" font-size="11" fill="#333333" stroke="#333333" stroke-width="0.22" text-anchor="end" >-2</text>
<text x="91.0" y="558.3" font-size="11" fill="#333333" stroke="#333333" stroke-width="0.22" text-anchor="end" >0</text>
<text x="91.0" y="524.1" font-size="11" fill="#333333" stroke="#333333" stroke-width="0.22" text-anchor="end" >2</text>
<text x="91.0" y="490.0" font-size="11" fill="#333333" stroke="#333333" stroke-width="0.22" text-anchor="end" >4</text>
<text x="91.0" y="455.8" font-size="11" fill="#333333" stroke="#333333" stroke-width="0.22" text-anchor="end" >6</text>
<text x="91.0" y="421.7" font-size="11" fill="#333333" stroke="#333333" stroke-width="0.22" text-anchor="end" >8</text>
<text x="91.0" y="387.5" font-size="11" fill="#333333" stroke="#333333" stroke-width="0.22" text-anchor="end" >10</text>
<text x="91.0" y="353.3" font-size="11" fill="#333333" stroke="#333333" stroke-width="0.22" text-anchor="end" >12</text>
<text x="164.3" y="620.0" font-size="11" fill="#333333" stroke="#333333" stroke-width="0.22" text-anchor="middle" >5</text>
<text x="237.6" y="620.0" font-size="11" fill="#333333" stroke="#333333" stroke-width="0.22" text-anchor="middle" >10</text>
<text x="311.0" y="620.0" font-size="11" fill="#333333" stroke="#333333" stroke-width="0.22" text-anchor="middle" >15</text>
<text x="384.3" y="620.0" font-size="11" fill="#333333" stroke="#333333" stroke-width="0.22" text-anchor="middle" >20</text>
<text x="457.7" y="620.0" font-size="11" fill="#333333" stroke="#333333" stroke-width="0.22" text-anchor="middle" >25</text>
<text x="531.1" y="620.0" font-size="11" fill="#333333" stroke="#333333" stroke-width="0.22" text-anchor="middle" >30</text>
<text x="604.4" y="620.0" font-size="11" fill="#333333" stroke="#333333" stroke-width="0.22" text-anchor="middle" >35</text>
<text x="677.8" y="620.0" font-size="11" fill="#333333" stroke="#333333" stroke-width="0.22" text-anchor="middle" >40</text>
<text x="347.1" y="635.7" font-size="15.4" fill="#333333" stroke="#333333" stroke-width="0.22" text-anchor="start" >Movements</text>
<text transform="translate(67.3,461.8) rotate(-90)" font-size="15.4" fill="#333333" stroke="#333333" stroke-width="0.22" text-anchor="middle">Z-score</text>
<rect x="121.3" y="330.6" width="105.6" height="40.4" fill="#fff" stroke="#444" stroke-width="0.9"/>
<path d="M126.1,341.3H171.3M148.7,334.8V348.3M144.4,334.8H153.1M144.4,348.3H153.1" stroke="#3a8fbe" stroke-width="2"/>
<path d="M144.9,341.3h7.6M148.7,337.5v7.6M146,338.6l5.4,5.4M146,344l5.4,-5.4" stroke="#3a8fbe" stroke-width="1.6"/>
<path d="M126.1,359.6H171.3M148.7,352.8V366.6M144.4,352.8H153.1M144.4,366.6H153.1" stroke="#ee6a60" stroke-width="2"/>
<path d="M148.7,353.8l4.8,5.8l-4.8,5.8l-4.8,-5.8z" fill="#ee6a60"/>
<text x="175.3" y="341.7" font-size="11.6" fill="#333" stroke="#333" stroke-width="0.22" text-anchor="start" >non-POD</text>
<text x="175.3" y="363.9" font-size="11.6" fill="#333" stroke="#333" stroke-width="0.22" text-anchor="start" >POD</text>
<text x="139.2" y="389.6" font-size="11.7" fill="#3b8fbe" stroke="#3b8fbe" stroke-width="0.22" text-anchor="start" >rear with upward exploration</text>
<text x="139.2" y="399.3" font-size="11.7" fill="#231f20" stroke="#231f20" stroke-width="0.22" text-anchor="start" >M3(</text>
<text x="180.3" y="399.3" font-size="11.7" fill="#231f20" stroke="#231f20" stroke-width="0.22" text-anchor="start" >)</text>
<text x="243.5" y="404.1" font-size="11.7" fill="#ee6a60" stroke="#ee6a60" stroke-width="0.22" text-anchor="start" >head shaking</text>
<text x="243.5" y="414.7" font-size="11.7" fill="#231f20" stroke="#231f20" stroke-width="0.22" text-anchor="start" >M10(</text>
<text x="312.8" y="414.7" font-size="11.7" fill="#231f20" stroke="#231f20" stroke-width="0.22" text-anchor="start" >)</text>
<text x="153.5" y="427.9" font-size="11.7" fill="#ee6a60" stroke="#ee6a60" stroke-width="0.22" text-anchor="start" >head shaking</text>
<text x="153.5" y="438.0" font-size="11.7" fill="#231f20" stroke="#231f20" stroke-width="0.22" text-anchor="start" >M4(</text>
<text x="194.6" y="438.0" font-size="11.7" fill="#231f20" stroke="#231f20" stroke-width="0.22" text-anchor="start" >)</text>
<text x="228.4" y="443.3" font-size="11.7" fill="#ee6a60" stroke="#ee6a60" stroke-width="0.22" text-anchor="start" >left turning</text>
<text x="228.4" y="453.0" font-size="11.7" fill="#231f20" stroke="#231f20" stroke-width="0.22" text-anchor="start" >M9(</text>
<text x="269.5" y="453.0" font-size="11.7" fill="#231f20" stroke="#231f20" stroke-width="0.22" text-anchor="start" >)</text>
<text x="207.8" y="465.5" font-size="11.7" fill="#ee6a60" stroke="#ee6a60" stroke-width="0.22" text-anchor="start" >walking</text>
<text x="207.8" y="478.2" font-size="11.7" fill="#231f20" stroke="#231f20" stroke-width="0.22" text-anchor="start" >M8(</text>
<text x="270.6" y="478.2" font-size="11.7" fill="#231f20" stroke="#231f20" stroke-width="0.22" text-anchor="start" >)</text>
<text x="415.8" y="393.9" font-size="11.7" fill="#ee6a60" stroke="#ee6a60" stroke-width="0.22" text-anchor="start" >freezing</text>
<text x="415.8" y="405.6" font-size="11.7" fill="#231f20" stroke="#231f20" stroke-width="0.22" text-anchor="start" >M22(</text>
<text x="463.4" y="405.6" font-size="11.7" fill="#231f20" stroke="#231f20" stroke-width="0.22" text-anchor="start" >)</text>
<text x="458.9" y="441.9" font-size="11.7" fill="#3b8fbe" stroke="#3b8fbe" stroke-width="0.22" text-anchor="start" >hunching</text>
<text x="458.9" y="452.1" font-size="11.7" fill="#231f20" stroke="#231f20" stroke-width="0.22" text-anchor="start" >M25(</text>
<text x="528.2" y="452.1" font-size="11.7" fill="#231f20" stroke="#231f20" stroke-width="0.22" text-anchor="start" >)</text>
<text x="329.4" y="459.4" font-size="11.7" fill="#3b8fbe" stroke="#3b8fbe" stroke-width="0.22" text-anchor="start" >launching</text>
<text x="329.4" y="471.0" font-size="11.7" fill="#231f20" stroke="#231f20" stroke-width="0.22" text-anchor="start" >M16(</text>
<text x="377.0" y="471.0" font-size="11.7" fill="#231f20" stroke="#231f20" stroke-width="0.22" text-anchor="start" >)</text>
<text x="627.8" y="334.6" font-size="11.7" fill="#3b8fbe" stroke="#3b8fbe" stroke-width="0.22" text-anchor="start" >right looking</text>
<text x="627.8" y="346.5" font-size="11.7" fill="#231f20" stroke="#231f20" stroke-width="0.22" text-anchor="start" >M40(</text>
<text x="675.4" y="346.5" font-size="11.7" fill="#231f20" stroke="#231f20" stroke-width="0.22" text-anchor="start" >)</text>
<text x="604.9" y="357.1" font-size="11.7" fill="#3b8fbe" stroke="#3b8fbe" stroke-width="0.22" text-anchor="start" >hunching</text>
<text x="604.9" y="367.7" font-size="11.7" fill="#231f20" stroke="#231f20" stroke-width="0.22" text-anchor="start" >M38(</text>
<text x="663.4" y="367.7" font-size="11.7" fill="#231f20" stroke="#231f20" stroke-width="0.22" text-anchor="start" >)</text>
<text x="583.1" y="377.3" font-size="11.7" fill="#ee6a60" stroke="#ee6a60" stroke-width="0.22" text-anchor="start" >gait-changed</text>
<text x="583.1" y="388.1" font-size="11.7" fill="#231f20" stroke="#231f20" stroke-width="0.22" text-anchor="start" >M37(</text>
<text x="652.4" y="388.1" font-size="11.7" fill="#231f20" stroke="#231f20" stroke-width="0.22" text-anchor="start" >)</text>
<text x="544.2" y="403.2" font-size="11.7" fill="#3b8fbe" stroke="#3b8fbe" stroke-width="0.22" text-anchor="start" >rear with upward exploration</text>
<text x="544.2" y="413.3" font-size="11.7" fill="#231f20" stroke="#231f20" stroke-width="0.22" text-anchor="start" >M36(</text>
<text x="581.0" y="413.3" font-size="11.7" fill="#231f20" stroke="#231f20" stroke-width="0.22" text-anchor="start" >)</text>
<text x="589.6" y="424.6" font-size="11.7" fill="#ee6a60" stroke="#ee6a60" stroke-width="0.22" text-anchor="start" >sniffing</text>
<text x="589.6" y="435.1" font-size="11.7" fill="#231f20" stroke="#231f20" stroke-width="0.22" text-anchor="start" >M35(</text>
<text x="658.9" y="435.1" font-size="11.7" fill="#231f20" stroke="#231f20" stroke-width="0.22" text-anchor="start" >)</text>
<text x="589.2" y="453.1" font-size="11.7" fill="#ee6a60" stroke="#ee6a60" stroke-width="0.22" text-anchor="start" >walking</text>
<text x="589.2" y="462.8" font-size="11.7" fill="#231f20" stroke="#231f20" stroke-width="0.22" text-anchor="start" >M34(</text>
<text x="636.8" y="462.8" font-size="11.7" fill="#231f20" stroke="#231f20" stroke-width="0.22" text-anchor="start" >)</text>
<path d="M164.25,391.55v8.30M160.66,393.62l7.19,4.15M160.66,397.77l7.19,-4.15M175.10,391.55v8.30M171.51,393.62l7.19,4.15M171.51,397.77l7.19,-4.15M275.06,406.95v8.30M271.46,409.02l7.19,4.15M271.46,413.17l7.19,-4.15M285.91,406.95v8.30M282.31,409.02l7.19,4.15M282.31,413.17l7.19,-4.15M296.76,406.95v8.30M293.16,409.02l7.19,4.15M293.16,413.17l7.19,-4.15M307.61,406.95v8.30M304.01,409.02l7.19,4.15M304.01,413.17l7.19,-4.15M178.55,430.25v8.30M174.96,432.32l7.19,4.15M174.96,436.47l7.19,-4.15M189.40,430.25v8.30M185.81,432.32l7.19,4.15M185.81,436.47l7.19,-4.15M253.45,445.25v8.30M249.86,447.32l7.19,4.15M249.86,451.47l7.19,-4.15M264.30,445.25v8.30M260.71,447.32l7.19,4.15M260.71,451.47l7.19,-4.15M232.85,470.45v8.30M229.26,472.52l7.19,4.15M229.26,476.67l7.19,-4.15M243.70,470.45v8.30M240.11,472.52l7.19,4.15M240.11,476.67l7.19,-4.15M254.55,470.45v8.30M250.96,472.52l7.19,4.15M250.96,476.67l7.19,-4.15M265.40,470.45v8.30M261.81,472.52l7.19,4.15M261.81,476.67l7.19,-4.15M447.36,397.85v8.30M443.76,399.93l7.19,4.15M443.76,404.07l7.19,-4.15M458.21,397.85v8.30M454.61,399.93l7.19,4.15M454.61,404.07l7.19,-4.15M490.46,444.35v8.30M486.86,446.43l7.19,4.15M486.86,450.57l7.19,-4.15M501.31,444.35v8.30M497.71,446.43l7.19,4.15M497.71,450.57l7.19,-4.15M512.16,444.35v8.30M508.56,446.43l7.19,4.15M508.56,450.57l7.19,-4.15M523.01,444.35v8.30M519.41,446.43l7.19,4.15M519.41,450.57l7.19,-4.15M360.96,463.25v8.30M357.36,465.32l7.19,4.15M357.36,469.47l7.19,-4.15M371.81,463.25v8.30M368.21,465.32l7.19,4.15M368.21,469.47l7.19,-4.15M659.36,338.75v8.30M655.76,340.82l7.19,4.15M655.76,344.97l7.19,-4.15M670.21,338.75v8.30M666.61,340.82l7.19,4.15M666.61,344.97l7.19,-4.15M636.46,359.95v8.30M632.86,362.02l7.19,4.15M632.86,366.17l7.19,-4.15M647.31,359.95v8.30M643.71,362.02l7.19,4.15M643.71,366.17l7.19,-4.15M658.16,359.95v8.30M654.56,362.02l7.19,4.15M654.56,366.17l7.19,-4.15M614.66,380.35v8.30M611.06,382.43l7.19,4.15M611.06,386.57l7.19,-4.15M625.51,380.35v8.30M621.91,382.43l7.19,4.15M621.91,386.57l7.19,-4.15M636.36,380.35v8.30M632.76,382.43l7.19,4.15M632.76,386.57l7.19,-4.15M647.21,380.35v8.30M643.61,382.43l7.19,4.15M643.61,386.57l7.19,-4.15M575.76,405.55v8.30M572.16,407.62l7.19,4.15M572.16,411.77l7.19,-4.15M621.16,427.35v8.30M617.56,429.43l7.19,4.15M617.56,433.57l7.19,-4.15M632.01,427.35v8.30M628.41,429.43l7.19,4.15M628.41,433.57l7.19,-4.15M642.86,427.35v8.30M639.26,429.43l7.19,4.15M639.26,433.57l7.19,-4.15M653.71,427.35v8.30M650.11,429.43l7.19,4.15M650.11,433.57l7.19,-4.15M620.76,455.05v8.30M617.16,457.12l7.19,4.15M617.16,461.27l7.19,-4.15M631.61,455.05v8.30M628.01,457.12l7.19,4.15M628.01,461.27l7.19,-4.15" stroke="#231f20" stroke-width="1.65" fill="none"/>
<text x="-0.3" y="670.0" font-size="23.6" fill="#231f20" text-anchor="start" >d</text>
<text x="468.3" y="671.0" font-size="23.6" fill="#231f20" text-anchor="start" >e</text>
<g fill="none" stroke="#231f20" stroke-width="1.1" stroke-linecap="round" stroke-linejoin="round">
<path d="M73.2,687.7C73.1,686.0 71.7,680.1 72.4,677.4C73.1,674.7 75.6,672.6 77.4,671.6C79.2,670.6 81.2,670.6 83.1,671.6C85.0,672.6 87.4,674.8 88.9,677.4C90.4,680.0 91.6,684.4 92.2,687.3C92.8,690.2 92.5,693.5 92.6,694.7M73.7,687.3C73.8,685.8 73.2,680.4 74.1,678.2C75.0,676.0 77.3,674.7 79.0,674.1C80.7,673.5 82.4,673.1 84.0,674.5C85.6,675.9 87.5,679.9 88.5,682.3C89.5,684.7 89.8,687.0 89.7,688.9C89.6,690.8 88.4,692.6 88.1,693.4M73.2,687.7L73.7,687.3M88.1,693.4C87.0,694.3 83.1,696.4 81.5,698.8C79.9,701.2 79.1,704.9 78.6,707.9C78.1,710.9 78.3,715.0 78.6,716.9C78.9,718.8 79.8,717.1 80.2,719.4C80.6,721.7 80.6,729.0 80.7,730.9M92.6,694.7C93.5,695.7 96.9,697.5 98.0,700.4C99.1,703.3 98.8,709.5 99.2,712.0C99.6,714.5 100.5,714.3 100.4,715.3C100.3,716.2 99.1,715.1 98.8,717.7C98.5,720.3 98.8,728.7 98.8,730.9M82.3,740.8C82.9,742.1 84.8,746.3 86.0,748.5C87.2,750.7 89.1,753.1 89.7,754.0M96.7,740.8C96.2,742.1 94.7,746.3 93.5,748.5C92.3,750.7 90.3,753.1 89.7,754.0M76.5,754.0C77.2,753.7 79.4,752.4 81.0,752.0C82.6,751.6 85.2,751.6 86.0,751.5M82.7,756.5C83.1,756.2 84.2,755.0 85.0,754.5C85.8,754.0 86.9,753.8 87.3,753.6M102.9,754.0C102.1,753.7 99.7,752.4 98.0,752.0C96.3,751.6 93.8,751.6 93.0,751.5M96.3,756.5C95.9,756.2 94.8,755.0 94.0,754.5C93.2,754.0 92.2,753.8 91.8,753.6M80.2,747.4L84.8,747.8M98.4,747.4L93.8,747.8M80.8,761.5C81.4,762.0 83.1,764.0 84.5,764.8C85.9,765.5 87.5,766.0 89.0,766.0C90.5,766.0 92.1,765.5 93.5,764.8C94.9,764.0 96.8,762.0 97.4,761.5M220.4,729.8L220.4,707.5M238.1,698.8C238.4,698.1 239.2,696.2 239.9,694.4C240.6,692.6 241.4,689.4 242.4,687.9C243.4,686.4 244.7,685.4 246.0,685.4C247.3,685.4 249.2,686.4 250.4,687.9C251.6,689.4 252.2,692.6 252.9,694.4C253.6,696.2 254.1,698.1 254.3,698.8M232.3,686.1C233.1,686.4 235.4,687.5 237.0,688.0C238.6,688.5 240.9,688.8 241.7,689.0M238.8,684.3L242.4,686.9M237.4,692.6L241.0,692.3M259.7,686.1C258.9,686.4 256.6,687.5 255.0,688.0C253.4,688.5 251.2,688.8 250.4,689.0M252.9,684.3L249.6,686.9M255.0,692.6L251.4,692.3M237.0,709.6C237.2,710.2 238.0,711.3 238.1,713.2C238.2,715.1 237.8,719.5 237.4,721.1C237.0,722.7 236.0,720.8 235.6,722.6C235.2,724.4 234.9,729.0 235.2,731.9C235.5,734.8 235.7,737.5 237.4,739.9C239.1,742.3 243.8,744.3 245.3,746.4C246.8,748.5 246.4,749.7 246.4,752.2C246.4,754.7 246.2,759.0 245.3,761.5C244.4,764.0 241.7,766.3 241.0,767.3M254.3,709.6C254.4,711.8 254.3,720.2 254.7,722.6C255.1,725.0 256.6,722.7 256.8,724.0C257.0,725.3 256.6,727.7 256.1,730.5C255.6,733.3 255.2,738.1 254.0,740.6C252.8,743.1 249.9,743.8 248.9,745.7C247.9,747.6 248.7,749.3 248.2,752.2C247.7,755.1 247.0,760.5 246.0,763.0C245.0,765.5 243.0,766.6 242.4,767.3M241.0,767.3L242.4,767.3M378.2,697.5C378.6,696.2 379.4,691.3 380.4,689.5C381.4,687.7 382.8,686.5 384.0,686.5C385.2,686.5 386.6,687.7 387.6,689.5C388.6,691.3 389.4,696.2 389.8,697.5M370.9,689.1L379.6,691.6M377.1,687.3L380.4,688.7M375.3,694.9L378.9,694.2M397.8,689.1L388.7,691.6M391.3,687.3L388.0,688.7M393.1,694.9L389.1,694.2M374.6,706.9C374.5,707.8 374.4,709.7 374.2,712.0C373.9,714.3 374.5,717.8 373.1,720.7C371.7,723.6 367.4,726.6 365.8,729.5C364.2,732.4 363.5,736.4 363.6,738.2C363.7,740.0 365.6,738.7 366.5,740.4C367.4,742.1 368.0,746.6 368.7,748.4C369.4,750.1 370.5,750.5 370.9,750.9M392.0,707.6C391.9,709.8 392.0,715.6 391.3,720.7C390.6,725.8 389.0,734.3 388.0,738.2C387.0,742.1 388.0,741.9 385.5,744.0C383.0,746.1 375.5,749.5 373.1,750.6C370.7,751.8 371.3,750.9 370.9,750.9M370.9,750.9L362.9,768.4M400.0,734.6C400.8,733.9 403.8,732.0 405.0,730.5C406.2,729.0 406.9,727.4 407.3,725.5C407.8,723.6 407.6,720.1 407.7,719.0M81.9,884.4C81.5,881.9 79.0,874.0 79.2,869.6C79.4,865.2 80.7,861.4 82.9,858.0C85.1,854.6 89.4,851.2 92.4,849.5C95.4,847.8 97.7,847.4 100.9,847.9C104.1,848.4 109.4,851.1 111.5,852.7C113.6,854.3 113.0,856.7 113.3,857.5M113.6,862.2C113.5,861.2 112.8,857.4 113.2,856.0C113.6,854.6 114.4,854.4 115.7,853.8C117.0,853.2 119.9,851.3 121.0,852.2C122.1,853.1 122.6,857.1 122.1,859.0C121.6,860.9 118.5,863.0 117.8,863.8M117.8,863.8C118.6,864.4 122.1,865.3 122.6,867.5C123.1,869.7 122.2,874.2 121.0,877.0C119.8,879.8 117.1,883.1 115.7,884.4C114.3,885.7 113.1,884.9 112.6,885.0M112.6,885.0C112.1,884.6 110.3,883.8 109.5,882.5C108.7,881.2 107.6,879.3 107.5,877.5C107.4,875.7 108.5,872.7 108.7,871.7M102.5,873.9C102.3,875.0 101.0,878.8 101.4,880.2C101.8,881.6 104.5,881.9 105.1,882.3M96.7,885.5C97.0,885.9 97.4,887.6 98.8,888.1C100.2,888.6 104.1,888.9 105.1,888.7C106.1,888.5 104.7,887.1 104.6,886.8M81.9,886.6C82.4,887.0 83.6,888.5 85.0,888.7C86.4,889.0 89.1,887.9 90.3,888.1C91.5,888.3 90.1,889.4 92.4,889.7C94.7,890.0 102.1,889.7 104.1,889.7M81.9,884.4C79.8,885.0 73.4,887.4 69.2,888.1C65.0,888.8 59.2,889.3 56.5,888.7C53.8,888.1 52.6,885.7 52.8,884.4C53.0,883.1 55.5,881.3 57.5,880.7C59.5,880.1 62.3,880.3 64.9,880.7C67.6,881.1 72.0,882.5 73.4,882.9M55.9,884.4C56.5,884.8 57.2,886.1 59.6,886.6C62.0,887.1 66.3,887.3 70.0,887.3C73.7,887.3 79.9,886.7 81.9,886.6M194.8,840.6C196.4,843.1 200.6,851.8 204.3,855.6C208.0,859.4 212.5,861.9 217.0,863.6C221.5,865.3 228.9,865.6 231.3,866.0M197.1,841.3C198.8,844.2 203.9,854.6 207.5,858.8C211.1,863.0 214.8,864.9 218.6,866.7C222.4,868.6 228.5,869.4 230.5,869.9M194.8,840.6L197.1,841.3M231.3,865.2L230.5,869.9M231.3,865.2C232.4,864.0 234.7,860.0 237.6,858.0C240.5,856.0 244.7,854.2 248.7,853.3C252.7,852.4 257.7,852.4 261.4,852.8C265.1,853.2 268.6,855.5 271.0,855.6C273.4,855.7 274.9,853.7 275.7,853.3M273.3,854.8C274.1,854.0 276.6,850.8 278.1,850.1C279.6,849.5 281.1,850.4 282.1,850.9C283.2,851.4 284.7,852.4 284.4,853.3C284.1,854.2 281.8,855.8 280.5,856.4C279.2,857.0 277.7,857.5 276.5,857.2C275.3,856.9 273.8,855.2 273.3,854.8M284.4,853.3C285.7,853.8 289.5,855.1 292.0,856.0C294.5,856.9 298.0,857.9 299.5,858.8C301.0,859.7 300.8,860.8 301.1,861.2M297.9,858.0L304.3,854.8M299.5,860.4L304.3,862.8M299.5,862.8C298.2,863.3 294.0,865.0 291.6,866.0C289.2,867.0 286.6,867.6 285.2,869.1C283.8,870.6 282.9,873.0 282.9,874.7C282.9,876.4 284.0,878.1 285.2,879.4C286.4,880.7 288.9,881.8 290.0,882.6C291.1,883.4 291.3,883.9 291.6,884.2M282.1,880.2C280.0,879.8 272.3,878.5 269.4,877.9C266.5,877.2 266.7,876.8 264.6,876.3C262.5,875.8 259.9,875.1 256.7,874.7C253.5,874.3 248.8,873.4 245.6,873.9C242.4,874.4 240.8,877.1 237.6,877.9C234.4,878.7 228.3,878.6 226.5,878.7M231.3,869.1C230.8,870.3 229.4,874.6 228.1,876.3C226.8,878.0 224.4,878.3 223.3,879.4C222.2,880.5 222.3,881.3 221.7,882.6C221.0,883.9 219.3,886.5 219.4,887.4C219.5,888.3 221.7,888.9 222.5,888.2C223.3,887.5 223.8,883.9 224.0,883.0M253.5,875.5C253.1,876.7 251.1,880.9 251.1,882.6C251.1,884.3 252.1,885.3 253.5,885.8C254.9,886.3 258.8,885.8 259.8,885.8M266.2,877.9C266.5,878.7 267.3,881.0 267.8,882.6C268.3,884.2 268.7,886.6 269.4,887.4C270.1,888.2 271.6,887.6 272.0,887.6M255.9,869.1L255.9,874.5M286.5,882.3C287.1,882.7 289.0,884.4 290.0,884.5C291.0,884.6 292.1,883.2 292.5,883.0M321.7,877.6C325.7,877.3 336.9,878.3 345.8,875.7C354.8,873.1 370.5,864.2 375.4,861.9M322.6,879.4C326.8,879.5 338.5,881.9 347.6,879.8C356.7,877.6 372.4,868.7 377.3,866.5M321.7,877.6C321.5,877.8 320.5,878.3 320.6,878.6C320.8,878.9 322.3,879.3 322.6,879.4M375.4,861.9C376.3,860.4 378.2,855.4 381.0,852.6C383.8,849.8 388.1,846.9 392.1,845.2C396.1,843.5 400.7,842.4 405.0,842.4C409.3,842.4 414.0,843.4 418.0,845.2C422.0,847.1 425.9,851.2 429.1,853.5C432.3,855.8 436.0,858.2 437.4,859.1M437.4,859.1C437.4,858.2 436.4,854.7 437.2,853.5C438.0,852.3 440.4,851.6 442.1,851.9C443.8,852.1 446.3,853.6 447.2,855.0C448.1,856.4 447.4,859.6 447.5,860.5M447.5,860.5C448.1,860.5 450.1,859.8 451.0,860.5C451.9,861.2 452.8,863.3 452.8,864.5C452.9,865.7 451.6,867.0 451.3,867.5M451.3,866.5C450.9,867.7 449.5,871.8 448.6,873.9C447.7,876.0 445.5,878.2 445.8,879.4C446.1,880.6 449.6,881.0 450.4,881.3M429.0,882.2L442.0,880.3M432.8,888.7L441.0,882.2M445.8,881.2L451.3,882.8M443.9,881.3C442.0,881.0 435.3,880.5 432.8,879.4C430.3,878.3 430.3,875.4 429.1,874.8C427.9,874.2 426.2,874.8 425.4,875.7C424.6,876.6 424.1,879.4 424.5,880.4C424.9,881.4 427.4,881.3 428.0,881.5M421.7,875.7C419.5,875.2 412.4,873.1 408.7,873.0C405.0,872.9 402.3,874.6 399.5,874.8C396.7,874.9 393.3,874.0 392.1,873.9M377.3,865.6C377.8,866.4 378.9,868.8 380.0,870.2C381.1,871.6 383.2,872.7 383.7,873.9C384.2,875.1 382.3,876.5 382.8,877.6C383.3,878.7 384.3,879.9 386.5,880.4C388.7,880.9 393.9,880.7 395.8,880.4C397.7,880.1 398.2,879.1 397.6,878.5C397.0,877.9 392.9,876.8 392.0,876.5M474.6,741.1C477.5,741.0 486.3,740.8 492.2,740.2C498.1,739.6 506.9,737.9 509.8,737.4M475.6,742.0C476.8,742.4 479.0,744.1 483.0,744.3C487.0,744.5 494.7,743.5 499.6,743.0C504.5,742.5 510.4,741.4 512.6,741.1M474.6,741.1L475.6,742.0M509.8,737.4C510.9,736.0 513.7,731.9 516.3,729.1C518.9,726.3 521.9,722.8 525.6,720.7C529.3,718.6 534.1,717.0 538.5,716.5C542.9,716.0 549.8,717.4 552.0,717.6M570.0,718.0C571.9,718.6 578.3,720.5 581.1,721.7C583.9,722.9 586.2,724.3 586.7,725.4C587.2,726.5 586.1,726.6 583.9,728.1C581.7,729.6 576.6,732.7 573.7,734.6C570.8,736.5 568.8,738.1 566.3,739.3C563.8,740.5 560.8,741.1 558.9,742.0C557.0,742.9 556.0,743.4 555.2,744.8C554.4,746.2 553.8,749.2 554.3,750.4C554.8,751.6 557.1,752.4 558.0,752.2C558.9,752.1 559.2,750.0 559.5,749.5M577.5,729.0L587.0,725.4M578.3,740.2L583.0,729.0M581.1,736.5L584.8,729.0M584.8,719.8L588.5,723.5M586.7,722.6L593.0,723.5M551.5,743.0C549.6,742.8 544.1,741.7 540.4,742.0C536.7,742.3 532.1,744.5 529.3,744.8C526.5,745.1 525.4,743.6 523.7,743.9C522.0,744.2 519.6,745.6 519.1,746.7C518.6,747.8 519.8,749.6 520.9,750.4C522.0,751.2 524.2,751.5 525.6,751.3C527.0,751.1 528.7,749.7 529.3,749.4M512.6,741.1C513.5,741.4 517.0,742.1 518.1,743.0C519.2,743.9 518.9,746.1 519.1,746.7M595.9,725.4C597.1,726.9 603.0,731.2 603.3,734.6C603.6,738.0 598.7,743.7 597.8,745.5M670.4,750.1C670.6,748.1 670.4,742.8 671.7,738.2C673.0,733.6 675.8,727.1 678.4,722.3C681.0,717.4 684.5,713.0 687.6,709.1C690.7,705.2 695.4,700.9 696.9,699.2M696.2,697.2C696.0,696.3 694.6,693.1 694.9,691.9C695.2,690.7 697.0,690.0 698.2,689.9C699.4,689.8 700.4,691.2 702.2,691.2C704.0,691.2 706.6,689.9 708.8,689.9C711.0,689.9 713.2,690.2 715.4,691.2C717.6,692.2 720.5,694.9 722.0,695.9C723.5,696.9 724.5,696.3 724.7,697.2C724.9,698.1 724.6,700.1 723.3,701.2C722.0,702.3 718.6,702.8 716.7,703.8C714.8,704.8 712.9,706.5 712.1,707.1M695.6,696.5L702.2,698.5M723.3,697.2L733.9,695.9M723.3,698.5L735.2,701.8M723.3,699.8L731.3,710.4M722.7,700.5L724.7,709.8M724.7,699.2L732.6,705.1M708.8,709.8C709.5,709.8 711.0,709.7 712.8,709.8C714.6,709.9 718.2,710.0 719.4,710.4C720.6,710.8 720.9,712.0 720.0,712.4C719.1,712.8 715.0,712.9 714.0,713.0M710.8,712.4C711.0,713.0 711.1,715.3 712.1,715.7C713.1,716.1 715.9,715.1 716.7,715.0M707.5,712.4C707.3,713.4 707.2,716.3 706.1,718.4C705.0,720.5 702.0,722.6 700.8,725.0C699.6,727.4 699.5,730.0 698.9,732.9C698.2,735.8 698.6,739.5 696.9,742.2C695.2,745.0 690.2,748.2 688.9,749.4M687.0,754.1C688.0,754.4 690.8,755.7 692.9,756.1C695.0,756.5 698.6,756.9 699.5,756.7C700.4,756.5 700.0,755.4 698.2,754.7C696.5,754.0 690.5,752.7 689.0,752.3M675.0,752.1C675.1,752.9 674.5,755.5 675.7,756.7C676.9,757.9 680.3,758.9 682.3,759.4C684.3,759.9 687.1,760.3 687.6,760.0C688.1,759.7 686.5,758.3 685.0,757.4C683.5,756.5 679.6,755.0 678.5,754.5M671.1,750.8C670.1,750.6 668.3,749.7 665.1,749.4C661.9,749.1 655.2,748.5 651.9,748.8C648.6,749.1 646.2,750.3 645.3,751.4C644.4,752.5 644.8,754.5 646.6,755.4C648.4,756.3 651.9,756.9 655.9,756.7C659.9,756.5 668.0,754.5 670.4,754.1M649.3,752.1C650.4,752.0 653.6,751.9 656.0,751.8C658.4,751.7 662.5,751.5 663.8,751.4M670.4,754.1L688.9,754.0M506.6,836.7C505.5,836.2 501.9,834.8 500.0,834.0C498.1,833.2 497.6,831.7 495.5,831.9C493.4,832.1 489.4,833.9 487.5,835.1C485.6,836.3 484.8,838.1 484.3,839.0C483.8,839.9 483.5,839.5 484.3,840.6C485.1,841.7 487.0,844.2 489.1,845.4C491.2,846.6 495.1,846.8 497.0,847.8C498.9,848.8 499.7,851.1 500.2,851.7M498.6,831.1C498.9,830.3 499.4,827.2 500.2,826.3C501.0,825.4 502.9,824.8 503.4,825.6C503.9,826.4 503.4,830.2 503.4,831.1M501.8,834.3C502.1,833.8 502.6,831.6 503.5,831.5C504.4,831.4 506.9,832.6 507.4,833.5C507.9,834.4 507.4,836.1 506.6,836.7C505.8,837.3 503.2,837.0 502.5,837.0M507.4,835.9C508.3,836.3 510.1,837.6 512.9,838.3C515.7,838.9 520.8,838.9 524.0,839.8C527.2,840.7 529.8,841.8 532.0,843.8C534.2,845.8 536.0,848.3 537.5,851.7C539.0,855.1 540.2,860.2 540.7,864.4C541.2,868.6 541.1,874.2 540.7,877.1C540.3,880.0 538.7,881.1 538.3,881.9M497.0,852.5C497.8,852.6 501.1,852.6 501.8,853.3C502.5,854.0 502.3,856.0 501.0,856.5C499.7,857.0 495.2,856.2 493.9,856.5C492.6,856.8 493.1,858.2 493.0,858.5M495.5,862.9C495.9,862.7 496.9,861.6 498.0,861.5C499.1,861.4 501.2,862.0 501.8,862.1M500.2,857.3C500.5,858.1 499.9,860.6 501.8,862.1C503.7,863.6 509.1,864.0 511.3,866.0C513.5,868.0 514.2,871.4 515.3,874.0C516.4,876.6 517.3,880.6 517.7,881.9M517.7,881.9C516.9,882.7 513.4,885.4 512.9,886.7C512.4,888.0 512.9,889.5 514.5,889.8C516.1,890.1 520.5,889.3 522.4,888.3C524.2,887.2 524.3,884.0 525.6,883.5C526.9,883.0 529.3,885.1 530.4,885.1C531.5,885.1 531.7,883.8 532.0,883.5M517.7,882.5L538.3,881.9M540.7,877.9C542.2,879.1 545.0,883.1 549.4,885.1C553.8,887.1 561.3,889.5 566.9,889.8C572.5,890.1 578.4,888.4 582.8,886.7C587.2,885.0 591.4,880.7 593.1,879.5M539.9,881.1C541.8,882.2 546.5,885.8 551.0,887.5C555.5,889.2 561.4,891.3 566.9,891.4C572.4,891.5 579.8,890.0 584.3,888.3C588.8,886.6 592.3,882.3 593.9,881.1M593.1,879.5L593.9,881.1M628.0,874.1C629.3,875.0 632.5,877.9 635.8,879.2C639.1,880.5 641.5,881.6 647.8,881.8C654.1,881.9 669.3,880.4 673.6,880.1M628.9,875.8C630.3,876.8 633.5,880.4 637.5,881.8C641.5,883.2 646.4,884.2 653.0,884.4C659.6,884.5 673.0,883.0 677.0,882.7M628.0,874.1L628.9,875.8M677.0,878.4C677.3,877.1 677.3,872.6 678.7,870.6C680.1,868.6 682.7,867.3 685.6,866.3C688.5,865.3 692.9,864.5 696.0,864.6C699.1,864.8 701.4,866.9 704.5,867.2C707.6,867.5 712.4,866.6 714.9,866.3C717.4,866.0 718.7,865.6 719.5,865.5M725.2,862.0C726.4,862.1 729.8,861.9 732.1,862.9C734.4,863.9 737.5,866.8 738.9,868.1C740.3,869.4 741.3,869.6 740.7,870.6C740.1,871.6 737.5,873.2 735.5,874.1C733.5,875.0 730.6,875.1 728.6,875.8C726.6,876.5 724.9,877.0 723.5,878.4C722.1,879.8 720.9,882.8 720.0,884.4C719.1,886.0 718.1,886.8 718.3,887.8C718.4,888.8 720.3,890.4 720.9,890.4C721.5,890.4 721.8,888.4 722.0,888.0M736.3,875.0L737.2,884.4M736.3,875.0L746.6,886.1M737.2,865.5L741.5,863.8M737.2,867.2L742.4,868.1M714.9,881.0C713.2,881.4 707.4,883.2 704.5,883.5C701.6,883.8 700.3,882.6 697.7,882.7C695.1,882.9 691.1,883.7 689.1,884.4C687.1,885.1 685.6,886.0 685.6,887.0C685.6,888.0 688.0,889.7 689.1,890.4C690.2,891.1 691.7,891.7 692.5,891.3C693.3,890.9 693.8,888.5 694.0,888.0M677.0,881.8C677.6,882.5 679.1,885.1 680.5,886.1C681.9,887.1 684.8,887.3 685.6,887.5"/>
<ellipse cx="81.1" cy="735.9" rx="3.6" ry="4.9" transform="rotate(-22 81.1 735.9)"/><ellipse cx="97.6" cy="735.9" rx="3.6" ry="4.9" transform="rotate(22 97.6 735.9)"/><ellipse cx="237.7" cy="704.5" rx="3.5" ry="5.2" transform="rotate(15 237.7 704.5)"/><ellipse cx="254.3" cy="704.5" rx="3.5" ry="5.2" transform="rotate(-15 254.3 704.5)"/><ellipse cx="376.7" cy="702.9" rx="3.0" ry="3.9" transform="rotate(10 376.7 702.9)"/><ellipse cx="390.2" cy="704" rx="3.0" ry="4.0" transform="rotate(-10 390.2 704)"/><ellipse cx="289.2" cy="858.5" rx="1.3" ry="0.9" transform="rotate(0 289.2 858.5)"/><ellipse cx="558.9" cy="720.7" rx="6.0" ry="6.8" transform="rotate(-20 558.9 720.7)"/><ellipse cx="566.3" cy="714.3" rx="3.8" ry="3.8" transform="rotate(0 566.3 714.3)"/><ellipse cx="721.7" cy="863.3" rx="3.3" ry="4.4" transform="rotate(-25 721.7 863.3)"/>
</g>
<g fill="#231f20"><circle cx="86.6" cy="746.6" r="1.4"/><circle cx="92.4" cy="746.6" r="1.4"/><path d="M79.3,759.5L84.3,761.2L80.6,764.2z"/><path d="M98.3,759.5L93.3,761.2L97.0,764.2z"/><path d="M217.5,709.8L220.4,702.4L223.5,709.8L220.4,708.2z"/><circle cx="243.1" cy="693.7" r="1.5"/><circle cx="248.9" cy="693.7" r="1.5"/><circle cx="381.6" cy="697.1" r="1.2"/><circle cx="385.8" cy="697.1" r="1.2"/><path d="M404.2,710.4L411.7,716.7L404.6,719.8z"/><circle cx="115.1" cy="874.6" r="1.5"/><circle cx="444.5" cy="873.5" r="1.3"/><circle cx="576.5" cy="724.4" r="1.5"/><path d="M590.4,750.4L593.8,743.8L599.8,748.8z"/><circle cx="713.7" cy="694.6" r="1.4"/><circle cx="494.7" cy="836.7" r="1.2"/><circle cx="733.8" cy="867.2" r="1.3"/></g>
<path d="M370.9,750.9L362.9,768.4" stroke="#231f20" stroke-width="2.2"/>
<text x="6.8" y="799.8" font-size="15.75" fill="#ee6a60" stroke="#ee6a60" stroke-width="0.08" text-anchor="start" >M4&amp;M10 head shaking</text>
<text x="184.4" y="799.8" font-size="15.75" fill="#ee6a60" stroke="#ee6a60" stroke-width="0.08" text-anchor="start" >M8&amp;M34 walking</text>
<text x="336.5" y="799.8" font-size="15.75" fill="#ee6a60" stroke="#ee6a60" stroke-width="0.08" text-anchor="start" >M9 left turning</text>
<text x="41.5" y="932.0" font-size="15.75" fill="#ee6a60" stroke="#ee6a60" stroke-width="0.08" text-anchor="start" >M22 freezing</text>
<text x="182.2" y="932.0" font-size="15.75" fill="#ee6a60" stroke="#ee6a60" stroke-width="0.08" text-anchor="start" >M37 gait-changed</text>
<text x="351.7" y="932.0" font-size="15.75" fill="#ee6a60" stroke="#ee6a60" stroke-width="0.08" text-anchor="start" >M35 sniffing</text>
<text x="479.3" y="800.6" font-size="15.75" fill="#3b8fbe" stroke="#3b8fbe" stroke-width="0.08" text-anchor="start" xml:space="preserve">M40 right looking</text>
<text x="623.2" y="781.2" font-size="15.75" fill="#3b8fbe" stroke="#3b8fbe" stroke-width="0.08" text-anchor="start" xml:space="preserve">M3&amp;M36 rear with</text>
<text x="623.2" y="800.6" font-size="15.75" fill="#3b8fbe" stroke="#3b8fbe" stroke-width="0.08" text-anchor="start" xml:space="preserve">upward exploration</text>
<text x="469.3" y="931.4" font-size="15.75" fill="#3b8fbe" stroke="#3b8fbe" stroke-width="0.08" text-anchor="start" xml:space="preserve">M25&amp;M38 hunching</text>
<text x="645.5" y="931.4" font-size="15.75" fill="#3b8fbe" stroke="#3b8fbe" stroke-width="0.08" text-anchor="start" xml:space="preserve">M16  launching</text>
<text x="-0.3" y="1017.6" font-size="23.6" fill="#231f20" text-anchor="start" >f</text>
<path d="M59.0,1196.8L179.7,1168.0L255.4,1214.8M59.0,1172.8L179.7,1144.0L255.4,1190.8M59.0,1148.9L179.7,1120.1L255.4,1166.9M59.0,1124.9L179.7,1096.1L255.4,1142.9M59.0,1100.9L179.7,1072.1L255.4,1118.9M59.0,1077.0L179.7,1048.2L255.4,1095.0M59.0,1053.0L179.7,1024.2L255.4,1071.0M59.0,1053.0v143.8M89.2,1045.8v143.8M119.3,1038.6v143.8M149.5,1031.4v143.8M179.7,1024.2V1168.0M217.6,1047.6v143.8M255.4,1071.0v143.8M59.0,1196.8l120.7,-28.8M96.9,1220.2l120.7,-28.8M134.7,1243.6l120.7,-28.8M59.0,1196.8l75.7,46.8M89.2,1189.6l75.7,46.8M119.3,1182.4l75.7,46.8M149.5,1175.2l75.7,46.8M179.7,1168.0l75.7,46.8" fill="none" stroke="#6a6a6a" stroke-width="0.75"/>
<polygon points="59.1,1160.4 200,1091.5 254.3,1074.5 113.4,1143.4" fill="#dadada"/>
<g fill="#ee6b5f" stroke="#fff" stroke-width="0.5"><circle cx="94.7" cy="1069.4" r="6.0"/><circle cx="79.2" cy="1069.4" r="6.0"/><circle cx="90.4" cy="1059.8" r="6.0"/><circle cx="90.2" cy="1074.7" r="6.0"/><circle cx="90.4" cy="1083" r="6.0"/><circle cx="103.4" cy="1068.8" r="6.0"/><circle cx="116.6" cy="1059.6" r="6.0"/><circle cx="122.8" cy="1068" r="6.0"/><circle cx="114.5" cy="1073.7" r="6.0"/><circle cx="131" cy="1075" r="6.0"/><circle cx="137.8" cy="1082.3" r="6.0"/><circle cx="139.4" cy="1077" r="6.0"/><circle cx="138.7" cy="1089" r="6.0"/><circle cx="127.2" cy="1096.9" r="6.0"/><circle cx="119.3" cy="1099.8" r="6.0"/><circle cx="107.9" cy="1102.2" r="6.0"/><circle cx="123.8" cy="1108.5" r="6.0"/><circle cx="108.3" cy="1111.4" r="6.0"/><circle cx="104.3" cy="1117.4" r="6.0"/></g>
<g fill="#3a8cb9" stroke="#fff" stroke-width="0.5"><circle cx="144" cy="1144.1" r="6.0"/><circle cx="153" cy="1150.1" r="6.0"/><circle cx="138.9" cy="1154.4" r="6.0"/><circle cx="145.3" cy="1158.2" r="6.0"/><circle cx="128.6" cy="1167.8" r="6.0"/><circle cx="139.2" cy="1170.7" r="6.0"/><circle cx="145.3" cy="1167.3" r="6.0"/><circle cx="129.8" cy="1176.7" r="6.0"/><circle cx="141.8" cy="1179.3" r="6.0"/><circle cx="149.2" cy="1180.5" r="6.0"/><circle cx="184" cy="1133.8" r="6.0"/><circle cx="181.9" cy="1142.4" r="6.0"/><circle cx="191.7" cy="1140.3" r="6.0"/><circle cx="176.2" cy="1151" r="6.0"/><circle cx="166.4" cy="1155.3" r="6.0"/><circle cx="199.1" cy="1150.1" r="6.0"/><circle cx="206" cy="1159.2" r="6.0"/><circle cx="171" cy="1162.1" r="6.0"/><circle cx="173.3" cy="1165.6" r="6.0"/><circle cx="216.3" cy="1165.6" r="6.0"/><circle cx="224.9" cy="1162.1" r="6.0"/><circle cx="181.9" cy="1173.3" r="6.0"/><circle cx="200.3" cy="1177.6" r="6.0"/><circle cx="198" cy="1169.9" r="6.0"/><circle cx="189.4" cy="1177.6" r="6.0"/><circle cx="178.8" cy="1183.3" r="6.0"/><circle cx="198" cy="1182.8" r="6.0"/><circle cx="166.7" cy="1197.4" r="6.0"/><circle cx="161.2" cy="1201.7" r="6.0"/><circle cx="165.9" cy="1209.1" r="6.0"/><circle cx="157.3" cy="1208.6" r="6.0"/></g>
<text x="59.3" y="1048.5" font-size="11.6" fill="#333" stroke="#333" stroke-width="0.22" text-anchor="end" >6000</text>
<text x="59.3" y="1073.1" font-size="11.6" fill="#333" stroke="#333" stroke-width="0.22" text-anchor="end" >4000</text>
<text x="59.3" y="1097.2" font-size="11.6" fill="#333" stroke="#333" stroke-width="0.22" text-anchor="end" >2000</text>
<text x="53.8" y="1120.9" font-size="11.6" fill="#333" stroke="#333" stroke-width="0.22" text-anchor="end" >0</text>
<text x="60.3" y="1145.0" font-size="11.6" fill="#333" stroke="#333" stroke-width="0.22" text-anchor="end" >-2000</text>
<text x="60.3" y="1168.6" font-size="11.6" fill="#333" stroke="#333" stroke-width="0.22" text-anchor="end" >-4000</text>
<text x="60.3" y="1191.7" font-size="11.6" fill="#333" stroke="#333" stroke-width="0.22" text-anchor="end" >-6000</text>
<text x="53.8" y="1205.3" font-size="11.6" fill="#333" stroke="#333" stroke-width="0.22" text-anchor="end" >5000</text>
<text x="86.5" y="1228.4" font-size="11.6" fill="#333" stroke="#333" stroke-width="0.22" text-anchor="end" >0</text>
<text x="131.7" y="1254.6" font-size="11.6" fill="#333" stroke="#333" stroke-width="0.22" text-anchor="end" >-5000</text>
<text x="169.9" y="1254.6" font-size="11.6" fill="#333" stroke="#333" stroke-width="0.22" text-anchor="end" >-4000</text>
<text x="200.0" y="1244.5" font-size="11.6" fill="#333" stroke="#333" stroke-width="0.22" text-anchor="end" >-2000</text>
<text x="207.0" y="1238.0" font-size="11.6" fill="#333" stroke="#333" stroke-width="0.22" text-anchor="end" >0</text>
<text x="255.3" y="1231.6" font-size="11.6" fill="#333" stroke="#333" stroke-width="0.22" text-anchor="end" >2000</text>
<text x="287.5" y="1224.4" font-size="11.6" fill="#333" stroke="#333" stroke-width="0.22" text-anchor="end" >4000</text>
<text transform="translate(26.2,1115.7) rotate(-90)" font-size="16.5" fill="#333" stroke="#333" stroke-width="0.22" text-anchor="middle">t SNE1</text>
<text transform="translate(63.4,1241.5) rotate(31)" font-size="16.5" fill="#333" stroke="#333" stroke-width="0.22" text-anchor="middle" dy="5">t SNE2</text>
<text transform="translate(226.5,1252.5) rotate(-15)" font-size="16.5" fill="#333" stroke="#333" stroke-width="0.22" text-anchor="middle" dy="5">t SNE3</text>
<circle cx="284" cy="1046.3" r="6.6" fill="#3a8cb9"/><circle cx="284" cy="1067.9" r="6.6" fill="#ee6b5f"/>
<text x="294.0" y="1051.8" font-size="15.6" fill="#333" stroke="#333" stroke-width="0.22" text-anchor="start" >non-POD</text>
<text x="294.0" y="1073.4" font-size="15.6" fill="#333" stroke="#333" stroke-width="0.22" text-anchor="start" >POD</text>
<text x="518.3" y="1016.0" font-size="23.6" fill="#231f20" text-anchor="start" >g</text>
<path d="M567.6,1024.5V1248.3H696.7" fill="none" stroke="#8c8c8c" stroke-width="1"/>
<path d="M567.6,1247.0h3M567.6,1220.9h3M567.6,1194.8h3M567.6,1168.7h3M567.6,1142.6h3M567.6,1116.5h3M567.6,1090.4h3M567.6,1064.3h3M567.6,1038.2h3M615.2,1248.3v-3M668.6,1248.3v-3" stroke="#8c8c8c" stroke-width="0.8"/>
<text x="566.5" y="1246.0" font-size="11.3" fill="#333" stroke="#333" stroke-width="0.22" text-anchor="end" >-8000</text>
<text x="566.5" y="1219.9" font-size="11.3" fill="#333" stroke="#333" stroke-width="0.22" text-anchor="end" >-6000</text>
<text x="566.5" y="1193.8" font-size="11.3" fill="#333" stroke="#333" stroke-width="0.22" text-anchor="end" >-4000</text>
<text x="566.5" y="1167.7" font-size="11.3" fill="#333" stroke="#333" stroke-width="0.22" text-anchor="end" >-2000</text>
<text x="566.5" y="1141.6" font-size="11.3" fill="#333" stroke="#333" stroke-width="0.22" text-anchor="end" >0</text>
<text x="566.5" y="1115.5" font-size="11.3" fill="#333" stroke="#333" stroke-width="0.22" text-anchor="end" >2000</text>
<text x="566.5" y="1089.4" font-size="11.3" fill="#333" stroke="#333" stroke-width="0.22" text-anchor="end" >4000</text>
<text x="566.5" y="1063.3" font-size="11.3" fill="#333" stroke="#333" stroke-width="0.22" text-anchor="end" >6000</text>
<text x="566.5" y="1037.2" font-size="11.3" fill="#333" stroke="#333" stroke-width="0.22" text-anchor="end" >8000</text>
<text x="584.3" y="1268.6" font-size="15.3" fill="#333" stroke="#333" stroke-width="0.22" text-anchor="start" >non-POD</text>
<text x="658.6" y="1268.6" font-size="15.3" fill="#333" stroke="#333" stroke-width="0.22" text-anchor="start" >POD</text>
<text transform="translate(528.6,1131.4) rotate(-90)" font-size="15.1" fill="#333" stroke="#333" stroke-width="0.22" text-anchor="middle">Projection Value</text>
<g fill="#3a8cb9" stroke="#fff" stroke-width="0.6"><circle cx="622.7" cy="1177.9" r="4.9"/><circle cx="613.8" cy="1191.3" r="4.9"/><circle cx="618.2" cy="1217.1" r="4.9"/><circle cx="608.4" cy="1162.9" r="4.9"/><circle cx="617.6" cy="1162.7" r="4.9"/><circle cx="610.5" cy="1168.9" r="4.9"/><circle cx="617.4" cy="1171.8" r="4.9"/><circle cx="610.2" cy="1182.1" r="4.9"/><circle cx="620.6" cy="1182.9" r="4.9"/><circle cx="609.7" cy="1191.3" r="4.9"/><circle cx="608.7" cy="1200.4" r="4.9"/><circle cx="613.8" cy="1203.6" r="4.9"/><circle cx="611.6" cy="1211.5" r="4.9"/><circle cx="608.4" cy="1219.8" r="4.9"/><circle cx="614.2" cy="1217.1" r="4.9"/><circle cx="613.8" cy="1225" r="4.9"/></g>
<g fill="#ee6b5f" stroke="#fff" stroke-width="0.6"><circle cx="674.6" cy="1067.3" r="5.0"/><circle cx="673.3" cy="1077.1" r="5.0"/><circle cx="669.8" cy="1085.7" r="5.0"/><circle cx="671.3" cy="1095.3" r="5.0"/><circle cx="671.1" cy="1102.9" r="5.0"/><circle cx="661.9" cy="1113.5" r="5.0"/><circle cx="667" cy="1064.9" r="5.0"/><circle cx="665" cy="1076.5" r="5.0"/><circle cx="674.8" cy="1085.4" r="5.0"/><circle cx="666.3" cy="1099.9" r="5.0"/><circle cx="673.4" cy="1110.5" r="5.0"/><circle cx="664.2" cy="1110.2" r="5.0"/><circle cx="674.1" cy="1118.8" r="5.0"/><circle cx="662.5" cy="1122.7" r="5.0"/><circle cx="668.8" cy="1123.4" r="5.0"/></g>
<rect x="616.1" y="1047.3" width="51.7" height="2.6" fill="#231f20"/>
<path d="M625.60,1035.00v9.60M621.44,1037.40l8.31,4.80M621.44,1042.20l8.31,-4.80M637.60,1035.00v9.60M633.44,1037.40l8.31,4.80M633.44,1042.20l8.31,-4.80M649.60,1035.00v9.60M645.44,1037.40l8.31,4.80M645.44,1042.20l8.31,-4.80M661.60,1035.00v9.60M657.44,1037.40l8.31,4.80M657.44,1042.20l8.31,-4.80" stroke="#231f20" stroke-width="1.9" fill="none"/>
</svg></body></html>
